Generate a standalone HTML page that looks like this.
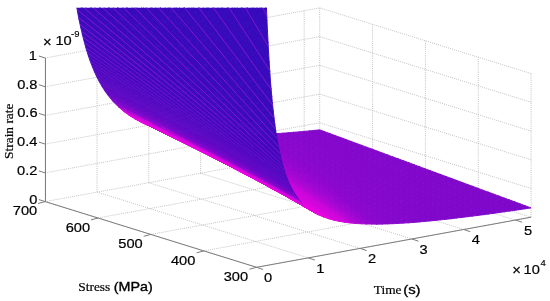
<!DOCTYPE html><html><head><meta charset="utf-8"><style>html,body{margin:0;padding:0;background:#fff;overflow:hidden}svg{display:block}</style></head><body><svg width="550" height="301" viewBox="0 0 550 301"><rect width="550" height="301" fill="#fff"/><defs><clipPath id="cp"><rect x="45.2" y="7.8" width="485.9" height="259.5"/></clipPath></defs><g stroke="#b4b4b4" stroke-width="0.8" stroke-dasharray="1 1.1" fill="none"><line x1="256.6" y1="267.3" x2="45.2" y2="201.6"/><line x1="308.4" y1="257.9" x2="97" y2="192.1"/><line x1="360.2" y1="248.4" x2="148.8" y2="182.7"/><line x1="412" y1="239" x2="200.6" y2="173.2"/><line x1="463.8" y1="229.5" x2="252.4" y2="163.8"/><line x1="515.6" y1="220.1" x2="304.2" y2="154.3"/><line x1="256.6" y1="267.3" x2="531.1" y2="217.2"/><line x1="203.8" y1="250.9" x2="478.3" y2="200.8"/><line x1="150.9" y1="234.4" x2="425.4" y2="184.4"/><line x1="98.1" y1="218" x2="372.6" y2="167.9"/><line x1="45.2" y1="201.6" x2="319.7" y2="151.5"/><line x1="45.2" y1="172.9" x2="319.7" y2="122.8"/><line x1="45.2" y1="144.1" x2="319.7" y2="94.1"/><line x1="45.2" y1="115.4" x2="319.7" y2="65.3"/><line x1="45.2" y1="86.7" x2="319.7" y2="36.6"/><line x1="45.2" y1="58" x2="319.7" y2="7.9"/><line x1="45.2" y1="201.6" x2="45.2" y2="58"/><line x1="97" y1="192.1" x2="97" y2="48.5"/><line x1="148.8" y1="182.7" x2="148.8" y2="39.1"/><line x1="200.6" y1="173.2" x2="200.6" y2="29.6"/><line x1="252.4" y1="163.8" x2="252.4" y2="20.2"/><line x1="304.2" y1="154.3" x2="304.2" y2="10.7"/><line x1="319.7" y1="151.5" x2="531.1" y2="217.2"/><line x1="319.7" y1="122.8" x2="531.1" y2="188.5"/><line x1="319.7" y1="94.1" x2="531.1" y2="159.8"/><line x1="319.7" y1="65.3" x2="531.1" y2="131.1"/><line x1="319.7" y1="36.6" x2="531.1" y2="102.3"/><line x1="319.7" y1="7.9" x2="531.1" y2="73.6"/><line x1="531.1" y1="217.2" x2="531.1" y2="73.6"/><line x1="478.3" y1="200.8" x2="478.3" y2="57.2"/><line x1="425.4" y1="184.4" x2="425.4" y2="40.8"/><line x1="372.6" y1="167.9" x2="372.6" y2="24.3"/><line x1="319.7" y1="151.5" x2="319.7" y2="7.9"/></g><g clip-path="url(#cp)" stroke-width="0.9" stroke-linejoin="round"><polygon points="319.7,132.3 325,131.8 319.7,129.8 314.4,130.4" fill="#8508cc" stroke="#8508cc"/><polygon points="325,134.3 330.3,133.7 325,131.8 319.7,132.3" fill="#8508cc" stroke="#8508cc"/><polygon points="314.4,132.8 319.7,132.3 314.4,130.4 309.1,130.9" fill="#8508cc" stroke="#8508cc"/><polygon points="330.3,136.2 335.6,135.7 330.3,133.7 325,134.3" fill="#8408cc" stroke="#8408cc"/><polygon points="319.7,134.8 325,134.3 319.7,132.3 314.4,132.8" fill="#8508cc" stroke="#8508cc"/><polygon points="309.1,133.4 314.4,132.8 309.1,130.9 303.8,131.4" fill="#8608cc" stroke="#8608cc"/><polygon points="335.6,138.2 340.9,137.6 335.6,135.7 330.3,136.2" fill="#8408cc" stroke="#8408cc"/><polygon points="325,136.8 330.3,136.2 325,134.3 319.7,134.8" fill="#8508cc" stroke="#8508cc"/><polygon points="314.4,135.3 319.7,134.8 314.4,132.8 309.1,133.4" fill="#8508cc" stroke="#8508cc"/><polygon points="303.8,133.9 309.1,133.4 303.8,131.4 298.5,131.9" fill="#8608cc" stroke="#8608cc"/><polygon points="340.9,140.2 346.2,139.6 340.9,137.6 335.6,138.2" fill="#8408cc" stroke="#8408cc"/><polygon points="330.3,138.7 335.6,138.2 330.3,136.2 325,136.8" fill="#8508cc" stroke="#8508cc"/><polygon points="319.7,137.3 325,136.8 319.7,134.8 314.4,135.3" fill="#8508cc" stroke="#8508cc"/><polygon points="309.1,135.8 314.4,135.3 309.1,133.4 303.8,133.9" fill="#8608cc" stroke="#8608cc"/><polygon points="298.5,134.3 303.8,133.9 298.5,131.9 293.2,132.3" fill="#8708cd" stroke="#8708cd"/><polygon points="346.1,142.1 351.4,141.5 346.2,139.6 340.9,140.2" fill="#8408cc" stroke="#8408cc"/><polygon points="335.5,140.7 340.9,140.2 335.6,138.2 330.3,138.7" fill="#8408cc" stroke="#8408cc"/><polygon points="325,139.3 330.3,138.7 325,136.8 319.7,137.3" fill="#8508cc" stroke="#8508cc"/><polygon points="314.4,137.8 319.7,137.3 314.4,135.3 309.1,135.8" fill="#8608cc" stroke="#8608cc"/><polygon points="303.8,136.3 309.1,135.8 303.8,133.9 298.5,134.3" fill="#8608cd" stroke="#8608cd"/><polygon points="293.2,134.8 298.5,134.3 293.2,132.3 287.9,132.8" fill="#8708cd" stroke="#8708cd"/><polygon points="351.4,144.1 356.7,143.5 351.4,141.5 346.1,142.1" fill="#8408cc" stroke="#8408cc"/><polygon points="340.8,142.7 346.1,142.1 340.9,140.2 335.5,140.7" fill="#8408cc" stroke="#8408cc"/><polygon points="330.2,141.2 335.5,140.7 330.3,138.7 325,139.3" fill="#8508cc" stroke="#8508cc"/><polygon points="319.6,139.8 325,139.3 319.7,137.3 314.4,137.8" fill="#8508cc" stroke="#8508cc"/><polygon points="309,138.3 314.4,137.8 309.1,135.8 303.8,136.3" fill="#8608cc" stroke="#8608cc"/><polygon points="298.5,136.8 303.8,136.3 298.5,134.3 293.2,134.8" fill="#8708cd" stroke="#8708cd"/><polygon points="287.9,135.2 293.2,134.8 287.9,132.8 282.6,133.2" fill="#8808cd" stroke="#8808cd"/><polygon points="356.7,146 362,145.4 356.7,143.5 351.4,144.1" fill="#8308cc" stroke="#8308cc"/><polygon points="346.1,144.6 351.4,144.1 346.1,142.1 340.8,142.7" fill="#8408cc" stroke="#8408cc"/><polygon points="335.5,143.2 340.8,142.7 335.5,140.7 330.2,141.2" fill="#8408cc" stroke="#8408cc"/><polygon points="324.9,141.8 330.2,141.2 325,139.3 319.6,139.8" fill="#8508cc" stroke="#8508cc"/><polygon points="314.3,140.3 319.6,139.8 314.4,137.8 309,138.3" fill="#8608cc" stroke="#8608cc"/><polygon points="303.7,138.8 309,138.3 303.8,136.3 298.5,136.8" fill="#8708cd" stroke="#8708cd"/><polygon points="293.1,137.2 298.5,136.8 293.2,134.8 287.9,135.2" fill="#8708cd" stroke="#8708cd"/><polygon points="282.5,135.6 287.9,135.2 282.6,133.2 277.3,133.6" fill="#8808cd" stroke="#8808cd"/><polygon points="362,148 367.3,147.4 362,145.4 356.7,146" fill="#8308cc" stroke="#8308cc"/><polygon points="351.4,146.6 356.7,146 351.4,144.1 346.1,144.6" fill="#8408cc" stroke="#8408cc"/><polygon points="340.8,145.2 346.1,144.6 340.8,142.7 335.5,143.2" fill="#8408cc" stroke="#8408cc"/><polygon points="330.2,143.7 335.5,143.2 330.2,141.2 324.9,141.8" fill="#8508cc" stroke="#8508cc"/><polygon points="319.6,142.3 324.9,141.8 319.6,139.8 314.3,140.3" fill="#8608cc" stroke="#8608cc"/><polygon points="309,140.8 314.3,140.3 309,138.3 303.7,138.8" fill="#8608cd" stroke="#8608cd"/><polygon points="298.4,139.2 303.7,138.8 298.5,136.8 293.1,137.2" fill="#8708cd" stroke="#8708cd"/><polygon points="287.8,137.6 293.1,137.2 287.9,135.2 282.5,135.6" fill="#8808cd" stroke="#8808cd"/><polygon points="277.2,136 282.5,135.6 277.3,133.6 272,134" fill="#8908cd" stroke="#8908cd"/><polygon points="367.3,149.9 372.6,149.3 367.3,147.4 362,148" fill="#8308cc" stroke="#8308cc"/><polygon points="356.7,148.6 362,148 356.7,146 351.4,146.6" fill="#8308cc" stroke="#8308cc"/><polygon points="346.1,147.2 351.4,146.6 346.1,144.6 340.8,145.2" fill="#8408cc" stroke="#8408cc"/><polygon points="335.5,145.7 340.8,145.2 335.5,143.2 330.2,143.7" fill="#8508cc" stroke="#8508cc"/><polygon points="324.9,144.3 330.2,143.7 324.9,141.8 319.6,142.3" fill="#8508cc" stroke="#8508cc"/><polygon points="314.3,142.8 319.6,142.3 314.3,140.3 309,140.8" fill="#8608cc" stroke="#8608cc"/><polygon points="303.7,141.2 309,140.8 303.7,138.8 298.4,139.2" fill="#8708cd" stroke="#8708cd"/><polygon points="293.1,139.6 298.4,139.2 293.1,137.2 287.8,137.6" fill="#8808cd" stroke="#8808cd"/><polygon points="282.5,138 287.8,137.6 282.5,135.6 277.2,136" fill="#8908cd" stroke="#8908cd"/><polygon points="271.9,136.3 277.2,136 272,134 266.6,134.3" fill="#8a08cd" stroke="#8a08cd"/><polygon points="372.6,151.9 377.9,151.3 372.6,149.3 367.3,149.9" fill="#8308cc" stroke="#8308cc"/><polygon points="362,150.5 367.3,149.9 362,148 356.7,148.6" fill="#8308cc" stroke="#8308cc"/><polygon points="351.4,149.1 356.7,148.6 351.4,146.6 346.1,147.2" fill="#8408cc" stroke="#8408cc"/><polygon points="340.8,147.7 346.1,147.2 340.8,145.2 335.5,145.7" fill="#8408cc" stroke="#8408cc"/><polygon points="330.2,146.2 335.5,145.7 330.2,143.7 324.9,144.3" fill="#8508cc" stroke="#8508cc"/><polygon points="319.6,144.7 324.9,144.3 319.6,142.3 314.3,142.8" fill="#8608cc" stroke="#8608cc"/><polygon points="309,143.2 314.3,142.8 309,140.8 303.7,141.2" fill="#8708cd" stroke="#8708cd"/><polygon points="298.4,141.6 303.7,141.2 298.4,139.2 293.1,139.6" fill="#8708cd" stroke="#8708cd"/><polygon points="287.8,140 293.1,139.6 287.8,137.6 282.5,138" fill="#8808cd" stroke="#8808cd"/><polygon points="277.2,138.4 282.5,138 277.2,136 271.9,136.3" fill="#8908cd" stroke="#8908cd"/><polygon points="266.6,136.7 271.9,136.3 266.6,134.3 261.3,134.6" fill="#8b08cd" stroke="#8b08cd"/><polygon points="377.9,153.9 383.2,153.3 377.9,151.3 372.6,151.9" fill="#8308cc" stroke="#8308cc"/><polygon points="367.3,152.5 372.6,151.9 367.3,149.9 362,150.5" fill="#8308cc" stroke="#8308cc"/><polygon points="356.7,151.1 362,150.5 356.7,148.6 351.4,149.1" fill="#8408cc" stroke="#8408cc"/><polygon points="346.1,149.7 351.4,149.1 346.1,147.2 340.8,147.7" fill="#8408cc" stroke="#8408cc"/><polygon points="335.5,148.2 340.8,147.7 335.5,145.7 330.2,146.2" fill="#8508cc" stroke="#8508cc"/><polygon points="324.9,146.7 330.2,146.2 324.9,144.3 319.6,144.7" fill="#8508cc" stroke="#8508cc"/><polygon points="314.3,145.2 319.6,144.7 314.3,142.8 309,143.2" fill="#8608cd" stroke="#8608cd"/><polygon points="303.7,143.6 309,143.2 303.7,141.2 298.4,141.6" fill="#8708cd" stroke="#8708cd"/><polygon points="293.1,142 298.4,141.6 293.1,139.6 287.8,140" fill="#8808cd" stroke="#8808cd"/><polygon points="282.5,140.4 287.8,140 282.5,138 277.2,138.4" fill="#8908cd" stroke="#8908cd"/><polygon points="271.9,138.7 277.2,138.4 271.9,136.3 266.6,136.7" fill="#8a08cd" stroke="#8a08cd"/><polygon points="261.3,136.9 266.6,136.7 261.3,134.6 256,134.9" fill="#8c07ce" stroke="#8c07ce"/><polygon points="383.1,155.8 388.4,155.2 383.2,153.3 377.9,153.9" fill="#8208cc" stroke="#8208cc"/><polygon points="372.5,154.5 377.9,153.9 372.6,151.9 367.3,152.5" fill="#8308cc" stroke="#8308cc"/><polygon points="361.9,153.1 367.3,152.5 362,150.5 356.7,151.1" fill="#8308cc" stroke="#8308cc"/><polygon points="351.4,151.7 356.7,151.1 351.4,149.1 346.1,149.7" fill="#8408cc" stroke="#8408cc"/><polygon points="340.8,150.2 346.1,149.7 340.8,147.7 335.5,148.2" fill="#8508cc" stroke="#8508cc"/><polygon points="330.2,148.7 335.5,148.2 330.2,146.2 324.9,146.7" fill="#8508cc" stroke="#8508cc"/><polygon points="319.6,147.2 324.9,146.7 319.6,144.7 314.3,145.2" fill="#8608cc" stroke="#8608cc"/><polygon points="309,145.7 314.3,145.2 309,143.2 303.7,143.6" fill="#8708cd" stroke="#8708cd"/><polygon points="298.4,144.1 303.7,143.6 298.4,141.6 293.1,142" fill="#8808cd" stroke="#8808cd"/><polygon points="287.8,142.4 293.1,142 287.8,140 282.5,140.4" fill="#8908cd" stroke="#8908cd"/><polygon points="277.2,140.7 282.5,140.4 277.2,138.4 271.9,138.7" fill="#8a08cd" stroke="#8a08cd"/><polygon points="266.6,139 271.9,138.7 266.6,136.7 261.3,136.9" fill="#8b07ce" stroke="#8b07ce"/><polygon points="256,137.2 261.3,136.9 256,134.9 250.7,135.1" fill="#8f07ce" stroke="#8f07ce"/><polygon points="388.4,157.8 393.7,157.2 388.4,155.2 383.1,155.8" fill="#8208cc" stroke="#8208cc"/><polygon points="377.8,156.4 383.1,155.8 377.9,153.9 372.5,154.5" fill="#8308cc" stroke="#8308cc"/><polygon points="367.2,155.1 372.5,154.5 367.3,152.5 361.9,153.1" fill="#8308cc" stroke="#8308cc"/><polygon points="356.6,153.6 361.9,153.1 356.7,151.1 351.4,151.7" fill="#8408cc" stroke="#8408cc"/><polygon points="346,152.2 351.4,151.7 346.1,149.7 340.8,150.2" fill="#8408cc" stroke="#8408cc"/><polygon points="335.4,150.7 340.8,150.2 335.5,148.2 330.2,148.7" fill="#8508cc" stroke="#8508cc"/><polygon points="324.9,149.2 330.2,148.7 324.9,146.7 319.6,147.2" fill="#8608cc" stroke="#8608cc"/><polygon points="314.3,147.7 319.6,147.2 314.3,145.2 309,145.7" fill="#8708cd" stroke="#8708cd"/><polygon points="303.7,146.1 309,145.7 303.7,143.6 298.4,144.1" fill="#8708cd" stroke="#8708cd"/><polygon points="293.1,144.4 298.4,144.1 293.1,142 287.8,142.4" fill="#8808cd" stroke="#8808cd"/><polygon points="282.5,142.8 287.8,142.4 282.5,140.4 277.2,140.7" fill="#8a08cd" stroke="#8a08cd"/><polygon points="271.9,141 277.2,140.7 271.9,138.7 266.6,139" fill="#8b08cd" stroke="#8b08cd"/><polygon points="261.3,139.2 266.6,139 261.3,136.9 256,137.2" fill="#8e07ce" stroke="#8e07ce"/><polygon points="250.7,137.4 256,137.2 250.7,135.1 245.4,135.3" fill="#9307cf" stroke="#9307cf"/><polygon points="393.7,159.7 399,159.1 393.7,157.2 388.4,157.8" fill="#8208cc" stroke="#8208cc"/><polygon points="383.1,158.4 388.4,157.8 383.1,155.8 377.8,156.4" fill="#8208cc" stroke="#8208cc"/><polygon points="372.5,157 377.8,156.4 372.5,154.5 367.2,155.1" fill="#8308cc" stroke="#8308cc"/><polygon points="361.9,155.6 367.2,155.1 361.9,153.1 356.6,153.6" fill="#8308cc" stroke="#8308cc"/><polygon points="351.3,154.2 356.6,153.6 351.4,151.7 346,152.2" fill="#8408cc" stroke="#8408cc"/><polygon points="340.7,152.7 346,152.2 340.8,150.2 335.4,150.7" fill="#8508cc" stroke="#8508cc"/><polygon points="330.1,151.2 335.4,150.7 330.2,148.7 324.9,149.2" fill="#8508cc" stroke="#8508cc"/><polygon points="319.5,149.7 324.9,149.2 319.6,147.2 314.3,147.7" fill="#8608cd" stroke="#8608cd"/><polygon points="308.9,148.1 314.3,147.7 309,145.7 303.7,146.1" fill="#8708cd" stroke="#8708cd"/><polygon points="298.4,146.5 303.7,146.1 298.4,144.1 293.1,144.4" fill="#8808cd" stroke="#8808cd"/><polygon points="287.8,144.8 293.1,144.4 287.8,142.4 282.5,142.8" fill="#8908cd" stroke="#8908cd"/><polygon points="277.2,143.1 282.5,142.8 277.2,140.7 271.9,141" fill="#8a08cd" stroke="#8a08cd"/><polygon points="266.6,141.3 271.9,141 266.6,139 261.3,139.2" fill="#8d07ce" stroke="#8d07ce"/><polygon points="256,139.5 261.3,139.2 256,137.2 250.7,137.4" fill="#9107cf" stroke="#9107cf"/><polygon points="245.4,137.6 250.7,137.4 245.4,135.3 240.1,135.5" fill="#9607d0" stroke="#9607d0"/><polygon points="399,161.7 404.3,161.1 399,159.1 393.7,159.7" fill="#8208cc" stroke="#8208cc"/><polygon points="388.4,160.4 393.7,159.7 388.4,157.8 383.1,158.4" fill="#8208cc" stroke="#8208cc"/><polygon points="377.8,159 383.1,158.4 377.8,156.4 372.5,157" fill="#8308cc" stroke="#8308cc"/><polygon points="367.2,157.6 372.5,157 367.2,155.1 361.9,155.6" fill="#8308cc" stroke="#8308cc"/><polygon points="356.6,156.2 361.9,155.6 356.6,153.6 351.3,154.2" fill="#8408cc" stroke="#8408cc"/><polygon points="346,154.7 351.3,154.2 346,152.2 340.7,152.7" fill="#8408cc" stroke="#8408cc"/><polygon points="335.4,153.2 340.7,152.7 335.4,150.7 330.1,151.2" fill="#8508cc" stroke="#8508cc"/><polygon points="324.8,151.7 330.1,151.2 324.9,149.2 319.5,149.7" fill="#8608cc" stroke="#8608cc"/><polygon points="314.2,150.1 319.5,149.7 314.3,147.7 308.9,148.1" fill="#8708cd" stroke="#8708cd"/><polygon points="303.6,148.5 308.9,148.1 303.7,146.1 298.4,146.5" fill="#8808cd" stroke="#8808cd"/><polygon points="293,146.8 298.4,146.5 293.1,144.4 287.8,144.8" fill="#8908cd" stroke="#8908cd"/><polygon points="282.5,145.1 287.8,144.8 282.5,142.8 277.2,143.1" fill="#8a08cd" stroke="#8a08cd"/><polygon points="271.9,143.4 277.2,143.1 271.9,141 266.6,141.3" fill="#8c07ce" stroke="#8c07ce"/><polygon points="261.3,141.5 266.6,141.3 261.3,139.2 256,139.5" fill="#9007cf" stroke="#9007cf"/><polygon points="250.7,139.6 256,139.5 250.7,137.4 245.4,137.6" fill="#9507d0" stroke="#9507d0"/><polygon points="240.1,137.7 245.4,137.6 240.1,135.5 234.8,135.6" fill="#9b07d1" stroke="#9b07d1"/><polygon points="404.3,163.7 409.6,163 404.3,161.1 399,161.7" fill="#8208cc" stroke="#8208cc"/><polygon points="393.7,162.3 399,161.7 393.7,159.7 388.4,160.4" fill="#8208cc" stroke="#8208cc"/><polygon points="383.1,161 388.4,160.4 383.1,158.4 377.8,159" fill="#8308cc" stroke="#8308cc"/><polygon points="372.5,159.6 377.8,159 372.5,157 367.2,157.6" fill="#8308cc" stroke="#8308cc"/><polygon points="361.9,158.2 367.2,157.6 361.9,155.6 356.6,156.2" fill="#8408cc" stroke="#8408cc"/><polygon points="351.3,156.7 356.6,156.2 351.3,154.2 346,154.7" fill="#8408cc" stroke="#8408cc"/><polygon points="340.7,155.2 346,154.7 340.7,152.7 335.4,153.2" fill="#8508cc" stroke="#8508cc"/><polygon points="330.1,153.7 335.4,153.2 330.1,151.2 324.8,151.7" fill="#8608cc" stroke="#8608cc"/><polygon points="319.5,152.1 324.8,151.7 319.5,149.7 314.2,150.1" fill="#8708cd" stroke="#8708cd"/><polygon points="308.9,150.5 314.2,150.1 308.9,148.1 303.6,148.5" fill="#8708cd" stroke="#8708cd"/><polygon points="298.3,148.9 303.6,148.5 298.4,146.5 293,146.8" fill="#8808cd" stroke="#8808cd"/><polygon points="287.7,147.2 293,146.8 287.8,144.8 282.5,145.1" fill="#8a08cd" stroke="#8a08cd"/><polygon points="277.1,145.4 282.5,145.1 277.2,143.1 271.9,143.4" fill="#8b08cd" stroke="#8b08cd"/><polygon points="266.5,143.6 271.9,143.4 266.6,141.3 261.3,141.5" fill="#8f07ce" stroke="#8f07ce"/><polygon points="256,141.7 261.3,141.5 256,139.5 250.7,139.6" fill="#9407cf" stroke="#9407cf"/><polygon points="245.4,139.8 250.7,139.6 245.4,137.6 240.1,137.7" fill="#9907d0" stroke="#9907d0"/><polygon points="234.8,137.8 240.1,137.7 234.8,135.6 229.5,135.7" fill="#9f07d2" stroke="#9f07d2"/><polygon points="409.6,165.6 414.9,165 409.6,163 404.3,163.7" fill="#8108cb" stroke="#8108cb"/><polygon points="399,164.3 404.3,163.7 399,161.7 393.7,162.3" fill="#8208cc" stroke="#8208cc"/><polygon points="388.4,162.9 393.7,162.3 388.4,160.4 383.1,161" fill="#8208cc" stroke="#8208cc"/><polygon points="377.8,161.6 383.1,161 377.8,159 372.5,159.6" fill="#8308cc" stroke="#8308cc"/><polygon points="367.2,160.1 372.5,159.6 367.2,157.6 361.9,158.2" fill="#8308cc" stroke="#8308cc"/><polygon points="356.6,158.7 361.9,158.2 356.6,156.2 351.3,156.7" fill="#8408cc" stroke="#8408cc"/><polygon points="346,157.2 351.3,156.7 346,154.7 340.7,155.2" fill="#8508cc" stroke="#8508cc"/><polygon points="335.4,155.7 340.7,155.2 335.4,153.2 330.1,153.7" fill="#8508cc" stroke="#8508cc"/><polygon points="324.8,154.1 330.1,153.7 324.8,151.7 319.5,152.1" fill="#8608cc" stroke="#8608cc"/><polygon points="314.2,152.6 319.5,152.1 314.2,150.1 308.9,150.5" fill="#8708cd" stroke="#8708cd"/><polygon points="303.6,150.9 308.9,150.5 303.6,148.5 298.3,148.9" fill="#8808cd" stroke="#8808cd"/><polygon points="293,149.2 298.3,148.9 293,146.8 287.7,147.2" fill="#8908cd" stroke="#8908cd"/><polygon points="282.4,147.5 287.7,147.2 282.5,145.1 277.1,145.4" fill="#8b08cd" stroke="#8b08cd"/><polygon points="271.8,145.7 277.1,145.4 271.9,143.4 266.5,143.6" fill="#8e07ce" stroke="#8e07ce"/><polygon points="261.2,143.8 266.5,143.6 261.3,141.5 256,141.7" fill="#9207cf" stroke="#9207cf"/><polygon points="250.6,141.9 256,141.7 250.7,139.6 245.4,139.8" fill="#9807d0" stroke="#9807d0"/><polygon points="240,139.9 245.4,139.8 240.1,137.7 234.8,137.8" fill="#9e07d1" stroke="#9e07d1"/><polygon points="229.5,137.8 234.8,137.8 229.5,135.7 224.2,135.7" fill="#a507d3" stroke="#a507d3"/><polygon points="414.8,167.6 420.2,166.9 414.9,165 409.6,165.6" fill="#8108cb" stroke="#8108cb"/><polygon points="404.3,166.3 409.6,165.6 404.3,163.7 399,164.3" fill="#8208cc" stroke="#8208cc"/><polygon points="393.7,164.9 399,164.3 393.7,162.3 388.4,162.9" fill="#8208cc" stroke="#8208cc"/><polygon points="383.1,163.5 388.4,162.9 383.1,161 377.8,161.6" fill="#8308cc" stroke="#8308cc"/><polygon points="372.5,162.1 377.8,161.6 372.5,159.6 367.2,160.1" fill="#8308cc" stroke="#8308cc"/><polygon points="361.9,160.7 367.2,160.1 361.9,158.2 356.6,158.7" fill="#8408cc" stroke="#8408cc"/><polygon points="351.3,159.2 356.6,158.7 351.3,156.7 346,157.2" fill="#8408cc" stroke="#8408cc"/><polygon points="340.7,157.7 346,157.2 340.7,155.2 335.4,155.7" fill="#8508cc" stroke="#8508cc"/><polygon points="330.1,156.2 335.4,155.7 330.1,153.7 324.8,154.1" fill="#8608cc" stroke="#8608cc"/><polygon points="319.5,154.6 324.8,154.1 319.5,152.1 314.2,152.6" fill="#8708cd" stroke="#8708cd"/><polygon points="308.9,152.9 314.2,152.6 308.9,150.5 303.6,150.9" fill="#8808cd" stroke="#8808cd"/><polygon points="298.3,151.3 303.6,150.9 298.3,148.9 293,149.2" fill="#8908cd" stroke="#8908cd"/><polygon points="287.7,149.5 293,149.2 287.7,147.2 282.4,147.5" fill="#8a08cd" stroke="#8a08cd"/><polygon points="277.1,147.7 282.4,147.5 277.1,145.4 271.8,145.7" fill="#8d07ce" stroke="#8d07ce"/><polygon points="266.5,145.9 271.8,145.7 266.5,143.6 261.2,143.8" fill="#9107cf" stroke="#9107cf"/><polygon points="255.9,144 261.2,143.8 256,141.7 250.6,141.9" fill="#9607d0" stroke="#9607d0"/><polygon points="245.3,142 250.6,141.9 245.4,139.8 240,139.9" fill="#9c07d1" stroke="#9c07d1"/><polygon points="234.7,139.9 240,139.9 234.8,137.8 229.5,137.8" fill="#a307d2" stroke="#a307d2"/><polygon points="420.1,169.5 425.4,168.9 420.2,166.9 414.8,167.6" fill="#8108cb" stroke="#8108cb"/><polygon points="224.1,137.8 229.5,137.8 224.2,135.7 218.9,135.6" fill="#ab07d4" stroke="#ab07d4"/><polygon points="409.5,168.2 414.8,167.6 409.6,165.6 404.3,166.3" fill="#8108cb" stroke="#8108cb"/><polygon points="398.9,166.9 404.3,166.3 399,164.3 393.7,164.9" fill="#8208cc" stroke="#8208cc"/><polygon points="388.3,165.5 393.7,164.9 388.4,162.9 383.1,163.5" fill="#8208cc" stroke="#8208cc"/><polygon points="377.8,164.1 383.1,163.5 377.8,161.6 372.5,162.1" fill="#8308cc" stroke="#8308cc"/><polygon points="367.2,162.7 372.5,162.1 367.2,160.1 361.9,160.7" fill="#8408cc" stroke="#8408cc"/><polygon points="356.6,161.2 361.9,160.7 356.6,158.7 351.3,159.2" fill="#8408cc" stroke="#8408cc"/><polygon points="346,159.7 351.3,159.2 346,157.2 340.7,157.7" fill="#8508cc" stroke="#8508cc"/><polygon points="335.4,158.2 340.7,157.7 335.4,155.7 330.1,156.2" fill="#8608cc" stroke="#8608cc"/><polygon points="324.8,156.6 330.1,156.2 324.8,154.1 319.5,154.6" fill="#8708cd" stroke="#8708cd"/><polygon points="314.2,155 319.5,154.6 314.2,152.6 308.9,152.9" fill="#8708cd" stroke="#8708cd"/><polygon points="303.6,153.3 308.9,152.9 303.6,150.9 298.3,151.3" fill="#8908cd" stroke="#8908cd"/><polygon points="293,151.6 298.3,151.3 293,149.2 287.7,149.5" fill="#8a08cd" stroke="#8a08cd"/><polygon points="282.4,149.8 287.7,149.5 282.4,147.5 277.1,147.7" fill="#8b07ce" stroke="#8b07ce"/><polygon points="271.8,148 277.1,147.7 271.8,145.7 266.5,145.9" fill="#9007ce" stroke="#9007ce"/><polygon points="261.2,146.1 266.5,145.9 261.2,143.8 255.9,144" fill="#9507d0" stroke="#9507d0"/><polygon points="250.6,144.1 255.9,144 250.6,141.9 245.3,142" fill="#9a07d1" stroke="#9a07d1"/><polygon points="240,142 245.3,142 240,139.9 234.7,139.9" fill="#a107d2" stroke="#a107d2"/><polygon points="425.4,171.5 430.7,170.8 425.4,168.9 420.1,169.5" fill="#8108cb" stroke="#8108cb"/><polygon points="229.4,139.9 234.7,139.9 229.5,137.8 224.1,137.8" fill="#a907d4" stroke="#a907d4"/><polygon points="414.8,170.2 420.1,169.5 414.8,167.6 409.5,168.2" fill="#8108cb" stroke="#8108cb"/><polygon points="404.2,168.9 409.5,168.2 404.3,166.3 398.9,166.9" fill="#8208cc" stroke="#8208cc"/><polygon points="218.8,137.7 224.1,137.8 218.9,135.6 213.6,135.5" fill="#b106d6" stroke="#b106d6"/><polygon points="393.6,167.5 398.9,166.9 393.7,164.9 388.3,165.5" fill="#8208cc" stroke="#8208cc"/><polygon points="383,166.1 388.3,165.5 383.1,163.5 377.8,164.1" fill="#8308cc" stroke="#8308cc"/><polygon points="372.4,164.7 377.8,164.1 372.5,162.1 367.2,162.7" fill="#8308cc" stroke="#8308cc"/><polygon points="361.8,163.2 367.2,162.7 361.9,160.7 356.6,161.2" fill="#8408cc" stroke="#8408cc"/><polygon points="351.3,161.7 356.6,161.2 351.3,159.2 346,159.7" fill="#8508cc" stroke="#8508cc"/><polygon points="340.7,160.2 346,159.7 340.7,157.7 335.4,158.2" fill="#8508cc" stroke="#8508cc"/><polygon points="330.1,158.6 335.4,158.2 330.1,156.2 324.8,156.6" fill="#8608cc" stroke="#8608cc"/><polygon points="319.5,157 324.8,156.6 319.5,154.6 314.2,155" fill="#8708cd" stroke="#8708cd"/><polygon points="308.9,155.4 314.2,155 308.9,152.9 303.6,153.3" fill="#8808cd" stroke="#8808cd"/><polygon points="298.3,153.6 303.6,153.3 298.3,151.3 293,151.6" fill="#8908cd" stroke="#8908cd"/><polygon points="287.7,151.9 293,151.6 287.7,149.5 282.4,149.8" fill="#8b08cd" stroke="#8b08cd"/><polygon points="277.1,150 282.4,149.8 277.1,147.7 271.8,148" fill="#8e07ce" stroke="#8e07ce"/><polygon points="266.5,148.2 271.8,148 266.5,145.9 261.2,146.1" fill="#9307cf" stroke="#9307cf"/><polygon points="255.9,146.2 261.2,146.1 255.9,144 250.6,144.1" fill="#9907d0" stroke="#9907d0"/><polygon points="245.3,144.2 250.6,144.1 245.3,142 240,142" fill="#9f07d2" stroke="#9f07d2"/><polygon points="430.7,173.5 436,172.8 430.7,170.8 425.4,171.5" fill="#8108cb" stroke="#8108cb"/><polygon points="234.7,142 240,142 234.7,139.9 229.4,139.9" fill="#a707d3" stroke="#a707d3"/><polygon points="420.1,172.2 425.4,171.5 420.1,169.5 414.8,170.2" fill="#8108cb" stroke="#8108cb"/><polygon points="409.5,170.8 414.8,170.2 409.5,168.2 404.2,168.9" fill="#8108cc" stroke="#8108cc"/><polygon points="224.1,139.8 229.4,139.9 224.1,137.8 218.8,137.7" fill="#af07d5" stroke="#af07d5"/><polygon points="398.9,169.5 404.2,168.9 398.9,166.9 393.6,167.5" fill="#8208cc" stroke="#8208cc"/><polygon points="213.5,137.5 218.8,137.7 213.6,135.5 208.2,135.3" fill="#b906d7" stroke="#b906d7"/><polygon points="388.3,168.1 393.6,167.5 388.3,165.5 383,166.1" fill="#8208cc" stroke="#8208cc"/><polygon points="377.7,166.7 383,166.1 377.8,164.1 372.4,164.7" fill="#8308cc" stroke="#8308cc"/><polygon points="367.1,165.2 372.4,164.7 367.2,162.7 361.8,163.2" fill="#8408cc" stroke="#8408cc"/><polygon points="356.5,163.7 361.8,163.2 356.6,161.2 351.3,161.7" fill="#8408cc" stroke="#8408cc"/><polygon points="345.9,162.2 351.3,161.7 346,159.7 340.7,160.2" fill="#8508cc" stroke="#8508cc"/><polygon points="335.3,160.7 340.7,160.2 335.4,158.2 330.1,158.6" fill="#8608cc" stroke="#8608cc"/><polygon points="324.8,159.1 330.1,158.6 324.8,156.6 319.5,157" fill="#8708cd" stroke="#8708cd"/><polygon points="314.2,157.4 319.5,157 314.2,155 308.9,155.4" fill="#8808cd" stroke="#8808cd"/><polygon points="303.6,155.7 308.9,155.4 303.6,153.3 298.3,153.6" fill="#8908cd" stroke="#8908cd"/><polygon points="293,153.9 298.3,153.6 293,151.6 287.7,151.9" fill="#8a08cd" stroke="#8a08cd"/><polygon points="282.4,152.1 287.7,151.9 282.4,149.8 277.1,150" fill="#8d07ce" stroke="#8d07ce"/><polygon points="271.8,150.2 277.1,150 271.8,148 266.5,148.2" fill="#9207cf" stroke="#9207cf"/><polygon points="261.2,148.3 266.5,148.2 261.2,146.1 255.9,146.2" fill="#9707d0" stroke="#9707d0"/><polygon points="250.6,146.3 255.9,146.2 250.6,144.1 245.3,144.2" fill="#9e07d1" stroke="#9e07d1"/><polygon points="436,175.4 441.3,174.7 436,172.8 430.7,173.5" fill="#8008cb" stroke="#8008cb"/><polygon points="240,144.2 245.3,144.2 240,142 234.7,142" fill="#a507d3" stroke="#a507d3"/><polygon points="425.4,174.1 430.7,173.5 425.4,171.5 420.1,172.2" fill="#8108cb" stroke="#8108cb"/><polygon points="414.8,172.8 420.1,172.2 414.8,170.2 409.5,170.8" fill="#8108cb" stroke="#8108cb"/><polygon points="229.4,142 234.7,142 229.4,139.9 224.1,139.8" fill="#ad07d5" stroke="#ad07d5"/><polygon points="404.2,171.4 409.5,170.8 404.2,168.9 398.9,169.5" fill="#8208cc" stroke="#8208cc"/><polygon points="218.8,139.7 224.1,139.8 218.8,137.7 213.5,137.5" fill="#b706d7" stroke="#b706d7"/><polygon points="393.6,170.1 398.9,169.5 393.6,167.5 388.3,168.1" fill="#8208cc" stroke="#8208cc"/><polygon points="208.2,137.3 213.5,137.5 208.2,135.3 202.9,135.1" fill="#c306d9" stroke="#c306d9"/><polygon points="383,168.7 388.3,168.1 383,166.1 377.7,166.7" fill="#8308cc" stroke="#8308cc"/><polygon points="372.4,167.2 377.7,166.7 372.4,164.7 367.1,165.2" fill="#8308cc" stroke="#8308cc"/><polygon points="361.8,165.8 367.1,165.2 361.8,163.2 356.5,163.7" fill="#8408cc" stroke="#8408cc"/><polygon points="351.2,164.2 356.5,163.7 351.3,161.7 345.9,162.2" fill="#8508cc" stroke="#8508cc"/><polygon points="340.6,162.7 345.9,162.2 340.7,160.2 335.3,160.7" fill="#8608cc" stroke="#8608cc"/><polygon points="330,161.1 335.3,160.7 330.1,158.6 324.8,159.1" fill="#8608cd" stroke="#8608cd"/><polygon points="319.4,159.4 324.8,159.1 319.5,157 314.2,157.4" fill="#8708cd" stroke="#8708cd"/><polygon points="308.9,157.8 314.2,157.4 308.9,155.4 303.6,155.7" fill="#8908cd" stroke="#8908cd"/><polygon points="298.3,156 303.6,155.7 298.3,153.6 293,153.9" fill="#8a08cd" stroke="#8a08cd"/><polygon points="287.7,154.2 293,153.9 287.7,151.9 282.4,152.1" fill="#8c07ce" stroke="#8c07ce"/><polygon points="277.1,152.3 282.4,152.1 277.1,150 271.8,150.2" fill="#9007cf" stroke="#9007cf"/><polygon points="266.5,150.4 271.8,150.2 266.5,148.2 261.2,148.3" fill="#9607d0" stroke="#9607d0"/><polygon points="255.9,148.4 261.2,148.3 255.9,146.2 250.6,146.3" fill="#9c07d1" stroke="#9c07d1"/><polygon points="441.3,177.4 446.6,176.7 441.3,174.7 436,175.4" fill="#8008cb" stroke="#8008cb"/><polygon points="245.3,146.3 250.6,146.3 245.3,144.2 240,144.2" fill="#a307d3" stroke="#a307d3"/><polygon points="430.7,176.1 436,175.4 430.7,173.5 425.4,174.1" fill="#8108cb" stroke="#8108cb"/><polygon points="234.7,144.1 240,144.2 234.7,142 229.4,142" fill="#ab07d4" stroke="#ab07d4"/><polygon points="420.1,174.8 425.4,174.1 420.1,172.2 414.8,172.8" fill="#8108cb" stroke="#8108cb"/><polygon points="409.5,173.4 414.8,172.8 409.5,170.8 404.2,171.4" fill="#8208cc" stroke="#8208cc"/><polygon points="224.1,141.8 229.4,142 224.1,139.8 218.8,139.7" fill="#b506d6" stroke="#b506d6"/><polygon points="398.9,172.1 404.2,171.4 398.9,169.5 393.6,170.1" fill="#8208cc" stroke="#8208cc"/><polygon points="213.5,139.4 218.8,139.7 213.5,137.5 208.2,137.3" fill="#c006d9" stroke="#c006d9"/><polygon points="388.3,170.7 393.6,170.1 388.3,168.1 383,168.7" fill="#8308cc" stroke="#8308cc"/><polygon points="202.9,136.9 208.2,137.3 202.9,135.1 197.6,134.7" fill="#cc06db" stroke="#cc06db"/><polygon points="377.7,169.2 383,168.7 377.7,166.7 372.4,167.2" fill="#8308cc" stroke="#8308cc"/><polygon points="367.1,167.8 372.4,167.2 367.1,165.2 361.8,165.8" fill="#8408cc" stroke="#8408cc"/><polygon points="356.5,166.3 361.8,165.8 356.5,163.7 351.2,164.2" fill="#8408cc" stroke="#8408cc"/><polygon points="345.9,164.7 351.2,164.2 345.9,162.2 340.6,162.7" fill="#8508cc" stroke="#8508cc"/><polygon points="335.3,163.1 340.6,162.7 335.3,160.7 330,161.1" fill="#8608cc" stroke="#8608cc"/><polygon points="324.7,161.5 330,161.1 324.8,159.1 319.4,159.4" fill="#8708cd" stroke="#8708cd"/><polygon points="314.1,159.8 319.4,159.4 314.2,157.4 308.9,157.8" fill="#8808cd" stroke="#8808cd"/><polygon points="303.5,158.1 308.9,157.8 303.6,155.7 298.3,156" fill="#8908cd" stroke="#8908cd"/><polygon points="292.9,156.3 298.3,156 293,153.9 287.7,154.2" fill="#8b08cd" stroke="#8b08cd"/><polygon points="282.4,154.4 287.7,154.2 282.4,152.1 277.1,152.3" fill="#8f07ce" stroke="#8f07ce"/><polygon points="271.8,152.5 277.1,152.3 271.8,150.2 266.5,150.4" fill="#9407cf" stroke="#9407cf"/><polygon points="261.2,150.5 266.5,150.4 261.2,148.3 255.9,148.4" fill="#9a07d1" stroke="#9a07d1"/><polygon points="446.6,179.3 451.9,178.6 446.6,176.7 441.3,177.4" fill="#8008cb" stroke="#8008cb"/><polygon points="250.6,148.4 255.9,148.4 250.6,146.3 245.3,146.3" fill="#a107d2" stroke="#a107d2"/><polygon points="436,178 441.3,177.4 436,175.4 430.7,176.1" fill="#8008cb" stroke="#8008cb"/><polygon points="240,146.3 245.3,146.3 240,144.2 234.7,144.1" fill="#a907d4" stroke="#a907d4"/><polygon points="425.4,176.7 430.7,176.1 425.4,174.1 420.1,174.8" fill="#8108cb" stroke="#8108cb"/><polygon points="414.8,175.4 420.1,174.8 414.8,172.8 409.5,173.4" fill="#8108cb" stroke="#8108cb"/><polygon points="229.4,144 234.7,144.1 229.4,142 224.1,141.8" fill="#b206d6" stroke="#b206d6"/><polygon points="404.2,174 409.5,173.4 404.2,171.4 398.9,172.1" fill="#8208cc" stroke="#8208cc"/><polygon points="218.8,141.6 224.1,141.8 218.8,139.7 213.5,139.4" fill="#bd06d8" stroke="#bd06d8"/><polygon points="393.6,172.7 398.9,172.1 393.6,170.1 388.3,170.7" fill="#8208cc" stroke="#8208cc"/><polygon points="208.2,139.1 213.5,139.4 208.2,137.3 202.9,136.9" fill="#ca06db" stroke="#ca06db"/><polygon points="383,171.2 388.3,170.7 383,168.7 377.7,169.2" fill="#8308cc" stroke="#8308cc"/><polygon points="197.6,136.5 202.9,136.9 197.6,134.7 192.3,134.3" fill="#ce06dc" stroke="#ce06dc"/><polygon points="372.4,169.8 377.7,169.2 372.4,167.2 367.1,167.8" fill="#8408cc" stroke="#8408cc"/><polygon points="361.8,168.3 367.1,167.8 361.8,165.8 356.5,166.3" fill="#8408cc" stroke="#8408cc"/><polygon points="351.2,166.7 356.5,166.3 351.2,164.2 345.9,164.7" fill="#8508cc" stroke="#8508cc"/><polygon points="340.6,165.2 345.9,164.7 340.6,162.7 335.3,163.1" fill="#8608cc" stroke="#8608cc"/><polygon points="330,163.5 335.3,163.1 330,161.1 324.7,161.5" fill="#8708cd" stroke="#8708cd"/><polygon points="319.4,161.9 324.7,161.5 319.4,159.4 314.1,159.8" fill="#8808cd" stroke="#8808cd"/><polygon points="308.8,160.1 314.1,159.8 308.9,157.8 303.5,158.1" fill="#8908cd" stroke="#8908cd"/><polygon points="298.2,158.4 303.5,158.1 298.3,156 292.9,156.3" fill="#8a08cd" stroke="#8a08cd"/><polygon points="287.6,156.5 292.9,156.3 287.7,154.2 282.4,154.4" fill="#8e07ce" stroke="#8e07ce"/><polygon points="277,154.6 282.4,154.4 277.1,152.3 271.8,152.5" fill="#9307cf" stroke="#9307cf"/><polygon points="266.4,152.6 271.8,152.5 266.5,150.4 261.2,150.5" fill="#9907d0" stroke="#9907d0"/><polygon points="451.8,181.3 457.1,180.6 451.9,178.6 446.6,179.3" fill="#8008cb" stroke="#8008cb"/><polygon points="255.9,150.6 261.2,150.5 255.9,148.4 250.6,148.4" fill="#9f07d2" stroke="#9f07d2"/><polygon points="441.2,180 446.6,179.3 441.3,177.4 436,178" fill="#8008cb" stroke="#8008cb"/><polygon points="245.3,148.4 250.6,148.4 245.3,146.3 240,146.3" fill="#a707d3" stroke="#a707d3"/><polygon points="430.7,178.7 436,178 430.7,176.1 425.4,176.7" fill="#8108cb" stroke="#8108cb"/><polygon points="420.1,177.4 425.4,176.7 420.1,174.8 414.8,175.4" fill="#8108cb" stroke="#8108cb"/><polygon points="234.7,146.2 240,146.3 234.7,144.1 229.4,144" fill="#b007d5" stroke="#b007d5"/><polygon points="409.5,176 414.8,175.4 409.5,173.4 404.2,174" fill="#8208cc" stroke="#8208cc"/><polygon points="224.1,143.8 229.4,144 224.1,141.8 218.8,141.6" fill="#bb06d7" stroke="#bb06d7"/><polygon points="398.9,174.6 404.2,174 398.9,172.1 393.6,172.7" fill="#8208cc" stroke="#8208cc"/><polygon points="213.5,141.3 218.8,141.6 213.5,139.4 208.2,139.1" fill="#c706da" stroke="#c706da"/><polygon points="388.3,173.2 393.6,172.7 388.3,170.7 383,171.2" fill="#8308cc" stroke="#8308cc"/><polygon points="202.9,138.7 208.2,139.1 202.9,136.9 197.6,136.5" fill="#ce06dc" stroke="#ce06dc"/><polygon points="377.7,171.8 383,171.2 377.7,169.2 372.4,169.8" fill="#8308cc" stroke="#8308cc"/><polygon points="367.1,170.3 372.4,169.8 367.1,167.8 361.8,168.3" fill="#8408cc" stroke="#8408cc"/><polygon points="192.3,136 197.6,136.5 192.3,134.3 187,133.7" fill="#d106dc" stroke="#d106dc"/><polygon points="356.5,168.8 361.8,168.3 356.5,166.3 351.2,166.7" fill="#8508cc" stroke="#8508cc"/><polygon points="345.9,167.2 351.2,166.7 345.9,164.7 340.6,165.2" fill="#8608cc" stroke="#8608cc"/><polygon points="335.3,165.6 340.6,165.2 335.3,163.1 330,163.5" fill="#8608cd" stroke="#8608cd"/><polygon points="324.7,163.9 330,163.5 324.7,161.5 319.4,161.9" fill="#8708cd" stroke="#8708cd"/><polygon points="314.1,162.2 319.4,161.9 314.1,159.8 308.8,160.1" fill="#8908cd" stroke="#8908cd"/><polygon points="303.5,160.4 308.8,160.1 303.5,158.1 298.2,158.4" fill="#8a08cd" stroke="#8a08cd"/><polygon points="292.9,158.6 298.2,158.4 292.9,156.3 287.6,156.5" fill="#8c07ce" stroke="#8c07ce"/><polygon points="282.3,156.7 287.6,156.5 282.4,154.4 277,154.6" fill="#9107cf" stroke="#9107cf"/><polygon points="271.7,154.7 277,154.6 271.8,152.5 266.4,152.6" fill="#9707d0" stroke="#9707d0"/><polygon points="457.1,183.2 462.4,182.5 457.1,180.6 451.8,181.3" fill="#8008cb" stroke="#8008cb"/><polygon points="261.1,152.7 266.4,152.6 261.2,150.5 255.9,150.6" fill="#9d07d1" stroke="#9d07d1"/><polygon points="446.5,182 451.8,181.3 446.6,179.3 441.2,180" fill="#8008cb" stroke="#8008cb"/><polygon points="250.5,150.6 255.9,150.6 250.6,148.4 245.3,148.4" fill="#a507d3" stroke="#a507d3"/><polygon points="435.9,180.7 441.2,180 436,178 430.7,178.7" fill="#8008cb" stroke="#8008cb"/><polygon points="425.3,179.4 430.7,178.7 425.4,176.7 420.1,177.4" fill="#8108cb" stroke="#8108cb"/><polygon points="240,148.3 245.3,148.4 240,146.3 234.7,146.2" fill="#ae07d5" stroke="#ae07d5"/><polygon points="414.7,178 420.1,177.4 414.8,175.4 409.5,176" fill="#8108cb" stroke="#8108cb"/><polygon points="229.4,146 234.7,146.2 229.4,144 224.1,143.8" fill="#b806d7" stroke="#b806d7"/><polygon points="404.2,176.6 409.5,176 404.2,174 398.9,174.6" fill="#8208cc" stroke="#8208cc"/><polygon points="218.8,143.5 224.1,143.8 218.8,141.6 213.5,141.3" fill="#c406da" stroke="#c406da"/><polygon points="393.6,175.2 398.9,174.6 393.6,172.7 388.3,173.2" fill="#8208cc" stroke="#8208cc"/><polygon points="208.2,141 213.5,141.3 208.2,139.1 202.9,138.7" fill="#cd06db" stroke="#cd06db"/><polygon points="383,173.8 388.3,173.2 383,171.2 377.7,171.8" fill="#8308cc" stroke="#8308cc"/><polygon points="372.4,172.3 377.7,171.8 372.4,169.8 367.1,170.3" fill="#8408cc" stroke="#8408cc"/><polygon points="197.6,138.2 202.9,138.7 197.6,136.5 192.3,136" fill="#d006dc" stroke="#d006dc"/><polygon points="361.8,170.8 367.1,170.3 361.8,168.3 356.5,168.8" fill="#8408cc" stroke="#8408cc"/><polygon points="187,135.3 192.3,136 187,133.7 181.7,133.1" fill="#d406dd" stroke="#d406dd"/><polygon points="351.2,169.2 356.5,168.8 351.2,166.7 345.9,167.2" fill="#8508cc" stroke="#8508cc"/><polygon points="340.6,167.6 345.9,167.2 340.6,165.2 335.3,165.6" fill="#8608cc" stroke="#8608cc"/><polygon points="330,166 335.3,165.6 330,163.5 324.7,163.9" fill="#8708cd" stroke="#8708cd"/><polygon points="319.4,164.3 324.7,163.9 319.4,161.9 314.1,162.2" fill="#8808cd" stroke="#8808cd"/><polygon points="308.8,162.5 314.1,162.2 308.8,160.1 303.5,160.4" fill="#8a08cd" stroke="#8a08cd"/><polygon points="298.2,160.7 303.5,160.4 298.2,158.4 292.9,158.6" fill="#8b07ce" stroke="#8b07ce"/><polygon points="287.6,158.8 292.9,158.6 287.6,156.5 282.3,156.7" fill="#9007cf" stroke="#9007cf"/><polygon points="277,156.9 282.3,156.7 277,154.6 271.7,154.7" fill="#9507d0" stroke="#9507d0"/><polygon points="462.4,185.2 467.7,184.5 462.4,182.5 457.1,183.2" fill="#8008cb" stroke="#8008cb"/><polygon points="266.4,154.8 271.7,154.7 266.4,152.6 261.1,152.7" fill="#9c07d1" stroke="#9c07d1"/><polygon points="451.8,183.9 457.1,183.2 451.8,181.3 446.5,182" fill="#8008cb" stroke="#8008cb"/><polygon points="255.8,152.7 261.1,152.7 255.9,150.6 250.5,150.6" fill="#a307d3" stroke="#a307d3"/><polygon points="441.2,182.7 446.5,182 441.2,180 435.9,180.7" fill="#8008cb" stroke="#8008cb"/><polygon points="430.6,181.3 435.9,180.7 430.7,178.7 425.3,179.4" fill="#8108cb" stroke="#8108cb"/><polygon points="245.2,150.5 250.5,150.6 245.3,148.4 240,148.3" fill="#ac07d4" stroke="#ac07d4"/><polygon points="420,180 425.3,179.4 420.1,177.4 414.7,178" fill="#8108cb" stroke="#8108cb"/><polygon points="234.6,148.2 240,148.3 234.7,146.2 229.4,146" fill="#b606d6" stroke="#b606d6"/><polygon points="409.4,178.6 414.7,178 409.5,176 404.2,176.6" fill="#8208cc" stroke="#8208cc"/><polygon points="224,145.7 229.4,146 224.1,143.8 218.8,143.5" fill="#c206d9" stroke="#c206d9"/><polygon points="398.8,177.2 404.2,176.6 398.9,174.6 393.6,175.2" fill="#8208cc" stroke="#8208cc"/><polygon points="213.5,143.2 218.8,143.5 213.5,141.3 208.2,141" fill="#cd06db" stroke="#cd06db"/><polygon points="388.2,175.8 393.6,175.2 388.3,173.2 383,173.8" fill="#8308cc" stroke="#8308cc"/><polygon points="377.7,174.3 383,173.8 377.7,171.8 372.4,172.3" fill="#8308cc" stroke="#8308cc"/><polygon points="202.9,140.5 208.2,141 202.9,138.7 197.6,138.2" fill="#d006dc" stroke="#d006dc"/><polygon points="367.1,172.8 372.4,172.3 367.1,170.3 361.8,170.8" fill="#8408cc" stroke="#8408cc"/><polygon points="192.3,137.6 197.6,138.2 192.3,136 187,135.3" fill="#d306dd" stroke="#d306dd"/><polygon points="356.5,171.3 361.8,170.8 356.5,168.8 351.2,169.2" fill="#8508cc" stroke="#8508cc"/><polygon points="181.7,134.6 187,135.3 181.7,133.1 176.4,132.3" fill="#d805de" stroke="#d805de"/><polygon points="345.9,169.7 351.2,169.2 345.9,167.2 340.6,167.6" fill="#8608cc" stroke="#8608cc"/><polygon points="335.3,168 340.6,167.6 335.3,165.6 330,166" fill="#8708cd" stroke="#8708cd"/><polygon points="324.7,166.3 330,166 324.7,163.9 319.4,164.3" fill="#8808cd" stroke="#8808cd"/><polygon points="314.1,164.6 319.4,164.3 314.1,162.2 308.8,162.5" fill="#8908cd" stroke="#8908cd"/><polygon points="303.5,162.8 308.8,162.5 303.5,160.4 298.2,160.7" fill="#8b08cd" stroke="#8b08cd"/><polygon points="292.9,160.9 298.2,160.7 292.9,158.6 287.6,158.8" fill="#8e07ce" stroke="#8e07ce"/><polygon points="282.3,159 287.6,158.8 282.3,156.7 277,156.9" fill="#9407cf" stroke="#9407cf"/><polygon points="467.7,187.2 473,186.4 467.7,184.5 462.4,185.2" fill="#7f08cb" stroke="#7f08cb"/><polygon points="271.7,157 277,156.9 271.7,154.7 266.4,154.8" fill="#9a07d1" stroke="#9a07d1"/><polygon points="457.1,185.9 462.4,185.2 457.1,183.2 451.8,183.9" fill="#8008cb" stroke="#8008cb"/><polygon points="261.1,154.9 266.4,154.8 261.1,152.7 255.8,152.7" fill="#a107d2" stroke="#a107d2"/><polygon points="446.5,184.6 451.8,183.9 446.5,182 441.2,182.7" fill="#8008cb" stroke="#8008cb"/><polygon points="250.5,152.7 255.8,152.7 250.5,150.6 245.2,150.5" fill="#a907d4" stroke="#a907d4"/><polygon points="435.9,183.3 441.2,182.7 435.9,180.7 430.6,181.3" fill="#8008cb" stroke="#8008cb"/><polygon points="425.3,182 430.6,181.3 425.3,179.4 420,180" fill="#8108cb" stroke="#8108cb"/><polygon points="239.9,150.4 245.2,150.5 240,148.3 234.6,148.2" fill="#b306d6" stroke="#b306d6"/><polygon points="414.7,180.6 420,180 414.7,178 409.4,178.6" fill="#8108cb" stroke="#8108cb"/><polygon points="229.3,147.9 234.6,148.2 229.4,146 224,145.7" fill="#bf06d8" stroke="#bf06d8"/><polygon points="404.1,179.2 409.4,178.6 404.2,176.6 398.8,177.2" fill="#8208cc" stroke="#8208cc"/><polygon points="218.7,145.4 224,145.7 218.8,143.5 213.5,143.2" fill="#cc06db" stroke="#cc06db"/><polygon points="393.5,177.8 398.8,177.2 393.6,175.2 388.2,175.8" fill="#8208cc" stroke="#8208cc"/><polygon points="208.1,142.7 213.5,143.2 208.2,141 202.9,140.5" fill="#cf06dc" stroke="#cf06dc"/><polygon points="382.9,176.3 388.2,175.8 383,173.8 377.7,174.3" fill="#8308cc" stroke="#8308cc"/><polygon points="372.3,174.8 377.7,174.3 372.4,172.3 367.1,172.8" fill="#8408cc" stroke="#8408cc"/><polygon points="197.5,139.9 202.9,140.5 197.6,138.2 192.3,137.6" fill="#d206dc" stroke="#d206dc"/><polygon points="361.8,173.3 367.1,172.8 361.8,170.8 356.5,171.3" fill="#8508cc" stroke="#8508cc"/><polygon points="187,136.9 192.3,137.6 187,135.3 181.7,134.6" fill="#d705dd" stroke="#d705dd"/><polygon points="351.2,171.7 356.5,171.3 351.2,169.2 345.9,169.7" fill="#8508cc" stroke="#8508cc"/><polygon points="176.4,133.7 181.7,134.6 176.4,132.3 171.1,131.3" fill="#dc05df" stroke="#dc05df"/><polygon points="340.6,170.1 345.9,169.7 340.6,167.6 335.3,168" fill="#8608cd" stroke="#8608cd"/><polygon points="330,168.4 335.3,168 330,166 324.7,166.3" fill="#8708cd" stroke="#8708cd"/><polygon points="319.4,166.7 324.7,166.3 319.4,164.3 314.1,164.6" fill="#8908cd" stroke="#8908cd"/><polygon points="308.8,164.9 314.1,164.6 308.8,162.5 303.5,162.8" fill="#8a08cd" stroke="#8a08cd"/><polygon points="298.2,163 303.5,162.8 298.2,160.7 292.9,160.9" fill="#8d07ce" stroke="#8d07ce"/><polygon points="287.6,161.1 292.9,160.9 287.6,158.8 282.3,159" fill="#9207cf" stroke="#9207cf"/><polygon points="473,189.1 478.3,188.4 473,186.4 467.7,187.2" fill="#7f08cb" stroke="#7f08cb"/><polygon points="277,159.1 282.3,159 277,156.9 271.7,157" fill="#9807d0" stroke="#9807d0"/><polygon points="462.4,187.9 467.7,187.2 462.4,185.2 457.1,185.9" fill="#7f08cb" stroke="#7f08cb"/><polygon points="266.4,157 271.7,157 266.4,154.8 261.1,154.9" fill="#9f07d2" stroke="#9f07d2"/><polygon points="451.8,186.6 457.1,185.9 451.8,183.9 446.5,184.6" fill="#8008cb" stroke="#8008cb"/><polygon points="255.8,154.8 261.1,154.9 255.8,152.7 250.5,152.7" fill="#a707d3" stroke="#a707d3"/><polygon points="441.2,185.3 446.5,184.6 441.2,182.7 435.9,183.3" fill="#8008cb" stroke="#8008cb"/><polygon points="430.6,184 435.9,183.3 430.6,181.3 425.3,182" fill="#8108cb" stroke="#8108cb"/><polygon points="245.2,152.5 250.5,152.7 245.2,150.5 239.9,150.4" fill="#b106d5" stroke="#b106d5"/><polygon points="420,182.6 425.3,182 420,180 414.7,180.6" fill="#8108cb" stroke="#8108cb"/><polygon points="234.6,150.1 239.9,150.4 234.6,148.2 229.3,147.9" fill="#bc06d8" stroke="#bc06d8"/><polygon points="409.4,181.2 414.7,180.6 409.4,178.6 404.1,179.2" fill="#8208cc" stroke="#8208cc"/><polygon points="224,147.6 229.3,147.9 224,145.7 218.7,145.4" fill="#ca06db" stroke="#ca06db"/><polygon points="398.8,179.8 404.1,179.2 398.8,177.2 393.5,177.8" fill="#8208cc" stroke="#8208cc"/><polygon points="213.4,145 218.7,145.4 213.5,143.2 208.1,142.7" fill="#ce06dc" stroke="#ce06dc"/><polygon points="388.2,178.4 393.5,177.8 388.2,175.8 382.9,176.3" fill="#8308cc" stroke="#8308cc"/><polygon points="377.6,176.9 382.9,176.3 377.7,174.3 372.3,174.8" fill="#8308cc" stroke="#8308cc"/><polygon points="202.8,142.1 208.1,142.7 202.9,140.5 197.5,139.9" fill="#d206dc" stroke="#d206dc"/><polygon points="367,175.3 372.3,174.8 367.1,172.8 361.8,173.3" fill="#8408cc" stroke="#8408cc"/><polygon points="192.2,139.2 197.5,139.9 192.3,137.6 187,136.9" fill="#d605dd" stroke="#d605dd"/><polygon points="356.4,173.8 361.8,173.3 356.5,171.3 351.2,171.7" fill="#8508cc" stroke="#8508cc"/><polygon points="181.6,136 187,136.9 181.7,134.6 176.4,133.7" fill="#db05de" stroke="#db05de"/><polygon points="345.8,172.2 351.2,171.7 345.9,169.7 340.6,170.1" fill="#8608cc" stroke="#8608cc"/><polygon points="335.3,170.5 340.6,170.1 335.3,168 330,168.4" fill="#8708cd" stroke="#8708cd"/><polygon points="171,132.6 176.4,133.7 171.1,131.3 165.8,130.2" fill="#e205e0" stroke="#e205e0"/><polygon points="324.7,168.8 330,168.4 324.7,166.3 319.4,166.7" fill="#8808cd" stroke="#8808cd"/><polygon points="314.1,167 319.4,166.7 314.1,164.6 308.8,164.9" fill="#8a08cd" stroke="#8a08cd"/><polygon points="303.5,165.1 308.8,164.9 303.5,162.8 298.2,163" fill="#8b07ce" stroke="#8b07ce"/><polygon points="292.9,163.2 298.2,163 292.9,160.9 287.6,161.1" fill="#9107cf" stroke="#9107cf"/><polygon points="478.3,191.1 483.6,190.4 478.3,188.4 473,189.1" fill="#7f08cb" stroke="#7f08cb"/><polygon points="282.3,161.2 287.6,161.1 282.3,159 277,159.1" fill="#9607d0" stroke="#9607d0"/><polygon points="467.7,189.8 473,189.1 467.7,187.2 462.4,187.9" fill="#7f08cb" stroke="#7f08cb"/><polygon points="271.7,159.1 277,159.1 271.7,157 266.4,157" fill="#9d07d1" stroke="#9d07d1"/><polygon points="457.1,188.6 462.4,187.9 457.1,185.9 451.8,186.6" fill="#8008cb" stroke="#8008cb"/><polygon points="261.1,157 266.4,157 261.1,154.9 255.8,154.8" fill="#a507d3" stroke="#a507d3"/><polygon points="446.5,187.3 451.8,186.6 446.5,184.6 441.2,185.3" fill="#8008cb" stroke="#8008cb"/><polygon points="435.9,186 441.2,185.3 435.9,183.3 430.6,184" fill="#8008cb" stroke="#8008cb"/><polygon points="250.5,154.7 255.8,154.8 250.5,152.7 245.2,152.5" fill="#ae07d5" stroke="#ae07d5"/><polygon points="425.3,184.6 430.6,184 425.3,182 420,182.6" fill="#8108cb" stroke="#8108cb"/><polygon points="239.9,152.3 245.2,152.5 239.9,150.4 234.6,150.1" fill="#b906d7" stroke="#b906d7"/><polygon points="414.7,183.2 420,182.6 414.7,180.6 409.4,181.2" fill="#8108cb" stroke="#8108cb"/><polygon points="229.3,149.8 234.6,150.1 229.3,147.9 224,147.6" fill="#c606da" stroke="#c606da"/><polygon points="404.1,181.8 409.4,181.2 404.1,179.2 398.8,179.8" fill="#8208cc" stroke="#8208cc"/><polygon points="218.7,147.2 224,147.6 218.7,145.4 213.4,145" fill="#ce06db" stroke="#ce06db"/><polygon points="393.5,180.4 398.8,179.8 393.5,177.8 388.2,178.4" fill="#8308cc" stroke="#8308cc"/><polygon points="382.9,178.9 388.2,178.4 382.9,176.3 377.6,176.9" fill="#8308cc" stroke="#8308cc"/><polygon points="208.1,144.4 213.4,145 208.1,142.7 202.8,142.1" fill="#d106dc" stroke="#d106dc"/><polygon points="372.3,177.4 377.6,176.9 372.3,174.8 367,175.3" fill="#8408cc" stroke="#8408cc"/><polygon points="197.5,141.4 202.8,142.1 197.5,139.9 192.2,139.2" fill="#d506dd" stroke="#d506dd"/><polygon points="361.7,175.8 367,175.3 361.8,173.3 356.4,173.8" fill="#8508cc" stroke="#8508cc"/><polygon points="186.9,138.3 192.2,139.2 187,136.9 181.6,136" fill="#da05de" stroke="#da05de"/><polygon points="351.1,174.2 356.4,173.8 351.2,171.7 345.8,172.2" fill="#8608cc" stroke="#8608cc"/><polygon points="340.5,172.5 345.8,172.2 340.6,170.1 335.3,170.5" fill="#8708cd" stroke="#8708cd"/><polygon points="176.3,134.9 181.6,136 176.4,133.7 171,132.6" fill="#e105df" stroke="#e105df"/><polygon points="329.9,170.8 335.3,170.5 330,168.4 324.7,168.8" fill="#8808cd" stroke="#8808cd"/><polygon points="165.7,131.3 171,132.6 165.8,130.2 160.5,128.9" fill="#e805e1" stroke="#e805e1"/><polygon points="319.3,169.1 324.7,168.8 319.4,166.7 314.1,167" fill="#8908cd" stroke="#8908cd"/><polygon points="308.8,167.2 314.1,167 308.8,164.9 303.5,165.1" fill="#8b08cd" stroke="#8b08cd"/><polygon points="298.2,165.3 303.5,165.1 298.2,163 292.9,163.2" fill="#8f07ce" stroke="#8f07ce"/><polygon points="483.6,193 488.9,192.3 483.6,190.4 478.3,191.1" fill="#7f08cb" stroke="#7f08cb"/><polygon points="287.6,163.4 292.9,163.2 287.6,161.1 282.3,161.2" fill="#9507d0" stroke="#9507d0"/><polygon points="473,191.8 478.3,191.1 473,189.1 467.7,189.8" fill="#7f08cb" stroke="#7f08cb"/><polygon points="277,161.3 282.3,161.2 277,159.1 271.7,159.1" fill="#9b07d1" stroke="#9b07d1"/><polygon points="462.4,190.5 467.7,189.8 462.4,187.9 457.1,188.6" fill="#7f08cb" stroke="#7f08cb"/><polygon points="266.4,159.1 271.7,159.1 266.4,157 261.1,157" fill="#a307d3" stroke="#a307d3"/><polygon points="451.8,189.3 457.1,188.6 451.8,186.6 446.5,187.3" fill="#8008cb" stroke="#8008cb"/><polygon points="441.2,187.9 446.5,187.3 441.2,185.3 435.9,186" fill="#8008cb" stroke="#8008cb"/><polygon points="255.8,156.9 261.1,157 255.8,154.8 250.5,154.7" fill="#ac07d4" stroke="#ac07d4"/><polygon points="430.6,186.6 435.9,186 430.6,184 425.3,184.6" fill="#8108cb" stroke="#8108cb"/><polygon points="245.2,154.5 250.5,154.7 245.2,152.5 239.9,152.3" fill="#b606d7" stroke="#b606d7"/><polygon points="420,185.2 425.3,184.6 420,182.6 414.7,183.2" fill="#8108cb" stroke="#8108cb"/><polygon points="234.6,152.1 239.9,152.3 234.6,150.1 229.3,149.8" fill="#c306d9" stroke="#c306d9"/><polygon points="409.4,183.8 414.7,183.2 409.4,181.2 404.1,181.8" fill="#8208cc" stroke="#8208cc"/><polygon points="224,149.4 229.3,149.8 224,147.6 218.7,147.2" fill="#cd06db" stroke="#cd06db"/><polygon points="398.8,182.4 404.1,181.8 398.8,179.8 393.5,180.4" fill="#8208cc" stroke="#8208cc"/><polygon points="388.2,180.9 393.5,180.4 388.2,178.4 382.9,178.9" fill="#8308cc" stroke="#8308cc"/><polygon points="213.4,146.7 218.7,147.2 213.4,145 208.1,144.4" fill="#d006dc" stroke="#d006dc"/><polygon points="377.6,179.4 382.9,178.9 377.6,176.9 372.3,177.4" fill="#8408cc" stroke="#8408cc"/><polygon points="202.8,143.7 208.1,144.4 202.8,142.1 197.5,141.4" fill="#d406dd" stroke="#d406dd"/><polygon points="367,177.9 372.3,177.4 367,175.3 361.7,175.8" fill="#8408cc" stroke="#8408cc"/><polygon points="192.2,140.6 197.5,141.4 192.2,139.2 186.9,138.3" fill="#d905de" stroke="#d905de"/><polygon points="356.4,176.3 361.7,175.8 356.4,173.8 351.1,174.2" fill="#8508cc" stroke="#8508cc"/><polygon points="345.8,174.6 351.1,174.2 345.8,172.2 340.5,172.5" fill="#8608cd" stroke="#8608cd"/><polygon points="181.6,137.3 186.9,138.3 181.6,136 176.3,134.9" fill="#e005df" stroke="#e005df"/><polygon points="335.2,172.9 340.5,172.5 335.3,170.5 329.9,170.8" fill="#8708cd" stroke="#8708cd"/><polygon points="171,133.7 176.3,134.9 171,132.6 165.7,131.3" fill="#e805e1" stroke="#e805e1"/><polygon points="324.6,171.2 329.9,170.8 324.7,168.8 319.3,169.1" fill="#8908cd" stroke="#8908cd"/><polygon points="160.4,129.8 165.7,131.3 160.5,128.9 155.1,127.4" fill="#e805e1" stroke="#e805e1"/><polygon points="314,169.3 319.3,169.1 314.1,167 308.8,167.2" fill="#8a08cd" stroke="#8a08cd"/><polygon points="303.4,167.4 308.8,167.2 303.5,165.1 298.2,165.3" fill="#8d07ce" stroke="#8d07ce"/><polygon points="488.8,195 494.1,194.3 488.9,192.3 483.6,193" fill="#7f08cb" stroke="#7f08cb"/><polygon points="292.8,165.5 298.2,165.3 292.9,163.2 287.6,163.4" fill="#9307cf" stroke="#9307cf"/><polygon points="478.2,193.8 483.6,193 478.3,191.1 473,191.8" fill="#7f08cb" stroke="#7f08cb"/><polygon points="282.3,163.4 287.6,163.4 282.3,161.2 277,161.3" fill="#9907d1" stroke="#9907d1"/><polygon points="467.6,192.5 473,191.8 467.7,189.8 462.4,190.5" fill="#7f08cb" stroke="#7f08cb"/><polygon points="271.7,161.3 277,161.3 271.7,159.1 266.4,159.1" fill="#a107d2" stroke="#a107d2"/><polygon points="457.1,191.2 462.4,190.5 457.1,188.6 451.8,189.3" fill="#8008cb" stroke="#8008cb"/><polygon points="446.5,189.9 451.8,189.3 446.5,187.3 441.2,187.9" fill="#8008cb" stroke="#8008cb"/><polygon points="261.1,159.1 266.4,159.1 261.1,157 255.8,156.9" fill="#aa07d4" stroke="#aa07d4"/><polygon points="435.9,188.6 441.2,187.9 435.9,186 430.6,186.6" fill="#8008cb" stroke="#8008cb"/><polygon points="250.5,156.7 255.8,156.9 250.5,154.7 245.2,154.5" fill="#b406d6" stroke="#b406d6"/><polygon points="425.3,187.2 430.6,186.6 425.3,184.6 420,185.2" fill="#8108cb" stroke="#8108cb"/><polygon points="239.9,154.3 245.2,154.5 239.9,152.3 234.6,152.1" fill="#c006d9" stroke="#c006d9"/><polygon points="414.7,185.8 420,185.2 414.7,183.2 409.4,183.8" fill="#8108cb" stroke="#8108cb"/><polygon points="229.3,151.7 234.6,152.1 229.3,149.8 224,149.4" fill="#cd06db" stroke="#cd06db"/><polygon points="404.1,184.4 409.4,183.8 404.1,181.8 398.8,182.4" fill="#8208cc" stroke="#8208cc"/><polygon points="393.5,183 398.8,182.4 393.5,180.4 388.2,180.9" fill="#8308cc" stroke="#8308cc"/><polygon points="218.7,148.9 224,149.4 218.7,147.2 213.4,146.7" fill="#d006dc" stroke="#d006dc"/><polygon points="382.9,181.5 388.2,180.9 382.9,178.9 377.6,179.4" fill="#8308cc" stroke="#8308cc"/><polygon points="208.1,146 213.4,146.7 208.1,144.4 202.8,143.7" fill="#d306dd" stroke="#d306dd"/><polygon points="372.3,179.9 377.6,179.4 372.3,177.4 367,177.9" fill="#8408cc" stroke="#8408cc"/><polygon points="197.5,142.9 202.8,143.7 197.5,141.4 192.2,140.6" fill="#d805de" stroke="#d805de"/><polygon points="361.7,178.3 367,177.9 361.7,175.8 356.4,176.3" fill="#8508cc" stroke="#8508cc"/><polygon points="351.1,176.7 356.4,176.3 351.1,174.2 345.8,174.6" fill="#8608cc" stroke="#8608cc"/><polygon points="186.9,139.6 192.2,140.6 186.9,138.3 181.6,137.3" fill="#de05df" stroke="#de05df"/><polygon points="340.5,175 345.8,174.6 340.5,172.5 335.2,172.9" fill="#8708cd" stroke="#8708cd"/><polygon points="176.3,136.1 181.6,137.3 176.3,134.9 171,133.7" fill="#e705e1" stroke="#e705e1"/><polygon points="329.9,173.3 335.2,172.9 329.9,170.8 324.6,171.2" fill="#8808cd" stroke="#8808cd"/><polygon points="165.7,132.2 171,133.7 165.7,131.3 160.4,129.8" fill="#e805e1" stroke="#e805e1"/><polygon points="319.3,171.4 324.6,171.2 319.3,169.1 314,169.3" fill="#8a08cd" stroke="#8a08cd"/><polygon points="308.7,169.6 314,169.3 308.8,167.2 303.4,167.4" fill="#8c07ce" stroke="#8c07ce"/><polygon points="155.1,128.1 160.4,129.8 155.1,127.4 149.8,125.6" fill="#e805e1" stroke="#e805e1"/><polygon points="494.1,197 499.4,196.2 494.1,194.3 488.8,195" fill="#7e08cb" stroke="#7e08cb"/><polygon points="298.1,167.6 303.4,167.4 298.2,165.3 292.8,165.5" fill="#9107cf" stroke="#9107cf"/><polygon points="483.5,195.7 488.8,195 483.6,193 478.2,193.8" fill="#7f08cb" stroke="#7f08cb"/><polygon points="287.5,165.6 292.8,165.5 287.6,163.4 282.3,163.4" fill="#9807d0" stroke="#9807d0"/><polygon points="472.9,194.5 478.2,193.8 473,191.8 467.6,192.5" fill="#7f08cb" stroke="#7f08cb"/><polygon points="276.9,163.5 282.3,163.4 277,161.3 271.7,161.3" fill="#9f07d2" stroke="#9f07d2"/><polygon points="462.3,193.2 467.6,192.5 462.4,190.5 457.1,191.2" fill="#7f08cb" stroke="#7f08cb"/><polygon points="266.4,161.3 271.7,161.3 266.4,159.1 261.1,159.1" fill="#a707d3" stroke="#a707d3"/><polygon points="451.7,191.9 457.1,191.2 451.8,189.3 446.5,189.9" fill="#8008cb" stroke="#8008cb"/><polygon points="441.1,190.6 446.5,189.9 441.2,187.9 435.9,188.6" fill="#8008cb" stroke="#8008cb"/><polygon points="255.8,158.9 261.1,159.1 255.8,156.9 250.5,156.7" fill="#b106d6" stroke="#b106d6"/><polygon points="430.6,189.2 435.9,188.6 430.6,186.6 425.3,187.2" fill="#8108cb" stroke="#8108cb"/><polygon points="245.2,156.5 250.5,156.7 245.2,154.5 239.9,154.3" fill="#bd06d8" stroke="#bd06d8"/><polygon points="420,187.9 425.3,187.2 420,185.2 414.7,185.8" fill="#8108cb" stroke="#8108cb"/><polygon points="234.6,153.9 239.9,154.3 234.6,152.1 229.3,151.7" fill="#cc06db" stroke="#cc06db"/><polygon points="409.4,186.4 414.7,185.8 409.4,183.8 404.1,184.4" fill="#8208cc" stroke="#8208cc"/><polygon points="224,151.2 229.3,151.7 224,149.4 218.7,148.9" fill="#cf06dc" stroke="#cf06dc"/><polygon points="398.8,185 404.1,184.4 398.8,182.4 393.5,183" fill="#8208cc" stroke="#8208cc"/><polygon points="388.2,183.5 393.5,183 388.2,180.9 382.9,181.5" fill="#8308cc" stroke="#8308cc"/><polygon points="213.4,148.3 218.7,148.9 213.4,146.7 208.1,146" fill="#d206dc" stroke="#d206dc"/><polygon points="377.6,182 382.9,181.5 377.6,179.4 372.3,179.9" fill="#8408cc" stroke="#8408cc"/><polygon points="202.8,145.3 208.1,146 202.8,143.7 197.5,142.9" fill="#d705dd" stroke="#d705dd"/><polygon points="367,180.4 372.3,179.9 367,177.9 361.7,178.3" fill="#8508cc" stroke="#8508cc"/><polygon points="192.2,142 197.5,142.9 192.2,140.6 186.9,139.6" fill="#dd05df" stroke="#dd05df"/><polygon points="356.4,178.8 361.7,178.3 356.4,176.3 351.1,176.7" fill="#8608cc" stroke="#8608cc"/><polygon points="345.8,177.1 351.1,176.7 345.8,174.6 340.5,175" fill="#8708cd" stroke="#8708cd"/><polygon points="181.6,138.4 186.9,139.6 181.6,137.3 176.3,136.1" fill="#e505e0" stroke="#e505e0"/><polygon points="335.2,175.3 340.5,175 335.2,172.9 329.9,173.3" fill="#8808cd" stroke="#8808cd"/><polygon points="171,134.6 176.3,136.1 171,133.7 165.7,132.2" fill="#e805e1" stroke="#e805e1"/><polygon points="324.6,173.5 329.9,173.3 324.6,171.2 319.3,171.4" fill="#8908cd" stroke="#8908cd"/><polygon points="314,171.7 319.3,171.4 314,169.3 308.7,169.6" fill="#8b08cd" stroke="#8b08cd"/><polygon points="160.4,130.5 165.7,132.2 160.4,129.8 155.1,128.1" fill="#e805e1" stroke="#e805e1"/><polygon points="499.4,198.9 504.7,198.2 499.4,196.2 494.1,197" fill="#7e08cb" stroke="#7e08cb"/><polygon points="303.4,169.8 308.7,169.6 303.4,167.4 298.1,167.6" fill="#9007ce" stroke="#9007ce"/><polygon points="488.8,197.7 494.1,197 488.8,195 483.5,195.7" fill="#7f08cb" stroke="#7f08cb"/><polygon points="149.8,126 155.1,128.1 149.8,125.6 144.5,123.5" fill="#e805e1" stroke="#e805e1"/><polygon points="292.8,167.7 298.1,167.6 292.8,165.5 287.5,165.6" fill="#9607d0" stroke="#9607d0"/><polygon points="478.2,196.5 483.5,195.7 478.2,193.8 472.9,194.5" fill="#7f08cb" stroke="#7f08cb"/><polygon points="282.2,165.6 287.5,165.6 282.3,163.4 276.9,163.5" fill="#9d07d1" stroke="#9d07d1"/><polygon points="467.6,195.2 472.9,194.5 467.6,192.5 462.3,193.2" fill="#7f08cb" stroke="#7f08cb"/><polygon points="271.6,163.4 276.9,163.5 271.7,161.3 266.4,161.3" fill="#a507d3" stroke="#a507d3"/><polygon points="457,193.9 462.3,193.2 457.1,191.2 451.7,191.9" fill="#8008cb" stroke="#8008cb"/><polygon points="446.4,192.6 451.7,191.9 446.5,189.9 441.1,190.6" fill="#8008cb" stroke="#8008cb"/><polygon points="261,161.1 266.4,161.3 261.1,159.1 255.8,158.9" fill="#af07d5" stroke="#af07d5"/><polygon points="435.8,191.2 441.1,190.6 435.9,188.6 430.6,189.2" fill="#8008cb" stroke="#8008cb"/><polygon points="250.4,158.7 255.8,158.9 250.5,156.7 245.2,156.5" fill="#ba06d7" stroke="#ba06d7"/><polygon points="425.2,189.9 430.6,189.2 425.3,187.2 420,187.9" fill="#8108cb" stroke="#8108cb"/><polygon points="239.9,156.2 245.2,156.5 239.9,154.3 234.6,153.9" fill="#c806da" stroke="#c806da"/><polygon points="414.6,188.5 420,187.9 414.7,185.8 409.4,186.4" fill="#8108cb" stroke="#8108cb"/><polygon points="229.3,153.5 234.6,153.9 229.3,151.7 224,151.2" fill="#ce06dc" stroke="#ce06dc"/><polygon points="404.1,187 409.4,186.4 404.1,184.4 398.8,185" fill="#8208cc" stroke="#8208cc"/><polygon points="393.5,185.5 398.8,185 393.5,183 388.2,183.5" fill="#8308cc" stroke="#8308cc"/><polygon points="218.7,150.6 224,151.2 218.7,148.9 213.4,148.3" fill="#d206dc" stroke="#d206dc"/><polygon points="382.9,184 388.2,183.5 382.9,181.5 377.6,182" fill="#8308cc" stroke="#8308cc"/><polygon points="208.1,147.6 213.4,148.3 208.1,146 202.8,145.3" fill="#d605dd" stroke="#d605dd"/><polygon points="372.3,182.4 377.6,182 372.3,179.9 367,180.4" fill="#8408cc" stroke="#8408cc"/><polygon points="197.5,144.3 202.8,145.3 197.5,142.9 192.2,142" fill="#dc05de" stroke="#dc05de"/><polygon points="361.7,180.8 367,180.4 361.7,178.3 356.4,178.8" fill="#8508cc" stroke="#8508cc"/><polygon points="351.1,179.2 356.4,178.8 351.1,176.7 345.8,177.1" fill="#8608cd" stroke="#8608cd"/><polygon points="186.9,140.8 192.2,142 186.9,139.6 181.6,138.4" fill="#e405e0" stroke="#e405e0"/><polygon points="340.5,177.4 345.8,177.1 340.5,175 335.2,175.3" fill="#8708cd" stroke="#8708cd"/><polygon points="176.3,137.1 181.6,138.4 176.3,136.1 171,134.6" fill="#e805e1" stroke="#e805e1"/><polygon points="329.9,175.7 335.2,175.3 329.9,173.3 324.6,173.5" fill="#8908cd" stroke="#8908cd"/><polygon points="319.3,173.8 324.6,173.5 319.3,171.4 314,171.7" fill="#8a08cd" stroke="#8a08cd"/><polygon points="165.7,133 171,134.6 165.7,132.2 160.4,130.5" fill="#e805e1" stroke="#e805e1"/><polygon points="504.7,200.9 510,200.1 504.7,198.2 499.4,198.9" fill="#7e08cb" stroke="#7e08cb"/><polygon points="308.7,171.9 314,171.7 308.7,169.6 303.4,169.8" fill="#8e07ce" stroke="#8e07ce"/><polygon points="494.1,199.7 499.4,198.9 494.1,197 488.8,197.7" fill="#7e08cb" stroke="#7e08cb"/><polygon points="155.1,128.5 160.4,130.5 155.1,128.1 149.8,126" fill="#e805e1" stroke="#e805e1"/><polygon points="298.1,169.9 303.4,169.8 298.1,167.6 292.8,167.7" fill="#9407cf" stroke="#9407cf"/><polygon points="483.5,198.4 488.8,197.7 483.5,195.7 478.2,196.5" fill="#7f08cb" stroke="#7f08cb"/><polygon points="287.5,167.8 292.8,167.7 287.5,165.6 282.2,165.6" fill="#9b07d1" stroke="#9b07d1"/><polygon points="144.5,123.7 149.8,126 144.5,123.5 139.2,121.1" fill="#e805e1" stroke="#e805e1"/><polygon points="472.9,197.2 478.2,196.5 472.9,194.5 467.6,195.2" fill="#7f08cb" stroke="#7f08cb"/><polygon points="276.9,165.6 282.2,165.6 276.9,163.5 271.6,163.4" fill="#a307d2" stroke="#a307d2"/><polygon points="462.3,195.9 467.6,195.2 462.3,193.2 457,193.9" fill="#7f08cb" stroke="#7f08cb"/><polygon points="451.7,194.6 457,193.9 451.7,191.9 446.4,192.6" fill="#8008cb" stroke="#8008cb"/><polygon points="266.3,163.3 271.6,163.4 266.4,161.3 261,161.1" fill="#ac07d4" stroke="#ac07d4"/><polygon points="441.1,193.2 446.4,192.6 441.1,190.6 435.8,191.2" fill="#8008cb" stroke="#8008cb"/><polygon points="255.7,160.9 261,161.1 255.8,158.9 250.4,158.7" fill="#b706d7" stroke="#b706d7"/><polygon points="430.5,191.9 435.8,191.2 430.6,189.2 425.2,189.9" fill="#8108cb" stroke="#8108cb"/><polygon points="245.1,158.4 250.4,158.7 245.2,156.5 239.9,156.2" fill="#c506da" stroke="#c506da"/><polygon points="419.9,190.5 425.2,189.9 420,187.9 414.6,188.5" fill="#8108cb" stroke="#8108cb"/><polygon points="234.5,155.7 239.9,156.2 234.6,153.9 229.3,153.5" fill="#ce06db" stroke="#ce06db"/><polygon points="409.3,189 414.6,188.5 409.4,186.4 404.1,187" fill="#8208cc" stroke="#8208cc"/><polygon points="398.7,187.6 404.1,187 398.8,185 393.5,185.5" fill="#8208cc" stroke="#8208cc"/><polygon points="223.9,152.9 229.3,153.5 224,151.2 218.7,150.6" fill="#d106dc" stroke="#d106dc"/><polygon points="388.2,186 393.5,185.5 388.2,183.5 382.9,184" fill="#8308cc" stroke="#8308cc"/><polygon points="213.4,149.9 218.7,150.6 213.4,148.3 208.1,147.6" fill="#d506dd" stroke="#d506dd"/><polygon points="377.6,184.5 382.9,184 377.6,182 372.3,182.4" fill="#8408cc" stroke="#8408cc"/><polygon points="202.8,146.7 208.1,147.6 202.8,145.3 197.5,144.3" fill="#db05de" stroke="#db05de"/><polygon points="367,182.9 372.3,182.4 367,180.4 361.7,180.8" fill="#8508cc" stroke="#8508cc"/><polygon points="356.4,181.2 361.7,180.8 356.4,178.8 351.1,179.2" fill="#8608cc" stroke="#8608cc"/><polygon points="192.2,143.2 197.5,144.3 192.2,142 186.9,140.8" fill="#e205e0" stroke="#e205e0"/><polygon points="345.8,179.5 351.1,179.2 345.8,177.1 340.5,177.4" fill="#8708cd" stroke="#8708cd"/><polygon points="181.6,139.5 186.9,140.8 181.6,138.4 176.3,137.1" fill="#e805e1" stroke="#e805e1"/><polygon points="335.2,177.8 340.5,177.4 335.2,175.3 329.9,175.7" fill="#8808cd" stroke="#8808cd"/><polygon points="324.6,175.9 329.9,175.7 324.6,173.5 319.3,173.8" fill="#8a08cd" stroke="#8a08cd"/><polygon points="171,135.4 176.3,137.1 171,134.6 165.7,133" fill="#e805e1" stroke="#e805e1"/><polygon points="510,202.8 515.3,202.1 510,200.1 504.7,200.9" fill="#7e08cb" stroke="#7e08cb"/><polygon points="314,174 319.3,173.8 314,171.7 308.7,171.9" fill="#8c07ce" stroke="#8c07ce"/><polygon points="160.4,131 165.7,133 160.4,130.5 155.1,128.5" fill="#e805e1" stroke="#e805e1"/><polygon points="499.4,201.6 504.7,200.9 499.4,198.9 494.1,199.7" fill="#7e08cb" stroke="#7e08cb"/><polygon points="303.4,172 308.7,171.9 303.4,169.8 298.1,169.9" fill="#9207cf" stroke="#9207cf"/><polygon points="488.8,200.4 494.1,199.7 488.8,197.7 483.5,198.4" fill="#7e08cb" stroke="#7e08cb"/><polygon points="292.8,170 298.1,169.9 292.8,167.7 287.5,167.8" fill="#9907d0" stroke="#9907d0"/><polygon points="149.8,126.2 155.1,128.5 149.8,126 144.5,123.7" fill="#e805e1" stroke="#e805e1"/><polygon points="478.2,199.1 483.5,198.4 478.2,196.5 472.9,197.2" fill="#7f08cb" stroke="#7f08cb"/><polygon points="282.2,167.8 287.5,167.8 282.2,165.6 276.9,165.6" fill="#a007d2" stroke="#a007d2"/><polygon points="467.6,197.9 472.9,197.2 467.6,195.2 462.3,195.9" fill="#7f08cb" stroke="#7f08cb"/><polygon points="139.2,120.9 144.5,123.7 139.2,121.1 133.9,118.3" fill="#e805e1" stroke="#e805e1"/><polygon points="457,196.6 462.3,195.9 457,193.9 451.7,194.6" fill="#8008cb" stroke="#8008cb"/><polygon points="271.6,165.5 276.9,165.6 271.6,163.4 266.3,163.3" fill="#aa07d4" stroke="#aa07d4"/><polygon points="446.4,195.2 451.7,194.6 446.4,192.6 441.1,193.2" fill="#8008cb" stroke="#8008cb"/><polygon points="261,163.2 266.3,163.3 261,161.1 255.7,160.9" fill="#b406d6" stroke="#b406d6"/><polygon points="435.8,193.9 441.1,193.2 435.8,191.2 430.5,191.9" fill="#8008cb" stroke="#8008cb"/><polygon points="250.4,160.7 255.7,160.9 250.4,158.7 245.1,158.4" fill="#c206d9" stroke="#c206d9"/><polygon points="425.2,192.5 430.5,191.9 425.2,189.9 419.9,190.5" fill="#8108cb" stroke="#8108cb"/><polygon points="239.8,158 245.1,158.4 239.9,156.2 234.5,155.7" fill="#cd06db" stroke="#cd06db"/><polygon points="414.6,191.1 419.9,190.5 414.6,188.5 409.3,189" fill="#8108cc" stroke="#8108cc"/><polygon points="404,189.6 409.3,189 404.1,187 398.7,187.6" fill="#8208cc" stroke="#8208cc"/><polygon points="229.2,155.2 234.5,155.7 229.3,153.5 223.9,152.9" fill="#d006dc" stroke="#d006dc"/><polygon points="393.4,188.1 398.7,187.6 393.5,185.5 388.2,186" fill="#8308cc" stroke="#8308cc"/><polygon points="218.6,152.2 223.9,152.9 218.7,150.6 213.4,149.9" fill="#d406dd" stroke="#d406dd"/><polygon points="382.8,186.5 388.2,186 382.9,184 377.6,184.5" fill="#8408cc" stroke="#8408cc"/><polygon points="208,149 213.4,149.9 208.1,147.6 202.8,146.7" fill="#da05de" stroke="#da05de"/><polygon points="372.2,185 377.6,184.5 372.3,182.4 367,182.9" fill="#8408cc" stroke="#8408cc"/><polygon points="361.7,183.3 367,182.9 361.7,180.8 356.4,181.2" fill="#8508cc" stroke="#8508cc"/><polygon points="197.5,145.6 202.8,146.7 197.5,144.3 192.2,143.2" fill="#e105df" stroke="#e105df"/><polygon points="351.1,181.6 356.4,181.2 351.1,179.2 345.8,179.5" fill="#8708cd" stroke="#8708cd"/><polygon points="186.9,141.9 192.2,143.2 186.9,140.8 181.6,139.5" fill="#e805e1" stroke="#e805e1"/><polygon points="340.5,179.9 345.8,179.5 340.5,177.4 335.2,177.8" fill="#8808cd" stroke="#8808cd"/><polygon points="329.9,178 335.2,177.8 329.9,175.7 324.6,175.9" fill="#8908cd" stroke="#8908cd"/><polygon points="176.3,137.9 181.6,139.5 176.3,137.1 171,135.4" fill="#e805e1" stroke="#e805e1"/><polygon points="515.3,204.8 520.6,204 515.3,202.1 510,202.8" fill="#7e08cb" stroke="#7e08cb"/><polygon points="319.3,176.1 324.6,175.9 319.3,173.8 314,174" fill="#8b08cd" stroke="#8b08cd"/><polygon points="165.7,133.5 171,135.4 165.7,133 160.4,131" fill="#e805e1" stroke="#e805e1"/><polygon points="504.7,203.6 510,202.8 504.7,200.9 499.4,201.6" fill="#7e08cb" stroke="#7e08cb"/><polygon points="308.7,174.2 314,174 308.7,171.9 303.4,172" fill="#9007cf" stroke="#9007cf"/><polygon points="494.1,202.4 499.4,201.6 494.1,199.7 488.8,200.4" fill="#7e08cb" stroke="#7e08cb"/><polygon points="298.1,172.1 303.4,172 298.1,169.9 292.8,170" fill="#9707d0" stroke="#9707d0"/><polygon points="155.1,128.8 160.4,131 155.1,128.5 149.8,126.2" fill="#e805e1" stroke="#e805e1"/><polygon points="483.5,201.1 488.8,200.4 483.5,198.4 478.2,199.1" fill="#7f08cb" stroke="#7f08cb"/><polygon points="287.5,170 292.8,170 287.5,167.8 282.2,167.8" fill="#9e07d2" stroke="#9e07d2"/><polygon points="472.9,199.9 478.2,199.1 472.9,197.2 467.6,197.9" fill="#7f08cb" stroke="#7f08cb"/><polygon points="144.5,123.5 149.8,126.2 144.5,123.7 139.2,120.9" fill="#e805e1" stroke="#e805e1"/><polygon points="462.3,198.6 467.6,197.9 462.3,195.9 457,196.6" fill="#7f08cb" stroke="#7f08cb"/><polygon points="276.9,167.7 282.2,167.8 276.9,165.6 271.6,165.5" fill="#a707d3" stroke="#a707d3"/><polygon points="451.7,197.2 457,196.6 451.7,194.6 446.4,195.2" fill="#8008cb" stroke="#8008cb"/><polygon points="266.3,165.4 271.6,165.5 266.3,163.3 261,163.2" fill="#b206d6" stroke="#b206d6"/><polygon points="133.9,117.7 139.2,120.9 133.9,118.3 128.6,115" fill="#e805e1" stroke="#e805e1"/><polygon points="441.1,195.9 446.4,195.2 441.1,193.2 435.8,193.9" fill="#8008cb" stroke="#8008cb"/><polygon points="255.7,162.9 261,163.2 255.7,160.9 250.4,160.7" fill="#be06d8" stroke="#be06d8"/><polygon points="430.5,194.5 435.8,193.9 430.5,191.9 425.2,192.5" fill="#8108cb" stroke="#8108cb"/><polygon points="245.1,160.3 250.4,160.7 245.1,158.4 239.8,158" fill="#cc06db" stroke="#cc06db"/><polygon points="419.9,193.1 425.2,192.5 419.9,190.5 414.6,191.1" fill="#8108cb" stroke="#8108cb"/><polygon points="409.3,191.6 414.6,191.1 409.3,189 404,189.6" fill="#8208cc" stroke="#8208cc"/><polygon points="234.5,157.5 239.8,158 234.5,155.7 229.2,155.2" fill="#cf06dc" stroke="#cf06dc"/><polygon points="398.7,190.1 404,189.6 398.7,187.6 393.4,188.1" fill="#8208cc" stroke="#8208cc"/><polygon points="223.9,154.5 229.2,155.2 223.9,152.9 218.6,152.2" fill="#d306dd" stroke="#d306dd"/><polygon points="388.1,188.6 393.4,188.1 388.2,186 382.8,186.5" fill="#8308cc" stroke="#8308cc"/><polygon points="213.3,151.4 218.6,152.2 213.4,149.9 208,149" fill="#d805de" stroke="#d805de"/><polygon points="377.5,187 382.8,186.5 377.6,184.5 372.2,185" fill="#8408cc" stroke="#8408cc"/><polygon points="366.9,185.4 372.2,185 367,182.9 361.7,183.3" fill="#8508cc" stroke="#8508cc"/><polygon points="202.7,148 208,149 202.8,146.7 197.5,145.6" fill="#df05df" stroke="#df05df"/><polygon points="356.3,183.7 361.7,183.3 356.4,181.2 351.1,181.6" fill="#8608cc" stroke="#8608cc"/><polygon points="192.1,144.3 197.5,145.6 192.2,143.2 186.9,141.9" fill="#e805e1" stroke="#e805e1"/><polygon points="345.7,182 351.1,181.6 345.8,179.5 340.5,179.9" fill="#8708cd" stroke="#8708cd"/><polygon points="181.5,140.4 186.9,141.9 181.6,139.5 176.3,137.9" fill="#e805e1" stroke="#e805e1"/><polygon points="335.2,180.2 340.5,179.9 335.2,177.8 329.9,178" fill="#8908cd" stroke="#8908cd"/><polygon points="520.5,206.8 525.9,206 520.6,204 515.3,204.8" fill="#7e08cb" stroke="#7e08cb"/><polygon points="324.6,178.3 329.9,178 324.6,175.9 319.3,176.1" fill="#8a08cd" stroke="#8a08cd"/><polygon points="171,136 176.3,137.9 171,135.4 165.7,133.5" fill="#e805e1" stroke="#e805e1"/><polygon points="510,205.6 515.3,204.8 510,202.8 504.7,203.6" fill="#7e08cb" stroke="#7e08cb"/><polygon points="314,176.3 319.3,176.1 314,174 308.7,174.2" fill="#8f07ce" stroke="#8f07ce"/><polygon points="499.4,204.3 504.7,203.6 499.4,201.6 494.1,202.4" fill="#7e08cb" stroke="#7e08cb"/><polygon points="160.4,131.3 165.7,133.5 160.4,131 155.1,128.8" fill="#e805e1" stroke="#e805e1"/><polygon points="303.4,174.3 308.7,174.2 303.4,172 298.1,172.1" fill="#9507d0" stroke="#9507d0"/><polygon points="488.8,203.1 494.1,202.4 488.8,200.4 483.5,201.1" fill="#7e08cb" stroke="#7e08cb"/><polygon points="292.8,172.2 298.1,172.1 292.8,170 287.5,170" fill="#9c07d1" stroke="#9c07d1"/><polygon points="478.2,201.8 483.5,201.1 478.2,199.1 472.9,199.9" fill="#7f08cb" stroke="#7f08cb"/><polygon points="149.8,126.1 155.1,128.8 149.8,126.2 144.5,123.5" fill="#e805e1" stroke="#e805e1"/><polygon points="282.2,169.9 287.5,170 282.2,167.8 276.9,167.7" fill="#a507d3" stroke="#a507d3"/><polygon points="467.6,200.6 472.9,199.9 467.6,197.9 462.3,198.6" fill="#7f08cb" stroke="#7f08cb"/><polygon points="457,199.2 462.3,198.6 457,196.6 451.7,197.2" fill="#7f08cb" stroke="#7f08cb"/><polygon points="271.6,167.6 276.9,167.7 271.6,165.5 266.3,165.4" fill="#af07d5" stroke="#af07d5"/><polygon points="139.2,120.3 144.5,123.5 139.2,120.9 133.9,117.7" fill="#e805e1" stroke="#e805e1"/><polygon points="446.4,197.9 451.7,197.2 446.4,195.2 441.1,195.9" fill="#8008cb" stroke="#8008cb"/><polygon points="261,165.1 266.3,165.4 261,163.2 255.7,162.9" fill="#bb06d8" stroke="#bb06d8"/><polygon points="435.8,196.5 441.1,195.9 435.8,193.9 430.5,194.5" fill="#8008cb" stroke="#8008cb"/><polygon points="128.6,113.9 133.9,117.7 128.6,115 123.3,111.1" fill="#e805e1" stroke="#e805e1"/><polygon points="250.4,162.5 255.7,162.9 250.4,160.7 245.1,160.3" fill="#ca06db" stroke="#ca06db"/><polygon points="425.2,195.1 430.5,194.5 425.2,192.5 419.9,193.1" fill="#8108cb" stroke="#8108cb"/><polygon points="414.6,193.7 419.9,193.1 414.6,191.1 409.3,191.6" fill="#8208cc" stroke="#8208cc"/><polygon points="239.8,159.8 245.1,160.3 239.8,158 234.5,157.5" fill="#cf06dc" stroke="#cf06dc"/><polygon points="404,192.2 409.3,191.6 404,189.6 398.7,190.1" fill="#8208cc" stroke="#8208cc"/><polygon points="229.2,156.8 234.5,157.5 229.2,155.2 223.9,154.5" fill="#d306dd" stroke="#d306dd"/><polygon points="393.4,190.7 398.7,190.1 393.4,188.1 388.1,188.6" fill="#8308cc" stroke="#8308cc"/><polygon points="218.6,153.7 223.9,154.5 218.6,152.2 213.3,151.4" fill="#d705de" stroke="#d705de"/><polygon points="382.8,189.1 388.1,188.6 382.8,186.5 377.5,187" fill="#8408cc" stroke="#8408cc"/><polygon points="372.2,187.5 377.5,187 372.2,185 366.9,185.4" fill="#8508cc" stroke="#8508cc"/><polygon points="208,150.3 213.3,151.4 208,149 202.7,148" fill="#de05df" stroke="#de05df"/><polygon points="361.6,185.8 366.9,185.4 361.7,183.3 356.3,183.7" fill="#8608cc" stroke="#8608cc"/><polygon points="197.4,146.7 202.7,148 197.5,145.6 192.1,144.3" fill="#e705e1" stroke="#e705e1"/><polygon points="351,184.1 356.3,183.7 351.1,181.6 345.7,182" fill="#8708cd" stroke="#8708cd"/><polygon points="186.8,142.8 192.1,144.3 186.9,141.9 181.5,140.4" fill="#e805e1" stroke="#e805e1"/><polygon points="340.4,182.3 345.7,182 340.5,179.9 335.2,180.2" fill="#8808cd" stroke="#8808cd"/><polygon points="525.8,208.7 531.1,207.9 525.9,206 520.5,206.8" fill="#7d08cb" stroke="#7d08cb"/><polygon points="329.8,180.4 335.2,180.2 329.9,178 324.6,178.3" fill="#8a08cd" stroke="#8a08cd"/><polygon points="176.2,138.5 181.5,140.4 176.3,137.9 171,136" fill="#e805e1" stroke="#e805e1"/><polygon points="515.2,207.5 520.5,206.8 515.3,204.8 510,205.6" fill="#7e08cb" stroke="#7e08cb"/><polygon points="319.3,178.5 324.6,178.3 319.3,176.1 314,176.3" fill="#8d07ce" stroke="#8d07ce"/><polygon points="504.6,206.3 510,205.6 504.7,203.6 499.4,204.3" fill="#7e08cb" stroke="#7e08cb"/><polygon points="165.6,133.9 171,136 165.7,133.5 160.4,131.3" fill="#e805e1" stroke="#e805e1"/><polygon points="308.7,176.5 314,176.3 308.7,174.2 303.4,174.3" fill="#9307cf" stroke="#9307cf"/><polygon points="494,205.1 499.4,204.3 494.1,202.4 488.8,203.1" fill="#7e08cb" stroke="#7e08cb"/><polygon points="298.1,174.4 303.4,174.3 298.1,172.1 292.8,172.2" fill="#9a07d1" stroke="#9a07d1"/><polygon points="483.5,203.8 488.8,203.1 483.5,201.1 478.2,201.8" fill="#7e08cb" stroke="#7e08cb"/><polygon points="155,128.7 160.4,131.3 155.1,128.8 149.8,126.1" fill="#e805e1" stroke="#e805e1"/><polygon points="287.5,172.1 292.8,172.2 287.5,170 282.2,169.9" fill="#a207d2" stroke="#a207d2"/><polygon points="472.9,202.6 478.2,201.8 472.9,199.9 467.6,200.6" fill="#7f08cb" stroke="#7f08cb"/><polygon points="462.3,201.2 467.6,200.6 462.3,198.6 457,199.2" fill="#7f08cb" stroke="#7f08cb"/><polygon points="276.9,169.8 282.2,169.9 276.9,167.7 271.6,167.6" fill="#ac07d4" stroke="#ac07d4"/><polygon points="144.5,123 149.8,126.1 144.5,123.5 139.2,120.3" fill="#e805e1" stroke="#e805e1"/><polygon points="451.7,199.9 457,199.2 451.7,197.2 446.4,197.9" fill="#8008cb" stroke="#8008cb"/><polygon points="266.3,167.4 271.6,167.6 266.3,165.4 261,165.1" fill="#b806d7" stroke="#b806d7"/><polygon points="441.1,198.5 446.4,197.9 441.1,195.9 435.8,196.5" fill="#8008cb" stroke="#8008cb"/><polygon points="133.9,116.6 139.2,120.3 133.9,117.7 128.6,113.9" fill="#e805e1" stroke="#e805e1"/><polygon points="255.7,164.8 261,165.1 255.7,162.9 250.4,162.5" fill="#c606da" stroke="#c606da"/><polygon points="430.5,197.1 435.8,196.5 430.5,194.5 425.2,195.1" fill="#8108cb" stroke="#8108cb"/><polygon points="245.1,162.1 250.4,162.5 245.1,160.3 239.8,159.8" fill="#ce06dc" stroke="#ce06dc"/><polygon points="419.9,195.7 425.2,195.1 419.9,193.1 414.6,193.7" fill="#8108cb" stroke="#8108cb"/><polygon points="123.3,109.3 128.6,113.9 123.3,111.1 118,106.5" fill="#d306dd" stroke="#d306dd"/><polygon points="409.3,194.2 414.6,193.7 409.3,191.6 404,192.2" fill="#8208cc" stroke="#8208cc"/><polygon points="234.5,159.2 239.8,159.8 234.5,157.5 229.2,156.8" fill="#d206dc" stroke="#d206dc"/><polygon points="398.7,192.7 404,192.2 398.7,190.1 393.4,190.7" fill="#8308cc" stroke="#8308cc"/><polygon points="223.9,156.1 229.2,156.8 223.9,154.5 218.6,153.7" fill="#d605dd" stroke="#d605dd"/><polygon points="388.1,191.2 393.4,190.7 388.1,188.6 382.8,189.1" fill="#8308cc" stroke="#8308cc"/><polygon points="213.3,152.7 218.6,153.7 213.3,151.4 208,150.3" fill="#dd05df" stroke="#dd05df"/><polygon points="377.5,189.6 382.8,189.1 377.5,187 372.2,187.5" fill="#8408cc" stroke="#8408cc"/><polygon points="366.9,187.9 372.2,187.5 366.9,185.4 361.6,185.8" fill="#8508cc" stroke="#8508cc"/><polygon points="202.7,149.1 208,150.3 202.7,148 197.4,146.7" fill="#e505e0" stroke="#e505e0"/><polygon points="356.3,186.2 361.6,185.8 356.3,183.7 351,184.1" fill="#8608cd" stroke="#8608cd"/><polygon points="192.1,145.3 197.4,146.7 192.1,144.3 186.8,142.8" fill="#e805e1" stroke="#e805e1"/><polygon points="345.7,184.4 351,184.1 345.7,182 340.4,182.3" fill="#8808cd" stroke="#8808cd"/><polygon points="335.1,182.5 340.4,182.3 335.2,180.2 329.8,180.4" fill="#8908cd" stroke="#8908cd"/><polygon points="181.5,141 186.8,142.8 181.5,140.4 176.2,138.5" fill="#e805e1" stroke="#e805e1"/><polygon points="520.5,209.5 525.8,208.7 520.5,206.8 515.2,207.5" fill="#7d08cb" stroke="#7d08cb"/><polygon points="324.5,180.6 329.8,180.4 324.6,178.3 319.3,178.5" fill="#8b07ce" stroke="#8b07ce"/><polygon points="509.9,208.3 515.2,207.5 510,205.6 504.6,206.3" fill="#7e08cb" stroke="#7e08cb"/><polygon points="170.9,136.4 176.2,138.5 171,136 165.6,133.9" fill="#e805e1" stroke="#e805e1"/><polygon points="313.9,178.6 319.3,178.5 314,176.3 308.7,176.5" fill="#9107cf" stroke="#9107cf"/><polygon points="499.3,207.1 504.6,206.3 499.4,204.3 494,205.1" fill="#7e08cb" stroke="#7e08cb"/><polygon points="303.3,176.5 308.7,176.5 303.4,174.3 298.1,174.4" fill="#9807d0" stroke="#9807d0"/><polygon points="488.7,205.8 494,205.1 488.8,203.1 483.5,203.8" fill="#7e08cb" stroke="#7e08cb"/><polygon points="160.3,131.3 165.6,133.9 160.4,131.3 155,128.7" fill="#e805e1" stroke="#e805e1"/><polygon points="292.8,174.3 298.1,174.4 292.8,172.2 287.5,172.1" fill="#a007d2" stroke="#a007d2"/><polygon points="478.1,204.5 483.5,203.8 478.2,201.8 472.9,202.6" fill="#7f08cb" stroke="#7f08cb"/><polygon points="467.5,203.2 472.9,202.6 467.6,200.6 462.3,201.2" fill="#7f08cb" stroke="#7f08cb"/><polygon points="149.7,125.7 155,128.7 149.8,126.1 144.5,123" fill="#e805e1" stroke="#e805e1"/><polygon points="282.2,172 287.5,172.1 282.2,169.9 276.9,169.8" fill="#a907d4" stroke="#a907d4"/><polygon points="457,201.9 462.3,201.2 457,199.2 451.7,199.9" fill="#7f08cb" stroke="#7f08cb"/><polygon points="271.6,169.6 276.9,169.8 271.6,167.6 266.3,167.4" fill="#b506d6" stroke="#b506d6"/><polygon points="446.4,200.6 451.7,199.9 446.4,197.9 441.1,198.5" fill="#8008cb" stroke="#8008cb"/><polygon points="139.1,119.3 144.5,123 139.2,120.3 133.9,116.6" fill="#e805e1" stroke="#e805e1"/><polygon points="261,167.1 266.3,167.4 261,165.1 255.7,164.8" fill="#c306d9" stroke="#c306d9"/><polygon points="435.8,199.2 441.1,198.5 435.8,196.5 430.5,197.1" fill="#8008cb" stroke="#8008cb"/><polygon points="250.4,164.4 255.7,164.8 250.4,162.5 245.1,162.1" fill="#cd06db" stroke="#cd06db"/><polygon points="425.2,197.7 430.5,197.1 425.2,195.1 419.9,195.7" fill="#8108cb" stroke="#8108cb"/><polygon points="128.5,112.2 133.9,116.6 128.6,113.9 123.3,109.3" fill="#d506dd" stroke="#d506dd"/><polygon points="414.6,196.3 419.9,195.7 414.6,193.7 409.3,194.2" fill="#8208cc" stroke="#8208cc"/><polygon points="239.8,161.5 245.1,162.1 239.8,159.8 234.5,159.2" fill="#d106dc" stroke="#d106dc"/><polygon points="404,194.8 409.3,194.2 404,192.2 398.7,192.7" fill="#8208cc" stroke="#8208cc"/><polygon points="229.2,158.4 234.5,159.2 229.2,156.8 223.9,156.1" fill="#d506dd" stroke="#d506dd"/><polygon points="118,104 123.3,109.3 118,106.5 112.7,101.1" fill="#9607d0" stroke="#9607d0"/><polygon points="393.4,193.2 398.7,192.7 393.4,190.7 388.1,191.2" fill="#8308cc" stroke="#8308cc"/><polygon points="218.6,155.1 223.9,156.1 218.6,153.7 213.3,152.7" fill="#db05de" stroke="#db05de"/><polygon points="382.8,191.6 388.1,191.2 382.8,189.1 377.5,189.6" fill="#8408cc" stroke="#8408cc"/><polygon points="372.2,190 377.5,189.6 372.2,187.5 366.9,187.9" fill="#8508cc" stroke="#8508cc"/><polygon points="208,151.6 213.3,152.7 208,150.3 202.7,149.1" fill="#e305e0" stroke="#e305e0"/><polygon points="361.6,188.3 366.9,187.9 361.6,185.8 356.3,186.2" fill="#8608cc" stroke="#8608cc"/><polygon points="197.4,147.7 202.7,149.1 197.4,146.7 192.1,145.3" fill="#e805e1" stroke="#e805e1"/><polygon points="351,186.5 356.3,186.2 351,184.1 345.7,184.4" fill="#8708cd" stroke="#8708cd"/><polygon points="340.4,184.7 345.7,184.4 340.4,182.3 335.1,182.5" fill="#8908cd" stroke="#8908cd"/><polygon points="186.8,143.5 192.1,145.3 186.8,142.8 181.5,141" fill="#e805e1" stroke="#e805e1"/><polygon points="329.8,182.8 335.1,182.5 329.8,180.4 324.5,180.6" fill="#8a08cd" stroke="#8a08cd"/><polygon points="515.2,210.3 520.5,209.5 515.2,207.5 509.9,208.3" fill="#7d08cb" stroke="#7d08cb"/><polygon points="176.2,139 181.5,141 176.2,138.5 170.9,136.4" fill="#e805e1" stroke="#e805e1"/><polygon points="319.2,180.8 324.5,180.6 319.3,178.5 313.9,178.6" fill="#8f07ce" stroke="#8f07ce"/><polygon points="504.6,209 509.9,208.3 504.6,206.3 499.3,207.1" fill="#7e08cb" stroke="#7e08cb"/><polygon points="308.6,178.7 313.9,178.6 308.7,176.5 303.3,176.5" fill="#9607d0" stroke="#9607d0"/><polygon points="165.6,133.9 170.9,136.4 165.6,133.9 160.3,131.3" fill="#e805e1" stroke="#e805e1"/><polygon points="494,207.8 499.3,207.1 494,205.1 488.7,205.8" fill="#7e08cb" stroke="#7e08cb"/><polygon points="298,176.5 303.3,176.5 298.1,174.4 292.8,174.3" fill="#9e07d1" stroke="#9e07d1"/><polygon points="483.4,206.5 488.7,205.8 483.5,203.8 478.1,204.5" fill="#7e08cb" stroke="#7e08cb"/><polygon points="155,128.3 160.3,131.3 155,128.7 149.7,125.7" fill="#e805e1" stroke="#e805e1"/><polygon points="472.8,205.2 478.1,204.5 472.9,202.6 467.5,203.2" fill="#7f08cb" stroke="#7f08cb"/><polygon points="287.4,174.3 292.8,174.3 287.5,172.1 282.2,172" fill="#a707d3" stroke="#a707d3"/><polygon points="462.2,203.9 467.5,203.2 462.3,201.2 457,201.9" fill="#7f08cb" stroke="#7f08cb"/><polygon points="276.8,171.9 282.2,172 276.9,169.8 271.6,169.6" fill="#b206d6" stroke="#b206d6"/><polygon points="451.6,202.6 457,201.9 451.7,199.9 446.4,200.6" fill="#8008cb" stroke="#8008cb"/><polygon points="144.4,122.1 149.7,125.7 144.5,123 139.1,119.3" fill="#e805e1" stroke="#e805e1"/><polygon points="266.3,169.3 271.6,169.6 266.3,167.4 261,167.1" fill="#bf06d8" stroke="#bf06d8"/><polygon points="441,201.2 446.4,200.6 441.1,198.5 435.8,199.2" fill="#8008cb" stroke="#8008cb"/><polygon points="255.7,166.7 261,167.1 255.7,164.8 250.4,164.4" fill="#cd06db" stroke="#cd06db"/><polygon points="430.5,199.8 435.8,199.2 430.5,197.1 425.2,197.7" fill="#8108cb" stroke="#8108cb"/><polygon points="133.8,115 139.1,119.3 133.9,116.6 128.5,112.2" fill="#d805de" stroke="#d805de"/><polygon points="419.9,198.3 425.2,197.7 419.9,195.7 414.6,196.3" fill="#8108cb" stroke="#8108cb"/><polygon points="245.1,163.8 250.4,164.4 245.1,162.1 239.8,161.5" fill="#d006dc" stroke="#d006dc"/><polygon points="409.3,196.8 414.6,196.3 409.3,194.2 404,194.8" fill="#8208cc" stroke="#8208cc"/><polygon points="234.5,160.8 239.8,161.5 234.5,159.2 229.2,158.4" fill="#d406dd" stroke="#d406dd"/><polygon points="123.2,106.9 128.5,112.2 123.3,109.3 118,104" fill="#9f07d2" stroke="#9f07d2"/><polygon points="398.7,195.3 404,194.8 398.7,192.7 393.4,193.2" fill="#8308cc" stroke="#8308cc"/><polygon points="223.9,157.5 229.2,158.4 223.9,156.1 218.6,155.1" fill="#da05de" stroke="#da05de"/><polygon points="388.1,193.7 393.4,193.2 388.1,191.2 382.8,191.6" fill="#8408cc" stroke="#8408cc"/><polygon points="377.5,192.1 382.8,191.6 377.5,189.6 372.2,190" fill="#8508cc" stroke="#8508cc"/><polygon points="112.6,97.5 118,104 112.7,101.1 107.4,94.5" fill="#7708c9" stroke="#7708c9"/><polygon points="213.3,154 218.6,155.1 213.3,152.7 208,151.6" fill="#e205e0" stroke="#e205e0"/><polygon points="366.9,190.4 372.2,190 366.9,187.9 361.6,188.3" fill="#8608cc" stroke="#8608cc"/><polygon points="202.7,150.2 208,151.6 202.7,149.1 197.4,147.7" fill="#e805e1" stroke="#e805e1"/><polygon points="356.3,188.6 361.6,188.3 356.3,186.2 351,186.5" fill="#8708cd" stroke="#8708cd"/><polygon points="345.7,186.8 351,186.5 345.7,184.4 340.4,184.7" fill="#8808cd" stroke="#8808cd"/><polygon points="192.1,146 197.4,147.7 192.1,145.3 186.8,143.5" fill="#e805e1" stroke="#e805e1"/><polygon points="335.1,184.9 340.4,184.7 335.1,182.5 329.8,182.8" fill="#8a08cd" stroke="#8a08cd"/><polygon points="181.5,141.5 186.8,143.5 181.5,141 176.2,139" fill="#e805e1" stroke="#e805e1"/><polygon points="324.5,183 329.8,182.8 324.5,180.6 319.2,180.8" fill="#8d07ce" stroke="#8d07ce"/><polygon points="509.9,211 515.2,210.3 509.9,208.3 504.6,209" fill="#7e08cb" stroke="#7e08cb"/><polygon points="313.9,180.9 319.2,180.8 313.9,178.6 308.6,178.7" fill="#9407cf" stroke="#9407cf"/><polygon points="170.9,136.5 176.2,139 170.9,136.4 165.6,133.9" fill="#e805e1" stroke="#e805e1"/><polygon points="499.3,209.8 504.6,209 499.3,207.1 494,207.8" fill="#7e08cb" stroke="#7e08cb"/><polygon points="303.3,178.7 308.6,178.7 303.3,176.5 298,176.5" fill="#9b07d1" stroke="#9b07d1"/><polygon points="488.7,208.5 494,207.8 488.7,205.8 483.4,206.5" fill="#7e08cb" stroke="#7e08cb"/><polygon points="160.3,131 165.6,133.9 160.3,131.3 155,128.3" fill="#e805e1" stroke="#e805e1"/><polygon points="478.1,207.2 483.4,206.5 478.1,204.5 472.8,205.2" fill="#7f08cb" stroke="#7f08cb"/><polygon points="292.7,176.5 298,176.5 292.8,174.3 287.4,174.3" fill="#a407d3" stroke="#a407d3"/><polygon points="467.5,205.9 472.8,205.2 467.5,203.2 462.2,203.9" fill="#7f08cb" stroke="#7f08cb"/><polygon points="282.1,174.1 287.4,174.3 282.2,172 276.8,171.9" fill="#af07d5" stroke="#af07d5"/><polygon points="149.7,124.8 155,128.3 149.7,125.7 144.4,122.1" fill="#e805e1" stroke="#e805e1"/><polygon points="456.9,204.6 462.2,203.9 457,201.9 451.6,202.6" fill="#7f08cb" stroke="#7f08cb"/><polygon points="271.5,171.6 276.8,171.9 271.6,169.6 266.3,169.3" fill="#bc06d8" stroke="#bc06d8"/><polygon points="446.3,203.2 451.6,202.6 446.4,200.6 441,201.2" fill="#8008cb" stroke="#8008cb"/><polygon points="260.9,168.9 266.3,169.3 261,167.1 255.7,166.7" fill="#cc06db" stroke="#cc06db"/><polygon points="435.7,201.8 441,201.2 435.8,199.2 430.5,199.8" fill="#8008cb" stroke="#8008cb"/><polygon points="139.1,117.8 144.4,122.1 139.1,119.3 133.8,115" fill="#da05de" stroke="#da05de"/><polygon points="425.1,200.4 430.5,199.8 425.2,197.7 419.9,198.3" fill="#8108cb" stroke="#8108cb"/><polygon points="250.3,166.1 255.7,166.7 250.4,164.4 245.1,163.8" fill="#cf06dc" stroke="#cf06dc"/><polygon points="414.6,198.9 419.9,198.3 414.6,196.3 409.3,196.8" fill="#8208cc" stroke="#8208cc"/><polygon points="239.8,163.1 245.1,163.8 239.8,161.5 234.5,160.8" fill="#d306dd" stroke="#d306dd"/><polygon points="128.5,109.8 133.8,115 128.5,112.2 123.2,106.9" fill="#a907d4" stroke="#a907d4"/><polygon points="404,197.4 409.3,196.8 404,194.8 398.7,195.3" fill="#8208cc" stroke="#8208cc"/><polygon points="109.8,93.5 112.6,97.5 107.4,94.5 104.5,90.4" fill="#6908c6" stroke="#6908c6"/><polygon points="229.2,159.9 234.5,160.8 229.2,158.4 223.9,157.5" fill="#d905de" stroke="#d905de"/><polygon points="393.4,195.8 398.7,195.3 393.4,193.2 388.1,193.7" fill="#8308cc" stroke="#8308cc"/><polygon points="382.8,194.2 388.1,193.7 382.8,191.6 377.5,192.1" fill="#8408cc" stroke="#8408cc"/><polygon points="117.9,100.5 123.2,106.9 118,104 112.6,97.5" fill="#7908ca" stroke="#7908ca"/><polygon points="218.6,156.4 223.9,157.5 218.6,155.1 213.3,154" fill="#e005df" stroke="#e005df"/><polygon points="372.2,192.5 377.5,192.1 372.2,190 366.9,190.4" fill="#8508cc" stroke="#8508cc"/><polygon points="208,152.6 213.3,154 208,151.6 202.7,150.2" fill="#e805e1" stroke="#e805e1"/><polygon points="361.6,190.7 366.9,190.4 361.6,188.3 356.3,188.6" fill="#8608cd" stroke="#8608cd"/><polygon points="351,188.9 356.3,188.6 351,186.5 345.7,186.8" fill="#8808cd" stroke="#8808cd"/><polygon points="197.4,148.5 202.7,150.2 197.4,147.7 192.1,146" fill="#e805e1" stroke="#e805e1"/><polygon points="340.4,187.1 345.7,186.8 340.4,184.7 335.1,184.9" fill="#8908cd" stroke="#8908cd"/><polygon points="186.8,144.1 192.1,146 186.8,143.5 181.5,141.5" fill="#e805e1" stroke="#e805e1"/><polygon points="329.8,185.1 335.1,184.9 329.8,182.8 324.5,183" fill="#8b07ce" stroke="#8b07ce"/><polygon points="319.2,183.1 324.5,183 319.2,180.8 313.9,180.9" fill="#9207cf" stroke="#9207cf"/><polygon points="176.2,139.1 181.5,141.5 176.2,139 170.9,136.5" fill="#e805e1" stroke="#e805e1"/><polygon points="504.6,211.8 509.9,211 504.6,209 499.3,209.8" fill="#7e08cb" stroke="#7e08cb"/><polygon points="308.6,180.9 313.9,180.9 308.6,178.7 303.3,178.7" fill="#9907d0" stroke="#9907d0"/><polygon points="494,210.5 499.3,209.8 494,207.8 488.7,208.5" fill="#7e08cb" stroke="#7e08cb"/><polygon points="165.6,133.6 170.9,136.5 165.6,133.9 160.3,131" fill="#e805e1" stroke="#e805e1"/><polygon points="298,178.7 303.3,178.7 298,176.5 292.7,176.5" fill="#a207d2" stroke="#a207d2"/><polygon points="483.4,209.2 488.7,208.5 483.4,206.5 478.1,207.2" fill="#7e08cb" stroke="#7e08cb"/><polygon points="107.1,89.2 109.8,93.5 104.5,90.4 101.8,86.1" fill="#6109c5" stroke="#6109c5"/><polygon points="472.8,207.9 478.1,207.2 472.8,205.2 467.5,205.9" fill="#7f08cb" stroke="#7f08cb"/><polygon points="287.4,176.4 292.7,176.5 287.4,174.3 282.1,174.1" fill="#ac07d4" stroke="#ac07d4"/><polygon points="155,127.5 160.3,131 155,128.3 149.7,124.8" fill="#e805e1" stroke="#e805e1"/><polygon points="462.2,206.6 467.5,205.9 462.2,203.9 456.9,204.6" fill="#7f08cb" stroke="#7f08cb"/><polygon points="276.8,173.9 282.1,174.1 276.8,171.9 271.5,171.6" fill="#b806d7" stroke="#b806d7"/><polygon points="451.6,205.2 456.9,204.6 451.6,202.6 446.3,203.2" fill="#8008cb" stroke="#8008cb"/><polygon points="266.2,171.2 271.5,171.6 266.3,169.3 260.9,168.9" fill="#c806da" stroke="#c806da"/><polygon points="144.4,120.6 149.7,124.8 144.4,122.1 139.1,117.8" fill="#dd05df" stroke="#dd05df"/><polygon points="441,203.9 446.3,203.2 441,201.2 435.7,201.8" fill="#8008cb" stroke="#8008cb"/><polygon points="430.4,202.4 435.7,201.8 430.5,199.8 425.1,200.4" fill="#8108cb" stroke="#8108cb"/><polygon points="255.6,168.4 260.9,168.9 255.7,166.7 250.3,166.1" fill="#cf06dc" stroke="#cf06dc"/><polygon points="419.8,200.9 425.1,200.4 419.9,198.3 414.6,198.9" fill="#8108cb" stroke="#8108cb"/><polygon points="133.8,112.7 139.1,117.8 133.8,115 128.5,109.8" fill="#b306d6" stroke="#b306d6"/><polygon points="245,165.4 250.3,166.1 245.1,163.8 239.8,163.1" fill="#d306dc" stroke="#d306dc"/><polygon points="409.2,199.4 414.6,198.9 409.3,196.8 404,197.4" fill="#8208cc" stroke="#8208cc"/><polygon points="115.1,96.6 117.9,100.5 112.6,97.5 109.8,93.5" fill="#6a08c7" stroke="#6a08c7"/><polygon points="234.4,162.3 239.8,163.1 234.5,160.8 229.2,159.9" fill="#d805de" stroke="#d805de"/><polygon points="398.6,197.9 404,197.4 398.7,195.3 393.4,195.8" fill="#8308cc" stroke="#8308cc"/><polygon points="123.2,103.5 128.5,109.8 123.2,106.9 117.9,100.5" fill="#7b08ca" stroke="#7b08ca"/><polygon points="388.1,196.3 393.4,195.8 388.1,193.7 382.8,194.2" fill="#8408cc" stroke="#8408cc"/><polygon points="223.9,158.8 229.2,159.9 223.9,157.5 218.6,156.4" fill="#df05df" stroke="#df05df"/><polygon points="377.5,194.6 382.8,194.2 377.5,192.1 372.2,192.5" fill="#8508cc" stroke="#8508cc"/><polygon points="213.3,155.1 218.6,156.4 213.3,154 208,152.6" fill="#e805e1" stroke="#e805e1"/><polygon points="104.5,84.7 107.1,89.2 101.8,86.1 99.2,81.5" fill="#5a09c3" stroke="#5a09c3"/><polygon points="366.9,192.9 372.2,192.5 366.9,190.4 361.6,190.7" fill="#8608cc" stroke="#8608cc"/><polygon points="202.7,151 208,152.6 202.7,150.2 197.4,148.5" fill="#e805e1" stroke="#e805e1"/><polygon points="356.3,191.1 361.6,190.7 356.3,188.6 351,188.9" fill="#8708cd" stroke="#8708cd"/><polygon points="345.7,189.2 351,188.9 345.7,186.8 340.4,187.1" fill="#8908cd" stroke="#8908cd"/><polygon points="192.1,146.6 197.4,148.5 192.1,146 186.8,144.1" fill="#e805e1" stroke="#e805e1"/><polygon points="335.1,187.3 340.4,187.1 335.1,184.9 329.8,185.1" fill="#8b08cd" stroke="#8b08cd"/><polygon points="324.5,185.3 329.8,185.1 324.5,183 319.2,183.1" fill="#9007ce" stroke="#9007ce"/><polygon points="181.5,141.7 186.8,144.1 181.5,141.5 176.2,139.1" fill="#e805e1" stroke="#e805e1"/><polygon points="313.9,183.1 319.2,183.1 313.9,180.9 308.6,180.9" fill="#9707d0" stroke="#9707d0"/><polygon points="499.3,212.5 504.6,211.8 499.3,209.8 494,210.5" fill="#7e08cb" stroke="#7e08cb"/><polygon points="170.9,136.3 176.2,139.1 170.9,136.5 165.6,133.6" fill="#e805e1" stroke="#e805e1"/><polygon points="303.3,180.9 308.6,180.9 303.3,178.7 298,178.7" fill="#9f07d2" stroke="#9f07d2"/><polygon points="112.4,92.4 115.1,96.6 109.8,93.5 107.1,89.2" fill="#6209c5" stroke="#6209c5"/><polygon points="488.7,211.3 494,210.5 488.7,208.5 483.4,209.2" fill="#7e08cb" stroke="#7e08cb"/><polygon points="478.1,210 483.4,209.2 478.1,207.2 472.8,207.9" fill="#7e08cb" stroke="#7e08cb"/><polygon points="292.7,178.6 298,178.7 292.7,176.5 287.4,176.4" fill="#a907d4" stroke="#a907d4"/><polygon points="160.3,130.3 165.6,133.6 160.3,131 155,127.5" fill="#e805e1" stroke="#e805e1"/><polygon points="467.5,208.6 472.8,207.9 467.5,205.9 462.2,206.6" fill="#7f08cb" stroke="#7f08cb"/><polygon points="282.1,176.1 287.4,176.4 282.1,174.1 276.8,173.9" fill="#b506d6" stroke="#b506d6"/><polygon points="456.9,207.3 462.2,206.6 456.9,204.6 451.6,205.2" fill="#7f08cb" stroke="#7f08cb"/><polygon points="102,79.9 104.5,84.7 99.2,81.5 96.7,76.7" fill="#5509c2" stroke="#5509c2"/><polygon points="271.5,173.5 276.8,173.9 271.5,171.6 266.2,171.2" fill="#c406d9" stroke="#c406d9"/><polygon points="149.7,123.4 155,127.5 149.7,124.8 144.4,120.6" fill="#e005df" stroke="#e005df"/><polygon points="446.3,205.9 451.6,205.2 446.3,203.2 441,203.9" fill="#8008cb" stroke="#8008cb"/><polygon points="260.9,170.8 266.2,171.2 260.9,168.9 255.6,168.4" fill="#ce06dc" stroke="#ce06dc"/><polygon points="435.7,204.5 441,203.9 435.7,201.8 430.4,202.4" fill="#8008cb" stroke="#8008cb"/><polygon points="425.1,203 430.4,202.4 425.1,200.4 419.8,200.9" fill="#8108cb" stroke="#8108cb"/><polygon points="139.1,115.6 144.4,120.6 139.1,117.8 133.8,112.7" fill="#be06d8" stroke="#be06d8"/><polygon points="250.3,167.8 255.6,168.4 250.3,166.1 245,165.4" fill="#d206dc" stroke="#d206dc"/><polygon points="120.4,99.7 123.2,103.5 117.9,100.5 115.1,96.6" fill="#6c08c7" stroke="#6c08c7"/><polygon points="414.5,201.5 419.8,200.9 414.6,198.9 409.2,199.4" fill="#8208cc" stroke="#8208cc"/><polygon points="239.7,164.6 245,165.4 239.8,163.1 234.4,162.3" fill="#d705dd" stroke="#d705dd"/><polygon points="403.9,199.9 409.2,199.4 404,197.4 398.6,197.9" fill="#8208cc" stroke="#8208cc"/><polygon points="128.5,106.5 133.8,112.7 128.5,109.8 123.2,103.5" fill="#7e08cb" stroke="#7e08cb"/><polygon points="393.3,198.3 398.6,197.9 393.4,195.8 388.1,196.3" fill="#8308cc" stroke="#8308cc"/><polygon points="229.1,161.2 234.4,162.3 229.2,159.9 223.9,158.8" fill="#dd05df" stroke="#dd05df"/><polygon points="382.7,196.7 388.1,196.3 382.8,194.2 377.5,194.6" fill="#8408cc" stroke="#8408cc"/><polygon points="218.5,157.5 223.9,158.8 218.6,156.4 213.3,155.1" fill="#e605e1" stroke="#e605e1"/><polygon points="109.8,87.9 112.4,92.4 107.1,89.2 104.5,84.7" fill="#5b09c3" stroke="#5b09c3"/><polygon points="372.1,195 377.5,194.6 372.2,192.5 366.9,192.9" fill="#8508cc" stroke="#8508cc"/><polygon points="207.9,153.5 213.3,155.1 208,152.6 202.7,151" fill="#e805e1" stroke="#e805e1"/><polygon points="361.6,193.2 366.9,192.9 361.6,190.7 356.3,191.1" fill="#8708cd" stroke="#8708cd"/><polygon points="99.6,74.9 102,79.9 96.7,76.7 94.3,71.5" fill="#5009c1" stroke="#5009c1"/><polygon points="351,191.4 356.3,191.1 351,188.9 345.7,189.2" fill="#8808cd" stroke="#8808cd"/><polygon points="197.4,149.2 202.7,151 197.4,148.5 192.1,146.6" fill="#e805e1" stroke="#e805e1"/><polygon points="340.4,189.4 345.7,189.2 340.4,187.1 335.1,187.3" fill="#8a08cd" stroke="#8a08cd"/><polygon points="186.8,144.3 192.1,146.6 186.8,144.1 181.5,141.7" fill="#e805e1" stroke="#e805e1"/><polygon points="329.8,187.4 335.1,187.3 329.8,185.1 324.5,185.3" fill="#8e07ce" stroke="#8e07ce"/><polygon points="319.2,185.3 324.5,185.3 319.2,183.1 313.9,183.1" fill="#9407cf" stroke="#9407cf"/><polygon points="176.2,139 181.5,141.7 176.2,139.1 170.9,136.3" fill="#e805e1" stroke="#e805e1"/><polygon points="117.6,95.5 120.4,99.7 115.1,96.6 112.4,92.4" fill="#6309c5" stroke="#6309c5"/><polygon points="308.6,183.2 313.9,183.1 308.6,180.9 303.3,180.9" fill="#9d07d1" stroke="#9d07d1"/><polygon points="494,213.3 499.3,212.5 494,210.5 488.7,211.3" fill="#7e08cb" stroke="#7e08cb"/><polygon points="483.4,212 488.7,211.3 483.4,209.2 478.1,210" fill="#7e08cb" stroke="#7e08cb"/><polygon points="298,180.8 303.3,180.9 298,178.7 292.7,178.6" fill="#a607d3" stroke="#a607d3"/><polygon points="165.6,133 170.9,136.3 165.6,133.6 160.3,130.3" fill="#e805e1" stroke="#e805e1"/><polygon points="472.8,210.6 478.1,210 472.8,207.9 467.5,208.6" fill="#7f08cb" stroke="#7f08cb"/><polygon points="287.4,178.4 292.7,178.6 287.4,176.4 282.1,176.1" fill="#b206d6" stroke="#b206d6"/><polygon points="107.3,83.2 109.8,87.9 104.5,84.7 102,79.9" fill="#5609c2" stroke="#5609c2"/><polygon points="462.2,209.3 467.5,208.6 462.2,206.6 456.9,207.3" fill="#7f08cb" stroke="#7f08cb"/><polygon points="155,126.2 160.3,130.3 155,127.5 149.7,123.4" fill="#e305e0" stroke="#e305e0"/><polygon points="276.8,175.8 282.1,176.1 276.8,173.9 271.5,173.5" fill="#c006d9" stroke="#c006d9"/><polygon points="451.6,207.9 456.9,207.3 451.6,205.2 446.3,205.9" fill="#7f08cb" stroke="#7f08cb"/><polygon points="97.4,69.6 99.6,74.9 94.3,71.5 92.1,66.1" fill="#4c09c0" stroke="#4c09c0"/><polygon points="266.2,173.1 271.5,173.5 266.2,171.2 260.9,170.8" fill="#cd06db" stroke="#cd06db"/><polygon points="441,206.5 446.3,205.9 441,203.9 435.7,204.5" fill="#8008cb" stroke="#8008cb"/><polygon points="144.4,118.5 149.7,123.4 144.4,120.6 139.1,115.6" fill="#ca06db" stroke="#ca06db"/><polygon points="430.4,205.1 435.7,204.5 430.4,202.4 425.1,203" fill="#8108cb" stroke="#8108cb"/><polygon points="255.6,170.1 260.9,170.8 255.6,168.4 250.3,167.8" fill="#d106dc" stroke="#d106dc"/><polygon points="125.6,102.7 128.5,106.5 123.2,103.5 120.4,99.7" fill="#6e08c7" stroke="#6e08c7"/><polygon points="419.8,203.6 425.1,203 419.8,200.9 414.5,201.5" fill="#8108cb" stroke="#8108cb"/><polygon points="245,167 250.3,167.8 245,165.4 239.7,164.6" fill="#d505dd" stroke="#d505dd"/><polygon points="409.2,202 414.5,201.5 409.2,199.4 403.9,199.9" fill="#8208cc" stroke="#8208cc"/><polygon points="133.8,109.6 139.1,115.6 133.8,112.7 128.5,106.5" fill="#8008cb" stroke="#8008cb"/><polygon points="234.4,163.6 239.7,164.6 234.4,162.3 229.1,161.2" fill="#dc05de" stroke="#dc05de"/><polygon points="398.6,200.4 403.9,199.9 398.6,197.9 393.3,198.3" fill="#8308cc" stroke="#8308cc"/><polygon points="388,198.8 393.3,198.3 388.1,196.3 382.7,196.7" fill="#8408cc" stroke="#8408cc"/><polygon points="115,91.2 117.6,95.5 112.4,92.4 109.8,87.9" fill="#5c09c4" stroke="#5c09c4"/><polygon points="223.8,160 229.1,161.2 223.9,158.8 218.5,157.5" fill="#e505e0" stroke="#e505e0"/><polygon points="377.4,197.1 382.7,196.7 377.5,194.6 372.1,195" fill="#8508cc" stroke="#8508cc"/><polygon points="213.2,156 218.5,157.5 213.3,155.1 207.9,153.5" fill="#e805e1" stroke="#e805e1"/><polygon points="366.8,195.3 372.1,195 366.9,192.9 361.6,193.2" fill="#8608cc" stroke="#8608cc"/><polygon points="104.9,78.3 107.3,83.2 102,79.9 99.6,74.9" fill="#5109c1" stroke="#5109c1"/><polygon points="356.2,193.5 361.6,193.2 356.3,191.1 351,191.4" fill="#8808cd" stroke="#8808cd"/><polygon points="95.2,63.9 97.4,69.6 92.1,66.1 89.9,60.4" fill="#4909c0" stroke="#4909c0"/><polygon points="202.6,151.7 207.9,153.5 202.7,151 197.4,149.2" fill="#e805e1" stroke="#e805e1"/><polygon points="345.7,191.6 351,191.4 345.7,189.2 340.4,189.4" fill="#8908cd" stroke="#8908cd"/><polygon points="192,146.9 197.4,149.2 192.1,146.6 186.8,144.3" fill="#e805e1" stroke="#e805e1"/><polygon points="335.1,189.6 340.4,189.4 335.1,187.3 329.8,187.4" fill="#8c07ce" stroke="#8c07ce"/><polygon points="324.5,187.5 329.8,187.4 324.5,185.3 319.2,185.3" fill="#9207cf" stroke="#9207cf"/><polygon points="181.4,141.6 186.8,144.3 181.5,141.7 176.2,139" fill="#e805e1" stroke="#e805e1"/><polygon points="122.9,98.7 125.6,102.7 120.4,99.7 117.6,95.5" fill="#6509c5" stroke="#6509c5"/><polygon points="313.9,185.4 319.2,185.3 313.9,183.1 308.6,183.2" fill="#9a07d1" stroke="#9a07d1"/><polygon points="488.7,214 494,213.3 488.7,211.3 483.4,212" fill="#7e08cb" stroke="#7e08cb"/><polygon points="303.3,183.1 308.6,183.2 303.3,180.9 298,180.8" fill="#a307d3" stroke="#a307d3"/><polygon points="170.9,135.7 176.2,139 170.9,136.3 165.6,133" fill="#e805e1" stroke="#e805e1"/><polygon points="478.1,212.7 483.4,212 478.1,210 472.8,210.6" fill="#7e08cb" stroke="#7e08cb"/><polygon points="292.7,180.7 298,180.8 292.7,178.6 287.4,178.4" fill="#af07d5" stroke="#af07d5"/><polygon points="112.6,86.5 115,91.2 109.8,87.9 107.3,83.2" fill="#5709c3" stroke="#5709c3"/><polygon points="467.5,211.3 472.8,210.6 467.5,208.6 462.2,209.3" fill="#7f08cb" stroke="#7f08cb"/><polygon points="160.3,129 165.6,133 160.3,130.3 155,126.2" fill="#e605e1" stroke="#e605e1"/><polygon points="282.1,178.1 287.4,178.4 282.1,176.1 276.8,175.8" fill="#bc06d8" stroke="#bc06d8"/><polygon points="456.9,210 462.2,209.3 456.9,207.3 451.6,207.9" fill="#7f08cb" stroke="#7f08cb"/><polygon points="102.7,73 104.9,78.3 99.6,74.9 97.4,69.6" fill="#4d09c0" stroke="#4d09c0"/><polygon points="93.2,58 95.2,63.9 89.9,60.4 87.9,54.4" fill="#4609bf" stroke="#4609bf"/><polygon points="271.5,175.4 276.8,175.8 271.5,173.5 266.2,173.1" fill="#cc06db" stroke="#cc06db"/><polygon points="446.3,208.6 451.6,207.9 446.3,205.9 441,206.5" fill="#8008cb" stroke="#8008cb"/><polygon points="149.7,121.4 155,126.2 149.7,123.4 144.4,118.5" fill="#ce06db" stroke="#ce06db"/><polygon points="435.7,207.1 441,206.5 435.7,204.5 430.4,205.1" fill="#8008cb" stroke="#8008cb"/><polygon points="260.9,172.5 266.2,173.1 260.9,170.8 255.6,170.1" fill="#d006dc" stroke="#d006dc"/><polygon points="130.9,105.8 133.8,109.6 128.5,106.5 125.6,102.7" fill="#6f08c8" stroke="#6f08c8"/><polygon points="425.1,205.6 430.4,205.1 425.1,203 419.8,203.6" fill="#8108cb" stroke="#8108cb"/><polygon points="250.3,169.4 255.6,170.1 250.3,167.8 245,167" fill="#d406dd" stroke="#d406dd"/><polygon points="414.5,204.1 419.8,203.6 414.5,201.5 409.2,202" fill="#8208cc" stroke="#8208cc"/><polygon points="139.1,112.6 144.4,118.5 139.1,115.6 133.8,109.6" fill="#8308cc" stroke="#8308cc"/><polygon points="239.7,166.1 245,167 239.7,164.6 234.4,163.6" fill="#da05de" stroke="#da05de"/><polygon points="403.9,202.5 409.2,202 403.9,199.9 398.6,200.4" fill="#8308cc" stroke="#8308cc"/><polygon points="120.3,94.4 122.9,98.7 117.6,95.5 115,91.2" fill="#5e09c4" stroke="#5e09c4"/><polygon points="393.3,200.9 398.6,200.4 393.3,198.3 388,198.8" fill="#8308cc" stroke="#8308cc"/><polygon points="229.1,162.5 234.4,163.6 229.1,161.2 223.8,160" fill="#e305e0" stroke="#e305e0"/><polygon points="382.7,199.2 388,198.8 382.7,196.7 377.4,197.1" fill="#8508cc" stroke="#8508cc"/><polygon points="218.5,158.5 223.8,160 218.5,157.5 213.2,156" fill="#e805e1" stroke="#e805e1"/><polygon points="372.1,197.5 377.4,197.1 372.1,195 366.8,195.3" fill="#8608cc" stroke="#8608cc"/><polygon points="110.2,81.6 112.6,86.5 107.3,83.2 104.9,78.3" fill="#5209c1" stroke="#5209c1"/><polygon points="91.2,51.8 93.2,58 87.9,54.4 85.9,48" fill="#4409bf" stroke="#4409bf"/><polygon points="361.5,195.7 366.8,195.3 361.6,193.2 356.2,193.5" fill="#8708cd" stroke="#8708cd"/><polygon points="100.5,67.5 102.7,73 97.4,69.6 95.2,63.9" fill="#4a09c0" stroke="#4a09c0"/><polygon points="207.9,154.2 213.2,156 207.9,153.5 202.6,151.7" fill="#e805e1" stroke="#e805e1"/><polygon points="350.9,193.8 356.2,193.5 351,191.4 345.7,191.6" fill="#8908cd" stroke="#8908cd"/><polygon points="197.3,149.5 202.6,151.7 197.4,149.2 192,146.9" fill="#e805e1" stroke="#e805e1"/><polygon points="340.3,191.8 345.7,191.6 340.4,189.4 335.1,189.6" fill="#8b08cd" stroke="#8b08cd"/><polygon points="329.7,189.8 335.1,189.6 329.8,187.4 324.5,187.5" fill="#9007cf" stroke="#9007cf"/><polygon points="186.7,144.3 192,146.9 186.8,144.3 181.4,141.6" fill="#e805e1" stroke="#e805e1"/><polygon points="128.2,101.8 130.9,105.8 125.6,102.7 122.9,98.7" fill="#6608c6" stroke="#6608c6"/><polygon points="319.2,187.6 324.5,187.5 319.2,185.3 313.9,185.4" fill="#9807d0" stroke="#9807d0"/><polygon points="308.6,185.3 313.9,185.4 308.6,183.2 303.3,183.1" fill="#a107d2" stroke="#a107d2"/><polygon points="176.1,138.4 181.4,141.6 176.2,139 170.9,135.7" fill="#e805e1" stroke="#e805e1"/><polygon points="483.4,214.7 488.7,214 483.4,212 478.1,212.7" fill="#7e08cb" stroke="#7e08cb"/><polygon points="298,182.9 303.3,183.1 298,180.8 292.7,180.7" fill="#ab07d4" stroke="#ab07d4"/><polygon points="117.8,89.8 120.3,94.4 115,91.2 112.6,86.5" fill="#5809c3" stroke="#5809c3"/><polygon points="472.8,213.4 478.1,212.7 472.8,210.6 467.5,211.3" fill="#7e08cb" stroke="#7e08cb"/><polygon points="165.5,131.8 170.9,135.7 165.6,133 160.3,129" fill="#e805e1" stroke="#e805e1"/><polygon points="287.4,180.4 292.7,180.7 287.4,178.4 282.1,178.1" fill="#b906d7" stroke="#b906d7"/><polygon points="89.3,45.2 91.2,51.8 85.9,48 84.1,41.3" fill="#4209be" stroke="#4209be"/><polygon points="107.9,76.5 110.2,81.6 104.9,78.3 102.7,73" fill="#4e09c1" stroke="#4e09c1"/><polygon points="462.2,212 467.5,211.3 462.2,209.3 456.9,210" fill="#7f08cb" stroke="#7f08cb"/><polygon points="98.5,61.6 100.5,67.5 95.2,63.9 93.2,58" fill="#4709bf" stroke="#4709bf"/><polygon points="276.8,177.7 282.1,178.1 276.8,175.8 271.5,175.4" fill="#c906db" stroke="#c906db"/><polygon points="451.6,210.6 456.9,210 451.6,207.9 446.3,208.6" fill="#7f08cb" stroke="#7f08cb"/><polygon points="154.9,124.3 160.3,129 155,126.2 149.7,121.4" fill="#d006dc" stroke="#d006dc"/><polygon points="441,209.2 446.3,208.6 441,206.5 435.7,207.1" fill="#8008cb" stroke="#8008cb"/><polygon points="266.2,174.8 271.5,175.4 266.2,173.1 260.9,172.5" fill="#cf06dc" stroke="#cf06dc"/><polygon points="136.2,108.9 139.1,112.6 133.8,109.6 130.9,105.8" fill="#7108c8" stroke="#7108c8"/><polygon points="430.4,207.7 435.7,207.1 430.4,205.1 425.1,205.6" fill="#8108cb" stroke="#8108cb"/><polygon points="255.6,171.8 260.9,172.5 255.6,170.1 250.3,169.4" fill="#d306dd" stroke="#d306dd"/><polygon points="419.8,206.2 425.1,205.6 419.8,203.6 414.5,204.1" fill="#8108cb" stroke="#8108cb"/><polygon points="144.4,115.6 149.7,121.4 144.4,118.5 139.1,112.6" fill="#8508cc" stroke="#8508cc"/><polygon points="245,168.5 250.3,169.4 245,167 239.7,166.1" fill="#d905de" stroke="#d905de"/><polygon points="409.2,204.6 414.5,204.1 409.2,202 403.9,202.5" fill="#8208cc" stroke="#8208cc"/><polygon points="125.6,97.6 128.2,101.8 122.9,98.7 120.3,94.4" fill="#5f09c4" stroke="#5f09c4"/><polygon points="398.6,203 403.9,202.5 398.6,200.4 393.3,200.9" fill="#8308cc" stroke="#8308cc"/><polygon points="234.4,164.9 239.7,166.1 234.4,163.6 229.1,162.5" fill="#e105e0" stroke="#e105e0"/><polygon points="388,201.3 393.3,200.9 388,198.8 382.7,199.2" fill="#8408cc" stroke="#8408cc"/><polygon points="87.6,38.2 89.3,45.2 84.1,41.3 82.3,34.3" fill="#400abe" stroke="#400abe"/><polygon points="223.8,161 229.1,162.5 223.8,160 218.5,158.5" fill="#e805e1" stroke="#e805e1"/><polygon points="115.5,85 117.8,89.8 112.6,86.5 110.2,81.6" fill="#5309c2" stroke="#5309c2"/><polygon points="377.4,199.6 382.7,199.2 377.4,197.1 372.1,197.5" fill="#8508cc" stroke="#8508cc"/><polygon points="96.5,55.5 98.5,61.6 93.2,58 91.2,51.8" fill="#4409bf" stroke="#4409bf"/><polygon points="105.8,71 107.9,76.5 102.7,73 100.5,67.5" fill="#4a09c0" stroke="#4a09c0"/><polygon points="366.8,197.8 372.1,197.5 366.8,195.3 361.5,195.7" fill="#8708cd" stroke="#8708cd"/><polygon points="213.2,156.8 218.5,158.5 213.2,156 207.9,154.2" fill="#e805e1" stroke="#e805e1"/><polygon points="356.2,195.9 361.5,195.7 356.2,193.5 350.9,193.8" fill="#8808cd" stroke="#8808cd"/><polygon points="202.6,152.1 207.9,154.2 202.6,151.7 197.3,149.5" fill="#e805e1" stroke="#e805e1"/><polygon points="345.6,194 350.9,193.8 345.7,191.6 340.3,191.8" fill="#8a08cd" stroke="#8a08cd"/><polygon points="335,192 340.3,191.8 335.1,189.6 329.7,189.8" fill="#8e07ce" stroke="#8e07ce"/><polygon points="192,147 197.3,149.5 192,146.9 186.7,144.3" fill="#e805e1" stroke="#e805e1"/><polygon points="133.5,105 136.2,108.9 130.9,105.8 128.2,101.8" fill="#6808c6" stroke="#6808c6"/><polygon points="324.4,189.8 329.7,189.8 324.5,187.5 319.2,187.6" fill="#9507d0" stroke="#9507d0"/><polygon points="181.4,141.2 186.7,144.3 181.4,141.6 176.1,138.4" fill="#e805e1" stroke="#e805e1"/><polygon points="313.8,187.6 319.2,187.6 313.9,185.4 308.6,185.3" fill="#9e07d1" stroke="#9e07d1"/><polygon points="85.9,30.9 87.6,38.2 82.3,34.3 80.6,26.9" fill="#3e0abd" stroke="#3e0abd"/><polygon points="123.1,93.1 125.6,97.6 120.3,94.4 117.8,89.8" fill="#5909c3" stroke="#5909c3"/><polygon points="303.2,185.2 308.6,185.3 303.3,183.1 298,182.9" fill="#a807d4" stroke="#a807d4"/><polygon points="478,215.4 483.4,214.7 478.1,212.7 472.8,213.4" fill="#7e08cb" stroke="#7e08cb"/><polygon points="170.8,134.6 176.1,138.4 170.9,135.7 165.5,131.8" fill="#e805e1" stroke="#e805e1"/><polygon points="94.6,49 96.5,55.5 91.2,51.8 89.3,45.2" fill="#4209be" stroke="#4209be"/><polygon points="292.7,182.7 298,182.9 292.7,180.7 287.4,180.4" fill="#b506d6" stroke="#b506d6"/><polygon points="113.2,79.9 115.5,85 110.2,81.6 107.9,76.5" fill="#4e09c1" stroke="#4e09c1"/><polygon points="103.7,65.3 105.8,71 100.5,67.5 98.5,61.6" fill="#4709bf" stroke="#4709bf"/><polygon points="467.5,214 472.8,213.4 467.5,211.3 462.2,212" fill="#7f08cb" stroke="#7f08cb"/><polygon points="282.1,180 287.4,180.4 282.1,178.1 276.8,177.7" fill="#c506da" stroke="#c506da"/><polygon points="456.9,212.6 462.2,212 456.9,210 451.6,210.6" fill="#7f08cb" stroke="#7f08cb"/><polygon points="160.2,127.2 165.5,131.8 160.3,129 154.9,124.3" fill="#d206dc" stroke="#d206dc"/><polygon points="141.5,112 144.4,115.6 139.1,112.6 136.2,108.9" fill="#7308c9" stroke="#7308c9"/><polygon points="446.3,211.2 451.6,210.6 446.3,208.6 441,209.2" fill="#8008cb" stroke="#8008cb"/><polygon points="271.5,177.2 276.8,177.7 271.5,175.4 266.2,174.8" fill="#ce06dc" stroke="#ce06dc"/><polygon points="435.7,209.8 441,209.2 435.7,207.1 430.4,207.7" fill="#8008cb" stroke="#8008cb"/><polygon points="260.9,174.2 266.2,174.8 260.9,172.5 255.6,171.8" fill="#d206dc" stroke="#d206dc"/><polygon points="149.6,118.6 154.9,124.3 149.7,121.4 144.4,115.6" fill="#8808cd" stroke="#8808cd"/><polygon points="425.1,208.3 430.4,207.7 425.1,205.6 419.8,206.2" fill="#8108cb" stroke="#8108cb"/><polygon points="250.3,170.9 255.6,171.8 250.3,169.4 245,168.5" fill="#d805de" stroke="#d805de"/><polygon points="414.5,206.7 419.8,206.2 414.5,204.1 409.2,204.6" fill="#8208cc" stroke="#8208cc"/><polygon points="84.2,23.2 85.9,30.9 80.6,26.9 78.9,19.1" fill="#3d0abd" stroke="#3d0abd"/><polygon points="130.9,100.8 133.5,105 128.2,101.8 125.6,97.6" fill="#6009c4" stroke="#6009c4"/><polygon points="403.9,205.1 409.2,204.6 403.9,202.5 398.6,203" fill="#8308cc" stroke="#8308cc"/><polygon points="239.7,167.4 245,168.5 239.7,166.1 234.4,164.9" fill="#df05df" stroke="#df05df"/><polygon points="393.3,203.5 398.6,203 393.3,200.9 388,201.3" fill="#8408cc" stroke="#8408cc"/><polygon points="92.8,42.2 94.6,49 89.3,45.2 87.6,38.2" fill="#400abe" stroke="#400abe"/><polygon points="229.1,163.5 234.4,164.9 229.1,162.5 223.8,161" fill="#e805e1" stroke="#e805e1"/><polygon points="120.8,88.4 123.1,93.1 117.8,89.8 115.5,85" fill="#5309c2" stroke="#5309c2"/><polygon points="382.7,201.7 388,201.3 382.7,199.2 377.4,199.6" fill="#8508cc" stroke="#8508cc"/><polygon points="101.8,59.2 103.7,65.3 98.5,61.6 96.5,55.5" fill="#4509bf" stroke="#4509bf"/><polygon points="111.1,74.6 113.2,79.9 107.9,76.5 105.8,71" fill="#4b09c0" stroke="#4b09c0"/><polygon points="372.1,200 377.4,199.6 372.1,197.5 366.8,197.8" fill="#8608cc" stroke="#8608cc"/><polygon points="218.5,159.3 223.8,161 218.5,158.5 213.2,156.8" fill="#e805e1" stroke="#e805e1"/><polygon points="361.5,198.1 366.8,197.8 361.5,195.7 356.2,195.9" fill="#8808cd" stroke="#8808cd"/><polygon points="207.9,154.7 213.2,156.8 207.9,154.2 202.6,152.1" fill="#e805e1" stroke="#e805e1"/><polygon points="350.9,196.2 356.2,195.9 350.9,193.8 345.6,194" fill="#8908cd" stroke="#8908cd"/><polygon points="340.3,194.2 345.6,194 340.3,191.8 335,192" fill="#8c07ce" stroke="#8c07ce"/><polygon points="138.8,108.1 141.5,112 136.2,108.9 133.5,105" fill="#6908c6" stroke="#6908c6"/><polygon points="197.3,149.6 202.6,152.1 197.3,149.5 192,147" fill="#e805e1" stroke="#e805e1"/><polygon points="82.7,15.2 84.2,23.2 78.9,19.1 77.4,10.9" fill="#3b0abd" stroke="#3b0abd"/><polygon points="329.7,192 335,192 329.7,189.8 324.4,189.8" fill="#9307cf" stroke="#9307cf"/><polygon points="186.7,143.9 192,147 186.7,144.3 181.4,141.2" fill="#e805e1" stroke="#e805e1"/><polygon points="319.1,189.8 324.4,189.8 319.2,187.6 313.8,187.6" fill="#9b07d1" stroke="#9b07d1"/><polygon points="91.1,35 92.8,42.2 87.6,38.2 85.9,30.9" fill="#3e0abd" stroke="#3e0abd"/><polygon points="128.4,96.4 130.9,100.8 125.6,97.6 123.1,93.1" fill="#5a09c3" stroke="#5a09c3"/><polygon points="308.5,187.5 313.8,187.6 308.6,185.3 303.2,185.2" fill="#a507d3" stroke="#a507d3"/><polygon points="99.9,52.8 101.8,59.2 96.5,55.5 94.6,49" fill="#4209be" stroke="#4209be"/><polygon points="176.1,137.5 181.4,141.2 176.1,138.4 170.8,134.6" fill="#e805e1" stroke="#e805e1"/><polygon points="118.5,83.4 120.8,88.4 115.5,85 113.2,79.9" fill="#4f09c1" stroke="#4f09c1"/><polygon points="297.9,185 303.2,185.2 298,182.9 292.7,182.7" fill="#b206d6" stroke="#b206d6"/><polygon points="109,68.9 111.1,74.6 105.8,71 103.7,65.3" fill="#4809bf" stroke="#4809bf"/><polygon points="472.7,216.1 478,215.4 472.8,213.4 467.5,214" fill="#7e08cb" stroke="#7e08cb"/><polygon points="287.3,182.3 292.7,182.7 287.4,180.4 282.1,180" fill="#c106d9" stroke="#c106d9"/><polygon points="462.1,214.7 467.5,214 462.2,212 456.9,212.6" fill="#7f08cb" stroke="#7f08cb"/><polygon points="165.5,130.1 170.8,134.6 165.5,131.8 160.2,127.2" fill="#d506dd" stroke="#d506dd"/><polygon points="146.8,115 149.6,118.6 144.4,115.6 141.5,112" fill="#7608c9" stroke="#7608c9"/><polygon points="276.7,179.5 282.1,180 276.8,177.7 271.5,177.2" fill="#cd06db" stroke="#cd06db"/><polygon points="451.5,213.3 456.9,212.6 451.6,210.6 446.3,211.2" fill="#7f08cb" stroke="#7f08cb"/><polygon points="81.2,6.7 82.7,15.2 77.4,10.9 75.9,2.3" fill="#3a0abd" stroke="#3a0abd"/><polygon points="441,211.8 446.3,211.2 441,209.2 435.7,209.8" fill="#8008cb" stroke="#8008cb"/><polygon points="266.2,176.5 271.5,177.2 266.2,174.8 260.9,174.2" fill="#d106dc" stroke="#d106dc"/><polygon points="154.9,121.6 160.2,127.2 154.9,124.3 149.6,118.6" fill="#8c07ce" stroke="#8c07ce"/><polygon points="430.4,210.3 435.7,209.8 430.4,207.7 425.1,208.3" fill="#8108cb" stroke="#8108cb"/><polygon points="255.6,173.3 260.9,174.2 255.6,171.8 250.3,170.9" fill="#d705dd" stroke="#d705dd"/><polygon points="89.5,27.4 91.1,35 85.9,30.9 84.2,23.2" fill="#3d0abd" stroke="#3d0abd"/><polygon points="419.8,208.8 425.1,208.3 419.8,206.2 414.5,206.7" fill="#8108cb" stroke="#8108cb"/><polygon points="136.2,104 138.8,108.1 133.5,105 130.9,100.8" fill="#6109c5" stroke="#6109c5"/><polygon points="409.2,207.2 414.5,206.7 409.2,204.6 403.9,205.1" fill="#8208cc" stroke="#8208cc"/><polygon points="245,169.8 250.3,170.9 245,168.5 239.7,167.4" fill="#de05df" stroke="#de05df"/><polygon points="98.1,46.1 99.9,52.8 94.6,49 92.8,42.2" fill="#400abe" stroke="#400abe"/><polygon points="398.6,205.6 403.9,205.1 398.6,203 393.3,203.5" fill="#8308cc" stroke="#8308cc"/><polygon points="126.1,91.8 128.4,96.4 123.1,93.1 120.8,88.4" fill="#5409c2" stroke="#5409c2"/><polygon points="234.4,166 239.7,167.4 234.4,164.9 229.1,163.5" fill="#e805e1" stroke="#e805e1"/><polygon points="107.1,62.9 109,68.9 103.7,65.3 101.8,59.2" fill="#4509bf" stroke="#4509bf"/><polygon points="388,203.9 393.3,203.5 388,201.3 382.7,201.7" fill="#8408cc" stroke="#8408cc"/><polygon points="116.4,78.1 118.5,83.4 113.2,79.9 111.1,74.6" fill="#4b09c0" stroke="#4b09c0"/><polygon points="377.4,202.1 382.7,201.7 377.4,199.6 372.1,200" fill="#8608cc" stroke="#8608cc"/><polygon points="223.8,161.9 229.1,163.5 223.8,161 218.5,159.3" fill="#e805e1" stroke="#e805e1"/><polygon points="366.8,200.3 372.1,200 366.8,197.8 361.5,198.1" fill="#8708cd" stroke="#8708cd"/><polygon points="213.2,157.3 218.5,159.3 213.2,156.8 207.9,154.7" fill="#e805e1" stroke="#e805e1"/><polygon points="356.2,198.4 361.5,198.1 356.2,195.9 350.9,196.2" fill="#8908cd" stroke="#8908cd"/><polygon points="88,19.4 89.5,27.4 84.2,23.2 82.7,15.2" fill="#3c0abd" stroke="#3c0abd"/><polygon points="144.1,111.3 146.8,115 141.5,112 138.8,108.1" fill="#6b08c7" stroke="#6b08c7"/><polygon points="345.6,196.4 350.9,196.2 345.6,194 340.3,194.2" fill="#8b08cd" stroke="#8b08cd"/><polygon points="202.6,152.3 207.9,154.7 202.6,152.1 197.3,149.6" fill="#e805e1" stroke="#e805e1"/><polygon points="335,194.3 340.3,194.2 335,192 329.7,192" fill="#9107cf" stroke="#9107cf"/><polygon points="192,146.6 197.3,149.6 192,147 186.7,143.9" fill="#e805e1" stroke="#e805e1"/><polygon points="96.4,39 98.1,46.1 92.8,42.2 91.1,35" fill="#3f0abd" stroke="#3f0abd"/><polygon points="324.4,192.1 329.7,192 324.4,189.8 319.1,189.8" fill="#9907d0" stroke="#9907d0"/><polygon points="133.7,99.7 136.2,104 130.9,100.8 128.4,96.4" fill="#5b09c3" stroke="#5b09c3"/><polygon points="313.8,189.7 319.1,189.8 313.8,187.6 308.5,187.5" fill="#a207d2" stroke="#a207d2"/><polygon points="105.2,56.7 107.1,62.9 101.8,59.2 99.9,52.8" fill="#4309be" stroke="#4309be"/><polygon points="181.4,140.3 186.7,143.9 181.4,141.2 176.1,137.5" fill="#e805e1" stroke="#e805e1"/><polygon points="123.8,86.8 126.1,91.8 120.8,88.4 118.5,83.4" fill="#5009c1" stroke="#5009c1"/><polygon points="114.3,72.5 116.4,78.1 111.1,74.6 109,68.9" fill="#4809bf" stroke="#4809bf"/><polygon points="303.2,187.3 308.5,187.5 303.2,185.2 297.9,185" fill="#ae07d5" stroke="#ae07d5"/><polygon points="292.6,184.7 297.9,185 292.7,182.7 287.3,182.3" fill="#bd06d8" stroke="#bd06d8"/><polygon points="170.8,133 176.1,137.5 170.8,134.6 165.5,130.1" fill="#d705de" stroke="#d705de"/><polygon points="467.4,216.7 472.7,216.1 467.5,214 462.1,214.7" fill="#7f08cb" stroke="#7f08cb"/><polygon points="152.1,118.1 154.9,121.6 149.6,118.6 146.8,115" fill="#7808ca" stroke="#7808ca"/><polygon points="86.5,11.1 88,19.4 82.7,15.2 81.2,6.7" fill="#3a0abd" stroke="#3a0abd"/><polygon points="282,181.9 287.3,182.3 282.1,180 276.7,179.5" fill="#cd06db" stroke="#cd06db"/><polygon points="456.8,215.3 462.1,214.7 456.9,212.6 451.5,213.3" fill="#7f08cb" stroke="#7f08cb"/><polygon points="446.2,213.9 451.5,213.3 446.3,211.2 441,211.8" fill="#8008cb" stroke="#8008cb"/><polygon points="271.4,178.9 276.7,179.5 271.5,177.2 266.2,176.5" fill="#d006dc" stroke="#d006dc"/><polygon points="160.2,124.6 165.5,130.1 160.2,127.2 154.9,121.6" fill="#9607d0" stroke="#9607d0"/><polygon points="435.6,212.4 441,211.8 435.7,209.8 430.4,210.3" fill="#8008cb" stroke="#8008cb"/><polygon points="94.8,31.6 96.4,39 91.1,35 89.5,27.4" fill="#3d0abd" stroke="#3d0abd"/><polygon points="260.8,175.7 266.2,176.5 260.9,174.2 255.6,173.3" fill="#d506dd" stroke="#d506dd"/><polygon points="425,210.9 430.4,210.3 425.1,208.3 419.8,208.8" fill="#8108cb" stroke="#8108cb"/><polygon points="141.5,107.2 144.1,111.3 138.8,108.1 136.2,104" fill="#6309c5" stroke="#6309c5"/><polygon points="414.5,209.3 419.8,208.8 414.5,206.7 409.2,207.2" fill="#8208cc" stroke="#8208cc"/><polygon points="250.3,172.3 255.6,173.3 250.3,170.9 245,169.8" fill="#dc05df" stroke="#dc05df"/><polygon points="103.4,50 105.2,56.7 99.9,52.8 98.1,46.1" fill="#4109be" stroke="#4109be"/><polygon points="403.9,207.7 409.2,207.2 403.9,205.1 398.6,205.6" fill="#8308cc" stroke="#8308cc"/><polygon points="131.3,95.1 133.7,99.7 128.4,96.4 126.1,91.8" fill="#5509c2" stroke="#5509c2"/><polygon points="239.7,168.5 245,169.8 239.7,167.4 234.4,166" fill="#e605e1" stroke="#e605e1"/><polygon points="112.3,66.7 114.3,72.5 109,68.9 107.1,62.9" fill="#4509bf" stroke="#4509bf"/><polygon points="121.6,81.7 123.8,86.8 118.5,83.4 116.4,78.1" fill="#4c09c0" stroke="#4c09c0"/><polygon points="393.3,206 398.6,205.6 393.3,203.5 388,203.9" fill="#8408cc" stroke="#8408cc"/><polygon points="85.1,2.3 86.5,11.1 81.2,6.7 79.8,-2.3" fill="#390abc" stroke="#390abc"/><polygon points="229.1,164.4 234.4,166 229.1,163.5 223.8,161.9" fill="#e805e1" stroke="#e805e1"/><polygon points="382.7,204.3 388,203.9 382.7,201.7 377.4,202.1" fill="#8508cc" stroke="#8508cc"/><polygon points="372.1,202.4 377.4,202.1 372.1,200 366.8,200.3" fill="#8608cd" stroke="#8608cd"/><polygon points="218.5,159.9 223.8,161.9 218.5,159.3 213.2,157.3" fill="#e805e1" stroke="#e805e1"/><polygon points="361.5,200.5 366.8,200.3 361.5,198.1 356.2,198.4" fill="#8808cd" stroke="#8808cd"/><polygon points="93.3,23.7 94.8,31.6 89.5,27.4 88,19.4" fill="#3c0abd" stroke="#3c0abd"/><polygon points="149.3,114.4 152.1,118.1 146.8,115 144.1,111.3" fill="#6d08c7" stroke="#6d08c7"/><polygon points="350.9,198.6 356.2,198.4 350.9,196.2 345.6,196.4" fill="#8a08cd" stroke="#8a08cd"/><polygon points="207.9,154.9 213.2,157.3 207.9,154.7 202.6,152.3" fill="#e805e1" stroke="#e805e1"/><polygon points="340.3,196.5 345.6,196.4 340.3,194.2 335,194.3" fill="#8e07ce" stroke="#8e07ce"/><polygon points="101.7,43.1 103.4,50 98.1,46.1 96.4,39" fill="#3f0abe" stroke="#3f0abe"/><polygon points="197.3,149.4 202.6,152.3 197.3,149.6 192,146.6" fill="#e805e1" stroke="#e805e1"/><polygon points="329.7,194.3 335,194.3 329.7,192 324.4,192.1" fill="#9607d0" stroke="#9607d0"/><polygon points="139,103 141.5,107.2 136.2,104 133.7,99.7" fill="#5c09c4" stroke="#5c09c4"/><polygon points="110.5,60.5 112.3,66.7 107.1,62.9 105.2,56.7" fill="#4309be" stroke="#4309be"/><polygon points="319.1,192 324.4,192.1 319.1,189.8 313.8,189.7" fill="#9f07d2" stroke="#9f07d2"/><polygon points="186.7,143.1 192,146.6 186.7,143.9 181.4,140.3" fill="#e805e1" stroke="#e805e1"/><polygon points="129.1,90.3 131.3,95.1 126.1,91.8 123.8,86.8" fill="#5109c1" stroke="#5109c1"/><polygon points="119.6,76.2 121.6,81.7 116.4,78.1 114.3,72.5" fill="#4909c0" stroke="#4909c0"/><polygon points="308.5,189.6 313.8,189.7 308.5,187.5 303.2,187.3" fill="#ab07d4" stroke="#ab07d4"/><polygon points="297.9,187 303.2,187.3 297.9,185 292.6,184.7" fill="#b906d7" stroke="#b906d7"/><polygon points="176.1,135.9 181.4,140.3 176.1,137.5 170.8,133" fill="#da05de" stroke="#da05de"/><polygon points="157.4,121.2 160.2,124.6 154.9,121.6 152.1,118.1" fill="#7a08ca" stroke="#7a08ca"/><polygon points="91.8,15.5 93.3,23.7 88,19.4 86.5,11.1" fill="#3b0abd" stroke="#3b0abd"/><polygon points="287.3,184.2 292.6,184.7 287.3,182.3 282,181.9" fill="#ca06db" stroke="#ca06db"/><polygon points="462.1,217.4 467.4,216.7 462.1,214.7 456.8,215.3" fill="#7f08cb" stroke="#7f08cb"/><polygon points="451.5,216 456.8,215.3 451.5,213.3 446.2,213.9" fill="#7f08cb" stroke="#7f08cb"/><polygon points="276.7,181.3 282,181.9 276.7,179.5 271.4,178.9" fill="#cf06dc" stroke="#cf06dc"/><polygon points="165.5,127.6 170.8,133 165.5,130.1 160.2,124.6" fill="#a107d2" stroke="#a107d2"/><polygon points="440.9,214.5 446.2,213.9 441,211.8 435.6,212.4" fill="#8008cb" stroke="#8008cb"/><polygon points="100.1,35.7 101.7,43.1 96.4,39 94.8,31.6" fill="#3d0abd" stroke="#3d0abd"/><polygon points="266.1,178.1 271.4,178.9 266.2,176.5 260.8,175.7" fill="#d406dd" stroke="#d406dd"/><polygon points="146.8,110.5 149.3,114.4 144.1,111.3 141.5,107.2" fill="#6409c5" stroke="#6409c5"/><polygon points="430.3,213 435.6,212.4 430.4,210.3 425,210.9" fill="#8108cb" stroke="#8108cb"/><polygon points="255.5,174.7 260.8,175.7 255.6,173.3 250.3,172.3" fill="#db05de" stroke="#db05de"/><polygon points="419.7,211.4 425,210.9 419.8,208.8 414.5,209.3" fill="#8108cb" stroke="#8108cb"/><polygon points="108.7,54 110.5,60.5 105.2,56.7 103.4,50" fill="#4109be" stroke="#4109be"/><polygon points="136.6,98.5 139,103 133.7,99.7 131.3,95.1" fill="#5609c2" stroke="#5609c2"/><polygon points="409.1,209.8 414.5,209.3 409.2,207.2 403.9,207.7" fill="#8208cc" stroke="#8208cc"/><polygon points="117.6,70.4 119.6,76.2 114.3,72.5 112.3,66.7" fill="#4609bf" stroke="#4609bf"/><polygon points="244.9,171 250.3,172.3 245,169.8 239.7,168.5" fill="#e405e0" stroke="#e405e0"/><polygon points="126.9,85.2 129.1,90.3 123.8,86.8 121.6,81.7" fill="#4d09c0" stroke="#4d09c0"/><polygon points="398.5,208.1 403.9,207.7 398.6,205.6 393.3,206" fill="#8308cc" stroke="#8308cc"/><polygon points="90.4,6.8 91.8,15.5 86.5,11.1 85.1,2.3" fill="#3a0abc" stroke="#3a0abc"/><polygon points="234.3,167 239.7,168.5 234.4,166 229.1,164.4" fill="#e805e1" stroke="#e805e1"/><polygon points="388,206.4 393.3,206 388,203.9 382.7,204.3" fill="#8408cc" stroke="#8408cc"/><polygon points="377.4,204.6 382.7,204.3 377.4,202.1 372.1,202.4" fill="#8608cc" stroke="#8608cc"/><polygon points="223.8,162.5 229.1,164.4 223.8,161.9 218.5,159.9" fill="#e805e1" stroke="#e805e1"/><polygon points="366.8,202.7 372.1,202.4 366.8,200.3 361.5,200.5" fill="#8708cd" stroke="#8708cd"/><polygon points="98.5,28 100.1,35.7 94.8,31.6 93.3,23.7" fill="#3c0abd" stroke="#3c0abd"/><polygon points="154.6,117.5 157.4,121.2 152.1,118.1 149.3,114.4" fill="#6f08c8" stroke="#6f08c8"/><polygon points="213.2,157.6 218.5,159.9 213.2,157.3 207.9,154.9" fill="#e805e1" stroke="#e805e1"/><polygon points="356.2,200.8 361.5,200.5 356.2,198.4 350.9,198.6" fill="#8908cd" stroke="#8908cd"/><polygon points="345.6,198.7 350.9,198.6 345.6,196.4 340.3,196.5" fill="#8c07ce" stroke="#8c07ce"/><polygon points="107,47.1 108.7,54 103.4,50 101.7,43.1" fill="#3f0abe" stroke="#3f0abe"/><polygon points="202.6,152.1 207.9,154.9 202.6,152.3 197.3,149.4" fill="#e805e1" stroke="#e805e1"/><polygon points="335,196.5 340.3,196.5 335,194.3 329.7,194.3" fill="#9407cf" stroke="#9407cf"/><polygon points="144.3,106.3 146.8,110.5 141.5,107.2 139,103" fill="#5d09c4" stroke="#5d09c4"/><polygon points="115.8,64.3 117.6,70.4 112.3,66.7 110.5,60.5" fill="#4409bf" stroke="#4409bf"/><polygon points="324.4,194.3 329.7,194.3 324.4,192.1 319.1,192" fill="#9d07d1" stroke="#9d07d1"/><polygon points="134.4,93.8 136.6,98.5 131.3,95.1 129.1,90.3" fill="#5109c1" stroke="#5109c1"/><polygon points="192,145.9 197.3,149.4 192,146.6 186.7,143.1" fill="#e805e1" stroke="#e805e1"/><polygon points="124.9,79.8 126.9,85.2 121.6,81.7 119.6,76.2" fill="#4909c0" stroke="#4909c0"/><polygon points="313.8,191.9 319.1,192 313.8,189.7 308.5,189.6" fill="#a707d3" stroke="#a707d3"/><polygon points="303.2,189.3 308.5,189.6 303.2,187.3 297.9,187" fill="#b506d6" stroke="#b506d6"/><polygon points="181.4,138.8 186.7,143.1 181.4,140.3 176.1,135.9" fill="#dd05df" stroke="#dd05df"/><polygon points="97.1,19.9 98.5,28 93.3,23.7 91.8,15.5" fill="#3b0abd" stroke="#3b0abd"/><polygon points="162.6,124.3 165.5,127.6 160.2,124.6 157.4,121.2" fill="#7d08cb" stroke="#7d08cb"/><polygon points="292.6,186.6 297.9,187 292.6,184.7 287.3,184.2" fill="#c606da" stroke="#c606da"/><polygon points="456.8,218 462.1,217.4 456.8,215.3 451.5,216" fill="#7f08cb" stroke="#7f08cb"/><polygon points="170.8,130.6 176.1,135.9 170.8,133 165.5,127.6" fill="#ac07d4" stroke="#ac07d4"/><polygon points="282,183.7 287.3,184.2 282,181.9 276.7,181.3" fill="#cf06dc" stroke="#cf06dc"/><polygon points="105.4,39.9 107,47.1 101.7,43.1 100.1,35.7" fill="#3e0abd" stroke="#3e0abd"/><polygon points="446.2,216.6 451.5,216 446.2,213.9 440.9,214.5" fill="#8008cb" stroke="#8008cb"/><polygon points="271.4,180.6 276.7,181.3 271.4,178.9 266.1,178.1" fill="#d306dd" stroke="#d306dd"/><polygon points="152,113.7 154.6,117.5 149.3,114.4 146.8,110.5" fill="#6608c6" stroke="#6608c6"/><polygon points="435.6,215.1 440.9,214.5 435.6,212.4 430.3,213" fill="#8008cb" stroke="#8008cb"/><polygon points="114,57.9 115.8,64.3 110.5,60.5 108.7,54" fill="#4109be" stroke="#4109be"/><polygon points="260.8,177.2 266.1,178.1 260.8,175.7 255.5,174.7" fill="#d905de" stroke="#d905de"/><polygon points="425,213.5 430.3,213 425,210.9 419.7,211.4" fill="#8108cb" stroke="#8108cb"/><polygon points="141.9,101.9 144.3,106.3 139,103 136.6,98.5" fill="#5709c3" stroke="#5709c3"/><polygon points="122.9,74.1 124.9,79.8 119.6,76.2 117.6,70.4" fill="#4609bf" stroke="#4609bf"/><polygon points="414.4,211.9 419.7,211.4 414.5,209.3 409.1,209.8" fill="#8208cc" stroke="#8208cc"/><polygon points="132.2,88.7 134.4,93.8 129.1,90.3 126.9,85.2" fill="#4d09c1" stroke="#4d09c1"/><polygon points="250.2,173.5 255.5,174.7 250.3,172.3 244.9,171" fill="#e205e0" stroke="#e205e0"/><polygon points="95.6,11.4 97.1,19.9 91.8,15.5 90.4,6.8" fill="#3a0abc" stroke="#3a0abc"/><polygon points="403.8,210.3 409.1,209.8 403.9,207.7 398.5,208.1" fill="#8308cc" stroke="#8308cc"/><polygon points="239.6,169.5 244.9,171 239.7,168.5 234.3,167" fill="#e805e1" stroke="#e805e1"/><polygon points="393.2,208.6 398.5,208.1 393.3,206 388,206.4" fill="#8408cc" stroke="#8408cc"/><polygon points="382.6,206.8 388,206.4 382.7,204.3 377.4,204.6" fill="#8508cc" stroke="#8508cc"/><polygon points="229,165.1 234.3,167 229.1,164.4 223.8,162.5" fill="#e805e1" stroke="#e805e1"/><polygon points="103.8,32.3 105.4,39.9 100.1,35.7 98.5,28" fill="#3c0abd" stroke="#3c0abd"/><polygon points="372.1,204.9 377.4,204.6 372.1,202.4 366.8,202.7" fill="#8708cd" stroke="#8708cd"/><polygon points="159.9,120.7 162.6,124.3 157.4,121.2 154.6,117.5" fill="#7108c8" stroke="#7108c8"/><polygon points="218.4,160.3 223.8,162.5 218.5,159.9 213.2,157.6" fill="#e805e1" stroke="#e805e1"/><polygon points="361.5,203 366.8,202.7 361.5,200.5 356.2,200.8" fill="#8908cd" stroke="#8908cd"/><polygon points="112.3,51.2 114,57.9 108.7,54 107,47.1" fill="#400abe" stroke="#400abe"/><polygon points="350.9,200.9 356.2,200.8 350.9,198.6 345.6,198.7" fill="#8b08cd" stroke="#8b08cd"/><polygon points="207.8,154.8 213.2,157.6 207.9,154.9 202.6,152.1" fill="#e805e1" stroke="#e805e1"/><polygon points="149.6,109.6 152,113.7 146.8,110.5 144.3,106.3" fill="#5f09c4" stroke="#5f09c4"/><polygon points="340.3,198.8 345.6,198.7 340.3,196.5 335,196.5" fill="#9107cf" stroke="#9107cf"/><polygon points="94.3,2.4 95.6,11.4 90.4,6.8 89,-2.3" fill="#390abc" stroke="#390abc"/><polygon points="121,68.1 122.9,74.1 117.6,70.4 115.8,64.3" fill="#4409bf" stroke="#4409bf"/><polygon points="329.7,196.5 335,196.5 329.7,194.3 324.4,194.3" fill="#9a07d1" stroke="#9a07d1"/><polygon points="139.7,97.2 141.9,101.9 136.6,98.5 134.4,93.8" fill="#5209c2" stroke="#5209c2"/><polygon points="130.2,83.5 132.2,88.7 126.9,85.2 124.9,79.8" fill="#4a09c0" stroke="#4a09c0"/><polygon points="197.3,148.7 202.6,152.1 197.3,149.4 192,145.9" fill="#e805e1" stroke="#e805e1"/><polygon points="319.1,194.1 324.4,194.3 319.1,192 313.8,191.9" fill="#a407d3" stroke="#a407d3"/><polygon points="102.3,24.3 103.8,32.3 98.5,28 97.1,19.9" fill="#3b0abd" stroke="#3b0abd"/><polygon points="186.7,141.7 192,145.9 186.7,143.1 181.4,138.8" fill="#e105df" stroke="#e105df"/><polygon points="308.5,191.6 313.8,191.9 308.5,189.6 303.2,189.3" fill="#b106d5" stroke="#b106d5"/><polygon points="167.9,127.3 170.8,130.6 165.5,127.6 162.6,124.3" fill="#8008cb" stroke="#8008cb"/><polygon points="297.9,188.9 303.2,189.3 297.9,187 292.6,186.6" fill="#c106d9" stroke="#c106d9"/><polygon points="176.1,133.6 181.4,138.8 176.1,135.9 170.8,130.6" fill="#b806d7" stroke="#b806d7"/><polygon points="287.3,186.1 292.6,186.6 287.3,184.2 282,183.7" fill="#ce06db" stroke="#ce06db"/><polygon points="110.7,44 112.3,51.2 107,47.1 105.4,39.9" fill="#3e0abd" stroke="#3e0abd"/><polygon points="451.5,218.7 456.8,218 451.5,216 446.2,216.6" fill="#7f08cb" stroke="#7f08cb"/><polygon points="157.3,116.9 159.9,120.7 154.6,117.5 152,113.7" fill="#6808c6" stroke="#6808c6"/><polygon points="276.7,183 282,183.7 276.7,181.3 271.4,180.6" fill="#d206dc" stroke="#d206dc"/><polygon points="440.9,217.2 446.2,216.6 440.9,214.5 435.6,215.1" fill="#8008cb" stroke="#8008cb"/><polygon points="119.3,61.8 121,68.1 115.8,64.3 114,57.9" fill="#4209be" stroke="#4209be"/><polygon points="266.1,179.6 271.4,180.6 266.1,178.1 260.8,177.2" fill="#d805de" stroke="#d805de"/><polygon points="430.3,215.6 435.6,215.1 430.3,213 425,213.5" fill="#8108cb" stroke="#8108cb"/><polygon points="147.2,105.3 149.6,109.6 144.3,106.3 141.9,101.9" fill="#5809c3" stroke="#5809c3"/><polygon points="128.2,77.9 130.2,83.5 124.9,79.8 122.9,74.1" fill="#4709bf" stroke="#4709bf"/><polygon points="137.5,92.3 139.7,97.2 134.4,93.8 132.2,88.7" fill="#4e09c1" stroke="#4e09c1"/><polygon points="419.7,214 425,213.5 419.7,211.4 414.4,211.9" fill="#8108cb" stroke="#8108cb"/><polygon points="255.5,176 260.8,177.2 255.5,174.7 250.2,173.5" fill="#e005df" stroke="#e005df"/><polygon points="100.9,15.9 102.3,24.3 97.1,19.9 95.6,11.4" fill="#3a0abd" stroke="#3a0abd"/><polygon points="409.1,212.4 414.4,211.9 409.1,209.8 403.8,210.3" fill="#8208cc" stroke="#8208cc"/><polygon points="244.9,172.1 250.2,173.5 244.9,171 239.6,169.5" fill="#e805e1" stroke="#e805e1"/><polygon points="398.5,210.7 403.8,210.3 398.5,208.1 393.2,208.6" fill="#8308cc" stroke="#8308cc"/><polygon points="387.9,208.9 393.2,208.6 388,206.4 382.6,206.8" fill="#8508cc" stroke="#8508cc"/><polygon points="234.3,167.7 239.6,169.5 234.3,167 229,165.1" fill="#e805e1" stroke="#e805e1"/><polygon points="109.1,36.6 110.7,44 105.4,39.9 103.8,32.3" fill="#3d0abd" stroke="#3d0abd"/><polygon points="377.3,207.1 382.6,206.8 377.4,204.6 372.1,204.9" fill="#8608cc" stroke="#8608cc"/><polygon points="165.2,123.8 167.9,127.3 162.6,124.3 159.9,120.7" fill="#7308c9" stroke="#7308c9"/><polygon points="223.7,162.9 229,165.1 223.8,162.5 218.4,160.3" fill="#e805e1" stroke="#e805e1"/><polygon points="366.7,205.2 372.1,204.9 366.8,202.7 361.5,203" fill="#8808cd" stroke="#8808cd"/><polygon points="117.6,55.2 119.3,61.8 114,57.9 112.3,51.2" fill="#400abe" stroke="#400abe"/><polygon points="356.1,203.1 361.5,203 356.2,200.8 350.9,200.9" fill="#8a08cd" stroke="#8a08cd"/><polygon points="213.1,157.6 218.4,160.3 213.2,157.6 207.8,154.8" fill="#e805e1" stroke="#e805e1"/><polygon points="99.6,7.1 100.9,15.9 95.6,11.4 94.3,2.4" fill="#390abc" stroke="#390abc"/><polygon points="154.8,112.9 157.3,116.9 152,113.7 149.6,109.6" fill="#6009c4" stroke="#6009c4"/><polygon points="345.6,201 350.9,200.9 345.6,198.7 340.3,198.8" fill="#8f07ce" stroke="#8f07ce"/><polygon points="126.3,72 128.2,77.9 122.9,74.1 121,68.1" fill="#4409bf" stroke="#4409bf"/><polygon points="144.9,100.7 147.2,105.3 141.9,101.9 139.7,97.2" fill="#5309c2" stroke="#5309c2"/><polygon points="135.4,87.1 137.5,92.3 132.2,88.7 130.2,83.5" fill="#4b09c0" stroke="#4b09c0"/><polygon points="335,198.8 340.3,198.8 335,196.5 329.7,196.5" fill="#9707d0" stroke="#9707d0"/><polygon points="202.5,151.5 207.8,154.8 202.6,152.1 197.3,148.7" fill="#e805e1" stroke="#e805e1"/><polygon points="324.4,196.4 329.7,196.5 324.4,194.3 319.1,194.1" fill="#a107d2" stroke="#a107d2"/><polygon points="107.6,28.7 109.1,36.6 103.8,32.3 102.3,24.3" fill="#3b0abd" stroke="#3b0abd"/><polygon points="191.9,144.6 197.3,148.7 192,145.9 186.7,141.7" fill="#e405e0" stroke="#e405e0"/><polygon points="313.8,193.9 319.1,194.1 313.8,191.9 308.5,191.6" fill="#ad07d5" stroke="#ad07d5"/><polygon points="173.2,130.4 176.1,133.6 170.8,130.6 167.9,127.3" fill="#8308cc" stroke="#8308cc"/><polygon points="303.2,191.3 308.5,191.6 303.2,189.3 297.9,188.9" fill="#bd06d8" stroke="#bd06d8"/><polygon points="115.9,48.2 117.6,55.2 112.3,51.2 110.7,44" fill="#3e0abd" stroke="#3e0abd"/><polygon points="181.3,136.7 186.7,141.7 181.4,138.8 176.1,133.6" fill="#c506da" stroke="#c506da"/><polygon points="292.6,188.4 297.9,188.9 292.6,186.6 287.3,186.1" fill="#cd06db" stroke="#cd06db"/><polygon points="98.3,-2.2 99.6,7.1 94.3,2.4 93,-7" fill="#390abc" stroke="#390abc"/><polygon points="162.6,120.1 165.2,123.8 159.9,120.7 157.3,116.9" fill="#6908c6" stroke="#6908c6"/><polygon points="282,185.4 287.3,186.1 282,183.7 276.7,183" fill="#d106dc" stroke="#d106dc"/><polygon points="124.5,65.8 126.3,72 121,68.1 119.3,61.8" fill="#4209be" stroke="#4209be"/><polygon points="446.2,219.3 451.5,218.7 446.2,216.6 440.9,217.2" fill="#7f08cb" stroke="#7f08cb"/><polygon points="271.4,182.1 276.7,183 271.4,180.6 266.1,179.6" fill="#d605dd" stroke="#d605dd"/><polygon points="435.6,217.7 440.9,217.2 435.6,215.1 430.3,215.6" fill="#8008cb" stroke="#8008cb"/><polygon points="152.5,108.6 154.8,112.9 149.6,109.6 147.2,105.3" fill="#5a09c3" stroke="#5a09c3"/><polygon points="133.5,81.6 135.4,87.1 130.2,83.5 128.2,77.9" fill="#4809bf" stroke="#4809bf"/><polygon points="142.8,95.8 144.9,100.7 139.7,97.2 137.5,92.3" fill="#4f09c1" stroke="#4f09c1"/><polygon points="106.2,20.4 107.6,28.7 102.3,24.3 100.9,15.9" fill="#3a0abd" stroke="#3a0abd"/><polygon points="425,216.2 430.3,215.6 425,213.5 419.7,214" fill="#8108cb" stroke="#8108cb"/><polygon points="260.8,178.5 266.1,179.6 260.8,177.2 255.5,176" fill="#de05df" stroke="#de05df"/><polygon points="414.4,214.5 419.7,214 414.4,211.9 409.1,212.4" fill="#8208cc" stroke="#8208cc"/><polygon points="250.2,174.6 255.5,176 250.2,173.5 244.9,172.1" fill="#e805e1" stroke="#e805e1"/><polygon points="403.8,212.8 409.1,212.4 403.8,210.3 398.5,210.7" fill="#8308cc" stroke="#8308cc"/><polygon points="114.4,40.9 115.9,48.2 110.7,44 109.1,36.6" fill="#3d0abd" stroke="#3d0abd"/><polygon points="393.2,211.1 398.5,210.7 393.2,208.6 387.9,208.9" fill="#8408cc" stroke="#8408cc"/><polygon points="239.6,170.3 244.9,172.1 239.6,169.5 234.3,167.7" fill="#e805e1" stroke="#e805e1"/><polygon points="382.6,209.3 387.9,208.9 382.6,206.8 377.3,207.1" fill="#8608cc" stroke="#8608cc"/><polygon points="170.5,127 173.2,130.4 167.9,127.3 165.2,123.8" fill="#7608c9" stroke="#7608c9"/><polygon points="229,165.6 234.3,167.7 229,165.1 223.7,162.9" fill="#e805e1" stroke="#e805e1"/><polygon points="372,207.4 377.3,207.1 372.1,204.9 366.7,205.2" fill="#8708cd" stroke="#8708cd"/><polygon points="122.8,59.2 124.5,65.8 119.3,61.8 117.6,55.2" fill="#400abe" stroke="#400abe"/><polygon points="361.4,205.4 366.7,205.2 361.5,203 356.1,203.1" fill="#8908cd" stroke="#8908cd"/><polygon points="104.9,11.8 106.2,20.4 100.9,15.9 99.6,7.1" fill="#390abc" stroke="#390abc"/><polygon points="218.4,160.3 223.7,162.9 218.4,160.3 213.1,157.6" fill="#e805e1" stroke="#e805e1"/><polygon points="160.1,116.2 162.6,120.1 157.3,116.9 154.8,112.9" fill="#6109c5" stroke="#6109c5"/><polygon points="131.6,75.8 133.5,81.6 128.2,77.9 126.3,72" fill="#4509bf" stroke="#4509bf"/><polygon points="350.8,203.3 356.1,203.1 350.9,200.9 345.6,201" fill="#8c07ce" stroke="#8c07ce"/><polygon points="150.2,104.1 152.5,108.6 147.2,105.3 144.9,100.7" fill="#5409c2" stroke="#5409c2"/><polygon points="140.7,90.7 142.8,95.8 137.5,92.3 135.4,87.1" fill="#4b09c0" stroke="#4b09c0"/><polygon points="340.2,201.1 345.6,201 340.3,198.8 335,198.8" fill="#9407cf" stroke="#9407cf"/><polygon points="207.8,154.3 213.1,157.6 207.8,154.8 202.5,151.5" fill="#e805e1" stroke="#e805e1"/><polygon points="329.6,198.7 335,198.8 329.7,196.5 324.4,196.4" fill="#9e07d1" stroke="#9e07d1"/><polygon points="112.9,33.1 114.4,40.9 109.1,36.6 107.6,28.7" fill="#3c0abd" stroke="#3c0abd"/><polygon points="197.2,147.5 202.5,151.5 197.3,148.7 191.9,144.6" fill="#e805e1" stroke="#e805e1"/><polygon points="178.5,133.5 181.3,136.7 176.1,133.6 173.2,130.4" fill="#8608cc" stroke="#8608cc"/><polygon points="319.1,196.3 324.4,196.4 319.1,194.1 313.8,193.9" fill="#aa07d4" stroke="#aa07d4"/><polygon points="308.5,193.6 313.8,193.9 308.5,191.6 303.2,191.3" fill="#b806d7" stroke="#b806d7"/><polygon points="121.2,52.4 122.8,59.2 117.6,55.2 115.9,48.2" fill="#3f0abd" stroke="#3f0abd"/><polygon points="186.6,139.7 191.9,144.6 186.7,141.7 181.3,136.7" fill="#cd06db" stroke="#cd06db"/><polygon points="103.6,2.6 104.9,11.8 99.6,7.1 98.3,-2.2" fill="#390abc" stroke="#390abc"/><polygon points="297.9,190.8 303.2,191.3 297.9,188.9 292.6,188.4" fill="#cb06db" stroke="#cb06db"/><polygon points="167.9,123.3 170.5,127 165.2,123.8 162.6,120.1" fill="#6b08c7" stroke="#6b08c7"/><polygon points="287.3,187.8 292.6,188.4 287.3,186.1 282,185.4" fill="#d006dc" stroke="#d006dc"/><polygon points="129.8,69.7 131.6,75.8 126.3,72 124.5,65.8" fill="#4309be" stroke="#4309be"/><polygon points="276.7,184.6 282,185.4 276.7,183 271.4,182.1" fill="#d506dd" stroke="#d506dd"/><polygon points="157.8,112 160.1,116.2 154.8,112.9 152.5,108.6" fill="#5b09c3" stroke="#5b09c3"/><polygon points="138.8,85.3 140.7,90.7 135.4,87.1 133.5,81.6" fill="#4809bf" stroke="#4809bf"/><polygon points="440.9,219.8 446.2,219.3 440.9,217.2 435.6,217.7" fill="#8008cb" stroke="#8008cb"/><polygon points="111.5,25 112.9,33.1 107.6,28.7 106.2,20.4" fill="#3a0abd" stroke="#3a0abd"/><polygon points="148.1,99.4 150.2,104.1 144.9,100.7 142.8,95.8" fill="#5009c1" stroke="#5009c1"/><polygon points="430.3,218.3 435.6,217.7 430.3,215.6 425,216.2" fill="#8108cb" stroke="#8108cb"/><polygon points="266.1,181 271.4,182.1 266.1,179.6 260.8,178.5" fill="#dc05df" stroke="#dc05df"/><polygon points="419.7,216.7 425,216.2 419.7,214 414.4,214.5" fill="#8108cc" stroke="#8108cc"/><polygon points="255.5,177.2 260.8,178.5 255.5,176 250.2,174.6" fill="#e705e1" stroke="#e705e1"/><polygon points="409.1,215 414.4,214.5 409.1,212.4 403.8,212.8" fill="#8208cc" stroke="#8208cc"/><polygon points="119.7,45.1 121.2,52.4 115.9,48.2 114.4,40.9" fill="#3d0abd" stroke="#3d0abd"/><polygon points="398.5,213.3 403.8,212.8 398.5,210.7 393.2,211.1" fill="#8408cc" stroke="#8408cc"/><polygon points="244.9,172.9 250.2,174.6 244.9,172.1 239.6,170.3" fill="#e805e1" stroke="#e805e1"/><polygon points="175.8,130.1 178.5,133.5 173.2,130.4 170.5,127" fill="#7808ca" stroke="#7808ca"/><polygon points="387.9,211.4 393.2,211.1 387.9,208.9 382.6,209.3" fill="#8508cc" stroke="#8508cc"/><polygon points="234.3,168.3 239.6,170.3 234.3,167.7 229,165.6" fill="#e805e1" stroke="#e805e1"/><polygon points="128.1,63.3 129.8,69.7 124.5,65.8 122.8,59.2" fill="#4109be" stroke="#4109be"/><polygon points="377.3,209.6 382.6,209.3 377.3,207.1 372,207.4" fill="#8708cd" stroke="#8708cd"/><polygon points="110.2,16.4 111.5,25 106.2,20.4 104.9,11.8" fill="#390abc" stroke="#390abc"/><polygon points="366.7,207.6 372,207.4 366.7,205.2 361.4,205.4" fill="#8808cd" stroke="#8808cd"/><polygon points="223.7,163 229,165.6 223.7,162.9 218.4,160.3" fill="#e805e1" stroke="#e805e1"/><polygon points="165.4,119.5 167.9,123.3 162.6,120.1 160.1,116.2" fill="#6309c5" stroke="#6309c5"/><polygon points="136.9,79.6 138.8,85.3 133.5,81.6 131.6,75.8" fill="#4509bf" stroke="#4509bf"/><polygon points="356.1,205.5 361.4,205.4 356.1,203.1 350.8,203.3" fill="#8b08cd" stroke="#8b08cd"/><polygon points="155.5,107.6 157.8,112 152.5,108.6 150.2,104.1" fill="#5509c2" stroke="#5509c2"/><polygon points="146,94.4 148.1,99.4 142.8,95.8 140.7,90.7" fill="#4c09c0" stroke="#4c09c0"/><polygon points="213.1,157.1 218.4,160.3 213.1,157.6 207.8,154.3" fill="#e805e1" stroke="#e805e1"/><polygon points="345.5,203.3 350.8,203.3 345.6,201 340.2,201.1" fill="#9107cf" stroke="#9107cf"/><polygon points="118.2,37.5 119.7,45.1 114.4,40.9 112.9,33.1" fill="#3c0abd" stroke="#3c0abd"/><polygon points="334.9,201 340.2,201.1 335,198.8 329.6,198.7" fill="#9b07d1" stroke="#9b07d1"/><polygon points="202.5,150.4 207.8,154.3 202.5,151.5 197.2,147.5" fill="#e805e1" stroke="#e805e1"/><polygon points="183.8,136.6 186.6,139.7 181.3,136.7 178.5,133.5" fill="#8908cd" stroke="#8908cd"/><polygon points="324.3,198.6 329.6,198.7 324.4,196.4 319.1,196.3" fill="#a607d3" stroke="#a607d3"/><polygon points="313.7,196 319.1,196.3 313.8,193.9 308.5,193.6" fill="#b406d6" stroke="#b406d6"/><polygon points="126.5,56.5 128.1,63.3 122.8,59.2 121.2,52.4" fill="#3f0abe" stroke="#3f0abe"/><polygon points="108.9,7.5 110.2,16.4 104.9,11.8 103.6,2.6" fill="#390abc" stroke="#390abc"/><polygon points="191.9,142.7 197.2,147.5 191.9,144.6 186.6,139.7" fill="#d006dc" stroke="#d006dc"/><polygon points="303.2,193.2 308.5,193.6 303.2,191.3 297.9,190.8" fill="#c606da" stroke="#c606da"/><polygon points="173.2,126.6 175.8,130.1 170.5,127 167.9,123.3" fill="#6d08c7" stroke="#6d08c7"/><polygon points="135.1,73.7 136.9,79.6 131.6,75.8 129.8,69.7" fill="#4309be" stroke="#4309be"/><polygon points="292.6,190.2 297.9,190.8 292.6,188.4 287.3,187.8" fill="#cf06dc" stroke="#cf06dc"/><polygon points="163,115.4 165.4,119.5 160.1,116.2 157.8,112" fill="#5c09c4" stroke="#5c09c4"/><polygon points="144.1,89.1 146,94.4 140.7,90.7 138.8,85.3" fill="#4909c0" stroke="#4909c0"/><polygon points="282,187 287.3,187.8 282,185.4 276.7,184.6" fill="#d406dd" stroke="#d406dd"/><polygon points="116.8,29.5 118.2,37.5 112.9,33.1 111.5,25" fill="#3b0abd" stroke="#3b0abd"/><polygon points="153.4,102.9 155.5,107.6 150.2,104.1 148.1,99.4" fill="#5109c1" stroke="#5109c1"/><polygon points="271.4,183.5 276.7,184.6 271.4,182.1 266.1,181" fill="#db05de" stroke="#db05de"/><polygon points="435.6,220.4 440.9,219.8 435.6,217.7 430.3,218.3" fill="#8008cb" stroke="#8008cb"/><polygon points="425,218.8 430.3,218.3 425,216.2 419.7,216.7" fill="#8108cb" stroke="#8108cb"/><polygon points="107.6,-2 108.9,7.5 103.6,2.6 102.4,-7" fill="#380abc" stroke="#380abc"/><polygon points="260.8,179.7 266.1,181 260.8,178.5 255.5,177.2" fill="#e505e0" stroke="#e505e0"/><polygon points="125,49.4 126.5,56.5 121.2,52.4 119.7,45.1" fill="#3d0abd" stroke="#3d0abd"/><polygon points="414.4,217.1 419.7,216.7 414.4,214.5 409.1,215" fill="#8208cc" stroke="#8208cc"/><polygon points="250.2,175.5 255.5,177.2 250.2,174.6 244.9,172.9" fill="#e805e1" stroke="#e805e1"/><polygon points="403.8,215.4 409.1,215 403.8,212.8 398.5,213.3" fill="#8308cc" stroke="#8308cc"/><polygon points="181.1,133.3 183.8,136.6 178.5,133.5 175.8,130.1" fill="#7b08ca" stroke="#7b08ca"/><polygon points="393.2,213.6 398.5,213.3 393.2,211.1 387.9,211.4" fill="#8408cc" stroke="#8408cc"/><polygon points="133.4,67.3 135.1,73.7 129.8,69.7 128.1,63.3" fill="#4109be" stroke="#4109be"/><polygon points="239.6,170.9 244.9,172.9 239.6,170.3 234.3,168.3" fill="#e805e1" stroke="#e805e1"/><polygon points="382.6,211.8 387.9,211.4 382.6,209.3 377.3,209.6" fill="#8608cc" stroke="#8608cc"/><polygon points="115.4,21.1 116.8,29.5 111.5,25 110.2,16.4" fill="#3a0abc" stroke="#3a0abc"/><polygon points="372,209.8 377.3,209.6 372,207.4 366.7,207.6" fill="#8808cd" stroke="#8808cd"/><polygon points="170.7,122.8 173.2,126.6 167.9,123.3 165.4,119.5" fill="#6509c5" stroke="#6509c5"/><polygon points="229,165.8 234.3,168.3 229,165.6 223.7,163" fill="#e805e1" stroke="#e805e1"/><polygon points="142.2,83.5 144.1,89.1 138.8,85.3 136.9,79.6" fill="#4609bf" stroke="#4609bf"/><polygon points="361.4,207.7 366.7,207.6 361.4,205.4 356.1,205.5" fill="#8a08cd" stroke="#8a08cd"/><polygon points="151.3,98 153.4,102.9 148.1,99.4 146,94.4" fill="#4d09c0" stroke="#4d09c0"/><polygon points="160.8,111 163,115.4 157.8,112 155.5,107.6" fill="#5609c2" stroke="#5609c2"/><polygon points="218.4,159.9 223.7,163 218.4,160.3 213.1,157.1" fill="#e805e1" stroke="#e805e1"/><polygon points="350.8,205.6 356.1,205.5 350.8,203.3 345.5,203.3" fill="#8f07ce" stroke="#8f07ce"/><polygon points="123.5,41.9 125,49.4 119.7,45.1 118.2,37.5" fill="#3c0abd" stroke="#3c0abd"/><polygon points="340.2,203.3 345.5,203.3 340.2,201.1 334.9,201" fill="#9807d0" stroke="#9807d0"/><polygon points="207.8,153.3 213.1,157.1 207.8,154.3 202.5,150.4" fill="#e805e1" stroke="#e805e1"/><polygon points="189.1,139.6 191.9,142.7 186.6,139.7 183.8,136.6" fill="#9107cf" stroke="#9107cf"/><polygon points="329.6,200.9 334.9,201 329.6,198.7 324.3,198.6" fill="#a307d2" stroke="#a307d2"/><polygon points="131.8,60.7 133.4,67.3 128.1,63.3 126.5,56.5" fill="#3f0abe" stroke="#3f0abe"/><polygon points="114.2,12.3 115.4,21.1 110.2,16.4 108.9,7.5" fill="#390abc" stroke="#390abc"/><polygon points="319,198.3 324.3,198.6 319.1,196.3 313.7,196" fill="#b007d5" stroke="#b007d5"/><polygon points="197.2,145.7 202.5,150.4 197.2,147.5 191.9,142.7" fill="#d206dc" stroke="#d206dc"/><polygon points="308.4,195.6 313.7,196 308.5,193.6 303.2,193.2" fill="#c106d9" stroke="#c106d9"/><polygon points="178.5,129.8 181.1,133.3 175.8,130.1 173.2,126.6" fill="#7008c8" stroke="#7008c8"/><polygon points="140.4,77.6 142.2,83.5 136.9,79.6 135.1,73.7" fill="#4409bf" stroke="#4409bf"/><polygon points="297.8,192.6 303.2,193.2 297.9,190.8 292.6,190.2" fill="#ce06dc" stroke="#ce06dc"/><polygon points="122.1,34.1 123.5,41.9 118.2,37.5 116.8,29.5" fill="#3b0abd" stroke="#3b0abd"/><polygon points="149.3,92.8 151.3,98 146,94.4 144.1,89.1" fill="#4909c0" stroke="#4909c0"/><polygon points="168.3,118.7 170.7,122.8 165.4,119.5 163,115.4" fill="#5d09c4" stroke="#5d09c4"/><polygon points="287.2,189.5 292.6,190.2 287.3,187.8 282,187" fill="#d306dd" stroke="#d306dd"/><polygon points="158.6,106.5 160.8,111 155.5,107.6 153.4,102.9" fill="#5209c1" stroke="#5209c1"/><polygon points="276.7,186 282,187 276.7,184.6 271.4,183.5" fill="#d905de" stroke="#d905de"/><polygon points="112.9,3 114.2,12.3 108.9,7.5 107.6,-2" fill="#390abc" stroke="#390abc"/><polygon points="430.3,220.9 435.6,220.4 430.3,218.3 425,218.8" fill="#8108cb" stroke="#8108cb"/><polygon points="266.1,182.3 271.4,183.5 266.1,181 260.8,179.7" fill="#e205e0" stroke="#e205e0"/><polygon points="130.2,53.7 131.8,60.7 126.5,56.5 125,49.4" fill="#3e0abd" stroke="#3e0abd"/><polygon points="419.7,219.3 425,218.8 419.7,216.7 414.4,217.1" fill="#8208cc" stroke="#8208cc"/><polygon points="255.5,178.1 260.8,179.7 255.5,177.2 250.2,175.5" fill="#e805e1" stroke="#e805e1"/><polygon points="409.1,217.6 414.4,217.1 409.1,215 403.8,215.4" fill="#8308cc" stroke="#8308cc"/><polygon points="186.3,136.4 189.1,139.6 183.8,136.6 181.1,133.3" fill="#7e08cb" stroke="#7e08cb"/><polygon points="398.5,215.8 403.8,215.4 398.5,213.3 393.2,213.6" fill="#8408cc" stroke="#8408cc"/><polygon points="138.7,71.4 140.4,77.6 135.1,73.7 133.4,67.3" fill="#4109be" stroke="#4109be"/><polygon points="244.9,173.6 250.2,175.5 244.9,172.9 239.6,170.9" fill="#e805e1" stroke="#e805e1"/><polygon points="120.7,25.8 122.1,34.1 116.8,29.5 115.4,21.1" fill="#3a0abc" stroke="#3a0abc"/><polygon points="387.9,214 393.2,213.6 387.9,211.4 382.6,211.8" fill="#8508cc" stroke="#8508cc"/><polygon points="176,126.1 178.5,129.8 173.2,126.6 170.7,122.8" fill="#6608c6" stroke="#6608c6"/><polygon points="147.5,87.3 149.3,92.8 144.1,89.1 142.2,83.5" fill="#4709bf" stroke="#4709bf"/><polygon points="377.3,212 382.6,211.8 377.3,209.6 372,209.8" fill="#8708cd" stroke="#8708cd"/><polygon points="234.3,168.5 239.6,170.9 234.3,168.3 229,165.8" fill="#e805e1" stroke="#e805e1"/><polygon points="156.6,101.6 158.6,106.5 153.4,102.9 151.3,98" fill="#4e09c1" stroke="#4e09c1"/><polygon points="166.1,114.5 168.3,118.7 163,115.4 160.8,111" fill="#5809c3" stroke="#5809c3"/><polygon points="366.7,210 372,209.8 366.7,207.6 361.4,207.7" fill="#8908cd" stroke="#8908cd"/><polygon points="223.7,162.8 229,165.8 223.7,163 218.4,159.9" fill="#e805e1" stroke="#e805e1"/><polygon points="128.8,46.4 130.2,53.7 125,49.4 123.5,41.9" fill="#3c0abd" stroke="#3c0abd"/><polygon points="356.1,207.9 361.4,207.7 356.1,205.5 350.8,205.6" fill="#8c07ce" stroke="#8c07ce"/><polygon points="345.5,205.6 350.8,205.6 345.5,203.3 340.2,203.3" fill="#9507d0" stroke="#9507d0"/><polygon points="213.1,156.2 218.4,159.9 213.1,157.1 207.8,153.3" fill="#e805e1" stroke="#e805e1"/><polygon points="194.4,142.7 197.2,145.7 191.9,142.7 189.1,139.6" fill="#9c07d1" stroke="#9c07d1"/><polygon points="334.9,203.2 340.2,203.3 334.9,201 329.6,200.9" fill="#9f07d2" stroke="#9f07d2"/><polygon points="119.4,17.1 120.7,25.8 115.4,21.1 114.2,12.3" fill="#390abc" stroke="#390abc"/><polygon points="137.1,64.9 138.7,71.4 133.4,67.3 131.8,60.7" fill="#400abe" stroke="#400abe"/><polygon points="324.3,200.7 329.6,200.9 324.3,198.6 319,198.3" fill="#ac07d4" stroke="#ac07d4"/><polygon points="202.5,148.7 207.8,153.3 202.5,150.4 197.2,145.7" fill="#d505dd" stroke="#d505dd"/><polygon points="313.7,198 319,198.3 313.7,196 308.4,195.6" fill="#bc06d8" stroke="#bc06d8"/><polygon points="183.7,133 186.3,136.4 181.1,133.3 178.5,129.8" fill="#7208c8" stroke="#7208c8"/><polygon points="145.7,81.5 147.5,87.3 142.2,83.5 140.4,77.6" fill="#4409bf" stroke="#4409bf"/><polygon points="303.1,195.1 308.4,195.6 303.2,193.2 297.8,192.6" fill="#cd06db" stroke="#cd06db"/><polygon points="127.4,38.6 128.8,46.4 123.5,41.9 122.1,34.1" fill="#3b0abd" stroke="#3b0abd"/><polygon points="154.6,96.5 156.6,101.6 151.3,98 149.3,92.8" fill="#4a09c0" stroke="#4a09c0"/><polygon points="173.6,122.1 176,126.1 170.7,122.8 168.3,118.7" fill="#5f09c4" stroke="#5f09c4"/><polygon points="292.5,191.9 297.8,192.6 292.6,190.2 287.2,189.5" fill="#d106dc" stroke="#d106dc"/><polygon points="163.9,110 166.1,114.5 160.8,111 158.6,106.5" fill="#5309c2" stroke="#5309c2"/><polygon points="281.9,188.5 287.2,189.5 282,187 276.7,186" fill="#d805de" stroke="#d805de"/><polygon points="118.2,8 119.4,17.1 114.2,12.3 112.9,3" fill="#390abc" stroke="#390abc"/><polygon points="135.5,58 137.1,64.9 131.8,60.7 130.2,53.7" fill="#3e0abd" stroke="#3e0abd"/><polygon points="271.3,184.8 276.7,186 271.4,183.5 266.1,182.3" fill="#e005df" stroke="#e005df"/><polygon points="425,221.4 430.3,220.9 425,218.8 419.7,219.3" fill="#8108cb" stroke="#8108cb"/><polygon points="260.7,180.7 266.1,182.3 260.8,179.7 255.5,178.1" fill="#e805e1" stroke="#e805e1"/><polygon points="414.4,219.7 419.7,219.3 414.4,217.1 409.1,217.6" fill="#8208cc" stroke="#8208cc"/><polygon points="191.6,139.6 194.4,142.7 189.1,139.6 186.3,136.4" fill="#8108cb" stroke="#8108cb"/><polygon points="144,75.4 145.7,81.5 140.4,77.6 138.7,71.4" fill="#4209be" stroke="#4209be"/><polygon points="403.8,218 409.1,217.6 403.8,215.4 398.5,215.8" fill="#8308cc" stroke="#8308cc"/><polygon points="126,30.5 127.4,38.6 122.1,34.1 120.7,25.8" fill="#3a0abd" stroke="#3a0abd"/><polygon points="250.2,176.2 255.5,178.1 250.2,175.5 244.9,173.6" fill="#e805e1" stroke="#e805e1"/><polygon points="393.2,216.2 398.5,215.8 393.2,213.6 387.9,214" fill="#8508cc" stroke="#8508cc"/><polygon points="152.8,91.1 154.6,96.5 149.3,92.8 147.5,87.3" fill="#4709bf" stroke="#4709bf"/><polygon points="181.3,129.3 183.7,133 178.5,129.8 176,126.1" fill="#6808c6" stroke="#6808c6"/><polygon points="239.6,171.2 244.9,173.6 239.6,170.9 234.3,168.5" fill="#e805e1" stroke="#e805e1"/><polygon points="382.6,214.2 387.9,214 382.6,211.8 377.3,212" fill="#8608cd" stroke="#8608cd"/><polygon points="117.1,-1.6 118.2,8 112.9,3 111.8,-6.7" fill="#380abc" stroke="#380abc"/><polygon points="161.9,105.3 163.9,110 158.6,106.5 156.6,101.6" fill="#4e09c1" stroke="#4e09c1"/><polygon points="171.4,118 173.6,122.1 168.3,118.7 166.1,114.5" fill="#5909c3" stroke="#5909c3"/><polygon points="372,212.2 377.3,212 372,209.8 366.7,210" fill="#8808cd" stroke="#8808cd"/><polygon points="134.1,50.8 135.5,58 130.2,53.7 128.8,46.4" fill="#3d0abd" stroke="#3d0abd"/><polygon points="229,165.6 234.3,168.5 229,165.8 223.7,162.8" fill="#e805e1" stroke="#e805e1"/><polygon points="361.4,210.1 366.7,210 361.4,207.7 356.1,207.9" fill="#8b08cd" stroke="#8b08cd"/><polygon points="350.8,207.9 356.1,207.9 350.8,205.6 345.5,205.6" fill="#9207cf" stroke="#9207cf"/><polygon points="218.4,159.1 223.7,162.8 218.4,159.9 213.1,156.2" fill="#e805e1" stroke="#e805e1"/><polygon points="199.6,145.8 202.5,148.7 197.2,145.7 194.4,142.7" fill="#a907d4" stroke="#a907d4"/><polygon points="124.7,22 126,30.5 120.7,25.8 119.4,17.1" fill="#390abc" stroke="#390abc"/><polygon points="340.2,205.5 345.5,205.6 340.2,203.3 334.9,203.2" fill="#9c07d1" stroke="#9c07d1"/><polygon points="142.4,69 144,75.4 138.7,71.4 137.1,64.9" fill="#400abe" stroke="#400abe"/><polygon points="329.6,203 334.9,203.2 329.6,200.9 324.3,200.7" fill="#a807d4" stroke="#a807d4"/><polygon points="207.8,151.7 213.1,156.2 207.8,153.3 202.5,148.7" fill="#d905de" stroke="#d905de"/><polygon points="319,200.3 324.3,200.7 319,198.3 313.7,198" fill="#b806d7" stroke="#b806d7"/><polygon points="189,136.2 191.6,139.6 186.3,136.4 183.7,133" fill="#7408c9" stroke="#7408c9"/><polygon points="151,85.5 152.8,91.1 147.5,87.3 145.7,81.5" fill="#4509bf" stroke="#4509bf"/><polygon points="308.4,197.5 313.7,198 308.4,195.6 303.1,195.1" fill="#cc06db" stroke="#cc06db"/><polygon points="132.6,43.2 134.1,50.8 128.8,46.4 127.4,38.6" fill="#3b0abd" stroke="#3b0abd"/><polygon points="159.9,100.2 161.9,105.3 156.6,101.6 154.6,96.5" fill="#4b09c0" stroke="#4b09c0"/><polygon points="178.9,125.5 181.3,129.3 176,126.1 173.6,122.1" fill="#6009c5" stroke="#6009c5"/><polygon points="169.2,113.5 171.4,118 166.1,114.5 163.9,110" fill="#5409c2" stroke="#5409c2"/><polygon points="297.8,194.4 303.1,195.1 297.8,192.6 292.5,191.9" fill="#d006dc" stroke="#d006dc"/><polygon points="123.5,13 124.7,22 119.4,17.1 118.2,8" fill="#390abc" stroke="#390abc"/><polygon points="287.2,191 292.5,191.9 287.2,189.5 281.9,188.5" fill="#d605dd" stroke="#d605dd"/><polygon points="140.8,62.3 142.4,69 137.1,64.9 135.5,58" fill="#3e0abd" stroke="#3e0abd"/><polygon points="276.6,187.4 281.9,188.5 276.7,186 271.3,184.8" fill="#de05df" stroke="#de05df"/><polygon points="266,183.3 271.3,184.8 266.1,182.3 260.7,180.7" fill="#e805e1" stroke="#e805e1"/><polygon points="419.6,221.9 425,221.4 419.7,219.3 414.4,219.7" fill="#8208cc" stroke="#8208cc"/><polygon points="196.9,142.7 199.6,145.8 194.4,142.7 191.6,139.6" fill="#8408cc" stroke="#8408cc"/><polygon points="149.3,79.5 151,85.5 145.7,81.5 144,75.4" fill="#4209be" stroke="#4209be"/><polygon points="131.3,35.2 132.6,43.2 127.4,38.6 126,30.5" fill="#3a0abd" stroke="#3a0abd"/><polygon points="409,220.2 414.4,219.7 409.1,217.6 403.8,218" fill="#8308cc" stroke="#8308cc"/><polygon points="255.4,178.9 260.7,180.7 255.5,178.1 250.2,176.2" fill="#e805e1" stroke="#e805e1"/><polygon points="398.5,218.4 403.8,218 398.5,215.8 393.2,216.2" fill="#8408cc" stroke="#8408cc"/><polygon points="158,95 159.9,100.2 154.6,96.5 152.8,91.1" fill="#4809bf" stroke="#4809bf"/><polygon points="186.6,132.6 189,136.2 183.7,133 181.3,129.3" fill="#6a08c7" stroke="#6a08c7"/><polygon points="122.3,3.6 123.5,13 118.2,8 117.1,-1.6" fill="#380abc" stroke="#380abc"/><polygon points="244.8,174 250.2,176.2 244.9,173.6 239.6,171.2" fill="#e805e1" stroke="#e805e1"/><polygon points="387.9,216.5 393.2,216.2 387.9,214 382.6,214.2" fill="#8608cc" stroke="#8608cc"/><polygon points="167.2,108.9 169.2,113.5 163.9,110 161.9,105.3" fill="#4f09c1" stroke="#4f09c1"/><polygon points="176.6,121.4 178.9,125.5 173.6,122.1 171.4,118" fill="#5a09c3" stroke="#5a09c3"/><polygon points="377.3,214.5 382.6,214.2 377.3,212 372,212.2" fill="#8708cd" stroke="#8708cd"/><polygon points="139.3,55.2 140.8,62.3 135.5,58 134.1,50.8" fill="#3d0abd" stroke="#3d0abd"/><polygon points="234.2,168.4 239.6,171.2 234.3,168.5 229,165.6" fill="#e805e1" stroke="#e805e1"/><polygon points="366.7,212.4 372,212.2 366.7,210 361.4,210.1" fill="#8a08cd" stroke="#8a08cd"/><polygon points="356.1,210.2 361.4,210.1 356.1,207.9 350.8,207.9" fill="#8f07ce" stroke="#8f07ce"/><polygon points="223.7,162 229,165.6 223.7,162.8 218.4,159.1" fill="#e805e1" stroke="#e805e1"/><polygon points="204.9,148.9 207.8,151.7 202.5,148.7 199.6,145.8" fill="#b606d7" stroke="#b606d7"/><polygon points="130,26.8 131.3,35.2 126,30.5 124.7,22" fill="#390abc" stroke="#390abc"/><polygon points="147.6,73.2 149.3,79.5 144,75.4 142.4,69" fill="#400abe" stroke="#400abe"/><polygon points="345.5,207.8 350.8,207.9 345.5,205.6 340.2,205.5" fill="#9807d0" stroke="#9807d0"/><polygon points="334.9,205.4 340.2,205.5 334.9,203.2 329.6,203" fill="#a407d3" stroke="#a407d3"/><polygon points="213.1,154.7 218.4,159.1 213.1,156.2 207.8,151.7" fill="#dc05de" stroke="#dc05de"/><polygon points="156.3,89.4 158,95 152.8,91.1 151,85.5" fill="#4509bf" stroke="#4509bf"/><polygon points="194.3,139.4 196.9,142.7 191.6,139.6 189,136.2" fill="#7708c9" stroke="#7708c9"/><polygon points="324.3,202.7 329.6,203 324.3,200.7 319,200.3" fill="#b306d6" stroke="#b306d6"/><polygon points="137.9,47.7 139.3,55.2 134.1,50.8 132.6,43.2" fill="#3c0abd" stroke="#3c0abd"/><polygon points="313.7,199.9 319,200.3 313.7,198 308.4,197.5" fill="#c606da" stroke="#c606da"/><polygon points="165.2,104 167.2,108.9 161.9,105.3 159.9,100.2" fill="#4c09c0" stroke="#4c09c0"/><polygon points="184.2,128.9 186.6,132.6 181.3,129.3 178.9,125.5" fill="#6209c5" stroke="#6209c5"/><polygon points="174.5,117.1 176.6,121.4 171.4,118 169.2,113.5" fill="#5509c2" stroke="#5509c2"/><polygon points="303.1,196.8 308.4,197.5 303.1,195.1 297.8,194.4" fill="#cf06dc" stroke="#cf06dc"/><polygon points="128.8,18 130,26.8 124.7,22 123.5,13" fill="#390abc" stroke="#390abc"/><polygon points="292.5,193.5 297.8,194.4 292.5,191.9 287.2,191" fill="#d506dd" stroke="#d506dd"/><polygon points="146.1,66.6 147.6,73.2 142.4,69 140.8,62.3" fill="#3f0abd" stroke="#3f0abd"/><polygon points="281.9,189.9 287.2,191 281.9,188.5 276.6,187.4" fill="#dc05df" stroke="#dc05df"/><polygon points="271.3,185.9 276.6,187.4 271.3,184.8 266,183.3" fill="#e805e1" stroke="#e805e1"/><polygon points="202.2,145.9 204.9,148.9 199.6,145.8 196.9,142.7" fill="#8808cd" stroke="#8808cd"/><polygon points="154.6,83.5 156.3,89.4 151,85.5 149.3,79.5" fill="#4309be" stroke="#4309be"/><polygon points="136.6,39.9 137.9,47.7 132.6,43.2 131.3,35.2" fill="#3a0abd" stroke="#3a0abd"/><polygon points="414.3,222.4 419.6,221.9 414.4,219.7 409,220.2" fill="#8208cc" stroke="#8208cc"/><polygon points="260.7,181.6 266,183.3 260.7,180.7 255.4,178.9" fill="#e805e1" stroke="#e805e1"/><polygon points="163.3,98.8 165.2,104 159.9,100.2 158,95" fill="#4809c0" stroke="#4809c0"/><polygon points="403.7,220.6 409,220.2 403.8,218 398.5,218.4" fill="#8308cc" stroke="#8308cc"/><polygon points="127.6,8.7 128.8,18 123.5,13 122.3,3.6" fill="#380abc" stroke="#380abc"/><polygon points="191.8,135.9 194.3,139.4 189,136.2 186.6,132.6" fill="#6c08c7" stroke="#6c08c7"/><polygon points="250.1,176.7 255.4,178.9 250.2,176.2 244.8,174" fill="#e805e1" stroke="#e805e1"/><polygon points="172.4,112.5 174.5,117.1 169.2,113.5 167.2,108.9" fill="#5009c1" stroke="#5009c1"/><polygon points="393.1,218.7 398.5,218.4 393.2,216.2 387.9,216.5" fill="#8508cc" stroke="#8508cc"/><polygon points="181.9,124.9 184.2,128.9 178.9,125.5 176.6,121.4" fill="#5b09c4" stroke="#5b09c4"/><polygon points="144.6,59.6 146.1,66.6 140.8,62.3 139.3,55.2" fill="#3d0abd" stroke="#3d0abd"/><polygon points="382.5,216.7 387.9,216.5 382.6,214.2 377.3,214.5" fill="#8708cd" stroke="#8708cd"/><polygon points="239.5,171.2 244.8,174 239.6,171.2 234.2,168.4" fill="#e805e1" stroke="#e805e1"/><polygon points="372,214.7 377.3,214.5 372,212.2 366.7,212.4" fill="#8908cd" stroke="#8908cd"/><polygon points="361.4,212.5 366.7,212.4 361.4,210.1 356.1,210.2" fill="#8c07ce" stroke="#8c07ce"/><polygon points="135.3,31.6 136.6,39.9 131.3,35.2 130,26.8" fill="#390abc" stroke="#390abc"/><polygon points="228.9,164.9 234.2,168.4 229,165.6 223.7,162" fill="#e805e1" stroke="#e805e1"/><polygon points="210.2,151.9 213.1,154.7 207.8,151.7 204.9,148.9" fill="#c506da" stroke="#c506da"/><polygon points="152.9,77.3 154.6,83.5 149.3,79.5 147.6,73.2" fill="#4109be" stroke="#4109be"/><polygon points="350.8,210.2 356.1,210.2 350.8,207.9 345.5,207.8" fill="#9507d0" stroke="#9507d0"/><polygon points="126.5,-1 127.6,8.7 122.3,3.6 121.2,-6.4" fill="#380abc" stroke="#380abc"/><polygon points="218.3,157.7 223.7,162 218.4,159.1 213.1,154.7" fill="#e005df" stroke="#e005df"/><polygon points="340.2,207.7 345.5,207.8 340.2,205.5 334.9,205.4" fill="#a007d2" stroke="#a007d2"/><polygon points="161.5,93.3 163.3,98.8 158,95 156.3,89.4" fill="#4609bf" stroke="#4609bf"/><polygon points="199.6,142.6 202.2,145.9 196.9,142.7 194.3,139.4" fill="#7a08ca" stroke="#7a08ca"/><polygon points="329.6,205.1 334.9,205.4 329.6,203 324.3,202.7" fill="#af07d5" stroke="#af07d5"/><polygon points="143.2,52.3 144.6,59.6 139.3,55.2 137.9,47.7" fill="#3c0abd" stroke="#3c0abd"/><polygon points="170.5,107.7 172.4,112.5 167.2,108.9 165.2,104" fill="#4c09c0" stroke="#4c09c0"/><polygon points="319,202.3 324.3,202.7 319,200.3 313.7,199.9" fill="#c106d9" stroke="#c106d9"/><polygon points="189.5,132.2 191.8,135.9 186.6,132.6 184.2,128.9" fill="#6409c5" stroke="#6409c5"/><polygon points="179.8,120.6 181.9,124.9 176.6,121.4 174.5,117.1" fill="#5609c2" stroke="#5609c2"/><polygon points="308.4,199.3 313.7,199.9 308.4,197.5 303.1,196.8" fill="#ce06dc" stroke="#ce06dc"/><polygon points="134.1,22.9 135.3,31.6 130,26.8 128.8,18" fill="#390abc" stroke="#390abc"/><polygon points="151.4,70.8 152.9,77.3 147.6,73.2 146.1,66.6" fill="#3f0abe" stroke="#3f0abe"/><polygon points="297.8,196 303.1,196.8 297.8,194.4 292.5,193.5" fill="#d306dd" stroke="#d306dd"/><polygon points="287.2,192.5 292.5,193.5 287.2,191 281.9,189.9" fill="#da05de" stroke="#da05de"/><polygon points="159.8,87.6 161.5,93.3 156.3,89.4 154.6,83.5" fill="#4309be" stroke="#4309be"/><polygon points="276.6,188.5 281.9,189.9 276.6,187.4 271.3,185.9" fill="#e505e0" stroke="#e505e0"/><polygon points="141.9,44.5 143.2,52.3 137.9,47.7 136.6,39.9" fill="#3b0abd" stroke="#3b0abd"/><polygon points="207.5,149 210.2,151.9 204.9,148.9 202.2,145.9" fill="#8e07ce" stroke="#8e07ce"/><polygon points="266,184.2 271.3,185.9 266,183.3 260.7,181.6" fill="#e805e1" stroke="#e805e1"/><polygon points="132.9,13.8 134.1,22.9 128.8,18 127.6,8.7" fill="#380abc" stroke="#380abc"/><polygon points="168.6,102.6 170.5,107.7 165.2,104 163.3,98.8" fill="#4909c0" stroke="#4909c0"/><polygon points="197.1,139.2 199.6,142.6 194.3,139.4 191.8,135.9" fill="#6f08c8" stroke="#6f08c8"/><polygon points="409,222.8 414.3,222.4 409,220.2 403.7,220.6" fill="#8308cc" stroke="#8308cc"/><polygon points="255.4,179.4 260.7,181.6 255.4,178.9 250.1,176.7" fill="#e805e1" stroke="#e805e1"/><polygon points="177.7,116.2 179.8,120.6 174.5,117.1 172.4,112.5" fill="#5109c1" stroke="#5109c1"/><polygon points="187.2,128.3 189.5,132.2 184.2,128.9 181.9,124.9" fill="#5d09c4" stroke="#5d09c4"/><polygon points="398.4,220.9 403.7,220.6 398.5,218.4 393.1,218.7" fill="#8408cc" stroke="#8408cc"/><polygon points="149.9,64 151.4,70.8 146.1,66.6 144.6,59.6" fill="#3e0abd" stroke="#3e0abd"/><polygon points="387.8,219 393.1,218.7 387.9,216.5 382.5,216.7" fill="#8608cc" stroke="#8608cc"/><polygon points="244.8,174 250.1,176.7 244.8,174 239.5,171.2" fill="#e805e1" stroke="#e805e1"/><polygon points="377.2,216.9 382.5,216.7 377.3,214.5 372,214.7" fill="#8808cd" stroke="#8808cd"/><polygon points="140.6,36.4 141.9,44.5 136.6,39.9 135.3,31.6" fill="#3a0abc" stroke="#3a0abc"/><polygon points="366.6,214.8 372,214.7 366.7,212.4 361.4,212.5" fill="#8a08cd" stroke="#8a08cd"/><polygon points="215.5,155 218.3,157.7 213.1,154.7 210.2,151.9" fill="#ce06db" stroke="#ce06db"/><polygon points="234.2,167.8 239.5,171.2 234.2,168.4 228.9,164.9" fill="#e805e1" stroke="#e805e1"/><polygon points="158.2,81.5 159.8,87.6 154.6,83.5 152.9,77.3" fill="#4109be" stroke="#4109be"/><polygon points="131.8,4.3 132.9,13.8 127.6,8.7 126.5,-1" fill="#380abc" stroke="#380abc"/><polygon points="356,212.5 361.4,212.5 356.1,210.2 350.8,210.2" fill="#9207cf" stroke="#9207cf"/><polygon points="223.6,160.7 228.9,164.9 223.7,162 218.3,157.7" fill="#e405e0" stroke="#e405e0"/><polygon points="345.5,210.1 350.8,210.2 345.5,207.8 340.2,207.7" fill="#9d07d1" stroke="#9d07d1"/><polygon points="166.8,97.3 168.6,102.6 163.3,98.8 161.5,93.3" fill="#4609bf" stroke="#4609bf"/><polygon points="204.9,145.9 207.5,149 202.2,145.9 199.6,142.6" fill="#7d08cb" stroke="#7d08cb"/><polygon points="148.5,56.8 149.9,64 144.6,59.6 143.2,52.3" fill="#3c0abd" stroke="#3c0abd"/><polygon points="334.9,207.5 340.2,207.7 334.9,205.4 329.6,205.1" fill="#aa07d4" stroke="#aa07d4"/><polygon points="175.8,111.4 177.7,116.2 172.4,112.5 170.5,107.7" fill="#4d09c1" stroke="#4d09c1"/><polygon points="324.3,204.7 329.6,205.1 324.3,202.7 319,202.3" fill="#bb06d8" stroke="#bb06d8"/><polygon points="194.8,135.6 197.1,139.2 191.8,135.9 189.5,132.2" fill="#6609c6" stroke="#6609c6"/><polygon points="185.1,124.2 187.2,128.3 181.9,124.9 179.8,120.6" fill="#5709c3" stroke="#5709c3"/><polygon points="139.4,27.9 140.6,36.4 135.3,31.6 134.1,22.9" fill="#390abc" stroke="#390abc"/><polygon points="313.7,201.7 319,202.3 313.7,199.9 308.4,199.3" fill="#cd06db" stroke="#cd06db"/><polygon points="156.7,75.1 158.2,81.5 152.9,77.3 151.4,70.8" fill="#3f0abe" stroke="#3f0abe"/><polygon points="303.1,198.5 308.4,199.3 303.1,196.8 297.8,196" fill="#d206dc" stroke="#d206dc"/><polygon points="292.5,195 297.8,196 292.5,193.5 287.2,192.5" fill="#d905de" stroke="#d905de"/><polygon points="147.2,49.2 148.5,56.8 143.2,52.3 141.9,44.5" fill="#3b0abd" stroke="#3b0abd"/><polygon points="165.1,91.6 166.8,97.3 161.5,93.3 159.8,87.6" fill="#4409bf" stroke="#4409bf"/><polygon points="281.9,191.2 287.2,192.5 281.9,189.9 276.6,188.5" fill="#e305e0" stroke="#e305e0"/><polygon points="212.8,152.1 215.5,155 210.2,151.9 207.5,149" fill="#9a07d1" stroke="#9a07d1"/><polygon points="138.2,19 139.4,27.9 134.1,22.9 132.9,13.8" fill="#390abc" stroke="#390abc"/><polygon points="271.3,186.9 276.6,188.5 271.3,185.9 266,184.2" fill="#e805e1" stroke="#e805e1"/><polygon points="173.9,106.5 175.8,111.4 170.5,107.7 168.6,102.6" fill="#4a09c0" stroke="#4a09c0"/><polygon points="202.4,142.5 204.9,145.9 199.6,142.6 197.1,139.2" fill="#7108c8" stroke="#7108c8"/><polygon points="183,119.8 185.1,124.2 179.8,120.6 177.7,116.2" fill="#5209c2" stroke="#5209c2"/><polygon points="260.7,182.2 266,184.2 260.7,181.6 255.4,179.4" fill="#e805e1" stroke="#e805e1"/><polygon points="192.5,131.8 194.8,135.6 189.5,132.2 187.2,128.3" fill="#5e09c4" stroke="#5e09c4"/><polygon points="155.2,68.4 156.7,75.1 151.4,70.8 149.9,64" fill="#3e0abd" stroke="#3e0abd"/><polygon points="403.7,223.1 409,222.8 403.7,220.6 398.4,220.9" fill="#8408cc" stroke="#8408cc"/><polygon points="393.1,221.2 398.4,220.9 393.1,218.7 387.8,219" fill="#8508cc" stroke="#8508cc"/><polygon points="250.1,176.8 255.4,179.4 250.1,176.7 244.8,174" fill="#e805e1" stroke="#e805e1"/><polygon points="382.5,219.2 387.8,219 382.5,216.7 377.2,216.9" fill="#8708cd" stroke="#8708cd"/><polygon points="145.9,41.3 147.2,49.2 141.9,44.5 140.6,36.4" fill="#3a0abc" stroke="#3a0abc"/><polygon points="163.5,85.7 165.1,91.6 159.8,87.6 158.2,81.5" fill="#4209be" stroke="#4209be"/><polygon points="220.8,158.1 223.6,160.7 218.3,157.7 215.5,155" fill="#d006dc" stroke="#d006dc"/><polygon points="239.5,170.7 244.8,174 239.5,171.2 234.2,167.8" fill="#e805e1" stroke="#e805e1"/><polygon points="371.9,217.1 377.2,216.9 372,214.7 366.6,214.8" fill="#8a08cd" stroke="#8a08cd"/><polygon points="137.1,9.6 138.2,19 132.9,13.8 131.8,4.3" fill="#380abc" stroke="#380abc"/><polygon points="361.3,214.8 366.6,214.8 361.4,212.5 356,212.5" fill="#8f07ce" stroke="#8f07ce"/><polygon points="228.9,163.8 234.2,167.8 228.9,164.9 223.6,160.7" fill="#e805e1" stroke="#e805e1"/><polygon points="350.7,212.4 356,212.5 350.8,210.2 345.5,210.1" fill="#9907d0" stroke="#9907d0"/><polygon points="172.1,101.2 173.9,106.5 168.6,102.6 166.8,97.3" fill="#4709bf" stroke="#4709bf"/><polygon points="210.2,149.1 212.8,152.1 207.5,149 204.9,145.9" fill="#8108cb" stroke="#8108cb"/><polygon points="153.8,61.3 155.2,68.4 149.9,64 148.5,56.8" fill="#3c0abd" stroke="#3c0abd"/><polygon points="340.1,209.9 345.5,210.1 340.2,207.7 334.9,207.5" fill="#a607d3" stroke="#a607d3"/><polygon points="181.1,115.2 183,119.8 177.7,116.2 175.8,111.4" fill="#4e09c1" stroke="#4e09c1"/><polygon points="200,139 202.4,142.5 197.1,139.2 194.8,135.6" fill="#6808c6" stroke="#6808c6"/><polygon points="329.6,207.1 334.9,207.5 329.6,205.1 324.3,204.7" fill="#b606d7" stroke="#b606d7"/><polygon points="190.4,127.7 192.5,131.8 187.2,128.3 185.1,124.2" fill="#5809c3" stroke="#5809c3"/><polygon points="144.6,32.9 145.9,41.3 140.6,36.4 139.4,27.9" fill="#390abc" stroke="#390abc"/><polygon points="319,204.2 324.3,204.7 319,202.3 313.7,201.7" fill="#cb06db" stroke="#cb06db"/><polygon points="136,-0.3 137.1,9.6 131.8,4.3 130.7,-5.8" fill="#380abc" stroke="#380abc"/><polygon points="162,79.4 163.5,85.7 158.2,81.5 156.7,75.1" fill="#400abe" stroke="#400abe"/><polygon points="308.4,201 313.7,201.7 308.4,199.3 303.1,198.5" fill="#d106dc" stroke="#d106dc"/><polygon points="297.8,197.5 303.1,198.5 297.8,196 292.5,195" fill="#d705dd" stroke="#d705dd"/><polygon points="152.4,53.9 153.8,61.3 148.5,56.8 147.2,49.2" fill="#3b0abd" stroke="#3b0abd"/><polygon points="170.4,95.7 172.1,101.2 166.8,97.3 165.1,91.6" fill="#4409bf" stroke="#4409bf"/><polygon points="218.1,155.3 220.8,158.1 215.5,155 212.8,152.1" fill="#a707d3" stroke="#a707d3"/><polygon points="287.2,193.8 292.5,195 287.2,192.5 281.9,191.2" fill="#e005df" stroke="#e005df"/><polygon points="143.5,24.1 144.6,32.9 139.4,27.9 138.2,19" fill="#390abc" stroke="#390abc"/><polygon points="276.6,189.6 281.9,191.2 276.6,188.5 271.3,186.9" fill="#e805e1" stroke="#e805e1"/><polygon points="179.2,110.3 181.1,115.2 175.8,111.4 173.9,106.5" fill="#4b09c0" stroke="#4b09c0"/><polygon points="207.7,145.8 210.2,149.1 204.9,145.9 202.4,142.5" fill="#7408c9" stroke="#7408c9"/><polygon points="188.3,123.4 190.4,127.7 185.1,124.2 183,119.8" fill="#5309c2" stroke="#5309c2"/><polygon points="160.5,72.8 162,79.4 156.7,75.1 155.2,68.4" fill="#3e0abd" stroke="#3e0abd"/><polygon points="197.8,135.2 200,139 194.8,135.6 192.5,131.8" fill="#6009c4" stroke="#6009c4"/><polygon points="266,184.9 271.3,186.9 266,184.2 260.7,182.2" fill="#e805e1" stroke="#e805e1"/><polygon points="398.4,223.4 403.7,223.1 398.4,220.9 393.1,221.2" fill="#8508cc" stroke="#8508cc"/><polygon points="255.4,179.6 260.7,182.2 255.4,179.4 250.1,176.8" fill="#e805e1" stroke="#e805e1"/><polygon points="151.2,46.1 152.4,53.9 147.2,49.2 145.9,41.3" fill="#3a0abd" stroke="#3a0abd"/><polygon points="387.8,221.4 393.1,221.2 387.8,219 382.5,219.2" fill="#8608cd" stroke="#8608cd"/><polygon points="168.8,89.8 170.4,95.7 165.1,91.6 163.5,85.7" fill="#4209be" stroke="#4209be"/><polygon points="226.1,161.2 228.9,163.8 223.6,160.7 220.8,158.1" fill="#d306dd" stroke="#d306dd"/><polygon points="244.8,173.6 250.1,176.8 244.8,174 239.5,170.7" fill="#e805e1" stroke="#e805e1"/><polygon points="142.4,14.9 143.5,24.1 138.2,19 137.1,9.6" fill="#380abc" stroke="#380abc"/><polygon points="377.2,219.3 382.5,219.2 377.2,216.9 371.9,217.1" fill="#8908cd" stroke="#8908cd"/><polygon points="366.6,217.1 371.9,217.1 366.6,214.8 361.3,214.8" fill="#8c07ce" stroke="#8c07ce"/><polygon points="234.2,166.8 239.5,170.7 234.2,167.8 228.9,163.8" fill="#e805e1" stroke="#e805e1"/><polygon points="177.4,105.1 179.2,110.3 173.9,106.5 172.1,101.2" fill="#4809bf" stroke="#4809bf"/><polygon points="356,214.8 361.3,214.8 356,212.5 350.7,212.4" fill="#9607d0" stroke="#9607d0"/><polygon points="159.1,65.9 160.5,72.8 155.2,68.4 153.8,61.3" fill="#3d0abd" stroke="#3d0abd"/><polygon points="215.5,152.3 218.1,155.3 212.8,152.1 210.2,149.1" fill="#8408cc" stroke="#8408cc"/><polygon points="345.4,212.2 350.7,212.4 345.5,210.1 340.1,209.9" fill="#a207d2" stroke="#a207d2"/><polygon points="186.3,118.9 188.3,123.4 183,119.8 181.1,115.2" fill="#4f09c1" stroke="#4f09c1"/><polygon points="205.3,142.4 207.7,145.8 202.4,142.5 200,139" fill="#6a08c7" stroke="#6a08c7"/><polygon points="149.9,37.9 151.2,46.1 145.9,41.3 144.6,32.9" fill="#390abc" stroke="#390abc"/><polygon points="195.6,131.3 197.8,135.2 192.5,131.8 190.4,127.7" fill="#5a09c3" stroke="#5a09c3"/><polygon points="334.8,209.5 340.1,209.9 334.9,207.5 329.6,207.1" fill="#b106d6" stroke="#b106d6"/><polygon points="141.3,5.2 142.4,14.9 137.1,9.6 136,-0.3" fill="#380abc" stroke="#380abc"/><polygon points="324.2,206.6 329.6,207.1 324.3,204.7 319,204.2" fill="#c506da" stroke="#c506da"/><polygon points="167.2,83.7 168.8,89.8 163.5,85.7 162,79.4" fill="#400abe" stroke="#400abe"/><polygon points="313.6,203.5 319,204.2 313.7,201.7 308.4,201" fill="#cf06dc" stroke="#cf06dc"/><polygon points="303.1,200.1 308.4,201 303.1,198.5 297.8,197.5" fill="#d506dd" stroke="#d506dd"/><polygon points="157.7,58.6 159.1,65.9 153.8,61.3 152.4,53.9" fill="#3b0abd" stroke="#3b0abd"/><polygon points="175.7,99.7 177.4,105.1 172.1,101.2 170.4,95.7" fill="#4509bf" stroke="#4509bf"/><polygon points="223.3,158.4 226.1,161.2 220.8,158.1 218.1,155.3" fill="#b606d7" stroke="#b606d7"/><polygon points="292.5,196.4 297.8,197.5 292.5,195 287.2,193.8" fill="#de05df" stroke="#de05df"/><polygon points="148.8,29.3 149.9,37.9 144.6,32.9 143.5,24.1" fill="#390abc" stroke="#390abc"/><polygon points="184.5,114.1 186.3,118.9 181.1,115.2 179.2,110.3" fill="#4b09c0" stroke="#4b09c0"/><polygon points="281.9,192.2 287.2,193.8 281.9,191.2 276.6,189.6" fill="#e805e1" stroke="#e805e1"/><polygon points="213,149.1 215.5,152.3 210.2,149.1 207.7,145.8" fill="#7708c9" stroke="#7708c9"/><polygon points="165.8,77.2 167.2,83.7 162,79.4 160.5,72.8" fill="#3f0abd" stroke="#3f0abd"/><polygon points="193.6,127.1 195.6,131.3 190.4,127.7 188.3,123.4" fill="#5409c2" stroke="#5409c2"/><polygon points="203.1,138.7 205.3,142.4 200,139 197.8,135.2" fill="#6209c5" stroke="#6209c5"/><polygon points="271.3,187.6 276.6,189.6 271.3,186.9 266,184.9" fill="#e805e1" stroke="#e805e1"/><polygon points="260.7,182.4 266,184.9 260.7,182.2 255.4,179.6" fill="#e805e1" stroke="#e805e1"/><polygon points="156.4,50.9 157.7,58.6 152.4,53.9 151.2,46.1" fill="#3a0abd" stroke="#3a0abd"/><polygon points="393.1,223.7 398.4,223.4 393.1,221.2 387.8,221.4" fill="#8608cc" stroke="#8608cc"/><polygon points="174.1,94 175.7,99.7 170.4,95.7 168.8,89.8" fill="#4309be" stroke="#4309be"/><polygon points="147.6,20.2 148.8,29.3 143.5,24.1 142.4,14.9" fill="#380abc" stroke="#380abc"/><polygon points="231.3,164.3 234.2,166.8 228.9,163.8 226.1,161.2" fill="#d705dd" stroke="#d705dd"/><polygon points="250.1,176.5 255.4,179.6 250.1,176.8 244.8,173.6" fill="#e805e1" stroke="#e805e1"/><polygon points="382.5,221.6 387.8,221.4 382.5,219.2 377.2,219.3" fill="#8808cd" stroke="#8808cd"/><polygon points="371.9,219.4 377.2,219.3 371.9,217.1 366.6,217.1" fill="#8a08cd" stroke="#8a08cd"/><polygon points="182.7,109.1 184.5,114.1 179.2,110.3 177.4,105.1" fill="#4809bf" stroke="#4809bf"/><polygon points="239.5,169.8 244.8,173.6 239.5,170.7 234.2,166.8" fill="#e805e1" stroke="#e805e1"/><polygon points="164.4,70.4 165.8,77.2 160.5,72.8 159.1,65.9" fill="#3d0abd" stroke="#3d0abd"/><polygon points="361.3,217.1 366.6,217.1 361.3,214.8 356,214.8" fill="#9207cf" stroke="#9207cf"/><polygon points="220.7,155.5 223.3,158.4 218.1,155.3 215.5,152.3" fill="#8808cd" stroke="#8808cd"/><polygon points="191.6,122.6 193.6,127.1 188.3,123.4 186.3,118.9" fill="#5009c1" stroke="#5009c1"/><polygon points="350.7,214.6 356,214.8 350.7,212.4 345.4,212.2" fill="#9e07d1" stroke="#9e07d1"/><polygon points="155.2,42.9 156.4,50.9 151.2,46.1 149.9,37.9" fill="#390abc" stroke="#390abc"/><polygon points="210.6,145.7 213,149.1 207.7,145.8 205.3,142.4" fill="#6c08c7" stroke="#6c08c7"/><polygon points="200.9,134.8 203.1,138.7 197.8,135.2 195.6,131.3" fill="#5b09c3" stroke="#5b09c3"/><polygon points="340.1,212 345.4,212.2 340.1,209.9 334.8,209.5" fill="#ac07d4" stroke="#ac07d4"/><polygon points="146.6,10.7 147.6,20.2 142.4,14.9 141.3,5.2" fill="#380abc" stroke="#380abc"/><polygon points="172.5,88 174.1,94 168.8,89.8 167.2,83.7" fill="#4109be" stroke="#4109be"/><polygon points="329.5,209.1 334.8,209.5 329.6,207.1 324.2,206.6" fill="#bf06d8" stroke="#bf06d8"/><polygon points="318.9,206 324.2,206.6 319,204.2 313.6,203.5" fill="#ce06dc" stroke="#ce06dc"/><polygon points="163,63.3 164.4,70.4 159.1,65.9 157.7,58.6" fill="#3c0abd" stroke="#3c0abd"/><polygon points="308.3,202.6 313.6,203.5 308.4,201 303.1,200.1" fill="#d406dd" stroke="#d406dd"/><polygon points="181,103.8 182.7,109.1 177.4,105.1 175.7,99.7" fill="#4609bf" stroke="#4609bf"/><polygon points="228.6,161.6 231.3,164.3 226.1,161.2 223.3,158.4" fill="#c606da" stroke="#c606da"/><polygon points="154,34.4 155.2,42.9 149.9,37.9 148.8,29.3" fill="#390abc" stroke="#390abc"/><polygon points="297.7,199 303.1,200.1 297.8,197.5 292.5,196.4" fill="#dc05de" stroke="#dc05de"/><polygon points="145.6,0.7 146.6,10.7 141.3,5.2 140.3,-5" fill="#380abc" stroke="#380abc"/><polygon points="189.8,118 191.6,122.6 186.3,118.9 184.5,114.1" fill="#4c09c0" stroke="#4c09c0"/><polygon points="287.1,194.9 292.5,196.4 287.2,193.8 281.9,192.2" fill="#e805e1" stroke="#e805e1"/><polygon points="218.3,152.4 220.7,155.5 215.5,152.3 213,149.1" fill="#7a08ca" stroke="#7a08ca"/><polygon points="171,81.6 172.5,88 167.2,83.7 165.8,77.2" fill="#3f0abe" stroke="#3f0abe"/><polygon points="198.9,130.7 200.9,134.8 195.6,131.3 193.6,127.1" fill="#5609c2" stroke="#5609c2"/><polygon points="208.4,142.1 210.6,145.7 205.3,142.4 203.1,138.7" fill="#6409c5" stroke="#6409c5"/><polygon points="276.6,190.3 281.9,192.2 276.6,189.6 271.3,187.6" fill="#e805e1" stroke="#e805e1"/><polygon points="161.7,55.8 163,63.3 157.7,58.6 156.4,50.9" fill="#3b0abd" stroke="#3b0abd"/><polygon points="266,185.2 271.3,187.6 266,184.9 260.7,182.4" fill="#e805e1" stroke="#e805e1"/><polygon points="179.4,98.2 181,103.8 175.7,99.7 174.1,94" fill="#4309be" stroke="#4309be"/><polygon points="152.9,25.5 154,34.4 148.8,29.3 147.6,20.2" fill="#380abc" stroke="#380abc"/><polygon points="236.6,167.3 239.5,169.8 234.2,166.8 231.3,164.3" fill="#db05de" stroke="#db05de"/><polygon points="255.4,179.5 260.7,182.4 255.4,179.6 250.1,176.5" fill="#e805e1" stroke="#e805e1"/><polygon points="387.8,223.9 393.1,223.7 387.8,221.4 382.5,221.6" fill="#8708cd" stroke="#8708cd"/><polygon points="377.2,221.8 382.5,221.6 377.2,219.3 371.9,219.4" fill="#8908cd" stroke="#8908cd"/><polygon points="188,113 189.8,118 184.5,114.1 182.7,109.1" fill="#4909c0" stroke="#4909c0"/><polygon points="169.6,75 171,81.6 165.8,77.2 164.4,70.4" fill="#3d0abd" stroke="#3d0abd"/><polygon points="244.8,172.8 250.1,176.5 244.8,173.6 239.5,169.8" fill="#e805e1" stroke="#e805e1"/><polygon points="366.6,219.5 371.9,219.4 366.6,217.1 361.3,217.1" fill="#8f07ce" stroke="#8f07ce"/><polygon points="226,158.7 228.6,161.6 223.3,158.4 220.7,155.5" fill="#8f07ce" stroke="#8f07ce"/><polygon points="196.9,126.4 198.9,130.7 193.6,127.1 191.6,122.6" fill="#5109c1" stroke="#5109c1"/><polygon points="160.5,47.9 161.7,55.8 156.4,50.9 155.2,42.9" fill="#3a0abc" stroke="#3a0abc"/><polygon points="356,217 361.3,217.1 356,214.8 350.7,214.6" fill="#9a07d1" stroke="#9a07d1"/><polygon points="215.9,149.1 218.3,152.4 213,149.1 210.6,145.7" fill="#6f08c8" stroke="#6f08c8"/><polygon points="206.2,138.4 208.4,142.1 203.1,138.7 200.9,134.8" fill="#5d09c4" stroke="#5d09c4"/><polygon points="151.9,16.2 152.9,25.5 147.6,20.2 146.6,10.7" fill="#380abc" stroke="#380abc"/><polygon points="345.4,214.4 350.7,214.6 345.4,212.2 340.1,212" fill="#a807d4" stroke="#a807d4"/><polygon points="177.8,92.3 179.4,98.2 174.1,94 172.5,88" fill="#4109be" stroke="#4109be"/><polygon points="334.8,211.6 340.1,212 334.8,209.5 329.5,209.1" fill="#ba06d7" stroke="#ba06d7"/><polygon points="324.2,208.5 329.5,209.1 324.2,206.6 318.9,206" fill="#cd06db" stroke="#cd06db"/><polygon points="168.3,68 169.6,75 164.4,70.4 163,63.3" fill="#3c0abd" stroke="#3c0abd"/><polygon points="186.3,107.8 188,113 182.7,109.1 181,103.8" fill="#4609bf" stroke="#4609bf"/><polygon points="313.6,205.2 318.9,206 313.6,203.5 308.3,202.6" fill="#d206dc" stroke="#d206dc"/><polygon points="159.3,39.6 160.5,47.9 155.2,42.9 154,34.4" fill="#390abc" stroke="#390abc"/><polygon points="233.9,164.7 236.6,167.3 231.3,164.3 228.6,161.6" fill="#ce06dc" stroke="#ce06dc"/><polygon points="303,201.6 308.3,202.6 303.1,200.1 297.7,199" fill="#da05de" stroke="#da05de"/><polygon points="150.9,6.4 151.9,16.2 146.6,10.7 145.6,0.7" fill="#380abc" stroke="#380abc"/><polygon points="195,121.8 196.9,126.4 191.6,122.6 189.8,118" fill="#4d09c1" stroke="#4d09c1"/><polygon points="292.4,197.5 297.7,199 292.5,196.4 287.1,194.9" fill="#e505e0" stroke="#e505e0"/><polygon points="223.5,155.7 226,158.7 220.7,155.5 218.3,152.4" fill="#7d08cb" stroke="#7d08cb"/><polygon points="176.3,86.1 177.8,92.3 172.5,88 171,81.6" fill="#3f0abe" stroke="#3f0abe"/><polygon points="204.2,134.3 206.2,138.4 200.9,134.8 198.9,130.7" fill="#5709c3" stroke="#5709c3"/><polygon points="213.6,145.6 215.9,149.1 210.6,145.7 208.4,142.1" fill="#6609c6" stroke="#6609c6"/><polygon points="281.8,193.1 287.1,194.9 281.9,192.2 276.6,190.3" fill="#e805e1" stroke="#e805e1"/><polygon points="167,60.6 168.3,68 163,63.3 161.7,55.8" fill="#3b0abd" stroke="#3b0abd"/><polygon points="271.2,188.1 276.6,190.3 271.3,187.6 266,185.2" fill="#e805e1" stroke="#e805e1"/><polygon points="158.2,30.8 159.3,39.6 154,34.4 152.9,25.5" fill="#390abc" stroke="#390abc"/><polygon points="184.6,102.3 186.3,107.8 181,103.8 179.4,98.2" fill="#4409bf" stroke="#4409bf"/><polygon points="241.9,170.4 244.8,172.8 239.5,169.8 236.6,167.3" fill="#df05df" stroke="#df05df"/><polygon points="260.6,182.4 266,185.2 260.7,182.4 255.4,179.5" fill="#e805e1" stroke="#e805e1"/><polygon points="193.3,117 195,121.8 189.8,118 188,113" fill="#4a09c0" stroke="#4a09c0"/><polygon points="174.9,79.5 176.3,86.1 171,81.6 169.6,75" fill="#3e0abd" stroke="#3e0abd"/><polygon points="382.5,224.1 387.8,223.9 382.5,221.6 377.2,221.8" fill="#8808cd" stroke="#8808cd"/><polygon points="250.1,175.8 255.4,179.5 250.1,176.5 244.8,172.8" fill="#e805e1" stroke="#e805e1"/><polygon points="231.3,161.9 233.9,164.7 228.6,161.6 226,158.7" fill="#9c07d1" stroke="#9c07d1"/><polygon points="371.9,221.8 377.2,221.8 371.9,219.4 366.6,219.5" fill="#8c07ce" stroke="#8c07ce"/><polygon points="165.8,52.8 167,60.6 161.7,55.8 160.5,47.9" fill="#3a0abc" stroke="#3a0abc"/><polygon points="202.2,130.1 204.2,134.3 198.9,130.7 196.9,126.4" fill="#5209c2" stroke="#5209c2"/><polygon points="361.3,219.4 366.6,219.5 361.3,217.1 356,217" fill="#9607d0" stroke="#9607d0"/><polygon points="221.2,152.5 223.5,155.7 218.3,152.4 215.9,149.1" fill="#7108c8" stroke="#7108c8"/><polygon points="157.2,21.7 158.2,30.8 152.9,25.5 151.9,16.2" fill="#380abc" stroke="#380abc"/><polygon points="211.5,141.9 213.6,145.6 208.4,142.1 206.2,138.4" fill="#5e09c4" stroke="#5e09c4"/><polygon points="350.7,216.8 356,217 350.7,214.6 345.4,214.4" fill="#a307d3" stroke="#a307d3"/><polygon points="183.1,96.5 184.6,102.3 179.4,98.2 177.8,92.3" fill="#4209be" stroke="#4209be"/><polygon points="340.1,214 345.4,214.4 340.1,212 334.8,211.6" fill="#b406d6" stroke="#b406d6"/><polygon points="329.5,211 334.8,211.6 329.5,209.1 324.2,208.5" fill="#cb06db" stroke="#cb06db"/><polygon points="173.6,72.6 174.9,79.5 169.6,75 168.3,68" fill="#3c0abd" stroke="#3c0abd"/><polygon points="191.6,111.9 193.3,117 188,113 186.3,107.8" fill="#4709bf" stroke="#4709bf"/><polygon points="318.9,207.7 324.2,208.5 318.9,206 313.6,205.2" fill="#d106dc" stroke="#d106dc"/><polygon points="164.6,44.7 165.8,52.8 160.5,47.9 159.3,39.6" fill="#390abc" stroke="#390abc"/><polygon points="156.1,12 157.2,21.7 151.9,16.2 150.9,6.4" fill="#380abc" stroke="#380abc"/><polygon points="239.2,167.9 241.9,170.4 236.6,167.3 233.9,164.7" fill="#d106dc" stroke="#d106dc"/><polygon points="308.3,204.2 313.6,205.2 308.3,202.6 303,201.6" fill="#d805de" stroke="#d805de"/><polygon points="200.3,125.6 202.2,130.1 196.9,126.4 195,121.8" fill="#4e09c1" stroke="#4e09c1"/><polygon points="297.7,200.2 303,201.6 297.7,199 292.4,197.5" fill="#e205e0" stroke="#e205e0"/><polygon points="181.6,90.5 183.1,96.5 177.8,92.3 176.3,86.1" fill="#400abe" stroke="#400abe"/><polygon points="228.8,159 231.3,161.9 226,158.7 223.5,155.7" fill="#8108cb" stroke="#8108cb"/><polygon points="209.4,138 211.5,141.9 206.2,138.4 204.2,134.3" fill="#5809c3" stroke="#5809c3"/><polygon points="218.9,149.1 221.2,152.5 215.9,149.1 213.6,145.6" fill="#6808c6" stroke="#6808c6"/><polygon points="287.1,195.8 292.4,197.5 287.1,194.9 281.8,193.1" fill="#e805e1" stroke="#e805e1"/><polygon points="172.3,65.4 173.6,72.6 168.3,68 167,60.6" fill="#3b0abd" stroke="#3b0abd"/><polygon points="163.5,36.1 164.6,44.7 159.3,39.6 158.2,30.8" fill="#390abc" stroke="#390abc"/><polygon points="276.5,190.9 281.8,193.1 276.6,190.3 271.2,188.1" fill="#e805e1" stroke="#e805e1"/><polygon points="155.2,1.9 156.1,12 150.9,6.4 149.9,-3.9" fill="#380abc" stroke="#380abc"/><polygon points="189.9,106.5 191.6,111.9 186.3,107.8 184.6,102.3" fill="#4409bf" stroke="#4409bf"/><polygon points="247.2,173.5 250.1,175.8 244.8,172.8 241.9,170.4" fill="#e305e0" stroke="#e305e0"/><polygon points="265.9,185.3 271.2,188.1 266,185.2 260.6,182.4" fill="#e805e1" stroke="#e805e1"/><polygon points="198.5,120.9 200.3,125.6 195,121.8 193.3,117" fill="#4b09c0" stroke="#4b09c0"/><polygon points="180.2,84.1 181.6,90.5 176.3,86.1 174.9,79.5" fill="#3e0abd" stroke="#3e0abd"/><polygon points="255.3,178.8 260.6,182.4 255.4,179.5 250.1,175.8" fill="#e805e1" stroke="#e805e1"/><polygon points="236.6,165.2 239.2,167.9 233.9,164.7 231.3,161.9" fill="#ab07d4" stroke="#ab07d4"/><polygon points="171.1,57.8 172.3,65.4 167,60.6 165.8,52.8" fill="#3a0abd" stroke="#3a0abd"/><polygon points="377.2,224.2 382.5,224.1 377.2,221.8 371.9,221.8" fill="#8a08cd" stroke="#8a08cd"/><polygon points="207.5,133.8 209.4,138 204.2,134.3 202.2,130.1" fill="#5309c2" stroke="#5309c2"/><polygon points="162.4,27.2 163.5,36.1 158.2,30.8 157.2,21.7" fill="#380abc" stroke="#380abc"/><polygon points="226.5,155.8 228.8,159 223.5,155.7 221.2,152.5" fill="#7408c9" stroke="#7408c9"/><polygon points="366.6,221.8 371.9,221.8 366.6,219.5 361.3,219.4" fill="#9207cf" stroke="#9207cf"/><polygon points="216.8,145.4 218.9,149.1 213.6,145.6 211.5,141.9" fill="#6009c5" stroke="#6009c5"/><polygon points="188.4,100.8 189.9,106.5 184.6,102.3 183.1,96.5" fill="#4209be" stroke="#4209be"/><polygon points="356,219.2 361.3,219.4 356,217 350.7,216.8" fill="#9f07d2" stroke="#9f07d2"/><polygon points="345.4,216.5 350.7,216.8 345.4,214.4 340.1,214" fill="#af07d5" stroke="#af07d5"/><polygon points="178.9,77.3 180.2,84.1 174.9,79.5 173.6,72.6" fill="#3d0abd" stroke="#3d0abd"/><polygon points="334.8,213.5 340.1,214 334.8,211.6 329.5,211" fill="#c406d9" stroke="#c406d9"/><polygon points="196.8,115.9 198.5,120.9 193.3,117 191.6,111.9" fill="#4809bf" stroke="#4809bf"/><polygon points="169.9,49.8 171.1,57.8 165.8,52.8 164.6,44.7" fill="#390abc" stroke="#390abc"/><polygon points="324.2,210.3 329.5,211 324.2,208.5 318.9,207.7" fill="#cf06dc" stroke="#cf06dc"/><polygon points="161.4,17.7 162.4,27.2 157.2,21.7 156.1,12" fill="#380abc" stroke="#380abc"/><polygon points="244.5,171 247.2,173.5 241.9,170.4 239.2,167.9" fill="#d506dd" stroke="#d506dd"/><polygon points="313.6,206.8 318.9,207.7 313.6,205.2 308.3,204.2" fill="#d605dd" stroke="#d605dd"/><polygon points="205.6,129.4 207.5,133.8 202.2,130.1 200.3,125.6" fill="#4f09c1" stroke="#4f09c1"/><polygon points="186.9,94.9 188.4,100.8 183.1,96.5 181.6,90.5" fill="#400abe" stroke="#400abe"/><polygon points="234.1,162.3 236.6,165.2 231.3,161.9 228.8,159" fill="#8508cc" stroke="#8508cc"/><polygon points="303,202.9 308.3,204.2 303,201.6 297.7,200.2" fill="#e005df" stroke="#e005df"/><polygon points="214.7,141.6 216.8,145.4 211.5,141.9 209.4,138" fill="#5a09c3" stroke="#5a09c3"/><polygon points="224.2,152.5 226.5,155.8 221.2,152.5 218.9,149.1" fill="#6a08c7" stroke="#6a08c7"/><polygon points="177.6,70.2 178.9,77.3 173.6,72.6 172.3,65.4" fill="#3b0abd" stroke="#3b0abd"/><polygon points="292.4,198.5 297.7,200.2 292.4,197.5 287.1,195.8" fill="#e805e1" stroke="#e805e1"/><polygon points="168.8,41.5 169.9,49.8 164.6,44.7 163.5,36.1" fill="#390abc" stroke="#390abc"/><polygon points="160.5,7.8 161.4,17.7 156.1,12 155.2,1.9" fill="#380abc" stroke="#380abc"/><polygon points="195.2,110.6 196.8,115.9 191.6,111.9 189.9,106.5" fill="#4509bf" stroke="#4509bf"/><polygon points="281.8,193.7 287.1,195.8 281.8,193.1 276.5,190.9" fill="#e805e1" stroke="#e805e1"/><polygon points="252.5,176.6 255.3,178.8 250.1,175.8 247.2,173.5" fill="#e805e1" stroke="#e805e1"/><polygon points="271.2,188.2 276.5,190.9 271.2,188.1 265.9,185.3" fill="#e805e1" stroke="#e805e1"/><polygon points="185.5,88.6 186.9,94.9 181.6,90.5 180.2,84.1" fill="#3f0abd" stroke="#3f0abd"/><polygon points="203.8,124.8 205.6,129.4 200.3,125.6 198.5,120.9" fill="#4b09c0" stroke="#4b09c0"/><polygon points="260.6,181.8 265.9,185.3 260.6,182.4 255.3,178.8" fill="#e805e1" stroke="#e805e1"/><polygon points="176.4,62.8 177.6,70.2 172.3,65.4 171.1,57.8" fill="#3a0abd" stroke="#3a0abd"/><polygon points="241.9,168.4 244.5,171 239.2,167.9 236.6,165.2" fill="#bb06d8" stroke="#bb06d8"/><polygon points="212.8,137.6 214.7,141.6 209.4,138 207.5,133.8" fill="#5509c2" stroke="#5509c2"/><polygon points="167.7,32.6 168.8,41.5 163.5,36.1 162.4,27.2" fill="#380abc" stroke="#380abc"/><polygon points="159.5,-2.6 160.5,7.8 155.2,1.9 154.2,-8.7" fill="#370abc" stroke="#370abc"/><polygon points="231.8,159.2 234.1,162.3 228.8,159 226.5,155.8" fill="#7808c9" stroke="#7808c9"/><polygon points="222.1,149 224.2,152.5 218.9,149.1 216.8,145.4" fill="#6209c5" stroke="#6209c5"/><polygon points="371.9,224.1 377.2,224.2 371.9,221.8 366.6,221.8" fill="#8e07ce" stroke="#8e07ce"/><polygon points="193.7,105.1 195.2,110.6 189.9,106.5 188.4,100.8" fill="#4309be" stroke="#4309be"/><polygon points="361.3,221.6 366.6,221.8 361.3,219.4 356,219.2" fill="#9a07d1" stroke="#9a07d1"/><polygon points="350.7,218.9 356,219.2 350.7,216.8 345.4,216.5" fill="#a907d4" stroke="#a907d4"/><polygon points="184.1,82 185.5,88.6 180.2,84.1 178.9,77.3" fill="#3d0abd" stroke="#3d0abd"/><polygon points="340.1,216 345.4,216.5 340.1,214 334.8,213.5" fill="#bd06d8" stroke="#bd06d8"/><polygon points="202.1,119.9 203.8,124.8 198.5,120.9 196.8,115.9" fill="#4809c0" stroke="#4809c0"/><polygon points="175.2,55 176.4,62.8 171.1,57.8 169.9,49.8" fill="#390abc" stroke="#390abc"/><polygon points="166.7,23.4 167.7,32.6 162.4,27.2 161.4,17.7" fill="#380abc" stroke="#380abc"/><polygon points="329.5,212.8 334.8,213.5 329.5,211 324.2,210.3" fill="#ce06dc" stroke="#ce06dc"/><polygon points="249.8,174.2 252.5,176.6 247.2,173.5 244.5,171" fill="#d905de" stroke="#d905de"/><polygon points="210.9,133.3 212.8,137.6 207.5,133.8 205.6,129.4" fill="#5009c1" stroke="#5009c1"/><polygon points="318.9,209.4 324.2,210.3 318.9,207.7 313.6,206.8" fill="#d406dd" stroke="#d406dd"/><polygon points="192.2,99.3 193.7,105.1 188.4,100.8 186.9,94.9" fill="#4109be" stroke="#4109be"/><polygon points="239.4,165.6 241.9,168.4 236.6,165.2 234.1,162.3" fill="#8908cd" stroke="#8908cd"/><polygon points="308.3,205.5 313.6,206.8 308.3,204.2 303,202.9" fill="#dd05df" stroke="#dd05df"/><polygon points="220,145.2 222.1,149 216.8,145.4 214.7,141.6" fill="#5b09c4" stroke="#5b09c4"/><polygon points="229.5,156 231.8,159.2 226.5,155.8 224.2,152.5" fill="#6d08c7" stroke="#6d08c7"/><polygon points="182.9,75.1 184.1,82 178.9,77.3 177.6,70.2" fill="#3c0abd" stroke="#3c0abd"/><polygon points="297.7,201.3 303,202.9 297.7,200.2 292.4,198.5" fill="#e805e1" stroke="#e805e1"/><polygon points="174.1,46.8 175.2,55 169.9,49.8 168.8,41.5" fill="#390abc" stroke="#390abc"/><polygon points="165.7,13.7 166.7,23.4 161.4,17.7 160.5,7.8" fill="#380abc" stroke="#380abc"/><polygon points="200.5,114.8 202.1,119.9 196.8,115.9 195.2,110.6" fill="#4609bf" stroke="#4609bf"/><polygon points="287.1,196.5 292.4,198.5 287.1,195.8 281.8,193.7" fill="#e805e1" stroke="#e805e1"/><polygon points="257.8,179.6 260.6,181.8 255.3,178.8 252.5,176.6" fill="#e805e1" stroke="#e805e1"/><polygon points="276.5,191.1 281.8,193.7 276.5,190.9 271.2,188.2" fill="#e805e1" stroke="#e805e1"/><polygon points="190.8,93.1 192.2,99.3 186.9,94.9 185.5,88.6" fill="#3f0abe" stroke="#3f0abe"/><polygon points="209.1,128.8 210.9,133.3 205.6,129.4 203.8,124.8" fill="#4c09c0" stroke="#4c09c0"/><polygon points="265.9,184.8 271.2,188.2 265.9,185.3 260.6,181.8" fill="#e805e1" stroke="#e805e1"/><polygon points="181.6,67.8 182.9,75.1 177.6,70.2 176.4,62.8" fill="#3b0abd" stroke="#3b0abd"/><polygon points="247.2,171.6 249.8,174.2 244.5,171 241.9,168.4" fill="#cc06db" stroke="#cc06db"/><polygon points="173,38.1 174.1,46.8 168.8,41.5 167.7,32.6" fill="#380abc" stroke="#380abc"/><polygon points="164.8,3.5 165.7,13.7 160.5,7.8 159.5,-2.6" fill="#380abc" stroke="#380abc"/><polygon points="218,141.3 220,145.2 214.7,141.6 212.8,137.6" fill="#5609c2" stroke="#5609c2"/><polygon points="237,162.6 239.4,165.6 234.1,162.3 231.8,159.2" fill="#7b08ca" stroke="#7b08ca"/><polygon points="227.3,152.5 229.5,156 224.2,152.5 222.1,149" fill="#6409c5" stroke="#6409c5"/><polygon points="199,109.4 200.5,114.8 195.2,110.6 193.7,105.1" fill="#4309be" stroke="#4309be"/><polygon points="366.5,224 371.9,224.1 366.6,221.8 361.3,221.6" fill="#9607d0" stroke="#9607d0"/><polygon points="189.4,86.7 190.8,93.1 185.5,88.6 184.1,82" fill="#3d0abd" stroke="#3d0abd"/><polygon points="356,221.4 361.3,221.6 356,219.2 350.7,218.9" fill="#a407d3" stroke="#a407d3"/><polygon points="180.5,60.1 181.6,67.8 176.4,62.8 175.2,55" fill="#3a0abc" stroke="#3a0abc"/><polygon points="207.4,124 209.1,128.8 203.8,124.8 202.1,119.9" fill="#4909c0" stroke="#4909c0"/><polygon points="345.4,218.5 350.7,218.9 345.4,216.5 340.1,216" fill="#b706d7" stroke="#b706d7"/><polygon points="172,29.1 173,38.1 167.7,32.6 166.7,23.4" fill="#380abc" stroke="#380abc"/><polygon points="334.8,215.4 340.1,216 334.8,213.5 329.5,212.8" fill="#cd06db" stroke="#cd06db"/><polygon points="255,177.3 257.8,179.6 252.5,176.6 249.8,174.2" fill="#dd05df" stroke="#dd05df"/><polygon points="216.2,137.1 218,141.3 212.8,137.6 210.9,133.3" fill="#5109c1" stroke="#5109c1"/><polygon points="324.2,212 329.5,212.8 324.2,210.3 318.9,209.4" fill="#d306dc" stroke="#d306dc"/><polygon points="197.5,103.7 199,109.4 193.7,105.1 192.2,99.3" fill="#4109be" stroke="#4109be"/><polygon points="244.7,168.9 247.2,171.6 241.9,168.4 239.4,165.6" fill="#9407cf" stroke="#9407cf"/><polygon points="225.3,148.9 227.3,152.5 222.1,149 220,145.2" fill="#5d09c4" stroke="#5d09c4"/><polygon points="313.6,208.2 318.9,209.4 313.6,206.8 308.3,205.5" fill="#db05de" stroke="#db05de"/><polygon points="234.8,159.4 237,162.6 231.8,159.2 229.5,156" fill="#7008c8" stroke="#7008c8"/><polygon points="188.1,79.9 189.4,86.7 184.1,82 182.9,75.1" fill="#3c0abd" stroke="#3c0abd"/><polygon points="179.4,52.1 180.5,60.1 175.2,55 174.1,46.8" fill="#390abc" stroke="#390abc"/><polygon points="171,19.6 172,29.1 166.7,23.4 165.7,13.7" fill="#380abc" stroke="#380abc"/><polygon points="303,204 308.3,205.5 303,202.9 297.7,201.3" fill="#e805e1" stroke="#e805e1"/><polygon points="205.8,119 207.4,124 202.1,119.9 200.5,114.8" fill="#4609bf" stroke="#4609bf"/><polygon points="292.4,199.3 297.7,201.3 292.4,198.5 287.1,196.5" fill="#e805e1" stroke="#e805e1"/><polygon points="263.1,182.7 265.9,184.8 260.6,181.8 257.8,179.6" fill="#e805e1" stroke="#e805e1"/><polygon points="281.8,194 287.1,196.5 281.8,193.7 276.5,191.1" fill="#e805e1" stroke="#e805e1"/><polygon points="196.1,97.7 197.5,103.7 192.2,99.3 190.8,93.1" fill="#3f0abe" stroke="#3f0abe"/><polygon points="214.4,132.7 216.2,137.1 210.9,133.3 209.1,128.8" fill="#4d09c1" stroke="#4d09c1"/><polygon points="186.9,72.8 188.1,79.9 182.9,75.1 181.6,67.8" fill="#3b0abd" stroke="#3b0abd"/><polygon points="271.2,187.8 276.5,191.1 271.2,188.2 265.9,184.8" fill="#e805e1" stroke="#e805e1"/><polygon points="170.1,9.6 171,19.6 165.7,13.7 164.8,3.5" fill="#380abc" stroke="#380abc"/><polygon points="178.3,43.6 179.4,52.1 174.1,46.8 173,38.1" fill="#390abc" stroke="#390abc"/><polygon points="252.5,174.8 255,177.3 249.8,174.2 247.2,171.6" fill="#d006dc" stroke="#d006dc"/><polygon points="223.3,145 225.3,148.9 220,145.2 218,141.3" fill="#5709c3" stroke="#5709c3"/><polygon points="242.3,166 244.7,168.9 239.4,165.6 237,162.6" fill="#7f08cb" stroke="#7f08cb"/><polygon points="232.6,156.1 234.8,159.4 229.5,156 227.3,152.5" fill="#6708c6" stroke="#6708c6"/><polygon points="204.2,113.7 205.8,119 200.5,114.8 199,109.4" fill="#4409bf" stroke="#4409bf"/><polygon points="194.7,91.4 196.1,97.7 190.8,93.1 189.4,86.7" fill="#3e0abd" stroke="#3e0abd"/><polygon points="361.2,223.8 366.5,224 361.3,221.6 356,221.4" fill="#9f07d2" stroke="#9f07d2"/><polygon points="185.8,65.3 186.9,72.8 181.6,67.8 180.5,60.1" fill="#3a0abc" stroke="#3a0abc"/><polygon points="169.2,-0.9 170.1,9.6 164.8,3.5 163.9,-7.2" fill="#370abc" stroke="#370abc"/><polygon points="177.3,34.7 178.3,43.6 173,38.1 172,29.1" fill="#380abc" stroke="#380abc"/><polygon points="212.7,128 214.4,132.7 209.1,128.8 207.4,124" fill="#4a09c0" stroke="#4a09c0"/><polygon points="350.6,221 356,221.4 350.7,218.9 345.4,218.5" fill="#b106d5" stroke="#b106d5"/><polygon points="340,217.9 345.4,218.5 340.1,216 334.8,215.4" fill="#c906da" stroke="#c906da"/><polygon points="260.3,180.5 263.1,182.7 257.8,179.6 255,177.3" fill="#e205e0" stroke="#e205e0"/><polygon points="221.5,140.9 223.3,145 218,141.3 216.2,137.1" fill="#5209c2" stroke="#5209c2"/><polygon points="202.8,108.1 204.2,113.7 199,109.4 197.5,103.7" fill="#4209be" stroke="#4209be"/><polygon points="329.5,214.6 334.8,215.4 329.5,212.8 324.2,212" fill="#d106dc" stroke="#d106dc"/><polygon points="250,172.2 252.5,174.8 247.2,171.6 244.7,168.9" fill="#a407d3" stroke="#a407d3"/><polygon points="230.6,152.5 232.6,156.1 227.3,152.5 225.3,148.9" fill="#5f09c4" stroke="#5f09c4"/><polygon points="318.9,210.9 324.2,212 318.9,209.4 313.6,208.2" fill="#d905de" stroke="#d905de"/><polygon points="193.4,84.7 194.7,91.4 189.4,86.7 188.1,79.9" fill="#3d0abd" stroke="#3d0abd"/><polygon points="240.1,162.9 242.3,166 237,162.6 234.8,159.4" fill="#7308c8" stroke="#7308c8"/><polygon points="176.3,25.4 177.3,34.7 172,29.1 171,19.6" fill="#380abc" stroke="#380abc"/><polygon points="184.6,57.4 185.8,65.3 180.5,60.1 179.4,52.1" fill="#390abc" stroke="#390abc"/><polygon points="308.3,206.7 313.6,208.2 308.3,205.5 303,204" fill="#e505e0" stroke="#e505e0"/><polygon points="211.1,123.1 212.7,128 207.4,124 205.8,119" fill="#4709bf" stroke="#4709bf"/><polygon points="297.7,202.1 303,204 297.7,201.3 292.4,199.3" fill="#e805e1" stroke="#e805e1"/><polygon points="268.3,185.8 271.2,187.8 265.9,184.8 263.1,182.7" fill="#e805e1" stroke="#e805e1"/><polygon points="201.3,102.2 202.8,108.1 197.5,103.7 196.1,97.7" fill="#400abe" stroke="#400abe"/><polygon points="287.1,196.9 292.4,199.3 287.1,196.5 281.8,194" fill="#e805e1" stroke="#e805e1"/><polygon points="219.7,136.6 221.5,140.9 216.2,137.1 214.4,132.7" fill="#4e09c1" stroke="#4e09c1"/><polygon points="192.2,77.8 193.4,84.7 188.1,79.9 186.9,72.8" fill="#3b0abd" stroke="#3b0abd"/><polygon points="175.4,15.6 176.3,25.4 171,19.6 170.1,9.6" fill="#380abc" stroke="#380abc"/><polygon points="183.6,49.1 184.6,57.4 179.4,52.1 178.3,43.6" fill="#390abc" stroke="#390abc"/><polygon points="276.5,190.8 281.8,194 276.5,191.1 271.2,187.8" fill="#e805e1" stroke="#e805e1"/><polygon points="257.7,178 260.3,180.5 255,177.3 252.5,174.8" fill="#d306dd" stroke="#d306dd"/><polygon points="228.6,148.7 230.6,152.5 225.3,148.9 223.3,145" fill="#5909c3" stroke="#5909c3"/><polygon points="247.6,169.3 250,172.2 244.7,168.9 242.3,166" fill="#8308cc" stroke="#8308cc"/><polygon points="237.9,159.6 240.1,162.9 234.8,159.4 232.6,156.1" fill="#6908c6" stroke="#6908c6"/><polygon points="209.5,118 211.1,123.1 205.8,119 204.2,113.7" fill="#4409bf" stroke="#4409bf"/><polygon points="200,96.1 201.3,102.2 196.1,97.7 194.7,91.4" fill="#3e0abd" stroke="#3e0abd"/><polygon points="174.5,5.3 175.4,15.6 170.1,9.6 169.2,-0.9" fill="#370abc" stroke="#370abc"/><polygon points="191,70.4 192.2,77.8 186.9,72.8 185.8,65.3" fill="#3a0abd" stroke="#3a0abd"/><polygon points="182.6,40.4 183.6,49.1 178.3,43.6 177.3,34.7" fill="#380abc" stroke="#380abc"/><polygon points="218,132.1 219.7,136.6 214.4,132.7 212.7,128" fill="#4b09c0" stroke="#4b09c0"/><polygon points="355.9,223.5 361.2,223.8 356,221.4 350.6,221" fill="#ab07d4" stroke="#ab07d4"/><polygon points="345.3,220.5 350.6,221 345.4,218.5 340,217.9" fill="#c106d9" stroke="#c106d9"/><polygon points="265.6,183.6 268.3,185.8 263.1,182.7 260.3,180.5" fill="#e705e1" stroke="#e705e1"/><polygon points="226.7,144.8 228.6,148.7 223.3,145 221.5,140.9" fill="#5409c2" stroke="#5409c2"/><polygon points="208,112.5 209.5,118 204.2,113.7 202.8,108.1" fill="#4209be" stroke="#4209be"/><polygon points="334.7,217.2 340,217.9 334.8,215.4 329.5,214.6" fill="#cf06dc" stroke="#cf06dc"/><polygon points="255.3,175.5 257.7,178 252.5,174.8 250,172.2" fill="#b506d6" stroke="#b506d6"/><polygon points="235.9,156.1 237.9,159.6 232.6,156.1 230.6,152.5" fill="#6109c5" stroke="#6109c5"/><polygon points="198.7,89.6 200,96.1 194.7,91.4 193.4,84.7" fill="#3d0abd" stroke="#3d0abd"/><polygon points="324.1,213.5 329.5,214.6 324.2,212 318.9,210.9" fill="#d705dd" stroke="#d705dd"/><polygon points="245.4,166.3 247.6,169.3 242.3,166 240.1,162.9" fill="#7608c9" stroke="#7608c9"/><polygon points="181.6,31.3 182.6,40.4 177.3,34.7 176.3,25.4" fill="#380abc" stroke="#380abc"/><polygon points="189.9,62.7 191,70.4 185.8,65.3 184.6,57.4" fill="#390abc" stroke="#390abc"/><polygon points="313.5,209.5 318.9,210.9 313.6,208.2 308.3,206.7" fill="#e205e0" stroke="#e205e0"/><polygon points="216.4,127.3 218,132.1 212.7,128 211.1,123.1" fill="#4809bf" stroke="#4809bf"/><polygon points="303,204.9 308.3,206.7 303,204 297.7,202.1" fill="#e805e1" stroke="#e805e1"/><polygon points="273.6,188.9 276.5,190.8 271.2,187.8 268.3,185.8" fill="#e805e1" stroke="#e805e1"/><polygon points="206.6,106.8 208,112.5 202.8,108.1 201.3,102.2" fill="#400abe" stroke="#400abe"/><polygon points="292.4,199.8 297.7,202.1 292.4,199.3 287.1,196.9" fill="#e805e1" stroke="#e805e1"/><polygon points="225,140.6 226.7,144.8 221.5,140.9 219.7,136.6" fill="#4f09c1" stroke="#4f09c1"/><polygon points="180.7,21.7 181.6,31.3 176.3,25.4 175.4,15.6" fill="#380abc" stroke="#380abc"/><polygon points="197.5,82.7 198.7,89.6 193.4,84.7 192.2,77.8" fill="#3c0abd" stroke="#3c0abd"/><polygon points="188.9,54.6 189.9,62.7 184.6,57.4 183.6,49.1" fill="#390abc" stroke="#390abc"/><polygon points="281.8,193.9 287.1,196.9 281.8,194 276.5,190.8" fill="#e805e1" stroke="#e805e1"/><polygon points="263,181.3 265.6,183.6 260.3,180.5 257.7,178" fill="#d705de" stroke="#d705de"/><polygon points="233.9,152.5 235.9,156.1 230.6,152.5 228.6,148.7" fill="#5b09c3" stroke="#5b09c3"/><polygon points="243.2,163.2 245.4,166.3 240.1,162.9 237.9,159.6" fill="#6c08c7" stroke="#6c08c7"/><polygon points="252.9,172.7 255.3,175.5 250,172.2 247.6,169.3" fill="#8808cd" stroke="#8808cd"/><polygon points="214.8,122.2 216.4,127.3 211.1,123.1 209.5,118" fill="#4509bf" stroke="#4509bf"/><polygon points="205.3,100.7 206.6,106.8 201.3,102.2 200,96.1" fill="#3f0abe" stroke="#3f0abe"/><polygon points="179.8,11.6 180.7,21.7 175.4,15.6 174.5,5.3" fill="#380abc" stroke="#380abc"/><polygon points="187.8,46.1 188.9,54.6 183.6,49.1 182.6,40.4" fill="#380abc" stroke="#380abc"/><polygon points="196.3,75.6 197.5,82.7 192.2,77.8 191,70.4" fill="#3a0abd" stroke="#3a0abd"/><polygon points="223.3,136.1 225,140.6 219.7,136.6 218,132.1" fill="#4c09c0" stroke="#4c09c0"/><polygon points="350.6,223 355.9,223.5 350.6,221 345.3,220.5" fill="#ba06d7" stroke="#ba06d7"/><polygon points="270.9,186.7 273.6,188.9 268.3,185.8 265.6,183.6" fill="#e805e1" stroke="#e805e1"/><polygon points="232,148.6 233.9,152.5 228.6,148.7 226.7,144.8" fill="#5509c2" stroke="#5509c2"/><polygon points="213.3,116.9 214.8,122.2 209.5,118 208,112.5" fill="#4309be" stroke="#4309be"/><polygon points="340,219.8 345.3,220.5 340,217.9 334.7,217.2" fill="#ce06dc" stroke="#ce06dc"/><polygon points="178.9,1.1 179.8,11.6 174.5,5.3 173.7,-5.4" fill="#370abc" stroke="#370abc"/><polygon points="204,94.4 205.3,100.7 200,96.1 198.7,89.6" fill="#3d0abd" stroke="#3d0abd"/><polygon points="241.1,159.8 243.2,163.2 237.9,159.6 235.9,156.1" fill="#6309c5" stroke="#6309c5"/><polygon points="260.5,178.7 263,181.3 257.7,178 255.3,175.5" fill="#c806da" stroke="#c806da"/><polygon points="186.9,37.2 187.8,46.1 182.6,40.4 181.6,31.3" fill="#380abc" stroke="#380abc"/><polygon points="195.2,68 196.3,75.6 191,70.4 189.9,62.7" fill="#390abc" stroke="#390abc"/><polygon points="250.6,169.8 252.9,172.7 247.6,169.3 245.4,166.3" fill="#7a08ca" stroke="#7a08ca"/><polygon points="329.4,216.2 334.7,217.2 329.5,214.6 324.1,213.5" fill="#d506dd" stroke="#d506dd"/><polygon points="318.8,212.2 324.1,213.5 318.9,210.9 313.5,209.5" fill="#df05df" stroke="#df05df"/><polygon points="221.6,131.5 223.3,136.1 218,132.1 216.4,127.3" fill="#4909c0" stroke="#4909c0"/><polygon points="308.2,207.7 313.5,209.5 308.3,206.7 303,204.9" fill="#e805e1" stroke="#e805e1"/><polygon points="211.9,111.3 213.3,116.9 208,112.5 206.6,106.8" fill="#4109be" stroke="#4109be"/><polygon points="278.9,191.9 281.8,193.9 276.5,190.8 273.6,188.9" fill="#e805e1" stroke="#e805e1"/><polygon points="186,27.8 186.9,37.2 181.6,31.3 180.7,21.7" fill="#380abc" stroke="#380abc"/><polygon points="230.2,144.5 232,148.6 226.7,144.8 225,140.6" fill="#5109c1" stroke="#5109c1"/><polygon points="297.6,202.7 303,204.9 297.7,202.1 292.4,199.8" fill="#e805e1" stroke="#e805e1"/><polygon points="202.8,87.7 204,94.4 198.7,89.6 197.5,82.7" fill="#3c0abd" stroke="#3c0abd"/><polygon points="194.1,60.1 195.2,68 189.9,62.7 188.9,54.6" fill="#390abc" stroke="#390abc"/><polygon points="287.1,196.9 292.4,199.8 287.1,196.9 281.8,193.9" fill="#e805e1" stroke="#e805e1"/><polygon points="239.2,156.2 241.1,159.8 235.9,156.1 233.9,152.5" fill="#5c09c4" stroke="#5c09c4"/><polygon points="268.3,184.5 270.9,186.7 265.6,183.6 263,181.3" fill="#dc05de" stroke="#dc05de"/><polygon points="220.1,126.5 221.6,131.5 216.4,127.3 214.8,122.2" fill="#4609bf" stroke="#4609bf"/><polygon points="248.5,166.7 250.6,169.8 245.4,166.3 243.2,163.2" fill="#6f08c8" stroke="#6f08c8"/><polygon points="258.2,176.1 260.5,178.7 255.3,175.5 252.9,172.7" fill="#9007cf" stroke="#9007cf"/><polygon points="185.1,17.9 186,27.8 180.7,21.7 179.8,11.6" fill="#380abc" stroke="#380abc"/><polygon points="210.6,105.4 211.9,111.3 206.6,106.8 205.3,100.7" fill="#3f0abe" stroke="#3f0abe"/><polygon points="193.1,51.8 194.1,60.1 188.9,54.6 187.8,46.1" fill="#390abc" stroke="#390abc"/><polygon points="201.6,80.7 202.8,87.7 197.5,82.7 196.3,75.6" fill="#3b0abd" stroke="#3b0abd"/><polygon points="228.5,140.2 230.2,144.5 225,140.6 223.3,136.1" fill="#4d09c0" stroke="#4d09c0"/><polygon points="276.2,189.9 278.9,191.9 273.6,188.9 270.9,186.7" fill="#e805e1" stroke="#e805e1"/><polygon points="237.3,152.4 239.2,156.2 233.9,152.5 232,148.6" fill="#5709c3" stroke="#5709c3"/><polygon points="218.6,121.3 220.1,126.5 214.8,122.2 213.3,116.9" fill="#4409bf" stroke="#4409bf"/><polygon points="184.2,7.6 185.1,17.9 179.8,11.6 178.9,1.1" fill="#370abc" stroke="#370abc"/><polygon points="345.3,222.4 350.6,223 345.3,220.5 340,219.8" fill="#cc06db" stroke="#cc06db"/><polygon points="192.2,43 193.1,51.8 187.8,46.1 186.9,37.2" fill="#380abc" stroke="#380abc"/><polygon points="209.3,99.2 210.6,105.4 205.3,100.7 204,94.4" fill="#3e0abd" stroke="#3e0abd"/><polygon points="246.4,163.4 248.5,166.7 243.2,163.2 241.1,159.8" fill="#6609c6" stroke="#6609c6"/><polygon points="200.5,73.3 201.6,80.7 196.3,75.6 195.2,68" fill="#3a0abc" stroke="#3a0abc"/><polygon points="265.8,182 268.3,184.5 263,181.3 260.5,178.7" fill="#cf06dc" stroke="#cf06dc"/><polygon points="255.9,173.2 258.2,176.1 252.9,172.7 250.6,169.8" fill="#7e08cb" stroke="#7e08cb"/><polygon points="334.7,218.8 340,219.8 334.7,217.2 329.4,216.2" fill="#d306dd" stroke="#d306dd"/><polygon points="226.9,135.6 228.5,140.2 223.3,136.1 221.6,131.5" fill="#4a09c0" stroke="#4a09c0"/><polygon points="324.1,214.9 329.4,216.2 324.1,213.5 318.8,212.2" fill="#dc05de" stroke="#dc05de"/><polygon points="313.5,210.5 318.8,212.2 313.5,209.5 308.2,207.7" fill="#e805e1" stroke="#e805e1"/><polygon points="183.4,-3.3 184.2,7.6 178.9,1.1 178.1,-10" fill="#370abc" stroke="#370abc"/><polygon points="217.2,115.9 218.6,121.3 213.3,116.9 211.9,111.3" fill="#4109be" stroke="#4109be"/><polygon points="191.2,33.8 192.2,43 186.9,37.2 186,27.8" fill="#380abc" stroke="#380abc"/><polygon points="284.2,195 287.1,196.9 281.8,193.9 278.9,191.9" fill="#e805e1" stroke="#e805e1"/><polygon points="235.5,148.4 237.3,152.4 232,148.6 230.2,144.5" fill="#5209c2" stroke="#5209c2"/><polygon points="208.1,92.7 209.3,99.2 204,94.4 202.8,87.7" fill="#3c0abd" stroke="#3c0abd"/><polygon points="199.4,65.6 200.5,73.3 195.2,68 194.1,60.1" fill="#390abc" stroke="#390abc"/><polygon points="302.9,205.6 308.2,207.7 303,204.9 297.6,202.7" fill="#e805e1" stroke="#e805e1"/><polygon points="292.3,199.9 297.6,202.7 292.4,199.8 287.1,196.9" fill="#e805e1" stroke="#e805e1"/><polygon points="244.5,159.9 246.4,163.4 241.1,159.8 239.2,156.2" fill="#5e09c4" stroke="#5e09c4"/><polygon points="273.6,187.7 276.2,189.9 270.9,186.7 268.3,184.5" fill="#e105e0" stroke="#e105e0"/><polygon points="225.4,130.8 226.9,135.6 221.6,131.5 220.1,126.5" fill="#4709bf" stroke="#4709bf"/><polygon points="253.8,170.2 255.9,173.2 250.6,169.8 248.5,166.7" fill="#7208c8" stroke="#7208c8"/><polygon points="263.5,179.5 265.8,182 260.5,178.7 258.2,176.1" fill="#a107d2" stroke="#a107d2"/><polygon points="190.4,24.2 191.2,33.8 186,27.8 185.1,17.9" fill="#380abc" stroke="#380abc"/><polygon points="215.9,110.1 217.2,115.9 211.9,111.3 210.6,105.4" fill="#400abe" stroke="#400abe"/><polygon points="198.4,57.4 199.4,65.6 194.1,60.1 193.1,51.8" fill="#390abc" stroke="#390abc"/><polygon points="206.9,85.8 208.1,92.7 202.8,87.7 201.6,80.7" fill="#3b0abd" stroke="#3b0abd"/><polygon points="233.8,144.2 235.5,148.4 230.2,144.5 228.5,140.2" fill="#4e09c1" stroke="#4e09c1"/><polygon points="223.9,125.7 225.4,130.8 220.1,126.5 218.6,121.3" fill="#4409bf" stroke="#4409bf"/><polygon points="242.6,156.3 244.5,159.9 239.2,156.2 237.3,152.4" fill="#5809c3" stroke="#5809c3"/><polygon points="281.5,193 284.2,195 278.9,191.9 276.2,189.9" fill="#e805e1" stroke="#e805e1"/><polygon points="189.5,14.1 190.4,24.2 185.1,17.9 184.2,7.6" fill="#370abc" stroke="#370abc"/><polygon points="197.4,48.9 198.4,57.4 193.1,51.8 192.2,43" fill="#380abc" stroke="#380abc"/><polygon points="214.6,104.1 215.9,110.1 210.6,105.4 209.3,99.2" fill="#3e0abd" stroke="#3e0abd"/><polygon points="205.8,78.6 206.9,85.8 201.6,80.7 200.5,73.3" fill="#3a0abd" stroke="#3a0abd"/><polygon points="251.7,167 253.8,170.2 248.5,166.7 246.4,163.4" fill="#6808c6" stroke="#6808c6"/><polygon points="271.1,185.3 273.6,187.7 268.3,184.5 265.8,182" fill="#d306dd" stroke="#d306dd"/><polygon points="261.2,176.7 263.5,179.5 258.2,176.1 255.9,173.2" fill="#8208cc" stroke="#8208cc"/><polygon points="340,221.5 345.3,222.4 340,219.8 334.7,218.8" fill="#d106dc" stroke="#d106dc"/><polygon points="232.2,139.8 233.8,144.2 228.5,140.2 226.9,135.6" fill="#4a09c0" stroke="#4a09c0"/><polygon points="329.4,217.7 334.7,218.8 329.4,216.2 324.1,214.9" fill="#d905de" stroke="#d905de"/><polygon points="188.7,3.5 189.5,14.1 184.2,7.6 183.4,-3.3" fill="#370abc" stroke="#370abc"/><polygon points="318.8,213.4 324.1,214.9 318.8,212.2 313.5,210.5" fill="#e705e1" stroke="#e705e1"/><polygon points="222.5,120.4 223.9,125.7 218.6,121.3 217.2,115.9" fill="#4209be" stroke="#4209be"/><polygon points="196.5,39.9 197.4,48.9 192.2,43 191.2,33.8" fill="#380abc" stroke="#380abc"/><polygon points="204.7,71.1 205.8,78.6 200.5,73.3 199.4,65.6" fill="#390abc" stroke="#390abc"/><polygon points="213.3,97.7 214.6,104.1 209.3,99.2 208.1,92.7" fill="#3d0abd" stroke="#3d0abd"/><polygon points="289.5,198.1 292.3,199.9 287.1,196.9 284.2,195" fill="#e805e1" stroke="#e805e1"/><polygon points="240.8,152.4 242.6,156.3 237.3,152.4 235.5,148.4" fill="#5309c2" stroke="#5309c2"/><polygon points="308.2,208.5 313.5,210.5 308.2,207.7 302.9,205.6" fill="#e805e1" stroke="#e805e1"/><polygon points="249.8,163.7 251.7,167 246.4,163.4 244.5,159.9" fill="#6109c5" stroke="#6109c5"/><polygon points="297.6,202.9 302.9,205.6 297.6,202.7 292.3,199.9" fill="#e805e1" stroke="#e805e1"/><polygon points="278.9,190.9 281.5,193 276.2,189.9 273.6,187.7" fill="#e705e1" stroke="#e705e1"/><polygon points="230.7,135.1 232.2,139.8 226.9,135.6 225.4,130.8" fill="#4709bf" stroke="#4709bf"/><polygon points="259.1,173.8 261.2,176.7 255.9,173.2 253.8,170.2" fill="#7508c9" stroke="#7508c9"/><polygon points="268.7,182.8 271.1,185.3 265.8,182 263.5,179.5" fill="#b306d6" stroke="#b306d6"/><polygon points="195.6,30.5 196.5,39.9 191.2,33.8 190.4,24.2" fill="#380abc" stroke="#380abc"/><polygon points="221.1,114.8 222.5,120.4 217.2,115.9 215.9,110.1" fill="#400abe" stroke="#400abe"/><polygon points="203.7,63.1 204.7,71.1 199.4,65.6 198.4,57.4" fill="#390abc" stroke="#390abc"/><polygon points="212.2,91 213.3,97.7 208.1,92.7 206.9,85.8" fill="#3b0abd" stroke="#3b0abd"/><polygon points="239.1,148.3 240.8,152.4 235.5,148.4 233.8,144.2" fill="#4f09c1" stroke="#4f09c1"/><polygon points="194.8,20.6 195.6,30.5 190.4,24.2 189.5,14.1" fill="#370abc" stroke="#370abc"/><polygon points="229.2,130.2 230.7,135.1 225.4,130.8 223.9,125.7" fill="#4509bf" stroke="#4509bf"/><polygon points="247.9,160.1 249.8,163.7 244.5,159.9 242.6,156.3" fill="#5a09c3" stroke="#5a09c3"/><polygon points="286.8,196.2 289.5,198.1 284.2,195 281.5,193" fill="#e805e1" stroke="#e805e1"/><polygon points="202.7,54.8 203.7,63.1 198.4,57.4 197.4,48.9" fill="#380abc" stroke="#380abc"/><polygon points="219.9,108.9 221.1,114.8 215.9,110.1 214.6,104.1" fill="#3f0abd" stroke="#3f0abd"/><polygon points="211.1,84 212.2,91 206.9,85.8 205.8,78.6" fill="#3a0abd" stroke="#3a0abd"/><polygon points="257,170.7 259.1,173.8 253.8,170.2 251.7,167" fill="#6b08c7" stroke="#6b08c7"/><polygon points="276.4,188.6 278.9,190.9 273.6,187.7 271.1,185.3" fill="#d705dd" stroke="#d705dd"/><polygon points="266.5,180.2 268.7,182.8 263.5,179.5 261.2,176.7" fill="#8708cd" stroke="#8708cd"/><polygon points="237.5,143.9 239.1,148.3 233.8,144.2 232.2,139.8" fill="#4b09c0" stroke="#4b09c0"/><polygon points="334.7,220.4 340,221.5 334.7,218.8 329.4,217.7" fill="#d705dd" stroke="#d705dd"/><polygon points="194,10.2 194.8,20.6 189.5,14.1 188.7,3.5" fill="#370abc" stroke="#370abc"/><polygon points="201.8,46 202.7,54.8 197.4,48.9 196.5,39.9" fill="#380abc" stroke="#380abc"/><polygon points="227.8,125 229.2,130.2 223.9,125.7 222.5,120.4" fill="#4309be" stroke="#4309be"/><polygon points="324.1,216.2 329.4,217.7 324.1,214.9 318.8,213.4" fill="#e405e0" stroke="#e405e0"/><polygon points="210,76.6 211.1,84 205.8,78.6 204.7,71.1" fill="#390abc" stroke="#390abc"/><polygon points="218.6,102.7 219.9,108.9 214.6,104.1 213.3,97.7" fill="#3d0abd" stroke="#3d0abd"/><polygon points="246.1,156.3 247.9,160.1 242.6,156.3 240.8,152.4" fill="#5509c2" stroke="#5509c2"/><polygon points="294.8,201.2 297.6,202.9 292.3,199.9 289.5,198.1" fill="#e805e1" stroke="#e805e1"/><polygon points="313.5,211.4 318.8,213.4 313.5,210.5 308.2,208.5" fill="#e805e1" stroke="#e805e1"/><polygon points="255,167.4 257,170.7 251.7,167 249.8,163.7" fill="#6309c5" stroke="#6309c5"/><polygon points="302.9,205.9 308.2,208.5 302.9,205.6 297.6,202.9" fill="#e805e1" stroke="#e805e1"/><polygon points="193.2,-0.7 194,10.2 188.7,3.5 188,-7.7" fill="#370abc" stroke="#370abc"/><polygon points="284.2,194.1 286.8,196.2 281.5,193 278.9,190.9" fill="#e805e1" stroke="#e805e1"/><polygon points="235.9,139.4 237.5,143.9 232.2,139.8 230.7,135.1" fill="#4809c0" stroke="#4809c0"/><polygon points="200.9,36.8 201.8,46 196.5,39.9 195.6,30.5" fill="#380abc" stroke="#380abc"/><polygon points="264.3,177.3 266.5,180.2 261.2,176.7 259.1,173.8" fill="#7908ca" stroke="#7908ca"/><polygon points="274,186.2 276.4,188.6 271.1,185.3 268.7,182.8" fill="#c806da" stroke="#c806da"/><polygon points="209,68.8 210,76.6 204.7,71.1 203.7,63.1" fill="#390abc" stroke="#390abc"/><polygon points="226.4,119.5 227.8,125 222.5,120.4 221.1,114.8" fill="#4109be" stroke="#4109be"/><polygon points="217.5,96.1 218.6,102.7 213.3,97.7 212.2,91" fill="#3c0abd" stroke="#3c0abd"/><polygon points="244.4,152.3 246.1,156.3 240.8,152.4 239.1,148.3" fill="#5009c1" stroke="#5009c1"/><polygon points="200.1,27.1 200.9,36.8 195.6,30.5 194.8,20.6" fill="#380abc" stroke="#380abc"/><polygon points="234.5,134.6 235.9,139.4 230.7,135.1 229.2,130.2" fill="#4609bf" stroke="#4609bf"/><polygon points="253.2,163.9 255,167.4 249.8,163.7 247.9,160.1" fill="#5c09c4" stroke="#5c09c4"/><polygon points="208,60.6 209,68.8 203.7,63.1 202.7,54.8" fill="#390abc" stroke="#390abc"/><polygon points="292,199.3 294.8,201.2 289.5,198.1 286.8,196.2" fill="#e805e1" stroke="#e805e1"/><polygon points="225.1,113.7 226.4,119.5 221.1,114.8 219.9,108.9" fill="#3f0abe" stroke="#3f0abe"/><polygon points="216.4,89.3 217.5,96.1 212.2,91 211.1,84" fill="#3b0abd" stroke="#3b0abd"/><polygon points="262.3,174.3 264.3,177.3 259.1,173.8 257,170.7" fill="#6e08c7" stroke="#6e08c7"/><polygon points="281.7,191.9 284.2,194.1 278.9,190.9 276.4,188.6" fill="#dc05df" stroke="#dc05df"/><polygon points="271.8,183.6 274,186.2 268.7,182.8 266.5,180.2" fill="#9007ce" stroke="#9007ce"/><polygon points="242.8,148.1 244.4,152.3 239.1,148.3 237.5,143.9" fill="#4d09c0" stroke="#4d09c0"/><polygon points="199.3,16.9 200.1,27.1 194.8,20.6 194,10.2" fill="#370abc" stroke="#370abc"/><polygon points="207.1,52.1 208,60.6 202.7,54.8 201.8,46" fill="#380abc" stroke="#380abc"/><polygon points="233.1,129.5 234.5,134.6 229.2,130.2 227.8,125" fill="#4309be" stroke="#4309be"/><polygon points="215.3,82 216.4,89.3 211.1,84 210,76.6" fill="#3a0abc" stroke="#3a0abc"/><polygon points="329.4,219 334.7,220.4 329.4,217.7 324.1,216.2" fill="#e005df" stroke="#e005df"/><polygon points="223.9,107.7 225.1,113.7 219.9,108.9 218.6,102.7" fill="#3e0abd" stroke="#3e0abd"/><polygon points="251.4,160.2 253.2,163.9 247.9,160.1 246.1,156.3" fill="#5609c2" stroke="#5609c2"/><polygon points="300.1,204.2 302.9,205.9 297.6,202.9 294.8,201.2" fill="#e805e1" stroke="#e805e1"/><polygon points="318.8,214.3 324.1,216.2 318.8,213.4 313.5,211.4" fill="#e805e1" stroke="#e805e1"/><polygon points="198.5,6.3 199.3,16.9 194,10.2 193.2,-0.7" fill="#370abc" stroke="#370abc"/><polygon points="260.3,171.1 262.3,174.3 257,170.7 255,167.4" fill="#6509c6" stroke="#6509c6"/><polygon points="308.2,208.9 313.5,211.4 308.2,208.5 302.9,205.9" fill="#e805e1" stroke="#e805e1"/><polygon points="289.4,197.3 292,199.3 286.8,196.2 284.2,194.1" fill="#e805e1" stroke="#e805e1"/><polygon points="241.2,143.7 242.8,148.1 237.5,143.9 235.9,139.4" fill="#4909c0" stroke="#4909c0"/><polygon points="206.2,43.1 207.1,52.1 201.8,46 200.9,36.8" fill="#380abc" stroke="#380abc"/><polygon points="269.6,180.9 271.8,183.6 266.5,180.2 264.3,177.3" fill="#7e08cb" stroke="#7e08cb"/><polygon points="279.3,189.6 281.7,191.9 276.4,188.6 274,186.2" fill="#cf06dc" stroke="#cf06dc"/><polygon points="214.3,74.5 215.3,82 210,76.6 209,68.8" fill="#390abc" stroke="#390abc"/><polygon points="231.7,124.2 233.1,129.5 227.8,125 226.4,119.5" fill="#4109be" stroke="#4109be"/><polygon points="222.8,101.3 223.9,107.7 218.6,102.7 217.5,96.1" fill="#3c0abd" stroke="#3c0abd"/><polygon points="249.7,156.4 251.4,160.2 246.1,156.3 244.4,152.3" fill="#5209c1" stroke="#5209c1"/><polygon points="205.4,33.6 206.2,43.1 200.9,36.8 200.1,27.1" fill="#380abc" stroke="#380abc"/><polygon points="239.8,139 241.2,143.7 235.9,139.4 234.5,134.6" fill="#4709bf" stroke="#4709bf"/><polygon points="213.3,66.5 214.3,74.5 209,68.8 208,60.6" fill="#390abc" stroke="#390abc"/><polygon points="258.5,167.8 260.3,171.1 255,167.4 253.2,163.9" fill="#5e09c4" stroke="#5e09c4"/><polygon points="221.6,94.6 222.8,101.3 217.5,96.1 216.4,89.3" fill="#3b0abd" stroke="#3b0abd"/><polygon points="297.3,202.5 300.1,204.2 294.8,201.2 292,199.3" fill="#e805e1" stroke="#e805e1"/><polygon points="230.4,118.5 231.7,124.2 226.4,119.5 225.1,113.7" fill="#400abe" stroke="#400abe"/><polygon points="267.6,178 269.6,180.9 264.3,177.3 262.3,174.3" fill="#7208c8" stroke="#7208c8"/><polygon points="287,195.2 289.4,197.3 284.2,194.1 281.7,191.9" fill="#e205e0" stroke="#e205e0"/><polygon points="277.1,187.1 279.3,189.6 274,186.2 271.8,183.6" fill="#a207d2" stroke="#a207d2"/><polygon points="204.6,23.7 205.4,33.6 200.1,27.1 199.3,16.9" fill="#370abc" stroke="#370abc"/><polygon points="248.1,152.3 249.7,156.4 244.4,152.3 242.8,148.1" fill="#4e09c1" stroke="#4e09c1"/><polygon points="212.4,58.1 213.3,66.5 208,60.6 207.1,52.1" fill="#380abc" stroke="#380abc"/><polygon points="238.3,134 239.8,139 234.5,134.6 233.1,129.5" fill="#4409bf" stroke="#4409bf"/><polygon points="220.6,87.5 221.6,94.6 216.4,89.3 215.3,82" fill="#3a0abd" stroke="#3a0abd"/><polygon points="229.2,112.6 230.4,118.5 225.1,113.7 223.9,107.7" fill="#3e0abd" stroke="#3e0abd"/><polygon points="256.7,164.2 258.5,167.8 253.2,163.9 251.4,160.2" fill="#5809c3" stroke="#5809c3"/><polygon points="305.3,207.3 308.2,208.9 302.9,205.9 300.1,204.2" fill="#e805e1" stroke="#e805e1"/><polygon points="324.1,217.2 329.4,219 324.1,216.2 318.8,214.3" fill="#e805e1" stroke="#e805e1"/><polygon points="203.8,13.3 204.6,23.7 199.3,16.9 198.5,6.3" fill="#370abc" stroke="#370abc"/><polygon points="265.6,174.9 267.6,178 262.3,174.3 260.3,171.1" fill="#6808c6" stroke="#6808c6"/><polygon points="211.5,49.3 212.4,58.1 207.1,52.1 206.2,43.1" fill="#380abc" stroke="#380abc"/><polygon points="313.5,211.9 318.8,214.3 313.5,211.4 308.2,208.9" fill="#e805e1" stroke="#e805e1"/><polygon points="246.5,147.9 248.1,152.3 242.8,148.1 241.2,143.7" fill="#4a09c0" stroke="#4a09c0"/><polygon points="294.7,200.6 297.3,202.5 292,199.3 289.4,197.3" fill="#e805e1" stroke="#e805e1"/><polygon points="274.9,184.4 277.1,187.1 271.8,183.6 269.6,180.9" fill="#8308cc" stroke="#8308cc"/><polygon points="219.6,80.1 220.6,87.5 215.3,82 214.3,74.5" fill="#390abc" stroke="#390abc"/><polygon points="284.6,192.9 287,195.2 281.7,191.9 279.3,189.6" fill="#d406dd" stroke="#d406dd"/><polygon points="237,128.8 238.3,134 233.1,129.5 231.7,124.2" fill="#4209be" stroke="#4209be"/><polygon points="228,106.4 229.2,112.6 223.9,107.7 222.8,101.3" fill="#3d0abd" stroke="#3d0abd"/><polygon points="203.1,2.4 203.8,13.3 198.5,6.3 197.8,-4.9" fill="#370abc" stroke="#370abc"/><polygon points="255,160.4 256.7,164.2 251.4,160.2 249.7,156.4" fill="#5309c2" stroke="#5309c2"/><polygon points="210.7,40.1 211.5,49.3 206.2,43.1 205.4,33.6" fill="#380abc" stroke="#380abc"/><polygon points="218.6,72.4 219.6,80.1 214.3,74.5 213.3,66.5" fill="#390abc" stroke="#390abc"/><polygon points="245,143.4 246.5,147.9 241.2,143.7 239.8,139" fill="#4709bf" stroke="#4709bf"/><polygon points="263.7,171.6 265.6,174.9 260.3,171.1 258.5,167.8" fill="#6109c5" stroke="#6109c5"/><polygon points="226.9,99.9 228,106.4 222.8,101.3 221.6,94.6" fill="#3b0abd" stroke="#3b0abd"/><polygon points="235.7,123.4 237,128.8 231.7,124.2 230.4,118.5" fill="#400abe" stroke="#400abe"/><polygon points="302.6,205.6 305.3,207.3 300.1,204.2 297.3,202.5" fill="#e805e1" stroke="#e805e1"/><polygon points="272.9,181.6 274.9,184.4 269.6,180.9 267.6,178" fill="#7608c9" stroke="#7608c9"/><polygon points="292.3,198.5 294.7,200.6 289.4,197.3 287,195.2" fill="#e805e1" stroke="#e805e1"/><polygon points="209.9,30.4 210.7,40.1 205.4,33.6 204.6,23.7" fill="#370abc" stroke="#370abc"/><polygon points="282.3,190.5 284.6,192.9 279.3,189.6 277.1,187.1" fill="#b606d7" stroke="#b606d7"/><polygon points="253.3,156.4 255,160.4 249.7,156.4 248.1,152.3" fill="#4f09c1" stroke="#4f09c1"/><polygon points="217.7,64.2 218.6,72.4 213.3,66.5 212.4,58.1" fill="#380abc" stroke="#380abc"/><polygon points="225.9,93 226.9,99.9 221.6,94.6 220.6,87.5" fill="#3a0abd" stroke="#3a0abd"/><polygon points="243.6,138.6 245,143.4 239.8,139 238.3,134" fill="#4509bf" stroke="#4509bf"/><polygon points="234.5,117.6 235.7,123.4 230.4,118.5 229.2,112.6" fill="#3f0abd" stroke="#3f0abd"/><polygon points="262,168.1 263.7,171.6 258.5,167.8 256.7,164.2" fill="#5a09c3" stroke="#5a09c3"/><polygon points="310.6,210.4 313.5,211.9 308.2,208.9 305.3,207.3" fill="#e805e1" stroke="#e805e1"/><polygon points="209.1,20.3 209.9,30.4 204.6,23.7 203.8,13.3" fill="#370abc" stroke="#370abc"/><polygon points="216.8,55.6 217.7,64.2 212.4,58.1 211.5,49.3" fill="#380abc" stroke="#380abc"/><polygon points="270.9,178.6 272.9,181.6 267.6,178 265.6,174.9" fill="#6b08c7" stroke="#6b08c7"/><polygon points="251.8,152.2 253.3,156.4 248.1,152.3 246.5,147.9" fill="#4b09c0" stroke="#4b09c0"/><polygon points="318.8,214.9 324.1,217.2 318.8,214.3 313.5,211.9" fill="#e805e1" stroke="#e805e1"/><polygon points="300,203.8 302.6,205.6 297.3,202.5 294.7,200.6" fill="#e805e1" stroke="#e805e1"/><polygon points="224.8,85.8 225.9,93 220.6,87.5 219.6,80.1" fill="#390abc" stroke="#390abc"/><polygon points="280.2,188 282.3,190.5 277.1,187.1 274.9,184.4" fill="#8808cd" stroke="#8808cd"/><polygon points="289.9,196.3 292.3,198.5 287,195.2 284.6,192.9" fill="#d805de" stroke="#d805de"/><polygon points="242.3,133.5 243.6,138.6 238.3,134 237,128.8" fill="#4309be" stroke="#4309be"/><polygon points="233.3,111.6 234.5,117.6 229.2,112.6 228,106.4" fill="#3d0abd" stroke="#3d0abd"/><polygon points="208.4,9.6 209.1,20.3 203.8,13.3 203.1,2.4" fill="#370abc" stroke="#370abc"/><polygon points="260.3,164.5 262,168.1 256.7,164.2 255,160.4" fill="#5509c2" stroke="#5509c2"/><polygon points="215.9,46.6 216.8,55.6 211.5,49.3 210.7,40.1" fill="#380abc" stroke="#380abc"/><polygon points="223.9,78.2 224.8,85.8 219.6,80.1 218.6,72.4" fill="#390abc" stroke="#390abc"/><polygon points="250.3,147.8 251.8,152.2 246.5,147.9 245,143.4" fill="#4809c0" stroke="#4809c0"/><polygon points="232.2,105.2 233.3,111.6 228,106.4 226.9,99.9" fill="#3c0abd" stroke="#3c0abd"/><polygon points="269,175.4 270.9,178.6 265.6,174.9 263.7,171.6" fill="#6309c5" stroke="#6309c5"/><polygon points="241,128.2 242.3,133.5 237,128.8 235.7,123.4" fill="#4109be" stroke="#4109be"/><polygon points="207.7,-1.6 208.4,9.6 203.1,2.4 202.4,-9.1" fill="#370abc" stroke="#370abc"/><polygon points="307.9,208.8 310.6,210.4 305.3,207.3 302.6,205.6" fill="#e805e1" stroke="#e805e1"/><polygon points="278.1,185.2 280.2,188 274.9,184.4 272.9,181.6" fill="#7a08ca" stroke="#7a08ca"/><polygon points="215.1,37.2 215.9,46.6 210.7,40.1 209.9,30.4" fill="#380abc" stroke="#380abc"/><polygon points="297.5,201.8 300,203.8 294.7,200.6 292.3,198.5" fill="#e805e1" stroke="#e805e1"/><polygon points="287.6,194 289.9,196.3 284.6,192.9 282.3,190.5" fill="#cc06db" stroke="#cc06db"/><polygon points="258.6,160.6 260.3,164.5 255,160.4 253.3,156.4" fill="#5009c1" stroke="#5009c1"/><polygon points="223,70.3 223.9,78.2 218.6,72.4 217.7,64.2" fill="#390abc" stroke="#390abc"/><polygon points="231.1,98.5 232.2,105.2 226.9,99.9 225.9,93" fill="#3b0abd" stroke="#3b0abd"/><polygon points="248.9,143.1 250.3,147.8 245,143.4 243.6,138.6" fill="#4609bf" stroke="#4609bf"/><polygon points="239.8,122.6 241,128.2 235.7,123.4 234.5,117.6" fill="#3f0abe" stroke="#3f0abe"/><polygon points="267.2,172.1 269,175.4 263.7,171.6 262,168.1" fill="#5c09c4" stroke="#5c09c4"/><polygon points="214.4,27.3 215.1,37.2 209.9,30.4 209.1,20.3" fill="#370abc" stroke="#370abc"/><polygon points="315.9,213.5 318.8,214.9 313.5,211.9 310.6,210.4" fill="#e805e1" stroke="#e805e1"/><polygon points="222.1,61.9 223,70.3 217.7,64.2 216.8,55.6" fill="#380abc" stroke="#380abc"/><polygon points="276.2,182.3 278.1,185.2 272.9,181.6 270.9,178.6" fill="#6f08c8" stroke="#6f08c8"/><polygon points="257.1,156.5 258.6,160.6 253.3,156.4 251.8,152.2" fill="#4d09c0" stroke="#4d09c0"/><polygon points="230.1,91.5 231.1,98.5 225.9,93 224.8,85.8" fill="#3a0abc" stroke="#3a0abc"/><polygon points="305.3,207 307.9,208.8 302.6,205.6 300,203.8" fill="#e805e1" stroke="#e805e1"/><polygon points="285.5,191.5 287.6,194 282.3,190.5 280.2,188" fill="#9407cf" stroke="#9407cf"/><polygon points="238.6,116.7 239.8,122.6 234.5,117.6 233.3,111.6" fill="#3e0abd" stroke="#3e0abd"/><polygon points="247.6,138.2 248.9,143.1 243.6,138.6 242.3,133.5" fill="#4309be" stroke="#4309be"/><polygon points="295.2,199.7 297.5,201.8 292.3,198.5 289.9,196.3" fill="#de05df" stroke="#de05df"/><polygon points="213.6,16.8 214.4,27.3 209.1,20.3 208.4,9.6" fill="#370abc" stroke="#370abc"/><polygon points="221.2,53.1 222.1,61.9 216.8,55.6 215.9,46.6" fill="#380abc" stroke="#380abc"/><polygon points="265.5,168.5 267.2,172.1 262,168.1 260.3,164.5" fill="#5709c3" stroke="#5709c3"/><polygon points="229.2,84.1 230.1,91.5 224.8,85.8 223.9,78.2" fill="#390abc" stroke="#390abc"/><polygon points="255.6,152.2 257.1,156.5 251.8,152.2 250.3,147.8" fill="#4909c0" stroke="#4909c0"/><polygon points="237.5,110.5 238.6,116.7 233.3,111.6 232.2,105.2" fill="#3c0abd" stroke="#3c0abd"/><polygon points="212.9,5.9 213.6,16.8 208.4,9.6 207.7,-1.6" fill="#370abc" stroke="#370abc"/><polygon points="246.3,133 247.6,138.2 242.3,133.5 241,128.2" fill="#4109be" stroke="#4109be"/><polygon points="274.3,179.2 276.2,182.3 270.9,178.6 269,175.4" fill="#6608c6" stroke="#6608c6"/><polygon points="313.2,211.9 315.9,213.5 310.6,210.4 307.9,208.8" fill="#e805e1" stroke="#e805e1"/><polygon points="220.4,43.9 221.2,53.1 215.9,46.6 215.1,37.2" fill="#380abc" stroke="#380abc"/><polygon points="283.4,188.9 285.5,191.5 280.2,188 278.1,185.2" fill="#7f08cb" stroke="#7f08cb"/><polygon points="302.8,205.1 305.3,207 300,203.8 297.5,201.8" fill="#e805e1" stroke="#e805e1"/><polygon points="292.9,197.4 295.2,199.7 289.9,196.3 287.6,194" fill="#d106dc" stroke="#d106dc"/><polygon points="228.2,76.3 229.2,84.1 223.9,78.2 223,70.3" fill="#390abc" stroke="#390abc"/><polygon points="263.9,164.8 265.5,168.5 260.3,164.5 258.6,160.6" fill="#5209c2" stroke="#5209c2"/><polygon points="236.4,104 237.5,110.5 232.2,105.2 231.1,98.5" fill="#3b0abd" stroke="#3b0abd"/><polygon points="254.2,147.7 255.6,152.2 250.3,147.8 248.9,143.1" fill="#4709bf" stroke="#4709bf"/><polygon points="245.1,127.6 246.3,133 241,128.2 239.8,122.6" fill="#400abe" stroke="#400abe"/><polygon points="219.7,34.2 220.4,43.9 215.1,37.2 214.4,27.3" fill="#370abc" stroke="#370abc"/><polygon points="272.5,176 274.3,179.2 269,175.4 267.2,172.1" fill="#5f09c4" stroke="#5f09c4"/><polygon points="227.4,68.2 228.2,76.3 223,70.3 222.1,61.9" fill="#380abc" stroke="#380abc"/><polygon points="281.5,186.1 283.4,188.9 278.1,185.2 276.2,182.3" fill="#7308c8" stroke="#7308c8"/><polygon points="235.4,97.2 236.4,104 231.1,98.5 230.1,91.5" fill="#3a0abd" stroke="#3a0abd"/><polygon points="262.4,160.8 263.9,164.8 258.6,160.6 257.1,156.5" fill="#4e09c1" stroke="#4e09c1"/><polygon points="310.6,210.2 313.2,211.9 307.9,208.8 305.3,207" fill="#e805e1" stroke="#e805e1"/><polygon points="243.9,121.9 245.1,127.6 239.8,122.6 238.6,116.7" fill="#3e0abd" stroke="#3e0abd"/><polygon points="252.9,142.9 254.2,147.7 248.9,143.1 247.6,138.2" fill="#4409bf" stroke="#4409bf"/><polygon points="290.8,195 292.9,197.4 287.6,194 285.5,191.5" fill="#a807d4" stroke="#a807d4"/><polygon points="218.9,24.1 219.7,34.2 214.4,27.3 213.6,16.8" fill="#370abc" stroke="#370abc"/><polygon points="300.5,203.1 302.8,205.1 297.5,201.8 295.2,199.7" fill="#e505e0" stroke="#e505e0"/><polygon points="226.5,59.6 227.4,68.2 222.1,61.9 221.2,53.1" fill="#380abc" stroke="#380abc"/><polygon points="270.8,172.6 272.5,176 267.2,172.1 265.5,168.5" fill="#5909c3" stroke="#5909c3"/><polygon points="234.4,90 235.4,97.2 230.1,91.5 229.2,84.1" fill="#390abc" stroke="#390abc"/><polygon points="218.2,13.4 218.9,24.1 213.6,16.8 212.9,5.9" fill="#370abc" stroke="#370abc"/><polygon points="260.9,156.6 262.4,160.8 257.1,156.5 255.6,152.2" fill="#4b09c0" stroke="#4b09c0"/><polygon points="242.8,115.8 243.9,121.9 238.6,116.7 237.5,110.5" fill="#3d0abd" stroke="#3d0abd"/><polygon points="251.6,137.9 252.9,142.9 247.6,138.2 246.3,133" fill="#4209be" stroke="#4209be"/><polygon points="279.6,183.1 281.5,186.1 276.2,182.3 274.3,179.2" fill="#6908c6" stroke="#6908c6"/><polygon points="225.7,50.7 226.5,59.6 221.2,53.1 220.4,43.9" fill="#380abc" stroke="#380abc"/><polygon points="288.7,192.5 290.8,195 285.5,191.5 283.4,188.9" fill="#8408cc" stroke="#8408cc"/><polygon points="308.1,208.4 310.6,210.2 305.3,207 302.8,205.1" fill="#e805e1" stroke="#e805e1"/><polygon points="233.5,82.4 234.4,90 229.2,84.1 228.2,76.3" fill="#390abc" stroke="#390abc"/><polygon points="298.2,200.9 300.5,203.1 295.2,199.7 292.9,197.4" fill="#d605dd" stroke="#d605dd"/><polygon points="269.2,168.9 270.8,172.6 265.5,168.5 263.9,164.8" fill="#5409c2" stroke="#5409c2"/><polygon points="217.6,2.3 218.2,13.4 212.9,5.9 212.3,-5.5" fill="#370abc" stroke="#370abc"/><polygon points="241.7,109.5 242.8,115.8 237.5,110.5 236.4,104" fill="#3c0abd" stroke="#3c0abd"/><polygon points="259.5,152.2 260.9,156.6 255.6,152.2 254.2,147.7" fill="#4809bf" stroke="#4809bf"/><polygon points="250.3,132.6 251.6,137.9 246.3,133 245.1,127.6" fill="#400abe" stroke="#400abe"/><polygon points="224.9,41.2 225.7,50.7 220.4,43.9 219.7,34.2" fill="#380abc" stroke="#380abc"/><polygon points="277.8,179.9 279.6,183.1 274.3,179.2 272.5,176" fill="#6109c5" stroke="#6109c5"/><polygon points="232.6,74.5 233.5,82.4 228.2,76.3 227.4,68.2" fill="#380abc" stroke="#380abc"/><polygon points="240.7,102.8 241.7,109.5 236.4,104 235.4,97.2" fill="#3a0abd" stroke="#3a0abd"/><polygon points="286.8,189.8 288.7,192.5 283.4,188.9 281.5,186.1" fill="#7708c9" stroke="#7708c9"/><polygon points="267.7,165.1 269.2,168.9 263.9,164.8 262.4,160.8" fill="#4f09c1" stroke="#4f09c1"/><polygon points="224.2,31.3 224.9,41.2 219.7,34.2 218.9,24.1" fill="#370abc" stroke="#370abc"/><polygon points="249.2,127 250.3,132.6 245.1,127.6 243.9,121.9" fill="#3f0abd" stroke="#3f0abd"/><polygon points="258.1,147.6 259.5,152.2 254.2,147.7 252.9,142.9" fill="#4509bf" stroke="#4509bf"/><polygon points="296.1,198.6 298.2,200.9 292.9,197.4 290.8,195" fill="#c006d9" stroke="#c006d9"/><polygon points="305.7,206.4 308.1,208.4 302.8,205.1 300.5,203.1" fill="#e805e1" stroke="#e805e1"/><polygon points="231.8,66.1 232.6,74.5 227.4,68.2 226.5,59.6" fill="#380abc" stroke="#380abc"/><polygon points="276.1,176.6 277.8,179.9 272.5,176 270.8,172.6" fill="#5b09c3" stroke="#5b09c3"/><polygon points="239.7,95.8 240.7,102.8 235.4,97.2 234.4,90" fill="#390abc" stroke="#390abc"/><polygon points="223.5,21 224.2,31.3 218.9,24.1 218.2,13.4" fill="#370abc" stroke="#370abc"/><polygon points="248.1,121.1 249.2,127 243.9,121.9 242.8,115.8" fill="#3d0abd" stroke="#3d0abd"/><polygon points="266.2,161 267.7,165.1 262.4,160.8 260.9,156.6" fill="#4c09c0" stroke="#4c09c0"/><polygon points="256.9,142.7 258.1,147.6 252.9,142.9 251.6,137.9" fill="#4309be" stroke="#4309be"/><polygon points="284.9,186.9 286.8,189.8 281.5,186.1 279.6,183.1" fill="#6d08c7" stroke="#6d08c7"/><polygon points="231,57.4 231.8,66.1 226.5,59.6 225.7,50.7" fill="#380abc" stroke="#380abc"/><polygon points="294,196.1 296.1,198.6 290.8,195 288.7,192.5" fill="#8b08cd" stroke="#8b08cd"/><polygon points="238.8,88.5 239.7,95.8 234.4,90 233.5,82.4" fill="#390abc" stroke="#390abc"/><polygon points="222.9,10.1 223.5,21 218.2,13.4 217.6,2.3" fill="#370abc" stroke="#370abc"/><polygon points="303.5,204.4 305.7,206.4 300.5,203.1 298.2,200.9" fill="#db05de" stroke="#db05de"/><polygon points="274.5,173.1 276.1,176.6 270.8,172.6 269.2,168.9" fill="#5509c2" stroke="#5509c2"/><polygon points="247,115 248.1,121.1 242.8,115.8 241.7,109.5" fill="#3c0abd" stroke="#3c0abd"/><polygon points="264.8,156.8 266.2,161 260.9,156.6 259.5,152.2" fill="#4909c0" stroke="#4909c0"/><polygon points="255.6,137.5 256.9,142.7 251.6,137.9 250.3,132.6" fill="#4109be" stroke="#4109be"/><polygon points="230.2,48.2 231,57.4 225.7,50.7 224.9,41.2" fill="#380abc" stroke="#380abc"/><polygon points="283.1,183.9 284.9,186.9 279.6,183.1 277.8,179.9" fill="#6409c5" stroke="#6409c5"/><polygon points="237.9,80.8 238.8,88.5 233.5,82.4 232.6,74.5" fill="#390abc" stroke="#390abc"/><polygon points="222.2,-1.4 222.9,10.1 217.6,2.3 216.9,-9.5" fill="#370abc" stroke="#370abc"/><polygon points="246,108.5 247,115 241.7,109.5 240.7,102.8" fill="#3b0abd" stroke="#3b0abd"/><polygon points="292,193.5 294,196.1 288.7,192.5 286.8,189.8" fill="#7c08ca" stroke="#7c08ca"/><polygon points="272.9,169.4 274.5,173.1 269.2,168.9 267.7,165.1" fill="#5109c1" stroke="#5109c1"/><polygon points="229.5,38.6 230.2,48.2 224.9,41.2 224.2,31.3" fill="#370abc" stroke="#370abc"/><polygon points="254.5,132.1 255.6,137.5 250.3,132.6 249.2,127" fill="#3f0abe" stroke="#3f0abe"/><polygon points="263.4,152.3 264.8,156.8 259.5,152.2 258.1,147.6" fill="#4609bf" stroke="#4609bf"/><polygon points="301.3,202.1 303.5,204.4 298.2,200.9 296.1,198.6" fill="#ce06dc" stroke="#ce06dc"/><polygon points="237.1,72.6 237.9,80.8 232.6,74.5 231.8,66.1" fill="#380abc" stroke="#380abc"/><polygon points="281.4,180.6 283.1,183.9 277.8,179.9 276.1,176.6" fill="#5d09c4" stroke="#5d09c4"/><polygon points="245,101.7 246,108.5 240.7,102.8 239.7,95.8" fill="#3a0abc" stroke="#3a0abc"/><polygon points="228.8,28.5 229.5,38.6 224.2,31.3 223.5,21" fill="#370abc" stroke="#370abc"/><polygon points="253.3,126.4 254.5,132.1 249.2,127 248.1,121.1" fill="#3e0abd" stroke="#3e0abd"/><polygon points="271.5,165.4 272.9,169.4 267.7,165.1 266.2,161" fill="#4d09c1" stroke="#4d09c1"/><polygon points="262.1,147.5 263.4,152.3 258.1,147.6 256.9,142.7" fill="#4409bf" stroke="#4409bf"/><polygon points="236.3,64.1 237.1,72.6 231.8,66.1 231,57.4" fill="#380abc" stroke="#380abc"/><polygon points="290.2,190.7 292,193.5 286.8,189.8 284.9,186.9" fill="#7108c8" stroke="#7108c8"/><polygon points="244.1,94.5 245,101.7 239.7,95.8 238.8,88.5" fill="#390abc" stroke="#390abc"/><polygon points="228.1,17.9 228.8,28.5 223.5,21 222.9,10.1" fill="#370abc" stroke="#370abc"/><polygon points="299.3,199.8 301.3,202.1 296.1,198.6 294,196.1" fill="#9e07d2" stroke="#9e07d2"/><polygon points="279.8,177.2 281.4,180.6 276.1,176.6 274.5,173.1" fill="#5709c3" stroke="#5709c3"/><polygon points="252.3,120.5 253.3,126.4 248.1,121.1 247,115" fill="#3c0abd" stroke="#3c0abd"/><polygon points="235.5,55.2 236.3,64.1 231,57.4 230.2,48.2" fill="#380abc" stroke="#380abc"/><polygon points="270.1,161.3 271.5,165.4 266.2,161 264.8,156.8" fill="#4a09c0" stroke="#4a09c0"/><polygon points="260.9,142.5 262.1,147.5 256.9,142.7 255.6,137.5" fill="#4209be" stroke="#4209be"/><polygon points="243.2,87 244.1,94.5 238.8,88.5 237.9,80.8" fill="#390abc" stroke="#390abc"/><polygon points="227.5,6.7 228.1,17.9 222.9,10.1 222.2,-1.4" fill="#370abc" stroke="#370abc"/><polygon points="288.4,187.8 290.2,190.7 284.9,186.9 283.1,183.9" fill="#6708c6" stroke="#6708c6"/><polygon points="251.3,114.2 252.3,120.5 247,115 246,108.5" fill="#3b0abd" stroke="#3b0abd"/><polygon points="234.8,45.8 235.5,55.2 230.2,48.2 229.5,38.6" fill="#370abc" stroke="#370abc"/><polygon points="278.2,173.6 279.8,177.2 274.5,173.1 272.9,169.4" fill="#5309c2" stroke="#5309c2"/><polygon points="297.3,197.2 299.3,199.8 294,196.1 292,193.5" fill="#8208cc" stroke="#8208cc"/><polygon points="259.7,137.3 260.9,142.5 255.6,137.5 254.5,132.1" fill="#400abe" stroke="#400abe"/><polygon points="268.7,156.9 270.1,161.3 264.8,156.8 263.4,152.3" fill="#4709bf" stroke="#4709bf"/><polygon points="242.4,79.2 243.2,87 237.9,80.8 237.1,72.6" fill="#380abc" stroke="#380abc"/><polygon points="250.3,107.6 251.3,114.2 246,108.5 245,101.7" fill="#3a0abd" stroke="#3a0abd"/><polygon points="234.1,36 234.8,45.8 229.5,38.6 228.8,28.5" fill="#370abc" stroke="#370abc"/><polygon points="286.7,184.7 288.4,187.8 283.1,183.9 281.4,180.6" fill="#6009c4" stroke="#6009c4"/><polygon points="258.6,131.8 259.7,137.3 254.5,132.1 253.3,126.4" fill="#3e0abd" stroke="#3e0abd"/><polygon points="276.7,169.9 278.2,173.6 272.9,169.4 271.5,165.4" fill="#4e09c1" stroke="#4e09c1"/><polygon points="241.6,70.9 242.4,79.2 237.1,72.6 236.3,64.1" fill="#380abc" stroke="#380abc"/><polygon points="267.4,152.3 268.7,156.9 263.4,152.3 262.1,147.5" fill="#4509bf" stroke="#4509bf"/><polygon points="295.5,194.6 297.3,197.2 292,193.5 290.2,190.7" fill="#7508c9" stroke="#7508c9"/><polygon points="233.4,25.6 234.1,36 228.8,28.5 228.1,17.9" fill="#370abc" stroke="#370abc"/><polygon points="249.4,100.6 250.3,107.6 245,101.7 244.1,94.5" fill="#390abc" stroke="#390abc"/><polygon points="285.1,181.4 286.7,184.7 281.4,180.6 279.8,177.2" fill="#5a09c3" stroke="#5a09c3"/><polygon points="257.6,126 258.6,131.8 253.3,126.4 252.3,120.5" fill="#3d0abd" stroke="#3d0abd"/><polygon points="240.8,62.2 241.6,70.9 236.3,64.1 235.5,55.2" fill="#380abc" stroke="#380abc"/><polygon points="266.2,147.5 267.4,152.3 262.1,147.5 260.9,142.5" fill="#4209be" stroke="#4209be"/><polygon points="275.3,165.8 276.7,169.9 271.5,165.4 270.1,161.3" fill="#4b09c0" stroke="#4b09c0"/><polygon points="232.8,14.8 233.4,25.6 228.1,17.9 227.5,6.7" fill="#370abc" stroke="#370abc"/><polygon points="248.5,93.3 249.4,100.6 244.1,94.5 243.2,87" fill="#390abc" stroke="#390abc"/><polygon points="293.7,191.7 295.5,194.6 290.2,190.7 288.4,187.8" fill="#6b08c7" stroke="#6b08c7"/><polygon points="256.6,119.8 257.6,126 252.3,120.5 251.3,114.2" fill="#3c0abd" stroke="#3c0abd"/><polygon points="240.1,53.1 240.8,62.2 235.5,55.2 234.8,45.8" fill="#380abc" stroke="#380abc"/><polygon points="283.5,177.9 285.1,181.4 279.8,177.2 278.2,173.6" fill="#5409c2" stroke="#5409c2"/><polygon points="265,142.4 266.2,147.5 260.9,142.5 259.7,137.3" fill="#410abe" stroke="#410abe"/><polygon points="274,161.6 275.3,165.8 270.1,161.3 268.7,156.9" fill="#4809bf" stroke="#4809bf"/><polygon points="232.2,3.4 232.8,14.8 227.5,6.7 226.9,-5" fill="#370abc" stroke="#370abc"/><polygon points="247.7,85.7 248.5,93.3 243.2,87 242.4,79.2" fill="#380abc" stroke="#380abc"/><polygon points="239.4,43.5 240.1,53.1 234.8,45.8 234.1,36" fill="#370abc" stroke="#370abc"/><polygon points="255.6,113.4 256.6,119.8 251.3,114.2 250.3,107.6" fill="#3b0abd" stroke="#3b0abd"/><polygon points="292,188.7 293.7,191.7 288.4,187.8 286.7,184.7" fill="#6309c5" stroke="#6309c5"/><polygon points="263.9,137.1 265,142.4 259.7,137.3 258.6,131.8" fill="#3f0abe" stroke="#3f0abe"/><polygon points="246.9,77.6 247.7,85.7 242.4,79.2 241.6,70.9" fill="#380abc" stroke="#380abc"/><polygon points="282,174.3 283.5,177.9 278.2,173.6 276.7,169.9" fill="#5009c1" stroke="#5009c1"/><polygon points="272.7,157.2 274,161.6 268.7,156.9 267.4,152.3" fill="#4509bf" stroke="#4509bf"/><polygon points="238.7,33.4 239.4,43.5 234.1,36 233.4,25.6" fill="#370abc" stroke="#370abc"/><polygon points="254.7,106.7 255.6,113.4 250.3,107.6 249.4,100.6" fill="#3a0abc" stroke="#3a0abc"/><polygon points="262.9,131.4 263.9,137.1 258.6,131.8 257.6,126" fill="#3d0abd" stroke="#3d0abd"/><polygon points="246.1,69.2 246.9,77.6 241.6,70.9 240.8,62.2" fill="#380abc" stroke="#380abc"/><polygon points="290.3,185.6 292,188.7 286.7,184.7 285.1,181.4" fill="#5c09c4" stroke="#5c09c4"/><polygon points="271.5,152.5 272.7,157.2 267.4,152.3 266.2,147.5" fill="#4309be" stroke="#4309be"/><polygon points="280.6,170.4 282,174.3 276.7,169.9 275.3,165.8" fill="#4c09c0" stroke="#4c09c0"/><polygon points="238.1,22.9 238.7,33.4 233.4,25.6 232.8,14.8" fill="#370abc" stroke="#370abc"/><polygon points="253.8,99.6 254.7,106.7 249.4,100.6 248.5,93.3" fill="#390abc" stroke="#390abc"/><polygon points="245.4,60.3 246.1,69.2 240.8,62.2 240.1,53.1" fill="#380abc" stroke="#380abc"/><polygon points="261.8,125.5 262.9,131.4 257.6,126 256.6,119.8" fill="#3c0abd" stroke="#3c0abd"/><polygon points="288.8,182.2 290.3,185.6 285.1,181.4 283.5,177.9" fill="#5609c2" stroke="#5609c2"/><polygon points="270.3,147.6 271.5,152.5 266.2,147.5 265,142.4" fill="#4109be" stroke="#4109be"/><polygon points="237.5,11.8 238.1,22.9 232.8,14.8 232.2,3.4" fill="#370abc" stroke="#370abc"/><polygon points="279.3,166.3 280.6,170.4 275.3,165.8 274,161.6" fill="#4909c0" stroke="#4909c0"/><polygon points="252.9,92.2 253.8,99.6 248.5,93.3 247.7,85.7" fill="#390abc" stroke="#390abc"/><polygon points="244.7,51 245.4,60.3 240.1,53.1 239.4,43.5" fill="#370abc" stroke="#370abc"/><polygon points="260.9,119.3 261.8,125.5 256.6,119.8 255.6,113.4" fill="#3b0abd" stroke="#3b0abd"/><polygon points="236.9,0.2 237.5,11.8 232.2,3.4 231.6,-8.5" fill="#370abc" stroke="#370abc"/><polygon points="269.2,142.4 270.3,147.6 265,142.4 263.9,137.1" fill="#400abe" stroke="#400abe"/><polygon points="252.1,84.4 252.9,92.2 247.7,85.7 246.9,77.6" fill="#380abc" stroke="#380abc"/><polygon points="287.3,178.7 288.8,182.2 283.5,177.9 282,174.3" fill="#5209c2" stroke="#5209c2"/><polygon points="278,162 279.3,166.3 274,161.6 272.7,157.2" fill="#4609bf" stroke="#4609bf"/><polygon points="244,41.2 244.7,51 239.4,43.5 238.7,33.4" fill="#370abc" stroke="#370abc"/><polygon points="259.9,112.8 260.9,119.3 255.6,113.4 254.7,106.7" fill="#3a0abd" stroke="#3a0abd"/><polygon points="251.4,76.2 252.1,84.4 246.9,77.6 246.1,69.2" fill="#380abc" stroke="#380abc"/><polygon points="268.1,136.9 269.2,142.4 263.9,137.1 262.9,131.4" fill="#3e0abd" stroke="#3e0abd"/><polygon points="276.8,157.5 278,162 272.7,157.2 271.5,152.5" fill="#4409bf" stroke="#4409bf"/><polygon points="243.4,31 244,41.2 238.7,33.4 238.1,22.9" fill="#370abc" stroke="#370abc"/><polygon points="285.9,174.9 287.3,178.7 282,174.3 280.6,170.4" fill="#4e09c1" stroke="#4e09c1"/><polygon points="259.1,105.9 259.9,112.8 254.7,106.7 253.8,99.6" fill="#390abc" stroke="#390abc"/><polygon points="250.6,67.5 251.4,76.2 246.1,69.2 245.4,60.3" fill="#380abc" stroke="#380abc"/><polygon points="267.1,131.2 268.1,136.9 262.9,131.4 261.8,125.5" fill="#3d0abd" stroke="#3d0abd"/><polygon points="242.8,20.2 243.4,31 238.1,22.9 237.5,11.8" fill="#370abc" stroke="#370abc"/><polygon points="275.6,152.7 276.8,157.5 271.5,152.5 270.3,147.6" fill="#4209be" stroke="#4209be"/><polygon points="258.2,98.7 259.1,105.9 253.8,99.6 252.9,92.2" fill="#390abc" stroke="#390abc"/><polygon points="284.6,171 285.9,174.9 280.6,170.4 279.3,166.3" fill="#4a09c0" stroke="#4a09c0"/><polygon points="249.9,58.5 250.6,67.5 245.4,60.3 244.7,51" fill="#380abc" stroke="#380abc"/><polygon points="266.2,125.2 267.1,131.2 261.8,125.5 260.9,119.3" fill="#3b0abd" stroke="#3b0abd"/><polygon points="242.2,9 242.8,20.2 237.5,11.8 236.9,0.2" fill="#370abc" stroke="#370abc"/><polygon points="257.4,91.1 258.2,98.7 252.9,92.2 252.1,84.4" fill="#380abc" stroke="#380abc"/><polygon points="274.5,147.7 275.6,152.7 270.3,147.6 269.2,142.4" fill="#400abe" stroke="#400abe"/><polygon points="283.3,166.8 284.6,171 279.3,166.3 278,162" fill="#4809bf" stroke="#4809bf"/><polygon points="249.3,49 249.9,58.5 244.7,51 244,41.2" fill="#370abc" stroke="#370abc"/><polygon points="265.2,118.8 266.2,125.2 260.9,119.3 259.9,112.8" fill="#3a0abd" stroke="#3a0abd"/><polygon points="241.6,-2.9 242.2,9 236.9,0.2 236.3,-11.9" fill="#370abc" stroke="#370abc"/><polygon points="256.7,83.1 257.4,91.1 252.1,84.4 251.4,76.2" fill="#380abc" stroke="#380abc"/><polygon points="273.4,142.4 274.5,147.7 269.2,142.4 268.1,136.9" fill="#3f0abd" stroke="#3f0abd"/><polygon points="248.6,39.1 249.3,49 244,41.2 243.4,31" fill="#370abc" stroke="#370abc"/><polygon points="282.1,162.5 283.3,166.8 278,162 276.8,157.5" fill="#4509bf" stroke="#4509bf"/><polygon points="264.3,112.2 265.2,118.8 259.9,112.8 259.1,105.9" fill="#390abc" stroke="#390abc"/><polygon points="255.9,74.8 256.7,83.1 251.4,76.2 250.6,67.5" fill="#380abc" stroke="#380abc"/><polygon points="272.4,136.9 273.4,142.4 268.1,136.9 267.1,131.2" fill="#3d0abd" stroke="#3d0abd"/><polygon points="248,28.6 248.6,39.1 243.4,31 242.8,20.2" fill="#370abc" stroke="#370abc"/><polygon points="280.9,157.9 282.1,162.5 276.8,157.5 275.6,152.7" fill="#4309be" stroke="#4309be"/><polygon points="263.5,105.2 264.3,112.2 259.1,105.9 258.2,98.7" fill="#390abc" stroke="#390abc"/><polygon points="255.2,66 255.9,74.8 250.6,67.5 249.9,58.5" fill="#380abc" stroke="#380abc"/><polygon points="271.4,131 272.4,136.9 267.1,131.2 266.2,125.2" fill="#3c0abd" stroke="#3c0abd"/><polygon points="247.5,17.7 248,28.6 242.8,20.2 242.2,9" fill="#370abc" stroke="#370abc"/><polygon points="262.7,97.8 263.5,105.2 258.2,98.7 257.4,91.1" fill="#390abc" stroke="#390abc"/><polygon points="279.8,153 280.9,157.9 275.6,152.7 274.5,147.7" fill="#4109be" stroke="#4109be"/><polygon points="254.6,56.8 255.2,66 249.9,58.5 249.3,49" fill="#370abc" stroke="#370abc"/><polygon points="270.5,124.9 271.4,131 266.2,125.2 265.2,118.8" fill="#3b0abd" stroke="#3b0abd"/><polygon points="246.9,6.2 247.5,17.7 242.2,9 241.6,-2.9" fill="#370abc" stroke="#370abc"/><polygon points="261.9,90.1 262.7,97.8 257.4,91.1 256.7,83.1" fill="#380abc" stroke="#380abc"/><polygon points="278.7,147.9 279.8,153 274.5,147.7 273.4,142.4" fill="#3f0abe" stroke="#3f0abe"/><polygon points="253.9,47.2 254.6,56.8 249.3,49 248.6,39.1" fill="#370abc" stroke="#370abc"/><polygon points="269.6,118.5 270.5,124.9 265.2,118.8 264.3,112.2" fill="#3a0abc" stroke="#3a0abc"/><polygon points="261.2,82 261.9,90.1 256.7,83.1 255.9,74.8" fill="#380abc" stroke="#380abc"/><polygon points="253.3,37 253.9,47.2 248.6,39.1 248,28.6" fill="#370abc" stroke="#370abc"/><polygon points="277.7,142.5 278.7,147.9 273.4,142.4 272.4,136.9" fill="#3e0abd" stroke="#3e0abd"/><polygon points="268.8,111.7 269.6,118.5 264.3,112.2 263.5,105.2" fill="#390abc" stroke="#390abc"/><polygon points="260.5,73.5 261.2,82 255.9,74.8 255.2,66" fill="#380abc" stroke="#380abc"/><polygon points="252.7,26.4 253.3,37 248,28.6 247.5,17.7" fill="#370abc" stroke="#370abc"/><polygon points="276.7,136.9 277.7,142.5 272.4,136.9 271.4,131" fill="#3d0abd" stroke="#3d0abd"/><polygon points="268,104.6 268.8,111.7 263.5,105.2 262.7,97.8" fill="#390abc" stroke="#390abc"/><polygon points="259.8,64.6 260.5,73.5 255.2,66 254.6,56.8" fill="#370abc" stroke="#370abc"/><polygon points="252.2,15.3 252.7,26.4 247.5,17.7 246.9,6.2" fill="#370abc" stroke="#370abc"/><polygon points="275.8,131 276.7,136.9 271.4,131 270.5,124.9" fill="#3b0abd" stroke="#3b0abd"/><polygon points="267.2,97.1 268,104.6 262.7,97.8 261.9,90.1" fill="#380abc" stroke="#380abc"/><polygon points="259.2,55.3 259.8,64.6 254.6,56.8 253.9,47.2" fill="#370abc" stroke="#370abc"/><polygon points="251.7,3.6 252.2,15.3 246.9,6.2 246.4,-5.8" fill="#370abc" stroke="#370abc"/><polygon points="274.9,124.7 275.8,131 270.5,124.9 269.6,118.5" fill="#3a0abd" stroke="#3a0abd"/><polygon points="266.5,89.3 267.2,97.1 261.9,90.1 261.2,82" fill="#380abc" stroke="#380abc"/><polygon points="258.6,45.5 259.2,55.3 253.9,47.2 253.3,37" fill="#370abc" stroke="#370abc"/><polygon points="274.1,118.2 274.9,124.7 269.6,118.5 268.8,111.7" fill="#390abc" stroke="#390abc"/><polygon points="265.8,81.1 266.5,89.3 261.2,82 260.5,73.5" fill="#380abc" stroke="#380abc"/><polygon points="258,35.2 258.6,45.5 253.3,37 252.7,26.4" fill="#370abc" stroke="#370abc"/><polygon points="273.3,111.3 274.1,118.2 268.8,111.7 268,104.6" fill="#390abc" stroke="#390abc"/><polygon points="265.1,72.4 265.8,81.1 260.5,73.5 259.8,64.6" fill="#380abc" stroke="#380abc"/><polygon points="257.5,24.3 258,35.2 252.7,26.4 252.2,15.3" fill="#370abc" stroke="#370abc"/><polygon points="272.5,104.1 273.3,111.3 268,104.6 267.2,97.1" fill="#390abc" stroke="#390abc"/><polygon points="264.5,63.4 265.1,72.4 259.8,64.6 259.2,55.3" fill="#370abc" stroke="#370abc"/><polygon points="257,13 257.5,24.3 252.2,15.3 251.7,3.6" fill="#370abc" stroke="#370abc"/><polygon points="271.8,96.5 272.5,104.1 267.2,97.1 266.5,89.3" fill="#380abc" stroke="#380abc"/><polygon points="263.9,53.9 264.5,63.4 259.2,55.3 258.6,45.5" fill="#370abc" stroke="#370abc"/><polygon points="256.5,1.1 257,13 251.7,3.6 251.2,-8.7" fill="#360abc" stroke="#360abc"/><polygon points="271.1,88.6 271.8,96.5 266.5,89.3 265.8,81.1" fill="#380abc" stroke="#380abc"/><polygon points="263.3,43.9 263.9,53.9 258.6,45.5 258,35.2" fill="#370abc" stroke="#370abc"/><polygon points="270.4,80.2 271.1,88.6 265.8,81.1 265.1,72.4" fill="#380abc" stroke="#380abc"/><polygon points="262.8,33.4 263.3,43.9 258,35.2 257.5,24.3" fill="#370abc" stroke="#370abc"/><polygon points="269.8,71.5 270.4,80.2 265.1,72.4 264.5,63.4" fill="#370abc" stroke="#370abc"/><polygon points="262.2,22.4 262.8,33.4 257.5,24.3 257,13" fill="#370abc" stroke="#370abc"/><polygon points="269.2,62.3 269.8,71.5 264.5,63.4 263.9,53.9" fill="#370abc" stroke="#370abc"/><polygon points="261.7,10.9 262.2,22.4 257,13 256.5,1.1" fill="#370abc" stroke="#370abc"/><polygon points="268.6,52.6 269.2,62.3 263.9,53.9 263.3,43.9" fill="#370abc" stroke="#370abc"/><polygon points="261.3,-1.2 261.7,10.9 256.5,1.1 256,-11.3" fill="#360abc" stroke="#360abc"/><polygon points="268.1,42.5 268.6,52.6 263.3,43.9 262.8,33.4" fill="#370abc" stroke="#370abc"/><polygon points="267.5,31.9 268.1,42.5 262.8,33.4 262.2,22.4" fill="#370abc" stroke="#370abc"/><polygon points="267,20.7 267.5,31.9 262.2,22.4 261.7,10.9" fill="#370abc" stroke="#370abc"/><polygon points="266.5,9 267,20.7 261.7,10.9 261.3,-1.2" fill="#360abc" stroke="#360abc"/><polygon points="266.1,-3.2 266.5,9 261.3,-1.2 260.8,-13.8" fill="#360abc" stroke="#360abc"/></g><g clip-path="url(#cp)" fill="none" stroke="#c020d8" stroke-width="1.0"><polyline stroke-opacity="0.55" points="266.8,15.5 264.2,10.5 261.5,5.5 258.9,0.6 256.2,-4.4 253.6,-9.4 250.9,-14.4 248.3,-19.4 245.7,-24.4 243,-29.4 240.4,-34.4 237.7,-39.3 235.1,-44.3 232.5,-49.3 229.8,-54.3 227.2,-59.3 224.5,-64.3 221.9,-69.3 219.2,-74.2 216.6,-79.2 214,-84.2 211.3,-89.2 208.7,-94.2 206,-99.2 203.4,-104.2 200.7,-109.2 198.1,-114.1 195.5,-119.1 192.8,-124.1 190.2,-129.1 187.5,-134.1 184.9,-139.1 182.2,-144.1 179.6,-149 177,-154 174.3,-159 171.7,-164 169,-169 166.4,-174 163.7,-179 161.1,-184 158.5,-188.9 155.8,-193.9 153.2,-198.9 150.5,-203.9 147.9,-208.9 145.2,-213.9 142.6,-218.9 140,-223.9 137.3,-228.8 134.7,-233.8 132,-238.8 129.4,-243.8 126.8,-248.8 124.1,-253.8 121.5,-258.8 118.8,-263.7 116.2,-268.7 113.5,-273.7 110.9,-278.7 108.3,-283.7 105.6,-288.7 103,-293.7 100.3,-298.7 97.7,-303.6 95,-308.6 92.4,-313.6 89.8,-318.6 87.1,-323.6 84.5,-328.6 81.8,-333.6 79.2,-338.5 76.5,-343.5 73.9,-348.5 71.3,-353.5 68.6,-358.5 66,-363.5 63.3,-368.5 60.7,-373.5 58,-378.4 55.4,-383.4"/><polyline stroke-opacity="0.55" points="268.3,46.4 265.6,41.9 263,37.4 260.3,32.9 257.7,28.5 255,24 252.4,19.5 249.8,15.1 247.1,10.6 244.5,6.1 241.8,1.7 239.2,-2.8 236.5,-7.3 233.9,-11.7 231.3,-16.2 228.6,-20.7 226,-25.1 223.3,-29.6 220.7,-34.1 218,-38.5 215.4,-43 212.8,-47.5 210.1,-52 207.5,-56.4 204.8,-60.9 202.2,-65.4 199.6,-69.8 196.9,-74.3 194.3,-78.8 191.6,-83.2 189,-87.7 186.3,-92.2 183.7,-96.6 181.1,-101.1 178.4,-105.6 175.8,-110 173.1,-114.5 170.5,-119 167.8,-123.4 165.2,-127.9 162.6,-132.4 159.9,-136.9 157.3,-141.3 154.6,-145.8 152,-150.3 149.3,-154.7 146.7,-159.2 144.1,-163.7 141.4,-168.1 138.8,-172.6 136.1,-177.1 133.5,-181.5 130.8,-186 128.2,-190.5 125.6,-194.9 122.9,-199.4 120.3,-203.9 117.6,-208.3 115,-212.8 112.3,-217.3 109.7,-221.8 107.1,-226.2 104.4,-230.7 101.8,-235.2 99.1,-239.6 96.5,-244.1 93.8,-248.6 91.2,-253 88.6,-257.5 85.9,-262 83.3,-266.4 80.6,-270.9 78,-275.4 75.4,-279.8 72.7,-284.3 70.1,-288.8 67.4,-293.3 64.8,-297.7 62.1,-302.2 59.5,-306.7 56.9,-311.1"/><polyline stroke-opacity="0.55" points="269.7,70.3 267.1,66.2 264.4,62.2 261.8,58.1 259.1,54 256.5,50 253.9,45.9 251.2,41.9 248.6,37.8 245.9,33.7 243.3,29.7 240.6,25.6 238,21.5 235.4,17.5 232.7,13.4 230.1,9.3 227.4,5.3 224.8,1.2 222.1,-2.9 219.5,-6.9 216.9,-11 214.2,-15.1 211.6,-19.1 208.9,-23.2 206.3,-27.2 203.6,-31.3 201,-35.4 198.4,-39.4 195.7,-43.5 193.1,-47.6 190.4,-51.6 187.8,-55.7 185.1,-59.8 182.5,-63.8 179.9,-67.9 177.2,-72 174.6,-76 171.9,-80.1 169.3,-84.2 166.6,-88.2 164,-92.3 161.4,-96.4 158.7,-100.4 156.1,-104.5 153.4,-108.5 150.8,-112.6 148.2,-116.7 145.5,-120.7 142.9,-124.8 140.2,-128.9 137.6,-132.9 134.9,-137 132.3,-141.1 129.7,-145.1 127,-149.2 124.4,-153.3 121.7,-157.3 119.1,-161.4 116.4,-165.5 113.8,-169.5 111.2,-173.6 108.5,-177.6 105.9,-181.7 103.2,-185.8 100.6,-189.8 97.9,-193.9 95.3,-198 92.7,-202 90,-206.1 87.4,-210.2 84.7,-214.2 82.1,-218.3 79.4,-222.4 76.8,-226.4 74.2,-230.5 71.5,-234.6 68.9,-238.6 66.2,-242.7 63.6,-246.8 60.9,-250.8 58.3,-254.9"/><polyline stroke-opacity="0.55" points="271.2,89.4 268.5,85.7 265.9,82 263.2,78.2 260.6,74.5 257.9,70.7 255.3,67 252.7,63.2 250,59.5 247.4,55.8 244.7,52 242.1,48.3 239.4,44.5 236.8,40.8 234.2,37.1 231.5,33.3 228.9,29.6 226.2,25.8 223.6,22.1 220.9,18.3 218.3,14.6 215.7,10.9 213,7.1 210.4,3.4 207.7,-0.4 205.1,-4.1 202.5,-7.9 199.8,-11.6 197.2,-15.3 194.5,-19.1 191.9,-22.8 189.2,-26.6 186.6,-30.3 184,-34 181.3,-37.8 178.7,-41.5 176,-45.3 173.4,-49 170.7,-52.8 168.1,-56.5 165.5,-60.2 162.8,-64 160.2,-67.7 157.5,-71.5 154.9,-75.2 152.2,-78.9 149.6,-82.7 147,-86.4 144.3,-90.2 141.7,-93.9 139,-97.7 136.4,-101.4 133.7,-105.1 131.1,-108.9 128.5,-112.6 125.8,-116.4 123.2,-120.1 120.5,-123.8 117.9,-127.6 115.2,-131.3 112.6,-135.1 110,-138.8 107.3,-142.6 104.7,-146.3 102,-150 99.4,-153.8 96.8,-157.5 94.1,-161.3 91.5,-165 88.8,-168.7 86.2,-172.5 83.5,-176.2 80.9,-180 78.3,-183.7 75.6,-187.5 73,-191.2 70.3,-194.9 67.7,-198.7 65,-202.4 62.4,-206.2 59.8,-209.9"/><polyline stroke-opacity="0.55" points="272.6,105 270,101.6 267.3,98.1 264.7,94.6 262,91.1 259.4,87.7 256.8,84.2 254.1,80.7 251.5,77.2 248.8,73.8 246.2,70.3 243.5,66.8 240.9,63.3 238.3,59.8 235.6,56.4 233,52.9 230.3,49.4 227.7,45.9 225,42.5 222.4,39 219.8,35.5 217.1,32 214.5,28.6 211.8,25.1 209.2,21.6 206.5,18.1 203.9,14.6 201.3,11.2 198.6,7.7 196,4.2 193.3,0.7 190.7,-2.7 188,-6.2 185.4,-9.7 182.8,-13.2 180.1,-16.7 177.5,-20.1 174.8,-23.6 172.2,-27.1 169.5,-30.6 166.9,-34 164.3,-37.5 161.6,-41 159,-44.5 156.3,-47.9 153.7,-51.4 151.1,-54.9 148.4,-58.4 145.8,-61.9 143.1,-65.3 140.5,-68.8 137.8,-72.3 135.2,-75.8 132.6,-79.2 129.9,-82.7 127.3,-86.2 124.6,-89.7 122,-93.1 119.3,-96.6 116.7,-100.1 114.1,-103.6 111.4,-107.1 108.8,-110.5 106.1,-114 103.5,-117.5 100.8,-121 98.2,-124.4 95.6,-127.9 92.9,-131.4 90.3,-134.9 87.6,-138.3 85,-141.8 82.3,-145.3 79.7,-148.8 77.1,-152.3 74.4,-155.7 71.8,-159.2 69.1,-162.7 66.5,-166.2 63.8,-169.6 61.2,-173.1"/><polyline stroke-opacity="0.55" points="274.1,118 271.4,114.8 268.8,111.5 266.1,108.3 263.5,105 260.8,101.7 258.2,98.5 255.6,95.2 252.9,92 250.3,88.7 247.6,85.5 245,82.2 242.3,78.9 239.7,75.7 237.1,72.4 234.4,69.2 231.8,65.9 229.1,62.7 226.5,59.4 223.8,56.1 221.2,52.9 218.6,49.6 215.9,46.4 213.3,43.1 210.6,39.9 208,36.6 205.4,33.4 202.7,30.1 200.1,26.8 197.4,23.6 194.8,20.3 192.1,17.1 189.5,13.8 186.9,10.6 184.2,7.3 181.6,4 178.9,0.8 176.3,-2.5 173.6,-5.7 171,-9 168.4,-12.2 165.7,-15.5 163.1,-18.8 160.4,-22 157.8,-25.3 155.1,-28.5 152.5,-31.8 149.9,-35 147.2,-38.3 144.6,-41.5 141.9,-44.8 139.3,-48.1 136.6,-51.3 134,-54.6 131.4,-57.8 128.7,-61.1 126.1,-64.3 123.4,-67.6 120.8,-70.9 118.1,-74.1 115.5,-77.4 112.9,-80.6 110.2,-83.9 107.6,-87.1 104.9,-90.4 102.3,-93.6 99.7,-96.9 97,-100.2 94.4,-103.4 91.7,-106.7 89.1,-109.9 86.4,-113.2 83.8,-116.4 81.2,-119.7 78.5,-123 75.9,-126.2 73.2,-129.5 70.6,-132.7 67.9,-136 65.3,-139.2 62.7,-142.5"/><polyline stroke-opacity="0.55" points="275.5,129 272.9,125.9 270.2,122.8 267.6,119.8 264.9,116.7 262.3,113.6 259.7,110.5 257,107.5 254.4,104.4 251.7,101.3 249.1,98.3 246.4,95.2 243.8,92.1 241.2,89.1 238.5,86 235.9,82.9 233.2,79.8 230.6,76.8 227.9,73.7 225.3,70.6 222.7,67.6 220,64.5 217.4,61.4 214.7,58.4 212.1,55.3 209.4,52.2 206.8,49.2 204.2,46.1 201.5,43 198.9,39.9 196.2,36.9 193.6,33.8 190.9,30.7 188.3,27.7 185.7,24.6 183,21.5 180.4,18.5 177.7,15.4 175.1,12.3 172.4,9.2 169.8,6.2 167.2,3.1 164.5,0 161.9,-3 159.2,-6.1 156.6,-9.2 154,-12.2 151.3,-15.3 148.7,-18.4 146,-21.5 143.4,-24.5 140.7,-27.6 138.1,-30.7 135.5,-33.7 132.8,-36.8 130.2,-39.9 127.5,-42.9 124.9,-46 122.2,-49.1 119.6,-52.1 117,-55.2 114.3,-58.3 111.7,-61.4 109,-64.4 106.4,-67.5 103.7,-70.6 101.1,-73.6 98.5,-76.7 95.8,-79.8 93.2,-82.8 90.5,-85.9 87.9,-89 85.2,-92.1 82.6,-95.1 80,-98.2 77.3,-101.3 74.7,-104.3 72,-107.4 69.4,-110.5 66.7,-113.5 64.1,-116.6"/><polyline stroke-opacity="0.55" points="277,138.3 274.3,135.4 271.7,132.5 269,129.6 266.4,126.7 263.7,123.8 261.1,120.9 258.5,117.9 255.8,115 253.2,112.1 250.5,109.2 247.9,106.3 245.2,103.4 242.6,100.5 240,97.6 237.3,94.7 234.7,91.8 232,88.8 229.4,85.9 226.7,83 224.1,80.1 221.5,77.2 218.8,74.3 216.2,71.4 213.5,68.5 210.9,65.6 208.3,62.7 205.6,59.8 203,56.8 200.3,53.9 197.7,51 195,48.1 192.4,45.2 189.8,42.3 187.1,39.4 184.5,36.5 181.8,33.6 179.2,30.7 176.5,27.7 173.9,24.8 171.3,21.9 168.6,19 166,16.1 163.3,13.2 160.7,10.3 158,7.4 155.4,4.5 152.8,1.6 150.1,-1.3 147.5,-4.3 144.8,-7.2 142.2,-10.1 139.5,-13 136.9,-15.9 134.3,-18.8 131.6,-21.7 129,-24.6 126.3,-27.5 123.7,-30.4 121,-33.4 118.4,-36.3 115.8,-39.2 113.1,-42.1 110.5,-45 107.8,-47.9 105.2,-50.8 102.6,-53.7 99.9,-56.6 97.3,-59.5 94.6,-62.4 92,-65.4 89.3,-68.3 86.7,-71.2 84.1,-74.1 81.4,-77 78.8,-79.9 76.1,-82.8 73.5,-85.7 70.8,-88.6 68.2,-91.5 65.6,-94.4"/><polyline stroke-opacity="0.55" points="278.4,146.4 275.8,143.6 273.1,140.8 270.5,138.1 267.8,135.3 265.2,132.5 262.6,129.8 259.9,127 257.3,124.2 254.6,121.4 252,118.7 249.3,115.9 246.7,113.1 244.1,110.4 241.4,107.6 238.8,104.8 236.1,102 233.5,99.3 230.8,96.5 228.2,93.7 225.6,91 222.9,88.2 220.3,85.4 217.6,82.7 215,79.9 212.3,77.1 209.7,74.3 207.1,71.6 204.4,68.8 201.8,66 199.1,63.3 196.5,60.5 193.8,57.7 191.2,54.9 188.6,52.2 185.9,49.4 183.3,46.6 180.6,43.9 178,41.1 175.4,38.3 172.7,35.6 170.1,32.8 167.4,30 164.8,27.2 162.1,24.5 159.5,21.7 156.9,18.9 154.2,16.2 151.6,13.4 148.9,10.6 146.3,7.8 143.6,5.1 141,2.3 138.4,-0.5 135.7,-3.2 133.1,-6 130.4,-8.8 127.8,-11.5 125.1,-14.3 122.5,-17.1 119.9,-19.9 117.2,-22.6 114.6,-25.4 111.9,-28.2 109.3,-30.9 106.6,-33.7 104,-36.5 101.4,-39.3 98.7,-42 96.1,-44.8 93.4,-47.6 90.8,-50.3 88.1,-53.1 85.5,-55.9 82.9,-58.6 80.2,-61.4 77.6,-64.2 74.9,-67 72.3,-69.7 69.7,-72.5 67,-75.3"/><polyline stroke-opacity="0.55" points="279.9,153.4 277.2,150.8 274.6,148.1 271.9,145.5 269.3,142.8 266.6,140.2 264,137.5 261.4,134.9 258.7,132.2 256.1,129.6 253.4,126.9 250.8,124.3 248.1,121.6 245.5,119 242.9,116.3 240.2,113.7 237.6,111 234.9,108.4 232.3,105.7 229.7,103.1 227,100.4 224.4,97.8 221.7,95.1 219.1,92.5 216.4,89.8 213.8,87.2 211.2,84.5 208.5,81.9 205.9,79.2 203.2,76.6 200.6,73.9 197.9,71.3 195.3,68.6 192.7,66 190,63.3 187.4,60.7 184.7,58 182.1,55.4 179.4,52.7 176.8,50.1 174.2,47.4 171.5,44.8 168.9,42.1 166.2,39.5 163.6,36.8 160.9,34.2 158.3,31.5 155.7,28.9 153,26.2 150.4,23.6 147.7,21 145.1,18.3 142.4,15.7 139.8,13 137.2,10.4 134.5,7.7 131.9,5.1 129.2,2.4 126.6,-0.2 124,-2.9 121.3,-5.5 118.7,-8.2 116,-10.8 113.4,-13.5 110.7,-16.1 108.1,-18.8 105.5,-21.4 102.8,-24.1 100.2,-26.7 97.5,-29.4 94.9,-32 92.2,-34.7 89.6,-37.3 87,-40 84.3,-42.6 81.7,-45.3 79,-47.9 76.4,-50.6 73.7,-53.2 71.1,-55.9 68.5,-58.5"/><polyline stroke-opacity="0.41" points="281.3,159.6 278.7,157 276,154.5 273.4,152 270.7,149.4 268.1,146.9 265.5,144.3"/><polyline stroke-opacity="0.55" points="265.5,144.3 262.8,141.8 260.2,139.2 257.5,136.7 254.9,134.2 252.2,131.6 249.6,129.1 247,126.5 244.3,124 241.7,121.4 239,118.9 236.4,116.4 233.7,113.8 231.1,111.3 228.5,108.7 225.8,106.2 223.2,103.7 220.5,101.1 217.9,98.6 215.2,96 212.6,93.5 210,90.9 207.3,88.4 204.7,85.9 202,83.3 199.4,80.8 196.7,78.2 194.1,75.7 191.5,73.2 188.8,70.6 186.2,68.1 183.5,65.5 180.9,63 178.3,60.4 175.6,57.9 173,55.4 170.3,52.8 167.7,50.3 165,47.7 162.4,45.2 159.8,42.7 157.1,40.1 154.5,37.6 151.8,35 149.2,32.5 146.5,29.9 143.9,27.4 141.3,24.9 138.6,22.3 136,19.8 133.3,17.2 130.7,14.7 128,12.2 125.4,9.6 122.8,7.1 120.1,4.5 117.5,2 114.8,-0.6 112.2,-3.1 109.5,-5.6 106.9,-8.2 104.3,-10.7 101.6,-13.3 99,-15.8 96.3,-18.3 93.7,-20.9 91,-23.4 88.4,-26 85.8,-28.5 83.1,-31.1 80.5,-33.6 77.8,-36.1 75.2,-38.7 72.6,-41.2 69.9,-43.8"/><polyline stroke-opacity="0.28" points="282.8,165 280.1,162.6"/><polyline stroke-opacity="0.41" points="280.1,162.6 277.5,160.1 274.8,157.7 272.2,155.2 269.5,152.8 266.9,150.4 264.3,147.9 261.6,145.5 259,143 256.3,140.6 253.7,138.1 251,135.7"/><polyline stroke-opacity="0.55" points="251,135.7 248.4,133.2 245.8,130.8 243.1,128.3 240.5,125.9 237.8,123.4 235.2,121 232.6,118.6 229.9,116.1 227.3,113.7 224.6,111.2 222,108.8 219.3,106.3 216.7,103.9 214.1,101.4 211.4,99 208.8,96.5 206.1,94.1 203.5,91.6 200.8,89.2 198.2,86.7 195.6,84.3 192.9,81.9 190.3,79.4 187.6,77 185,74.5 182.3,72.1 179.7,69.6 177.1,67.2 174.4,64.7 171.8,62.3 169.1,59.8 166.5,57.4 163.8,54.9 161.2,52.5 158.6,50.1 155.9,47.6 153.3,45.2 150.6,42.7 148,40.3 145.3,37.8 142.7,35.4 140.1,32.9 137.4,30.5 134.8,28 132.1,25.6 129.5,23.1 126.9,20.7 124.2,18.3 121.6,15.8 118.9,13.4 116.3,10.9 113.6,8.5 111,6 108.4,3.6 105.7,1.1 103.1,-1.3 100.4,-3.8 97.8,-6.2 95.1,-8.7 92.5,-11.1 89.9,-13.6 87.2,-16 84.6,-18.4 81.9,-20.9 79.3,-23.3 76.6,-25.8 74,-28.2 71.4,-30.7"/><polyline stroke-opacity="0.28" points="284.2,169.9 281.6,167.5 278.9,165.2 276.3,162.8 273.6,160.4 271,158.1 268.4,155.7"/><polyline stroke-opacity="0.41" points="268.4,155.7 265.7,153.4 263.1,151 260.4,148.6 257.8,146.3 255.1,143.9 252.5,141.6 249.9,139.2 247.2,136.8 244.6,134.5 241.9,132.1 239.3,129.8 236.6,127.4 234,125"/><polyline stroke-opacity="0.55" points="234,125 231.4,122.7 228.7,120.3 226.1,117.9 223.4,115.6 220.8,113.2 218.1,110.9 215.5,108.5 212.9,106.1 210.2,103.8 207.6,101.4 204.9,99.1 202.3,96.7 199.6,94.3 197,92 194.4,89.6 191.7,87.3 189.1,84.9 186.4,82.5 183.8,80.2 181.2,77.8 178.5,75.4 175.9,73.1 173.2,70.7 170.6,68.4 167.9,66 165.3,63.6 162.7,61.3 160,58.9 157.4,56.6 154.7,54.2 152.1,51.8 149.4,49.5 146.8,47.1 144.2,44.8 141.5,42.4 138.9,40 136.2,37.7 133.6,35.3 130.9,33 128.3,30.6 125.7,28.2 123,25.9 120.4,23.5 117.7,21.1 115.1,18.8 112.4,16.4 109.8,14.1 107.2,11.7 104.5,9.3 101.9,7 99.2,4.6 96.6,2.3 93.9,-0.1 91.3,-2.5 88.7,-4.8 86,-7.2 83.4,-9.5 80.7,-11.9 78.1,-14.3 75.5,-16.6 72.8,-19"/><polyline stroke-opacity="0.28" points="285.7,174.2 283,172 280.4,169.7 277.7,167.4 275.1,165.1 272.4,162.8 269.8,160.5 267.2,158.2 264.5,156 261.9,153.7 259.2,151.4 256.6,149.1 253.9,146.8"/><polyline stroke-opacity="0.41" points="253.9,146.8 251.3,144.5 248.7,142.3 246,140 243.4,137.7 240.7,135.4 238.1,133.1 235.5,130.8 232.8,128.6 230.2,126.3 227.5,124 224.9,121.7 222.2,119.4 219.6,117.1 217,114.8"/><polyline stroke-opacity="0.55" points="217,114.8 214.3,112.6 211.7,110.3 209,108 206.4,105.7 203.7,103.4 201.1,101.1 198.5,98.9 195.8,96.6 193.2,94.3 190.5,92 187.9,89.7 185.2,87.4 182.6,85.2 180,82.9 177.3,80.6 174.7,78.3 172,76 169.4,73.7 166.7,71.4 164.1,69.2 161.5,66.9 158.8,64.6 156.2,62.3 153.5,60 150.9,57.7 148.2,55.5 145.6,53.2 143,50.9 140.3,48.6 137.7,46.3 135,44 132.4,41.8 129.8,39.5 127.1,37.2 124.5,34.9 121.8,32.6 119.2,30.3 116.5,28 113.9,25.8 111.3,23.5 108.6,21.2 106,18.9 103.3,16.6 100.7,14.3 98,12.1 95.4,9.8 92.8,7.5 90.1,5.2 87.5,2.9 84.8,0.6 82.2,-1.6 79.5,-3.9 76.9,-6.2 74.3,-8.5"/><polyline stroke-opacity="0.14" points="287.1,178.1 284.5,175.9 281.8,173.7 279.2,171.5 276.5,169.3"/><polyline stroke-opacity="0.28" points="276.5,169.3 273.9,167.1 271.3,164.9 268.6,162.6 266,160.4 263.3,158.2 260.7,156 258,153.8 255.4,151.6 252.8,149.4 250.1,147.1 247.5,144.9 244.8,142.7 242.2,140.5 239.5,138.3"/><polyline stroke-opacity="0.41" points="239.5,138.3 236.9,136.1 234.3,133.9 231.6,131.6 229,129.4 226.3,127.2 223.7,125 221,122.8 218.4,120.6 215.8,118.3 213.1,116.1 210.5,113.9 207.8,111.7 205.2,109.5 202.6,107.3 199.9,105.1"/><polyline stroke-opacity="0.55" points="199.9,105.1 197.3,102.8 194.6,100.6 192,98.4 189.3,96.2 186.7,94 184.1,91.8 181.4,89.6 178.8,87.3 176.1,85.1 173.5,82.9 170.8,80.7 168.2,78.5 165.6,76.3 162.9,74.1 160.3,71.8 157.6,69.6 155,67.4 152.3,65.2 149.7,63 147.1,60.8 144.4,58.6 141.8,56.3 139.1,54.1 136.5,51.9 133.8,49.7 131.2,47.5 128.6,45.3 125.9,43.1 123.3,40.8 120.6,38.6 118,36.4 115.3,34.2 112.7,32 110.1,29.8 107.4,27.5 104.8,25.3 102.1,23.1 99.5,20.9 96.9,18.7 94.2,16.5 91.6,14.3 88.9,12 86.3,9.8 83.6,7.6 81,5.4 78.4,3.2 75.7,1"/><polyline stroke-opacity="0.14" points="288.6,181.7 285.9,179.5 283.3,177.4 280.6,175.2 278,173.1 275.3,170.9 272.7,168.8 270.1,166.6 267.4,164.5 264.8,162.3"/><polyline stroke-opacity="0.28" points="264.8,162.3 262.1,160.2 259.5,158 256.9,155.9 254.2,153.7 251.6,151.6 248.9,149.4 246.3,147.3 243.6,145.1 241,142.9 238.4,140.8 235.7,138.6 233.1,136.5 230.4,134.3 227.8,132.2 225.1,130 222.5,127.9"/><polyline stroke-opacity="0.41" points="222.5,127.9 219.9,125.7 217.2,123.6 214.6,121.4 211.9,119.3 209.3,117.1 206.6,115 204,112.8 201.4,110.7 198.7,108.5 196.1,106.4 193.4,104.2 190.8,102.1 188.1,99.9 185.5,97.8 182.9,95.6 180.2,93.5"/><polyline stroke-opacity="0.55" points="180.2,93.5 177.6,91.3 174.9,89.2 172.3,87 169.6,84.9 167,82.7 164.4,80.6 161.7,78.4 159.1,76.3 156.4,74.1 153.8,71.9 151.2,69.8 148.5,67.6 145.9,65.5 143.2,63.3 140.6,61.2 137.9,59 135.3,56.9 132.7,54.7 130,52.6 127.4,50.4 124.7,48.3 122.1,46.1 119.4,44 116.8,41.8 114.2,39.7 111.5,37.5 108.9,35.4 106.2,33.2 103.6,31.1 100.9,28.9 98.3,26.8 95.7,24.6 93,22.5 90.4,20.3 87.7,18.2 85.1,16 82.4,13.9 79.8,11.7 77.2,9.6"/><polyline stroke-opacity="0.14" points="290,184.9 287.4,182.8 284.7,180.7 282.1,178.6 279.4,176.5 276.8,174.4 274.2,172.3 271.5,170.2 268.9,168.1 266.2,166 263.6,163.9 260.9,161.8 258.3,159.7 255.7,157.7 253,155.6"/><polyline stroke-opacity="0.28" points="253,155.6 250.4,153.5 247.7,151.4 245.1,149.3 242.4,147.2 239.8,145.1 237.2,143 234.5,140.9 231.9,138.8 229.2,136.7 226.6,134.6 223.9,132.5 221.3,130.4 218.7,128.3 216,126.2 213.4,124.2 210.7,122.1 208.1,120 205.5,117.9"/><polyline stroke-opacity="0.41" points="205.5,117.9 202.8,115.8 200.2,113.7 197.5,111.6 194.9,109.5 192.2,107.4 189.6,105.3 187,103.2 184.3,101.1 181.7,99 179,96.9 176.4,94.8 173.7,92.7 171.1,90.7 168.5,88.6 165.8,86.5 163.2,84.4 160.5,82.3"/><polyline stroke-opacity="0.55" points="160.5,82.3 157.9,80.2 155.2,78.1 152.6,76 150,73.9 147.3,71.8 144.7,69.7 142,67.6 139.4,65.5 136.7,63.4 134.1,61.3 131.5,59.3 128.8,57.2 126.2,55.1 123.5,53 120.9,50.9 118.2,48.8 115.6,46.7 113,44.6 110.3,42.5 107.7,40.4 105,38.3 102.4,36.2 99.8,34.1 97.1,32 94.5,29.9 91.8,27.8 89.2,25.8 86.5,23.7 83.9,21.6 81.3,19.5 78.6,17.4"/><polyline stroke-opacity="0.14" points="286.2,183.7 283.5,181.7 280.9,179.6 278.2,177.6 275.6,175.5 273,173.5 270.3,171.5 267.7,169.4 265,167.4 262.4,165.3 259.8,163.3 257.1,161.3 254.5,159.2 251.8,157.2 249.2,155.1 246.5,153.1 243.9,151 241.3,149 238.6,147"/><polyline stroke-opacity="0.28" points="238.6,147 236,144.9 233.3,142.9 230.7,140.8 228,138.8 225.4,136.8 222.8,134.7 220.1,132.7 217.5,130.6 214.8,128.6 212.2,126.6 209.5,124.5 206.9,122.5 204.3,120.4 201.6,118.4 199,116.4 196.3,114.3 193.7,112.3 191,110.2"/><polyline stroke-opacity="0.41" points="191,110.2 188.4,108.2 185.8,106.2 183.1,104.1 180.5,102.1 177.8,100 175.2,98 172.5,95.9 169.9,93.9 167.3,91.9 164.6,89.8 162,87.8 159.3,85.7 156.7,83.7 154.1,81.7 151.4,79.6 148.8,77.6 146.1,75.5 143.5,73.5 140.8,71.5"/><polyline stroke-opacity="0.55" points="140.8,71.5 138.2,69.4 135.6,67.4 132.9,65.3 130.3,63.3 127.6,61.3 125,59.2 122.3,57.2 119.7,55.1 117.1,53.1 114.4,51.1 111.8,49 109.1,47 106.5,44.9 103.8,42.9 101.2,40.8 98.6,38.8 95.9,36.8 93.3,34.7 90.6,32.7 88,30.6 85.3,28.6 82.7,26.6 80.1,24.5"/><polyline stroke-opacity="0.14" points="277.1,178.5 274.4,176.5 271.8,174.5 269.1,172.5 266.5,170.5 263.8,168.5 261.2,166.5 258.6,164.5 255.9,162.6 253.3,160.6 250.6,158.6 248,156.6 245.3,154.6 242.7,152.6 240.1,150.6 237.4,148.6 234.8,146.6 232.1,144.6 229.5,142.6 226.8,140.6"/><polyline stroke-opacity="0.28" points="226.8,140.6 224.2,138.6 221.6,136.7 218.9,134.7 216.3,132.7 213.6,130.7 211,128.7 208.4,126.7 205.7,124.7 203.1,122.7 200.4,120.7 197.8,118.7 195.1,116.7 192.5,114.7 189.9,112.8 187.2,110.8 184.6,108.8 181.9,106.8 179.3,104.8 176.6,102.8 174,100.8 171.4,98.8"/><polyline stroke-opacity="0.41" points="171.4,98.8 168.7,96.8 166.1,94.8 163.4,92.8 160.8,90.8 158.1,88.8 155.5,86.9 152.9,84.9 150.2,82.9 147.6,80.9 144.9,78.9 142.3,76.9 139.6,74.9 137,72.9 134.4,70.9 131.7,68.9 129.1,66.9 126.4,64.9 123.8,62.9 121.1,61 118.5,59"/><polyline stroke-opacity="0.55" points="118.5,59 115.9,57 113.2,55 110.6,53 107.9,51 105.3,49 102.7,47 100,45 97.4,43 94.7,41 92.1,39 89.4,37.1 86.8,35.1 84.2,33.1 81.5,31.1"/><polyline stroke-opacity="0.14" points="265.3,171.5 262.7,169.5 260,167.6 257.4,165.6 254.7,163.7 252.1,161.7 249.4,159.8 246.8,157.8 244.2,155.9 241.5,153.9 238.9,152 236.2,150 233.6,148.1 230.9,146.1 228.3,144.2 225.7,142.2 223,140.3 220.4,138.4 217.7,136.4 215.1,134.5 212.4,132.5"/><polyline stroke-opacity="0.28" points="212.4,132.5 209.8,130.6 207.2,128.6 204.5,126.7 201.9,124.7 199.2,122.8 196.6,120.8 193.9,118.9 191.3,116.9 188.7,115 186,113 183.4,111.1 180.7,109.1 178.1,107.2 175.4,105.3 172.8,103.3 170.2,101.4 167.5,99.4 164.9,97.5 162.2,95.5 159.6,93.6 157,91.6 154.3,89.7"/><polyline stroke-opacity="0.41" points="154.3,89.7 151.7,87.7 149,85.8 146.4,83.8 143.7,81.9 141.1,79.9 138.5,78 135.8,76 133.2,74.1 130.5,72.2 127.9,70.2 125.2,68.3 122.6,66.3 120,64.4 117.3,62.4 114.7,60.5 112,58.5 109.4,56.6 106.7,54.6 104.1,52.7 101.5,50.7 98.8,48.8"/><polyline stroke-opacity="0.55" points="98.8,48.8 96.2,46.8 93.5,44.9 90.9,42.9 88.2,41 85.6,39.1 83,37.1"/><polyline stroke-opacity="0.14" points="256.2,166.5 253.5,164.6 250.9,162.7 248.2,160.8 245.6,158.9 243,157 240.3,155.1 237.7,153.2 235,151.3 232.4,149.4 229.8,147.5 227.1,145.6 224.5,143.7 221.8,141.8 219.2,139.8 216.5,137.9 213.9,136 211.3,134.1 208.6,132.2 206,130.3 203.3,128.4 200.7,126.5 198,124.6 195.4,122.7"/><polyline stroke-opacity="0.28" points="195.4,122.7 192.8,120.8 190.1,118.9 187.5,117 184.8,115.1 182.2,113.2 179.5,111.3 176.9,109.4 174.3,107.5 171.6,105.6 169,103.6 166.3,101.7 163.7,99.8 161,97.9 158.4,96 155.8,94.1 153.1,92.2 150.5,90.3 147.8,88.4 145.2,86.5 142.5,84.6 139.9,82.7 137.3,80.8 134.6,78.9"/><polyline stroke-opacity="0.41" points="134.6,78.9 132,77 129.3,75.1 126.7,73.2 124.1,71.3 121.4,69.3 118.8,67.4 116.1,65.5 113.5,63.6 110.8,61.7 108.2,59.8 105.6,57.9 102.9,56 100.3,54.1 97.6,52.2 95,50.3 92.3,48.4 89.7,46.5 87.1,44.6 84.4,42.7"/><polyline stroke-opacity="0.14" points="244.4,159.8 241.8,158 239.1,156.1 236.5,154.2 233.8,152.4 231.2,150.5 228.6,148.6 225.9,146.8 223.3,144.9 220.6,143 218,141.2 215.3,139.3 212.7,137.4 210.1,135.6 207.4,133.7 204.8,131.8 202.1,130 199.5,128.1 196.8,126.2 194.2,124.4 191.6,122.5 188.9,120.6 186.3,118.8 183.6,116.9 181,115"/><polyline stroke-opacity="0.28" points="181,115 178.4,113.2 175.7,111.3 173.1,109.4 170.4,107.6 167.8,105.7 165.1,103.8 162.5,102 159.9,100.1 157.2,98.2 154.6,96.4 151.9,94.5 149.3,92.6 146.6,90.8 144,88.9 141.4,87 138.7,85.2 136.1,83.3 133.4,81.4 130.8,79.6 128.1,77.7 125.5,75.8 122.9,74 120.2,72.1 117.6,70.2"/><polyline stroke-opacity="0.41" points="117.6,70.2 114.9,68.4 112.3,66.5 109.6,64.6 107,62.8 104.4,60.9 101.7,59 99.1,57.2 96.4,55.3 93.8,53.4 91.1,51.6 88.5,49.7 85.9,47.8"/><polyline stroke-opacity="0.14" points="232.7,153.3 230,151.5 227.4,149.6 224.7,147.8 222.1,146 219.4,144.1 216.8,142.3 214.2,140.5 211.5,138.6 208.9,136.8 206.2,135 203.6,133.1 200.9,131.3 198.3,129.5 195.7,127.7 193,125.8 190.4,124 187.7,122.2 185.1,120.3 182.4,118.5 179.8,116.7 177.2,114.8 174.5,113 171.9,111.2 169.2,109.3 166.6,107.5"/><polyline stroke-opacity="0.28" points="166.6,107.5 163.9,105.7 161.3,103.9 158.7,102 156,100.2 153.4,98.4 150.7,96.5 148.1,94.7 145.4,92.9 142.8,91 140.2,89.2 137.5,87.4 134.9,85.5 132.2,83.7 129.6,81.9 127,80.1 124.3,78.2 121.7,76.4 119,74.6 116.4,72.7 113.7,70.9 111.1,69.1 108.5,67.2 105.8,65.4 103.2,63.6 100.5,61.7 97.9,59.9 95.2,58.1"/><polyline stroke-opacity="0.41" points="95.2,58.1 92.6,56.3 90,54.4 87.3,52.6"/><polyline stroke-opacity="0.14" points="220.9,146.9 218.2,145.1 215.6,143.3 213,141.5 210.3,139.7 207.7,137.9 205,136.1 202.4,134.3 199.7,132.5 197.1,130.7 194.5,128.9 191.8,127.1 189.2,125.3 186.5,123.5 183.9,121.7 181.3,119.9 178.6,118.1 176,116.3 173.3,114.5 170.7,112.7 168,110.9 165.4,109.2 162.8,107.4 160.1,105.6 157.5,103.8 154.8,102 152.2,100.2 149.5,98.4"/><polyline stroke-opacity="0.28" points="149.5,98.4 146.9,96.6 144.3,94.8 141.6,93 139,91.2 136.3,89.4 133.7,87.6 131,85.8 128.4,84 125.8,82.2 123.1,80.4 120.5,78.6 117.8,76.8 115.2,75 112.5,73.2 109.9,71.4 107.3,69.6 104.6,67.8 102,66 99.3,64.2 96.7,62.4 94,60.6 91.4,58.8 88.8,57"/><polyline stroke-opacity="0.14" points="209.1,140.6 206.5,138.9 203.8,137.1 201.2,135.3 198.6,133.6 195.9,131.8 193.3,130 190.6,128.3 188,126.5 185.3,124.7 182.7,123 180.1,121.2 177.4,119.4 174.8,117.7 172.1,115.9 169.5,114.1 166.8,112.4 164.2,110.6 161.6,108.8 158.9,107.1 156.3,105.3 153.6,103.5 151,101.8 148.3,100 145.7,98.3 143.1,96.5 140.4,94.7 137.8,93 135.1,91.2 132.5,89.4"/><polyline stroke-opacity="0.28" points="132.5,89.4 129.9,87.7 127.2,85.9 124.6,84.1 121.9,82.4 119.3,80.6 116.6,78.8 114,77.1 111.4,75.3 108.7,73.5 106.1,71.8 103.4,70 100.8,68.2 98.1,66.5 95.5,64.7 92.9,62.9 90.2,61.2"/><polyline stroke-opacity="0.14" points="194.7,132.7 192.1,131 189.4,129.3 186.8,127.5 184.2,125.8 181.5,124.1 178.9,122.3 176.2,120.6 173.6,118.9 170.9,117.1 168.3,115.4 165.7,113.6 163,111.9 160.4,110.2 157.7,108.4 155.1,106.7 152.4,105 149.8,103.2 147.2,101.5 144.5,99.8 141.9,98 139.2,96.3 136.6,94.5 133.9,92.8 131.3,91.1 128.7,89.3 126,87.6 123.4,85.9 120.7,84.1 118.1,82.4 115.4,80.7"/><polyline stroke-opacity="0.28" points="115.4,80.7 112.8,78.9 110.2,77.2 107.5,75.4 104.9,73.7 102.2,72 99.6,70.2 96.9,68.5 94.3,66.8 91.7,65"/><polyline stroke-opacity="0.14" points="183,126.7 180.3,125 177.7,123.3 175,121.6 172.4,119.9 169.7,118.2 167.1,116.5 164.5,114.8 161.8,113.1 159.2,111.4 156.5,109.7 153.9,107.9 151.3,106.2 148.6,104.5 146,102.8 143.3,101.1 140.7,99.4 138,97.7 135.4,96 132.8,94.3 130.1,92.6 127.5,90.9 124.8,89.1 122.2,87.4 119.5,85.7 116.9,84 114.3,82.3 111.6,80.6 109,78.9 106.3,77.2 103.7,75.5 101,73.8 98.4,72.1 95.8,70.4"/><polyline stroke-opacity="0.28" points="95.8,70.4 93.1,68.6"/><polyline stroke-opacity="0.14" points="168.6,119.1 165.9,117.5 163.3,115.8 160.6,114.1 158,112.4 155.3,110.7 152.7,109 150.1,107.4 147.4,105.7 144.8,104 142.1,102.3 139.5,100.6 136.8,98.9 134.2,97.3 131.6,95.6 128.9,93.9 126.3,92.2 123.6,90.5 121,88.9 118.3,87.2 115.7,85.5 113.1,83.8 110.4,82.1 107.8,80.4 105.1,78.8 102.5,77.1 99.9,75.4 97.2,73.7 94.6,72"/><polyline stroke-opacity="0.14" points="154.2,111.7 151.5,110 148.9,108.4 146.2,106.7 143.6,105 140.9,103.4 138.3,101.7 135.7,100.1 133,98.4 130.4,96.8 127.7,95.1 125.1,93.4 122.4,91.8 119.8,90.1 117.2,88.5 114.5,86.8 111.9,85.2 109.2,83.5 106.6,81.8 103.9,80.2 101.3,78.5 98.7,76.9 96,75.2"/><polyline stroke-opacity="0.14" points="139.7,104.3 137.1,102.7 134.5,101.1 131.8,99.4 129.2,97.8 126.5,96.2 123.9,94.5 121.2,92.9 118.6,91.3 116,89.6 113.3,88 110.7,86.4 108,84.7 105.4,83.1 102.8,81.5 100.1,79.8 97.5,78.2"/><polyline stroke-opacity="0.14" points="125.3,97.1 122.7,95.5 120.1,93.9 117.4,92.3 114.8,90.7 112.1,89.1 109.5,87.5 106.8,85.8 104.2,84.2 101.6,82.6 98.9,81"/><polyline stroke-opacity="0.14" points="110.9,90 108.3,88.4 105.7,86.8 103,85.2 100.4,83.6"/></g><g stroke="#7d7d7d" stroke-width="1" fill="none"><line x1="45.5" y1="201.6" x2="45.5" y2="58"/><line x1="45.2" y1="201.6" x2="256.6" y2="267.3"/><line x1="256.6" y1="267.3" x2="531.1" y2="217.2"/><line x1="45.2" y1="201.6" x2="38.9" y2="199.6"/><line x1="45.2" y1="172.9" x2="38.9" y2="170.9"/><line x1="45.2" y1="144.1" x2="38.9" y2="142.1"/><line x1="45.2" y1="115.4" x2="38.9" y2="113.4"/><line x1="45.2" y1="86.7" x2="38.9" y2="84.7"/><line x1="45.2" y1="58" x2="38.9" y2="56"/><line x1="256.6" y1="267.3" x2="249.4" y2="269.2"/><line x1="203.8" y1="250.9" x2="196.6" y2="252.8"/><line x1="150.9" y1="234.4" x2="143.7" y2="236.3"/><line x1="98.1" y1="218" x2="90.9" y2="219.9"/><line x1="45.2" y1="201.6" x2="38" y2="203.5"/><line x1="256.6" y1="267.3" x2="263.1" y2="269.5"/><line x1="308.4" y1="257.9" x2="314.9" y2="260.1"/><line x1="360.2" y1="248.4" x2="366.7" y2="250.6"/><line x1="412" y1="239" x2="418.5" y2="241.2"/><line x1="463.8" y1="229.5" x2="470.3" y2="231.7"/><line x1="515.6" y1="220.1" x2="522.1" y2="222.2"/></g><g fill="#000" stroke="#000" stroke-width="0.6"><text transform="matrix(0.3660 0 0 0.3280 28.64 59.79)" font-family="'Liberation Sans', Arial, Helvetica, sans-serif" font-size="40">1</text>
<text transform="matrix(0.3660 0 0 0.3280 17.15 88.59)" font-family="'Liberation Sans', Arial, Helvetica, sans-serif" font-size="40">0.8</text>
<text transform="matrix(0.3660 0 0 0.3280 17.20 117.24)" font-family="'Liberation Sans', Arial, Helvetica, sans-serif" font-size="40">0.6</text>
<text transform="matrix(0.3660 0 0 0.3280 17.05 146.09)" font-family="'Liberation Sans', Arial, Helvetica, sans-serif" font-size="40">0.4</text>
<text transform="matrix(0.3660 0 0 0.3280 17.09 174.94)" font-family="'Liberation Sans', Arial, Helvetica, sans-serif" font-size="40">0.2</text>
<text transform="matrix(0.3660 0 0 0.3280 29.14 203.79)" font-family="'Liberation Sans', Arial, Helvetica, sans-serif" font-size="40">0</text>
<text transform="matrix(0.3660 0 0 0.3280 12.74 215.09)" font-family="'Liberation Sans', Arial, Helvetica, sans-serif" font-size="40">700</text>
<text transform="matrix(0.3660 0 0 0.3280 65.64 231.69)" font-family="'Liberation Sans', Arial, Helvetica, sans-serif" font-size="40">600</text>
<text transform="matrix(0.3660 0 0 0.3280 118.24 247.89)" font-family="'Liberation Sans', Arial, Helvetica, sans-serif" font-size="40">500</text>
<text transform="matrix(0.3660 0 0 0.3280 170.97 264.69)" font-family="'Liberation Sans', Arial, Helvetica, sans-serif" font-size="40">400</text>
<text transform="matrix(0.3660 0 0 0.3280 223.64 280.89)" font-family="'Liberation Sans', Arial, Helvetica, sans-serif" font-size="40">300</text>
<text transform="matrix(0.3660 0 0 0.3280 263.94 282.09)" font-family="'Liberation Sans', Arial, Helvetica, sans-serif" font-size="40">0</text>
<text transform="matrix(0.3660 0 0 0.3280 316.14 272.59)" font-family="'Liberation Sans', Arial, Helvetica, sans-serif" font-size="40">1</text>
<text transform="matrix(0.3660 0 0 0.3280 367.97 263.34)" font-family="'Liberation Sans', Arial, Helvetica, sans-serif" font-size="40">2</text>
<text transform="matrix(0.3660 0 0 0.3280 419.62 253.74)" font-family="'Liberation Sans', Arial, Helvetica, sans-serif" font-size="40">3</text>
<text transform="matrix(0.3660 0 0 0.3280 471.67 243.89)" font-family="'Liberation Sans', Arial, Helvetica, sans-serif" font-size="40">4</text>
<text transform="matrix(0.3660 0 0 0.3280 523.97 234.79)" font-family="'Liberation Sans', Arial, Helvetica, sans-serif" font-size="40">5</text>
<text transform="matrix(0.3700 0 0 0.3500 42.90 46.63)" font-family="'Liberation Sans', Arial, Helvetica, sans-serif" font-size="40">×</text>
<text transform="matrix(0.3660 0 0 0.3280 55.38 44.84)" font-family="'Liberation Sans', Arial, Helvetica, sans-serif" font-size="40">10</text>
<text transform="matrix(0.2365 0 0 0.2150 70.99 37.46)" font-family="'Liberation Sans', Arial, Helvetica, sans-serif" font-size="40">-9</text>
<text transform="matrix(0.3700 0 0 0.3500 512.25 275.43)" font-family="'Liberation Sans', Arial, Helvetica, sans-serif" font-size="40">×</text>
<text transform="matrix(0.3660 0 0 0.3280 523.58 273.79)" font-family="'Liberation Sans', Arial, Helvetica, sans-serif" font-size="40">10</text>
<text transform="matrix(0.2365 0 0 0.2150 540.40 266.01)" font-family="'Liberation Sans', Arial, Helvetica, sans-serif" font-size="40">4</text>
<text transform="matrix(0.3583 0 0 0.3237 113.83 290.61)" font-family="'Liberation Sans', Arial, Helvetica, sans-serif" font-size="40" stroke-width="1.1">(MPa)</text>
<text transform="matrix(0.3732 0 0 0.3079 403.18 294.34)" font-family="'Liberation Sans', Arial, Helvetica, sans-serif" font-size="40" stroke-width="1.1">(s)</text>
<text transform="matrix(0 -0.3350 0.3240 0 12.91 158.92)" font-family="'Liberation Serif', 'Times New Roman', serif" font-size="40">Strain rate</text>
<text transform="matrix(0.3350 0 0 0.3240 78.30 291.11)" font-family="'Liberation Serif', 'Times New Roman', serif" font-size="40">Stress</text>
<text transform="matrix(0.3350 0 0 0.3240 373.75 294.06)" font-family="'Liberation Serif', 'Times New Roman', serif" font-size="40">Time</text></g></svg></body></html>
